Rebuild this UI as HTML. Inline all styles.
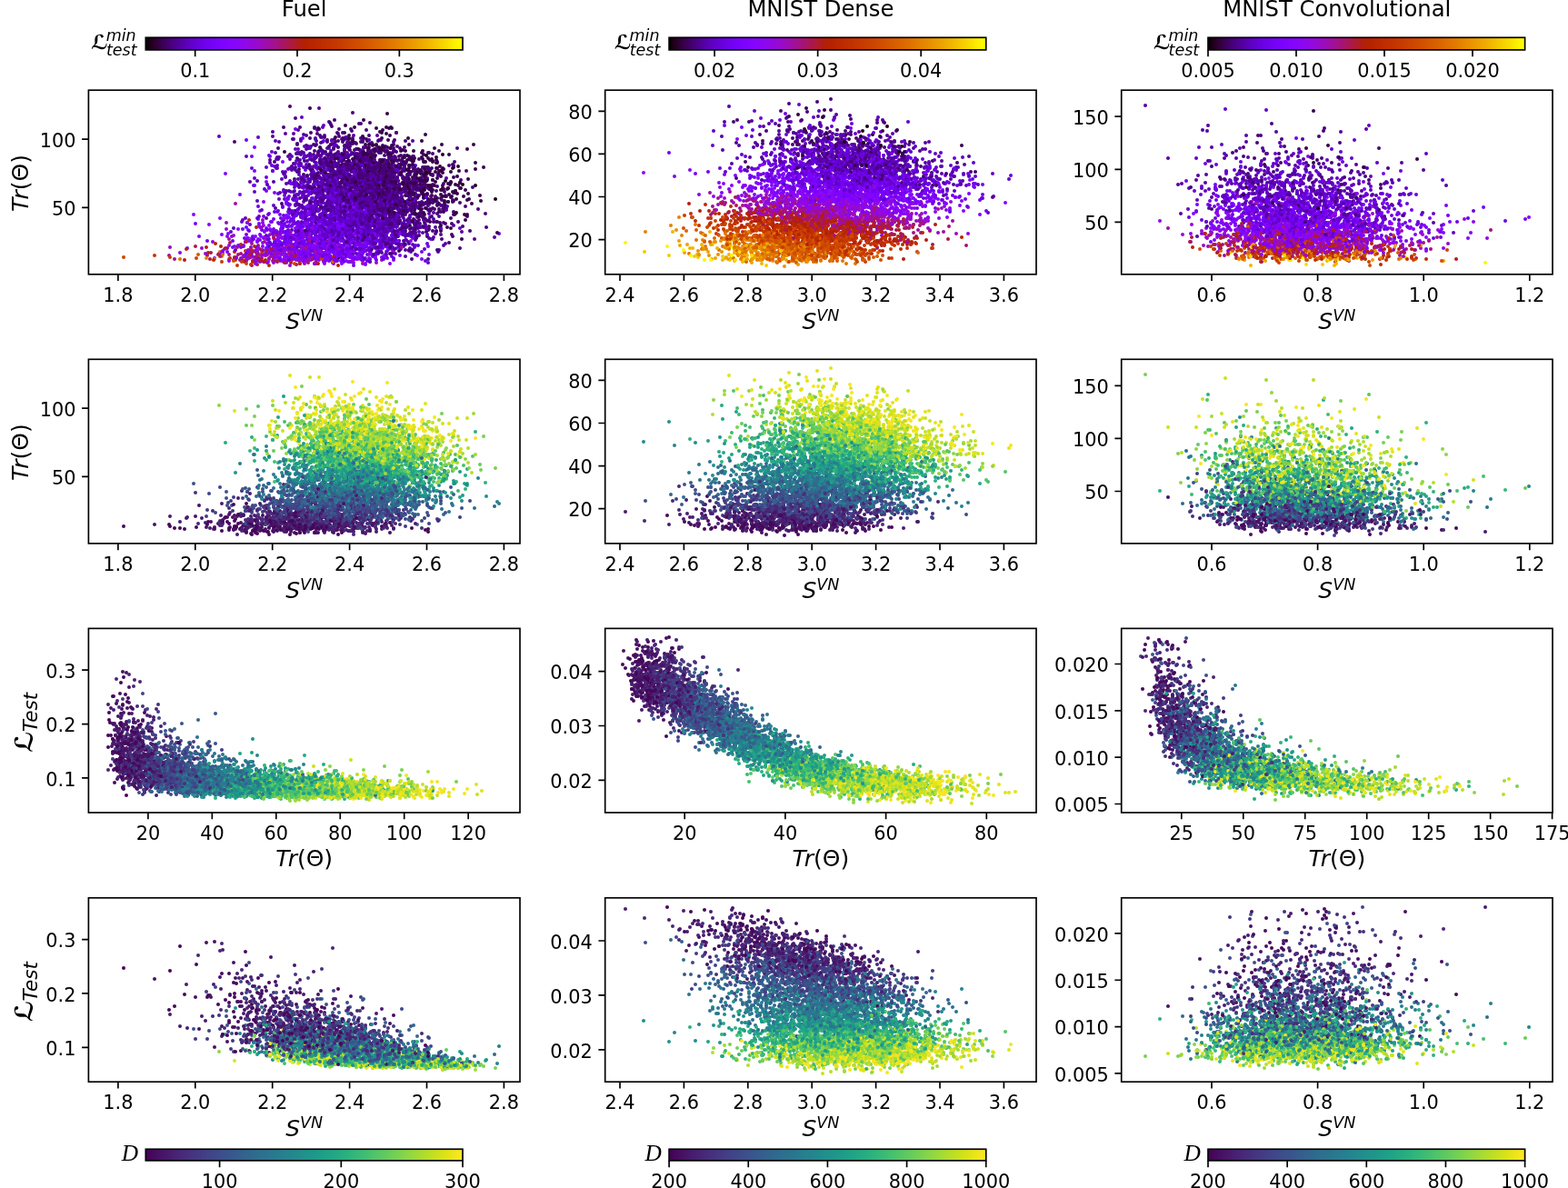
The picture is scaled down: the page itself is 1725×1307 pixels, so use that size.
<!DOCTYPE html><html><head><meta charset="utf-8"><title>Scatter grid</title><style>html,body{margin:0;padding:0;background:#fff;width:1725px;height:1307px;overflow:hidden}svg{display:block}</style></head><body><svg width="1725" height="1307" viewBox="0 0 1725 1307">
<style>text{font-family:"DejaVu Sans","Liberation Sans",sans-serif;fill:#000}path{fill:none;stroke:none}.ax rect{stroke:#000;stroke-width:1.67;fill:none}.cb rect{stroke:#000;stroke-width:1.67}.a0{marker:url(#a0)}.b0{marker:url(#b0)}.a1{marker:url(#a1)}.b1{marker:url(#b1)}.a2{marker:url(#a2)}.b2{marker:url(#b2)}.a3{marker:url(#a3)}.b3{marker:url(#b3)}.a4{marker:url(#a4)}.b4{marker:url(#b4)}.a5{marker:url(#a5)}.b5{marker:url(#b5)}.a6{marker:url(#a6)}.b6{marker:url(#b6)}.a7{marker:url(#a7)}.b7{marker:url(#b7)}.a8{marker:url(#a8)}.b8{marker:url(#b8)}.a9{marker:url(#a9)}.b9{marker:url(#b9)}.a10{marker:url(#a10)}.b10{marker:url(#b10)}.a11{marker:url(#a11)}.b11{marker:url(#b11)}.a12{marker:url(#a12)}.b12{marker:url(#b12)}.a13{marker:url(#a13)}.b13{marker:url(#b13)}.a14{marker:url(#a14)}.b14{marker:url(#b14)}.a15{marker:url(#a15)}.b15{marker:url(#b15)}.a16{marker:url(#a16)}.b16{marker:url(#b16)}.a17{marker:url(#a17)}.b17{marker:url(#b17)}.a18{marker:url(#a18)}.b18{marker:url(#b18)}.a19{marker:url(#a19)}.b19{marker:url(#b19)}.a20{marker:url(#a20)}.b20{marker:url(#b20)}.a21{marker:url(#a21)}.b21{marker:url(#b21)}.a22{marker:url(#a22)}.b22{marker:url(#b22)}.a23{marker:url(#a23)}.b23{marker:url(#b23)}.a24{marker:url(#a24)}.b24{marker:url(#b24)}.a25{marker:url(#a25)}.b25{marker:url(#b25)}.a26{marker:url(#a26)}.b26{marker:url(#b26)}.a27{marker:url(#a27)}.b27{marker:url(#b27)}.a28{marker:url(#a28)}.b28{marker:url(#b28)}.a29{marker:url(#a29)}.b29{marker:url(#b29)}.a30{marker:url(#a30)}.b30{marker:url(#b30)}.a31{marker:url(#a31)}.b31{marker:url(#b31)}</style>
<defs><marker id="a0" markerUnits="userSpaceOnUse" markerWidth="5" markerHeight="5" refX="2.5" refY="2.5" overflow="visible"><circle cx="2.5" cy="2.5" r="2.00" fill="#200019"/></marker><marker id="b0" markerUnits="userSpaceOnUse" markerWidth="5" markerHeight="5" refX="2.5" refY="2.5" overflow="visible"><circle cx="2.5" cy="2.5" r="2.00" fill="#46075a"/></marker><marker id="a1" markerUnits="userSpaceOnUse" markerWidth="5" markerHeight="5" refX="2.5" refY="2.5" overflow="visible"><circle cx="2.5" cy="2.5" r="2.00" fill="#37004a"/></marker><marker id="b1" markerUnits="userSpaceOnUse" markerWidth="5" markerHeight="5" refX="2.5" refY="2.5" overflow="visible"><circle cx="2.5" cy="2.5" r="2.00" fill="#471365"/></marker><marker id="a2" markerUnits="userSpaceOnUse" markerWidth="5" markerHeight="5" refX="2.5" refY="2.5" overflow="visible"><circle cx="2.5" cy="2.5" r="2.00" fill="#470079"/></marker><marker id="b2" markerUnits="userSpaceOnUse" markerWidth="5" markerHeight="5" refX="2.5" refY="2.5" overflow="visible"><circle cx="2.5" cy="2.5" r="2.00" fill="#481d6f"/></marker><marker id="a3" markerUnits="userSpaceOnUse" markerWidth="5" markerHeight="5" refX="2.5" refY="2.5" overflow="visible"><circle cx="2.5" cy="2.5" r="2.00" fill="#5400a2"/></marker><marker id="b3" markerUnits="userSpaceOnUse" markerWidth="5" markerHeight="5" refX="2.5" refY="2.5" overflow="visible"><circle cx="2.5" cy="2.5" r="2.00" fill="#482878"/></marker><marker id="a4" markerUnits="userSpaceOnUse" markerWidth="5" markerHeight="5" refX="2.5" refY="2.5" overflow="visible"><circle cx="2.5" cy="2.5" r="2.00" fill="#6001c6"/></marker><marker id="b4" markerUnits="userSpaceOnUse" markerWidth="5" markerHeight="5" refX="2.5" refY="2.5" overflow="visible"><circle cx="2.5" cy="2.5" r="2.00" fill="#46327e"/></marker><marker id="a5" markerUnits="userSpaceOnUse" markerWidth="5" markerHeight="5" refX="2.5" refY="2.5" overflow="visible"><circle cx="2.5" cy="2.5" r="2.00" fill="#6a01e1"/></marker><marker id="b5" markerUnits="userSpaceOnUse" markerWidth="5" markerHeight="5" refX="2.5" refY="2.5" overflow="visible"><circle cx="2.5" cy="2.5" r="2.00" fill="#443b84"/></marker><marker id="a6" markerUnits="userSpaceOnUse" markerWidth="5" markerHeight="5" refX="2.5" refY="2.5" overflow="visible"><circle cx="2.5" cy="2.5" r="2.00" fill="#7302f4"/></marker><marker id="b6" markerUnits="userSpaceOnUse" markerWidth="5" markerHeight="5" refX="2.5" refY="2.5" overflow="visible"><circle cx="2.5" cy="2.5" r="2.00" fill="#404588"/></marker><marker id="a7" markerUnits="userSpaceOnUse" markerWidth="5" markerHeight="5" refX="2.5" refY="2.5" overflow="visible"><circle cx="2.5" cy="2.5" r="2.00" fill="#7c03fe"/></marker><marker id="b7" markerUnits="userSpaceOnUse" markerWidth="5" markerHeight="5" refX="2.5" refY="2.5" overflow="visible"><circle cx="2.5" cy="2.5" r="2.00" fill="#3d4e8a"/></marker><marker id="a8" markerUnits="userSpaceOnUse" markerWidth="5" markerHeight="5" refX="2.5" refY="2.5" overflow="visible"><circle cx="2.5" cy="2.5" r="2.00" fill="#8405fe"/></marker><marker id="b8" markerUnits="userSpaceOnUse" markerWidth="5" markerHeight="5" refX="2.5" refY="2.5" overflow="visible"><circle cx="2.5" cy="2.5" r="2.00" fill="#39568c"/></marker><marker id="a9" markerUnits="userSpaceOnUse" markerWidth="5" markerHeight="5" refX="2.5" refY="2.5" overflow="visible"><circle cx="2.5" cy="2.5" r="2.00" fill="#8b07f3"/></marker><marker id="b9" markerUnits="userSpaceOnUse" markerWidth="5" markerHeight="5" refX="2.5" refY="2.5" overflow="visible"><circle cx="2.5" cy="2.5" r="2.00" fill="#355f8d"/></marker><marker id="a10" markerUnits="userSpaceOnUse" markerWidth="5" markerHeight="5" refX="2.5" refY="2.5" overflow="visible"><circle cx="2.5" cy="2.5" r="2.00" fill="#9209e0"/></marker><marker id="b10" markerUnits="userSpaceOnUse" markerWidth="5" markerHeight="5" refX="2.5" refY="2.5" overflow="visible"><circle cx="2.5" cy="2.5" r="2.00" fill="#31678e"/></marker><marker id="a11" markerUnits="userSpaceOnUse" markerWidth="5" markerHeight="5" refX="2.5" refY="2.5" overflow="visible"><circle cx="2.5" cy="2.5" r="2.00" fill="#990cc4"/></marker><marker id="b11" markerUnits="userSpaceOnUse" markerWidth="5" markerHeight="5" refX="2.5" refY="2.5" overflow="visible"><circle cx="2.5" cy="2.5" r="2.00" fill="#2e6f8e"/></marker><marker id="a12" markerUnits="userSpaceOnUse" markerWidth="5" markerHeight="5" refX="2.5" refY="2.5" overflow="visible"><circle cx="2.5" cy="2.5" r="2.00" fill="#a00fa0"/></marker><marker id="b12" markerUnits="userSpaceOnUse" markerWidth="5" markerHeight="5" refX="2.5" refY="2.5" overflow="visible"><circle cx="2.5" cy="2.5" r="2.00" fill="#2a768e"/></marker><marker id="a13" markerUnits="userSpaceOnUse" markerWidth="5" markerHeight="5" refX="2.5" refY="2.5" overflow="visible"><circle cx="2.5" cy="2.5" r="2.00" fill="#a61376"/></marker><marker id="b13" markerUnits="userSpaceOnUse" markerWidth="5" markerHeight="5" refX="2.5" refY="2.5" overflow="visible"><circle cx="2.5" cy="2.5" r="2.00" fill="#277e8e"/></marker><marker id="a14" markerUnits="userSpaceOnUse" markerWidth="5" markerHeight="5" refX="2.5" refY="2.5" overflow="visible"><circle cx="2.5" cy="2.5" r="2.00" fill="#ac1847"/></marker><marker id="b14" markerUnits="userSpaceOnUse" markerWidth="5" markerHeight="5" refX="2.5" refY="2.5" overflow="visible"><circle cx="2.5" cy="2.5" r="2.00" fill="#25858e"/></marker><marker id="a15" markerUnits="userSpaceOnUse" markerWidth="5" markerHeight="5" refX="2.5" refY="2.5" overflow="visible"><circle cx="2.5" cy="2.5" r="2.00" fill="#b21d16"/></marker><marker id="b15" markerUnits="userSpaceOnUse" markerWidth="5" markerHeight="5" refX="2.5" refY="2.5" overflow="visible"><circle cx="2.5" cy="2.5" r="2.00" fill="#228d8d"/></marker><marker id="a16" markerUnits="userSpaceOnUse" markerWidth="5" markerHeight="5" refX="2.5" refY="2.5" overflow="visible"><circle cx="2.5" cy="2.5" r="2.00" fill="#b72300"/></marker><marker id="b16" markerUnits="userSpaceOnUse" markerWidth="5" markerHeight="5" refX="2.5" refY="2.5" overflow="visible"><circle cx="2.5" cy="2.5" r="2.00" fill="#1f948c"/></marker><marker id="a17" markerUnits="userSpaceOnUse" markerWidth="5" markerHeight="5" refX="2.5" refY="2.5" overflow="visible"><circle cx="2.5" cy="2.5" r="2.00" fill="#bd2a00"/></marker><marker id="b17" markerUnits="userSpaceOnUse" markerWidth="5" markerHeight="5" refX="2.5" refY="2.5" overflow="visible"><circle cx="2.5" cy="2.5" r="2.00" fill="#1e9c89"/></marker><marker id="a18" markerUnits="userSpaceOnUse" markerWidth="5" markerHeight="5" refX="2.5" refY="2.5" overflow="visible"><circle cx="2.5" cy="2.5" r="2.00" fill="#c23200"/></marker><marker id="b18" markerUnits="userSpaceOnUse" markerWidth="5" markerHeight="5" refX="2.5" refY="2.5" overflow="visible"><circle cx="2.5" cy="2.5" r="2.00" fill="#20a386"/></marker><marker id="a19" markerUnits="userSpaceOnUse" markerWidth="5" markerHeight="5" refX="2.5" refY="2.5" overflow="visible"><circle cx="2.5" cy="2.5" r="2.00" fill="#c73a00"/></marker><marker id="b19" markerUnits="userSpaceOnUse" markerWidth="5" markerHeight="5" refX="2.5" refY="2.5" overflow="visible"><circle cx="2.5" cy="2.5" r="2.00" fill="#25ab82"/></marker><marker id="a20" markerUnits="userSpaceOnUse" markerWidth="5" markerHeight="5" refX="2.5" refY="2.5" overflow="visible"><circle cx="2.5" cy="2.5" r="2.00" fill="#cc4400"/></marker><marker id="b20" markerUnits="userSpaceOnUse" markerWidth="5" markerHeight="5" refX="2.5" refY="2.5" overflow="visible"><circle cx="2.5" cy="2.5" r="2.00" fill="#2db27d"/></marker><marker id="a21" markerUnits="userSpaceOnUse" markerWidth="5" markerHeight="5" refX="2.5" refY="2.5" overflow="visible"><circle cx="2.5" cy="2.5" r="2.00" fill="#d14e00"/></marker><marker id="b21" markerUnits="userSpaceOnUse" markerWidth="5" markerHeight="5" refX="2.5" refY="2.5" overflow="visible"><circle cx="2.5" cy="2.5" r="2.00" fill="#38b977"/></marker><marker id="a22" markerUnits="userSpaceOnUse" markerWidth="5" markerHeight="5" refX="2.5" refY="2.5" overflow="visible"><circle cx="2.5" cy="2.5" r="2.00" fill="#d65a00"/></marker><marker id="b22" markerUnits="userSpaceOnUse" markerWidth="5" markerHeight="5" refX="2.5" refY="2.5" overflow="visible"><circle cx="2.5" cy="2.5" r="2.00" fill="#46c06f"/></marker><marker id="a23" markerUnits="userSpaceOnUse" markerWidth="5" markerHeight="5" refX="2.5" refY="2.5" overflow="visible"><circle cx="2.5" cy="2.5" r="2.00" fill="#db6600"/></marker><marker id="b23" markerUnits="userSpaceOnUse" markerWidth="5" markerHeight="5" refX="2.5" refY="2.5" overflow="visible"><circle cx="2.5" cy="2.5" r="2.00" fill="#56c667"/></marker><marker id="a24" markerUnits="userSpaceOnUse" markerWidth="5" markerHeight="5" refX="2.5" refY="2.5" overflow="visible"><circle cx="2.5" cy="2.5" r="2.00" fill="#e07400"/></marker><marker id="b24" markerUnits="userSpaceOnUse" markerWidth="5" markerHeight="5" refX="2.5" refY="2.5" overflow="visible"><circle cx="2.5" cy="2.5" r="2.00" fill="#67cc5c"/></marker><marker id="a25" markerUnits="userSpaceOnUse" markerWidth="5" markerHeight="5" refX="2.5" refY="2.5" overflow="visible"><circle cx="2.5" cy="2.5" r="2.00" fill="#e48300"/></marker><marker id="b25" markerUnits="userSpaceOnUse" markerWidth="5" markerHeight="5" refX="2.5" refY="2.5" overflow="visible"><circle cx="2.5" cy="2.5" r="2.00" fill="#7ad151"/></marker><marker id="a26" markerUnits="userSpaceOnUse" markerWidth="5" markerHeight="5" refX="2.5" refY="2.5" overflow="visible"><circle cx="2.5" cy="2.5" r="2.00" fill="#e99300"/></marker><marker id="b26" markerUnits="userSpaceOnUse" markerWidth="5" markerHeight="5" refX="2.5" refY="2.5" overflow="visible"><circle cx="2.5" cy="2.5" r="2.00" fill="#8ed645"/></marker><marker id="a27" markerUnits="userSpaceOnUse" markerWidth="5" markerHeight="5" refX="2.5" refY="2.5" overflow="visible"><circle cx="2.5" cy="2.5" r="2.00" fill="#eda400"/></marker><marker id="b27" markerUnits="userSpaceOnUse" markerWidth="5" markerHeight="5" refX="2.5" refY="2.5" overflow="visible"><circle cx="2.5" cy="2.5" r="2.00" fill="#a2da37"/></marker><marker id="a28" markerUnits="userSpaceOnUse" markerWidth="5" markerHeight="5" refX="2.5" refY="2.5" overflow="visible"><circle cx="2.5" cy="2.5" r="2.00" fill="#f1b600"/></marker><marker id="b28" markerUnits="userSpaceOnUse" markerWidth="5" markerHeight="5" refX="2.5" refY="2.5" overflow="visible"><circle cx="2.5" cy="2.5" r="2.00" fill="#b8de29"/></marker><marker id="a29" markerUnits="userSpaceOnUse" markerWidth="5" markerHeight="5" refX="2.5" refY="2.5" overflow="visible"><circle cx="2.5" cy="2.5" r="2.00" fill="#f5ca00"/></marker><marker id="b29" markerUnits="userSpaceOnUse" markerWidth="5" markerHeight="5" refX="2.5" refY="2.5" overflow="visible"><circle cx="2.5" cy="2.5" r="2.00" fill="#cde11d"/></marker><marker id="a30" markerUnits="userSpaceOnUse" markerWidth="5" markerHeight="5" refX="2.5" refY="2.5" overflow="visible"><circle cx="2.5" cy="2.5" r="2.00" fill="#f9df00"/></marker><marker id="b30" markerUnits="userSpaceOnUse" markerWidth="5" markerHeight="5" refX="2.5" refY="2.5" overflow="visible"><circle cx="2.5" cy="2.5" r="2.00" fill="#e2e418"/></marker><marker id="a31" markerUnits="userSpaceOnUse" markerWidth="5" markerHeight="5" refX="2.5" refY="2.5" overflow="visible"><circle cx="2.5" cy="2.5" r="2.00" fill="#fdf600"/></marker><marker id="b31" markerUnits="userSpaceOnUse" markerWidth="5" markerHeight="5" refX="2.5" refY="2.5" overflow="visible"><circle cx="2.5" cy="2.5" r="2.00" fill="#f6e620"/></marker><linearGradient id="gg"><stop offset="0.0000" stop-color="#000000"/><stop offset="0.0156" stop-color="#200019"/><stop offset="0.0312" stop-color="#2d0032"/><stop offset="0.0469" stop-color="#37004a"/><stop offset="0.0625" stop-color="#400062"/><stop offset="0.0781" stop-color="#470079"/><stop offset="0.0938" stop-color="#4e008e"/><stop offset="0.1094" stop-color="#5400a2"/><stop offset="0.1250" stop-color="#5a01b5"/><stop offset="0.1406" stop-color="#6001c6"/><stop offset="0.1562" stop-color="#6501d5"/><stop offset="0.1719" stop-color="#6a01e1"/><stop offset="0.1875" stop-color="#6f02ec"/><stop offset="0.2031" stop-color="#7302f4"/><stop offset="0.2188" stop-color="#7703fa"/><stop offset="0.2344" stop-color="#7c03fe"/><stop offset="0.2500" stop-color="#8004ff"/><stop offset="0.2656" stop-color="#8405fe"/><stop offset="0.2812" stop-color="#8706fa"/><stop offset="0.2969" stop-color="#8b07f3"/><stop offset="0.3125" stop-color="#8f08eb"/><stop offset="0.3281" stop-color="#9209e0"/><stop offset="0.3438" stop-color="#960ad3"/><stop offset="0.3594" stop-color="#990cc4"/><stop offset="0.3750" stop-color="#9c0eb3"/><stop offset="0.3906" stop-color="#a00fa0"/><stop offset="0.4062" stop-color="#a3118c"/><stop offset="0.4219" stop-color="#a61376"/><stop offset="0.4375" stop-color="#a9165f"/><stop offset="0.4531" stop-color="#ac1847"/><stop offset="0.4688" stop-color="#af1b2f"/><stop offset="0.4844" stop-color="#b21d16"/><stop offset="0.5000" stop-color="#b52000"/><stop offset="0.5156" stop-color="#b72300"/><stop offset="0.5312" stop-color="#ba2700"/><stop offset="0.5469" stop-color="#bd2a00"/><stop offset="0.5625" stop-color="#c02e00"/><stop offset="0.5781" stop-color="#c23200"/><stop offset="0.5938" stop-color="#c53600"/><stop offset="0.6094" stop-color="#c73a00"/><stop offset="0.6250" stop-color="#ca3f00"/><stop offset="0.6406" stop-color="#cc4400"/><stop offset="0.6562" stop-color="#cf4900"/><stop offset="0.6719" stop-color="#d14e00"/><stop offset="0.6875" stop-color="#d45400"/><stop offset="0.7031" stop-color="#d65a00"/><stop offset="0.7188" stop-color="#d96000"/><stop offset="0.7344" stop-color="#db6600"/><stop offset="0.7500" stop-color="#dd6d00"/><stop offset="0.7656" stop-color="#e07400"/><stop offset="0.7812" stop-color="#e27b00"/><stop offset="0.7969" stop-color="#e48300"/><stop offset="0.8125" stop-color="#e68a00"/><stop offset="0.8281" stop-color="#e99300"/><stop offset="0.8438" stop-color="#eb9b00"/><stop offset="0.8594" stop-color="#eda400"/><stop offset="0.8750" stop-color="#efad00"/><stop offset="0.8906" stop-color="#f1b600"/><stop offset="0.9062" stop-color="#f3c000"/><stop offset="0.9219" stop-color="#f5ca00"/><stop offset="0.9375" stop-color="#f7d500"/><stop offset="0.9531" stop-color="#f9df00"/><stop offset="0.9688" stop-color="#fbeb00"/><stop offset="0.9844" stop-color="#fdf600"/><stop offset="1.0000" stop-color="#ffff00"/></linearGradient><linearGradient id="gv"><stop offset="0.0000" stop-color="#440154"/><stop offset="0.0156" stop-color="#46075a"/><stop offset="0.0312" stop-color="#470d60"/><stop offset="0.0469" stop-color="#471365"/><stop offset="0.0625" stop-color="#48186a"/><stop offset="0.0781" stop-color="#481d6f"/><stop offset="0.0938" stop-color="#482374"/><stop offset="0.1094" stop-color="#482878"/><stop offset="0.1250" stop-color="#472d7b"/><stop offset="0.1406" stop-color="#46327e"/><stop offset="0.1562" stop-color="#453781"/><stop offset="0.1719" stop-color="#443b84"/><stop offset="0.1875" stop-color="#424086"/><stop offset="0.2031" stop-color="#404588"/><stop offset="0.2188" stop-color="#3e4989"/><stop offset="0.2344" stop-color="#3d4e8a"/><stop offset="0.2500" stop-color="#3b528b"/><stop offset="0.2656" stop-color="#39568c"/><stop offset="0.2812" stop-color="#375b8d"/><stop offset="0.2969" stop-color="#355f8d"/><stop offset="0.3125" stop-color="#33638d"/><stop offset="0.3281" stop-color="#31678e"/><stop offset="0.3438" stop-color="#2f6b8e"/><stop offset="0.3594" stop-color="#2e6f8e"/><stop offset="0.3750" stop-color="#2c728e"/><stop offset="0.3906" stop-color="#2a768e"/><stop offset="0.4062" stop-color="#297a8e"/><stop offset="0.4219" stop-color="#277e8e"/><stop offset="0.4375" stop-color="#26828e"/><stop offset="0.4531" stop-color="#25858e"/><stop offset="0.4688" stop-color="#23898e"/><stop offset="0.4844" stop-color="#228d8d"/><stop offset="0.5000" stop-color="#21918c"/><stop offset="0.5156" stop-color="#1f948c"/><stop offset="0.5312" stop-color="#1f988b"/><stop offset="0.5469" stop-color="#1e9c89"/><stop offset="0.5625" stop-color="#1fa088"/><stop offset="0.5781" stop-color="#20a386"/><stop offset="0.5938" stop-color="#22a785"/><stop offset="0.6094" stop-color="#25ab82"/><stop offset="0.6250" stop-color="#28ae80"/><stop offset="0.6406" stop-color="#2db27d"/><stop offset="0.6562" stop-color="#32b67a"/><stop offset="0.6719" stop-color="#38b977"/><stop offset="0.6875" stop-color="#3fbc73"/><stop offset="0.7031" stop-color="#46c06f"/><stop offset="0.7188" stop-color="#4ec36b"/><stop offset="0.7344" stop-color="#56c667"/><stop offset="0.7500" stop-color="#5ec962"/><stop offset="0.7656" stop-color="#67cc5c"/><stop offset="0.7812" stop-color="#70cf57"/><stop offset="0.7969" stop-color="#7ad151"/><stop offset="0.8125" stop-color="#84d44b"/><stop offset="0.8281" stop-color="#8ed645"/><stop offset="0.8438" stop-color="#98d83e"/><stop offset="0.8594" stop-color="#a2da37"/><stop offset="0.8750" stop-color="#addc30"/><stop offset="0.8906" stop-color="#b8de29"/><stop offset="0.9062" stop-color="#c2df23"/><stop offset="0.9219" stop-color="#cde11d"/><stop offset="0.9375" stop-color="#d8e219"/><stop offset="0.9531" stop-color="#e2e418"/><stop offset="0.9688" stop-color="#ece51b"/><stop offset="0.9844" stop-color="#f6e620"/><stop offset="1.0000" stop-color="#fde725"/></linearGradient><clipPath id="c00"><rect x="97.4" y="99.2" width="474.6" height="202.6"/></clipPath><clipPath id="c10"><rect x="97.4" y="395.3" width="474.6" height="202.6"/></clipPath><clipPath id="c20"><rect x="97.4" y="691.4" width="474.6" height="202.6"/></clipPath><clipPath id="c30"><rect x="97.4" y="987.8" width="474.6" height="202.4"/></clipPath><clipPath id="c01"><rect x="665.7" y="99.2" width="474.3" height="202.6"/></clipPath><clipPath id="c11"><rect x="665.7" y="395.3" width="474.3" height="202.6"/></clipPath><clipPath id="c21"><rect x="665.7" y="691.4" width="474.3" height="202.6"/></clipPath><clipPath id="c31"><rect x="665.7" y="987.8" width="474.3" height="202.4"/></clipPath><clipPath id="c02"><rect x="1233.7" y="99.2" width="474.3" height="202.6"/></clipPath><clipPath id="c12"><rect x="1233.7" y="395.3" width="474.3" height="202.6"/></clipPath><clipPath id="c22"><rect x="1233.7" y="691.4" width="474.3" height="202.6"/></clipPath><clipPath id="c32"><rect x="1233.7" y="987.8" width="474.3" height="202.4"/></clipPath></defs>
<rect width="1725" height="1307" fill="#fff"/>
<g clip-path="url(#c00)"><path class="a0" d="M487 207"/>
<path class="a1" d="M421 143l-7-2-34-3 1 13 18-1 5 5 14-10 9 9 22-2 15 3-14 4-9 7-8 0-7-4-3 4-15-8-16 6-4-6-9 7 0 5 20 9 1-5 8-5 2 1 4 9 18-11 11 6 5-3 24-3 9 10 7 8-15 2-2-1-3-2-1 1-16 3-9-8-11 10-10-2-44-8-2 1-8 6 7 7 8-1 2 7 15-3 22-3 18 8 10-3 5-5 1 2 7-1 23-2 21 7-19 3-12 7 0-6-3 3-4-2-17 7-1-1 21 14 31-7-28 12-1 1-34 7-91 0 66 2 25 5 34-2 19 6-35 6"/>
<path class="a2" d="M407 135l-12 1-30 3 7 8 10 6 54-7-3 13-4 4-5-2-10-2-7-1-4 4-6-6-5 2-10 1 0 0-22-3-23 4-31 3 52 15 23-5 2 0 1-2 13-2 5 7 2-1 19-4 13 5 6 2 5 0 3-3 16-5 34 8-27 8-28-3-20 4-1-2-3 0-8 1-9-4-4 1-1 6 0 2-9-4-2-3 0 1-2-3-8 2-1-1 0 7-5-10-2 2-6 0-5-1-12 1-20 7-4-9-23 8 23 13 1 2 14-9 64 1 2 8 9-11 10 5 4-5 4 2 7 5 1-7 8 4 1-2 8 2 20-4 0 11 14 12-1-4-19 2-1 1-4-2-5-3-2 0-10-2-5 1-10 6-45-8-8 4-14-1-7 1-4 3-30 13 27-6 22-4 57 1 11 2 24 5 60 6-12 6-15 0-10-5-16-1-26-2-5 8-7 1-34 1-63 11 72-1 15-8 11 7 17 4 5-1 7-1 7 0 9-5 16 2 38 4-37 10-22 3-43-2-25-3-18 0 29 6"/>
<path class="a3" d="M346 140l19 14 19 10-5-3-12 3-35 3 9 5 5 1 30 0 69 15-10 2-4 1-3-9-20 8-10 0-19-8-12 8-6-5-11 5-1 1-1-9-6 2-11-4-1 0-16 15 4 6 15-6 11 1 1 7 1-3 15-8 22 1 15 8 2-3 4-5 39 3 15 3 9 2-81 13-6-8-2 7-24-7-13-1-26 5-7 2 15 6 16 8 2-5 13-3 21 1 21 6 18-5 2 3 1 2 31-4 16 5 2-8-12 17-3 2-15 1-4-5-10 6-15-4-28 2-17-6-8 7-18-4-43 6 43 6 33 0 52-5 2-1 11 9 16-9 6 11 7-1 5-3 9-6 22 7-34 8-19 1-1-2-36 5-23 3-45-11 70 19 10-4 25 2 0 6 4-7 33 7-31 2"/>
<path class="a4" d="M303 155l77-4-10 9-3 3-46 9 18-1 8 2 44-4 6 10-25 6-3 4-16-5-10 1 0 1-12-4-12 3-2 1-24-2 26 15 3 3 29-8 5 5 7 0 30-7 15 3-22 12-10 8-59 4 24 5 7-7 11 0 60 4 28 1 1 9-73 4-32 4-8-5-8-2 0-1 21 9 26 5 2-1 10-4 4 0 45 0 0 0 9 18-20 4-66 1 27 8 1 3 9-1 8-5 8 2 7 2 42-2-28 8-6-2-22 4-115-4 182 13"/>
<path class="a5" d="M405 186l-106-4 68 14-21 16-4-5-29 8-2 12 32-1 42 6-17 1-43 1-42 6 26 6 4 0 38-2 11 7 15-11 32 8 65 15-51-7-36-1-17 1-10 4-4 0-3-8-43 2-22-1 5 20 42-8 5 2 44 5 19-1 0 0 12-6 24 7 7-8 22 23-37-5-1-3-14 0-38 8-25-4-15-1"/>
<path class="a6" d="M349 185l-4 5-19 11-11 21 30 5 35 7-22 5-6-2-35-4-12 0-90 13 86-5 6 5 2-6 3 8 6 0 2-6 43 9 49 1-78 2-21 9-46-11-17 21 36-9 26 4 28 1 16 4 15-9 4 1 45 6 18-2 18 2 15 0-51 12-19 1-23 4"/>
<path class="a7" d="M280 162l46 52-8 12 14 0 12 12-16-7-20 5 101 11 33 3-80 2-4 11-28 0-40-1-13 0 12 13 19-7 12-3 9 4 34 2 0-2 40 2 0-1 61 15-62-9-25 9-85-4 110 10"/>
<path class="a8" d="M348 227l-118 20 120-5 35 8-50 4-2 9-15-2-67-4-32 3-13 13 41 1 30-9 17 3 10-3 24 6 14 1 60 3 25-8-1 17-9-8-61 10-10-8-13 5-56-2 13 7"/>
<path class="a9" d="M290 222l28 27 31 6-52 12 31 3 15-5 90 21-31-2-72-8-39 4"/>
<path class="a10" d="M222 273l12-7 55 1 100 11-107 0-24 6 90 5"/>
<path class="a11" d="M289 242l35 3-22 18-34 8 115-1 10 15-45 1-107-7 116 11 29-2"/>
<path class="a12" d="M297 258l41 12 16 14-39-3-9 3-10 0 50 6 37-2"/>
<path class="a13" d="M277 268l82-3-18 15-60-3"/>
<path class="a14" d="M248 273l5-6 33 7 31 0-38 13-21-4-27 2-3-4"/>
<path class="a15" d="M334 285l-46-1-3 0-19 2-8-9-5 7-24-6 54 13"/>
<path class="a16" d="M319 280"/>
<path class="a17" d="M274 242"/>
<path class="a18" d="M263 270l24 15-17-9-3 7-8 3"/>
<path class="a19" d="M261 292"/>
<path class="a22" d="M298 282"/>
<path class="a24" d="M244 282"/>
<path class="a23" d="M270 286l-28-9"/>
<path class="a19" d="M244 288"/>
<path class="a17" d="M296 292"/>
<path class="a16" d="M205 274"/>
<path class="a15" d="M353 280l-33 9"/>
<path class="a14" d="M399 265l-30 22-2-3-28-3-39 6-30-7"/>
<path class="a13" d="M284 270l52 16-25-10-3 3-56 1 63 9"/>
<path class="a12" d="M340 286l-2-7-37 8-18-10-5 10-14-1-78-5 162 9"/>
<path class="a11" d="M322 259l-13-5-8 0 41 10-59 23-9-3 92 4 1 2"/>
<path class="a10" d="M317 239l13 23-16-3 28 27-47-10 6 13 18 3"/>
<path class="a9" d="M289 245l85 6 50 4-87-2-41 10-26 3 38 5 17-3 27 4 12-3 11 13-9 4-58-3-21 2-6 5"/>
<path class="a8" d="M296 207l21 18 93 14-74 0-50-7 27 8 8 19-8 2-19 7 25 7 6-4 27 0 5-1 33 5 18 1-15 9-17 2-2-7-58 7-41-7"/>
<path class="a7" d="M280 188l-32 3 107 20-91 3 102 2 8 20-47 10 46 17-42-10-7 10-19-4-19-1-8 2-5-7 42 16 6 4 5 2 9-4 19-6 5 10 22-8 32 5-33 11-5 0 0-5-8-1-86 10 24 1 102 0"/>
<path class="a6" d="M325 142l9 65-14 4 2 8-24 25 23 5 31-1 49-5 53 19-23-3-53-1-10 5-11-10-41 6-51 13 17 0 20-6 20 5 3 2 16-4 35 1 27-4 14 5 13-1 11-1-71 18-27-11-30 10-8-7 41 11"/>
<path class="a5" d="M297 172l7 3 44 4 3 5-9 1-28 4 54 14-9 7-10-2-65 19 41-9 12 0 40 1 4 7 33 12-10 1-10-2-9-2-3 1-27-6-3 7-6-3-11-6-6 7-17 2-1-9 44 22 18-6 85 15-3-2-86 5-20-1-6 1-2-1-1 1-26-7-40-1 33 18 6-6 19-1 43 9 64-3 3-2-17 14-12-2-18-2-7 5-24-7-27 0-17 0-23 0"/>
<path class="a4" d="M355 140l7 23-34 1-57 8 81 6 6-10 99 14-70 2-31 4-21 11 10 4 39-11 5 8 13-5 1 18-24-1-10 2-2-4-13 4-4-7-26-1 23 14 9-4 20 6 36-1 27 5 19-10 14 9-15 4-15 6-3 0-19 3-13 1-9-5-3 1-26-7-11 7-5 3-17-6-16 2-53 8 57 4 17-4 34 1 0-1 13 7 2-9 2 9 1 2 48 6-3-1-12 0-10 0 0 0-2 2-4-4-59 9-10-8-23 0-4 10 6 3 15 0 17 2 1-1 1-4 7 1 20 7 4-5 16-2 21-2 45 10-87 8"/>
<path class="a3" d="M323 147l94 7-12 13-25-7-12 1-8 2-5 3-2-9-14 6 6 7 9 6 1 3 15-5 3 3 1 0 4-2 7 4 2-11 22 9 14-1 16 14-13-8-4 5-4-7-20 8-5-6-8 5-3-7-8 4-11-1-18 7-20-6-11 10 14 3 14-5 3 5 4 4 11 2 2-4 8 4 4 0 3-11 4 3 3 4 3 1 9-3 9 3 19-8 10 4 31 2-8 15-40-4-6-3-6-2-9 9-3-1-9 1-3-2-4 2-1-3-3 3-6-4-19 2-3-5-19 15 1 4 23 0 6-6 2 8 10-7 11-3 3 8 23 2 5-6 8 5 7-2 1-4 8-3 1-1 52 14-30 6-14 2-15-3-4-7-19 4-3 7-7 0-17-5-2 0-2 3-10-2-31-1 23 17 5-6 16-2 1 2 26-3 23 1 2 2 3-5 5 9 20-6 28 15-14-5-31-1-17 2-18 7-7-9-26 7-2-6-3 5-10 5 16 6 115 1 2-2-19 17-14-5-73-2"/>
<path class="a2" d="M403 143l-17-1-56-2 24 11 34 3 11 1 22 5-11 5-1-8-1 10-10-1-13-9 0 4-3 1 0-5-5-1-8 0-5 3 0 0-37-1-69-2 44 22 4-3 23-7 6 9 12-3 8-6 8 10 1-9 9 6 3 3 14-8 0 4 1-2 8 0 9 3 1-4 9 7 1-10 10 6 2 3 23-5 40 10-12 9-2-6-20 1-23-1-11-2-3 8-13-2 0-6-4 1-1-2-10 8-3-6-13 0-3 3-23 3 12 11 24-3 1-3 2-3 5 9 2-6 1 5 4-8 5 1 1 2 0 8 3-7 2-4 4 9 6 2 0-7 7-4 3 10 7 0 2-6 4-4 8 0 0 4 5 2 2 3 5 2 12 7-13-4-2 7-4-6-3 0-10 8 0 0-2-8-9-3-10 0-1 5-3 6-1-7-1 3-11-4-35 0-31 4-14 7 22-1 55 0 2 4 10 4 2-7 9-1 8 0 3 5 2-2 7-1 8 4 4 2 4 0 32-3 36 13-20 3-31-8-7-1-11 6-4-6 0 6-5-1-1 1 0 0-10-6-12 9-2-2-2 1-16-2-89-3 45 18 38 1 5-9 8 7 7-2 2-7 8 5 3-2 3 5 14 1 3-3 17-2 19-4 1 18-12-6-24 7-5-4-10-1-41 2-13-1 8 19 15-2 38 13"/>
<path class="a1" d="M390 140l-40 1 29 5 5 6 16 0 20 0 0-6 101 13-56 7-51-6-4 0-5 7-77 9 35-7 19 4 13 4 2-6 12 7 9 1 8-2 13-1 9 0 6-1 2-1 67 5-25 6-27-1-3 5-1-5-17 5-4-3-7-5-20 1-18 1-1 4-10 3-29 11 51-4 12 4 1-3 10 4 20-2 1-4 1 5 5 2 5-4 1-3 47 1 0 16-11-9-3 6 0 0-7 4-1-7-18 8-5-1-19-6-10 2-10 3-3 0-13-7-3-2-4 1-15 9-18-2 56 12 11-7 10 3 19-1 22 3 18 14-9-2-19-1-22-4-5 2-8 2"/>
<path class="a0" d="M545 219"/>
<path class="a0" d="M490 199l33 5"/>
<path class="a1" d="M426 125l2 16-28-9 86 27-8 4-35 2-17 1-9 1-52 11 38-1 5 2 36-1 10 0 11-3 1 3 14-2 43 10-36 4-2-2-22 3-2-2-5-5-8 3-5-1-8-3-11-3-2 7-5 2-7-4-3-2-21-3-2 6-45 14 27-7 41 9 14-4 2-6 3 8 7-4 11-1 5 2 17-5 3 7 12-3 2-4 12 11 6 0 27 12-21-8-8 5-12-4-24 1 0-1-7 6-5-9-6 1-9 9-1-1-13 0-1-2-6-8-5 7 40 14 1-5 5-2 6 8 9-6 8-2 2 7 4-7 8 4 3-5 3 4 20 3 10-3-63 13-7 2-29-5-32 2 30 9 56 8-112 34"/>
<path class="a2" d="M364 137l-52 3 30 6 7 1 11 7 12 1 31-2 33 14-2-1-1-10-11 6-31-5-12 3 0 7-7 0-4-7-1-2 0 5-9 4-3-11-2 8-5-5-21 0 0 15 16 2 6-5 1-2 3 2 17-2 4 1 0 1 5 0 3 2 7-4 0 7 5-1 3 0 6-2 9 6 0-3 13 1 9-5 3 5 4-6 4 0 16 4 10-7 5 1-5 17-2-2-27 5-2-5-10 5-4-3-1-6-3 9-10 2-13-9-2 5-2-2-5-4-2 4-1-2 0 6-5-7-2-2-5 6-6 4-3-5-9 4-2-6-15 14 9-4 3 3 4 0 8-4 14 8 7-5 6-2 1 0 0 0 3 7 1-4 6-3 1 6 1-6 0 7 3-7 3 5 6 4 3-5 18-2 6 6 4 0 2-6 2-3 3 6 11 1 3-5 1-2 51 14-53-2-3 9-14-5-11-2-3-1-5 10-6-2-1-1-5-2-4 1-1 4-1-3 0 0-7-7 0 1-2-2-3 5-3 4-3 1-12-1-15-4-22-3 0 16 14 0 18-5 0 4 0 0 36 4 17-5 0 6 2-2 1-6 7 3 10 5 8-8 2 5 7 0 0-6 7 2 6 7 5-6 1 6 25 1-21 3-22-1-16-1-7 5-12-4-1 9-3-4-9 3-15-3-13 1-1-2-18 1-7-2 20 10 15-1 32 2 4-1 22 9 6-1 24-4-4 17-7-6-8-4-15 2-2 0-3-3-9 1-15-1-11 1-26 12 48 2 56 0-62 11"/>
<path class="a3" d="M406 154l48 1-49 10-26-1-37-3-5 3-30 9 12-3 9-1 2 7 7-4 4 3 4 1 3-3 2-3 3 2 2-3 4 9 0-2 2-2 3-3 18-3 11 1 8 2 25 6 2-3-4 15-20-9-2 10-4-10-6 5-10-4-2 6-2-4-3 8 0-7-2 4-7-7-4 1-19 7-3-4 0-4-15 6-4-4 10 17 1 1 19-7 6 2 4-3 3 2 8 8 18-5 0 4 10-10 2 11 36-4 6 1 2-1 3-2 5 3 16-4 21 0-36 8-21 2-18 2-1 0-2 5-2 1-2 1-6-2-13-3-1 3-5-5-7-2-6 8-4-7-2 0-4 7-1-9-5 7-7 1-6-1-4-5-26 2 14 9 4 8 7-6 6 2 0-4 14-2 2 9 6-1 10-6 7 9 0-2 9-9 1 0 1 11 9-9 2 8 2-1 0-2 11-4 13 8 4-4 2-2 3 4 33 10-28-6-11 0-14 0-22 1 0 7-2-4 0-5 0 2-8 2-1 2-26 5-2-1-2-5-11 1-2-3-10 6-21 5 18 8 18-9 2 1 2 1 21 3 4-4 8 1 36 2 2 0 1 1 1-5 4 10 14-3 1-8 1 3 1 8 1-4 6-3 91 17-85-1-3-3-7 2-11 1-1-6-12-2-7 6-76 1-21-6-25 18 35 1 89-7 7-1 2 5 10 1 10-4 3 8 30 3-75 8-7-8"/>
<path class="a4" d="M284 151l47 4 34 0 3 5-43 4 9 10 34-2 6-1 19 5 36-8-84 15-7 1-28 13 19-5 6 6 14 5 4-3 8-3 0 4 6-1 7 1 5-9 2 1 45 5 15 15-25-5-14 3-5-6-7 9-1-10-15 11-11-5-19 0-5 5 0-4-7 1 0-6-15 18 30-1 3-1 3 5 2-7 3 4 2-7 6 0 23 7 0 1 17-3 1 1 0-5 6 5 78 8-40 8-7-4-7 0-1 0-16 0-12-1-18-2-48 1-2-3-9 9-74 12 81-7 0-2 1 4 8 3 15-6 1 5 8-7 10 5 1-3 1-1 2 6 5 0 5 2 12 0 2-4 4 5 6-6 2-3 26 8 3-5 6 1 50 5-54 9-18-5-2 8-10-1-3-3-17-6-8 6-4-2-4-4-1-1-12 5-4 5-6-10-10 11-8-11-11 9-80-6 74 13 8 1 13 5 1-6 18 1 7 4 3 2 18-8 6 2 16-2 17-2 4 0 2 9 10-1 3-4 2 3-21 7-24 1-13 2-26-4-5 0-74 1"/>
<path class="a5" d="M381 191l-24-1-55-7-2 5-23-3 82 7 9 2 50 6-46 11-39 4-5-1-15 5 5-3 15 1 29 1 1 6 0-7 10 7 24 2 61 1-63 5-9 2-4-4-7 1-1-1-1-2-16 6-29-4-6 7-3 7 12 5 6-7 1 1 29 4 7 0 1 3 26-6 0-4 12 11 36-2 100 8-115 3-9-1-5 0-12-2-40 2-5-3-22 3-44 8 2 2 3-2 12-1 29 1 12-1 0 7 1 0 2 0 6-5 3-4 4 3 23-3 6 1 12 5 17 1 5-4 23 3-32 7-21 10-10-3-17-1-9-3-12 1-49-5-71 8"/>
<path class="a6" d="M277 172l182 43-89-7-40-4-4 0-14 7 81 17-2 8-120 14 14-4 44 0 6-1 17-1 17 1 4 6 31-7 27 0 9-2-16 17-4-7-87 8-13 3-4-1-2-1-5-6-1 6-4-7-32 8-16 3 50-1 4 6 51 5 0-1 13 0 4-9 1 5 8 2 19 1 5-9 1 6 60 10-8-3-55 3-10 7-2-10-8 8-27 2-56 0-1-10-22 0 51 11 51 0"/>
<path class="a7" d="M351 195l15 31 34 12-67-3-15 4 81 10-13 14-30-7-11-1-44 1-30 7-16-3-11-2 53 16 17-10 12 2 1 6 4-5 1 3 1-3 6-2 8 7 1 1 1-2 69-2 4 13-9 2-15 2-45-7-17 6-8-8-3 2-2-3-78 2 142 10"/>
<path class="a8" d="M340 233l-25 4 0 12 87-2-47 7-20 3-6-1-48 4-19-8-6 20 49-8 1 4 6 5 24-4 18 3 17-3 12 2 4-4-51 20-1-7-3 6-4-10-34 4 0 9 95 0"/>
<path class="a9" d="M312 240l21 23-3-4-24 3-22 10 16 1 12 0 0 0 74 6-16-3-4 10-7 0-82-8"/>
<path class="a10" d="M323 244l55 13-47-3-23 5-15 4-23 3 27 9 18-4 108 12-65 1-78 3 6 1"/>
<path class="a11" d="M349 261l-48-1 27 5 45 4-26 11-49-1-4 1-18 3-2-2 38 7 23 2"/>
<path class="a12" d="M335 259l-44 7 77 20-76-5-100 4 207 5"/>
<path class="a13" d="M366 287l-28-6-50 0 0-5-48 4 37 12 49-1"/>
<path class="a14" d="M354 261l-53 1 14 11 82 12-48-6-58 9"/>
<path class="a15" d="M326 286l-51-6-72 6"/>
<path class="a16" d="M243 271l61 1"/>
<path class="a18" d="M325 269l-19 18-64-5"/>
<path class="a19" d="M252 285l-65-2"/>
<path class="a25" d="M236 285"/>
<path class="a22" d="M218 280"/>
<path class="a20" d="M216 284"/>
<path class="a17" d="M303 275l24 6-67 2"/>
<path class="a16" d="M285 286l87 6"/>
<path class="a15" d="M227 272l44-6 30 7-29 5 78 12"/>
<path class="a14" d="M352 276l-81 7 115 5"/>
<path class="a13" d="M319 279l-36-2-21 3"/>
<path class="a12" d="M327 263l-75 0 65 8 103 15-37-6-34 5-64 0-8-7-5 5-29-2"/>
<path class="a11" d="M249 245l23 0 68 29 47 13-36-5-5-4-5-1-11 4-3 1-31 3-14 0"/>
<path class="a10" d="M384 263l-53-2-82-9 25 13 132 15-12 4-40-7-82 8-7-1"/>
<path class="a9" d="M293 200l90 39-74 7 61 16-59-6-38 6-23-2 59 7 36 3 19 5 9-2 22 2 3-3-15 10-13 1-1 4-33-5-10 3-5-7-1 3-28-2-40 8"/>
<path class="a8" d="M335 237l-50 11 43 13-31-9-10 8-3 3 29 11 5-9 5 4 18 5 2-1 10 1 45 3-3 3-4 3-7-2-6 3-8-2-6 2-1 2-54-8-12 0-13 3"/>
<path class="a7" d="M365 233l-33 0-16 11 7-4 4 9 10-4 67 0 7 15-16 2-8-9-7 6-13 0-22-3-47-2-7 1 0 6 12 9 5-4 11-2 7 1 12 10 8-3 1-6 3 0 5 0 46 2 21 1 37 12-53 3-7-5-1-1-40 9-11-5-23 0-1-6-2 5-19-5"/>
<path class="a6" d="M271 154l78 32 52 26-16-1-45-2-44-3 71 16 1 1 8 2-3 9-12 5-2-8-21 6-42-2-3 16 39-4 1 3 29-3 2 3 8-5 5-4 0 6 12 2 5-9 1 5 38 12-49 1-11-4-20-1-5 10-22-4-11-2-3-2-4 3-80 7 48 0 27 3 2 2 5-2 7-1 7 6 7-6 9 6 8-7 6-2 15 3 8 5 1-8 15 5 21-3 7 7 11-6-44 16-29 1-9-1-1 1-5-3-6-2-1 4-37-7-1 4-15-1"/>
<path class="a5" d="M364 189l-28-2-43 8 20-3 18 3 4 0 51 7 3-7-6 20-18-4-29 0-56-7 57 12 26 5 29 5 19-6 1 4 7-2-3 17-1-4-27 2-1 1-36-7-5 6-1-5-10-3-25 21 6-1 5-8 11 4 4-4 4 0 22 2 12 5 6 1 3 2 0-1 43 4-24 9-1-7-1-3-7 8-10-5-23 1-3-5 0 10-10-5-2-4-1 0-6 8 0-2-21-6-38 10 43 7 11 0 23-1 11 1 5-6 1 8 11-8 9 2 8 5 23 0 7 3 5-1-12 7-5-4-5 2-26 4 0-6-11 2-14 7-4-4-15 4-19-3"/>
<path class="a4" d="M332 129l24 9-115 12 85 27 58 1 70 6-82 3-7-4-9 1-3 0-12-1-28 7-2-1-6-7-25 14 69-1 12 0 12 0 26 2 21 3 10-3-19 18-26-10-14 0-1 9-6-7 0 4-12 1-9 0-6-2-7 2-2 2-4-4-18 3-23 8 18 5 6-7 18 6 23-4 2-4 15 5 4-6 35 3 0 5 7 2 10-3 8 4 18-2-23 6-9 1-10 3-3 4-4-7-10 1-4 3-2 1 0-6-6 1 0 2-30-2 0-2-9 0-1 1-7 4-41-4-18 9 5 7 36 4 12-8 9 1 9 4 1 3 0-10 1 3 8 7 2-2 6-3 7 1 9-7 3 2 9 2 0-2 0 4 8-3 10 7 12 1 14-1 4-6 0 0 0 5 0-9 7 6 2-1-6 12-44 3-4 2-1-9-12 9-9-9-2-1-1 9-3 1-1-6-11-2-11 4-11 0-15 3-20-2 14 15 3-5 18-1 15-1 20 6 2-2 2 3 26-5 9 2 4-6 3 4 10 0 13 3 15-8-40 13-6 8-23-7-1 7"/>
<path class="a3" d="M351 119l-23 24-28 2 14 2 17 6 3-5 3 1 20 0 51 9-8 4-6 2-55-3-42 15 34-6 7 7 8-3 5-3 1 4 1 1 11 0 19-5 6 6 4-3 7-5 23 7 9 3 19 3-35-2-3 4-5-4 0 5-6 2-1-5-29 5-7 1-6-6-7-2-23 0-6 5-40 14 32 3 17-6 2 2 9-3 3 2 2-1 6 6 0-5 2 5 0-9 7 4 8 4 0-2 2 2 8-4 4 6 0-7 4-1 4 2 6-5 1 11 8-4 6 3 7 1 2-1 41 6-9 4-2-3-6 2-8-5-12 0-8 2-2-3 0 2-3 7-2-8 0 4 0-3-3 6-3-5-7 5-8-6-9 7-1-10 0 6-7 0-9 4-5 1-5-9-9 4-4 3-3-9-15 11-1-4 4 13 5 2 32-4 7-4 2 4 7 1 9 1 11-3 3 3 1-8 9 1 8 0 0 0 0-1 1 4 3 1 2-5 12 2 10 5 10 4 9-10 13 5-30 7-6 2-29 5-7-3-2 2-8-6-1 10-9-8-4-1-1 8-25-9-9 3-2-3-27 5 15 8 0-2 16 9 5-8 26 6 0 2 14-9 1 4 4 0 7 1 9 4 10-9 2 3 6 1 19 7 24-1 43 13-42-8-23-2-13 1-20 1-2 4-2-3-5-2-9 2-1 7-11-5-9-4-16-1-11-1-1 10-4-7-6 3-7-5 0 6-1-5 51 17 3-6 20 8 3 0 20-5 8 3 13-7-89 18"/>
<path class="a2" d="M397 136l-35-2-16 7-5 11 27 1 51 1 15 0 69 9-63 0-16 4-19-1-20-1-38-5-21 9 38 5 2-3 1 0 6 4 5-1 3 4 3-1 5-1 7-7 2 3 0 2 5-5 2-1 7 5 15 4 0-7 8 3 7 3 13-4 9 17-6-2-1 3-2-2-5 3-5-9-1 4-4-5-1 5-6 4-2-9-2 5-6-4-5 0-5 0-4 5 0 0-1-1-1-4-1-1-2 6 0 2-2-3-6-5-1 9-3-2-2-7-3-1-1 8 0-2-22-2-10-4-3 5-2 6-5-4-5-5-10 4-5 11 10-5 24 6 3-4 2 3 5 5 1-3 2-6 1 3 5 0 19 6 4-9 1 8 5-8 3 10 2-4 0-5 2-2 2 7 1-7 0 5 1-1 9 2 2 4 2-4 3 5 0-9 10 7 2-4 37-4 25 5-36 9-8-1-2 9-14-10-1-1-1 7-6-1-2 5-1-10 0 9-7-1-15-2 0-3-1-1-4 5-2-4-3-4 0 1-5-1 0 4-6-4-7 11-1-10-4 9-5 0-1-9-3 1-4 0-5 0-3 1-4-2-4 1-1 3-41 15 31-1 16-6 3 9 13-2 9-3 0-5 8 0 4 1 3 10 0-8 6 2 0 6 3-5 4-3 5 0 7 8 2-5 0 3 1-9 4 1 4 2 1 3 7 4 1-4 1 4 2 1 6-10 3 6 1-1 1 5 3-10 31 9 1-10-6 17-14-2-8 1-1 5-8-2-15-5 0 4-2-5-3 0-1 5-2-3-3 3-3 0-6 2-3 0-6-4-3-4-1 3-2 0-11 4-8-7-13 11-12 0-4-6-5-2-2 1 30 17 7-1 2-1 6 1 3-1 9-1 23-6 1 6 17 4 3-9 3 2 6 1 3 2 5-1 5-3 8 2 4 1 4 0 21 4 8 5-86 0-11-1-6 4-26-3-29 0 39 10 35 0"/>
<path class="a1" d="M341 119l28 32 114 15-53-3-8-1-2 3-18-6-2 8-87 0 65 9 10-1 4-2 3-1 7-3 19 9 12-2 11-3 1 0 5-1 5 5 21 0 56 7-27 4-1-5-6-2-12 6-1 1-2 0-29-7-8-1-6 4-7 5-8 0-6-5-1 3-29-6-7 1-6 17 23-4 1 7 21 1 3-9 1 1 2 2 0-4 1 1 16 9 0-1 0-1 5 1 1-5 15 2 5-1 6 0 3 2 24-6-17 15-11 0-4-5-5 10 0-8-15 6-3 2-15-7-7-1 0 0-1 1-27-1 18 11 50 0 5 6 2 0 4-3 4-2 8 3 1-5 7 0 13 0 4 4 2-1-16 17-10-8-23 8-3-6-30 4-16-2 33 16 34 6-60 15"/>
<path class="a0" d="M469 171l18-1 22 33"/>
<path class="a0" d="M499 184l-41 20"/>
<path class="a1" d="M431 141l-1-1-53 12 52-3 85 15-83-4-10 2-3 1-1 1-5 3-6-8-10 6-28 10 36-4 5 3 4-3 18 2 2 5 13 1 6-5 12-1 0-5 3 10 8-3 5-2 14-3 2 19-9-4-3-2-3 2-2 4-7 1-22-5-9 5-2-9-9 7-27-2-15 0-42 8 28-2 18 7 2-4 12 4 2 2 24 2 7 0 16-7 2-2 1 7 8-9 3 7 5-7 2 6 17 4 3-2 10 7-3 6-2-1-3-1-20-7-2 5-3-5-8 4-2 2-8-2-9 7-29-11-39 13 10 10 13 0 12-5 47-6 6 0 10 7 7 1 5 9-20-4-40 4-2-1-38-3 56 18 68-5 35 14-77 4-1-5-30 21"/>
<path class="a2" d="M325 130l63-6-66 29 51-3 3 3 1-7 2 7 8-9 1 8 9 0 19 3 20-9 10 9-1 7-29 1-3 1-7 1-7-9-13 2-3-1-21 4-10 16 6-3 4-4 3 9 3-9 2 2 4 5 0-1 7-4 13-1 6 6 27-7 1 3 11-1 8 6 66 10-14-6-34 2-5 5-15-7-2-2-7 9-5 0-3 0-6 0 0-4-1-3-5 3-1-1 0-4-1 8-1 3-1-2-5-9-3 9-3-8-4 9-1-6-1-2 0 4-12 0 0-3-12 7-1-7-2 8-7-9-8-2-11 7-2-5-11 0-1 21 10-10 8 0 13 2 1 1 5 2 0-2 2-3 7-1 2 4 2-3 7 10 4 0 2-4 1-6 5-1 0 4 1-1 5 3 3 2 2 0 1 1 1 2 2-11 4 5 5-1 0 6 8-1 4 2 4-7 7 1 2 1 3-6 2 8 11 0 14-7 5 12-16-1 0 5-6-5-1 2-1 7-2-7-4-2-1 3 0 1-1-1-4-1-9 2-1 1-2 2-6 0-8 3-3-1-6-4 0 6-1-8-7 3-2 0-5-3-4 0 0 2-2-5-8 4-9-1-24 15 15 3 12 2 0-10 23-1 6 10 1-6 4-4 3 0 3 11 3-11 2 0 5 1 3 8 6-4 0 5 2-9 1 7 0-4 6 1 8-4 6 7 7-2 2 2 2 0 1-8 8 6 8 4 14 7-11-4-10 1-13 8-6 1-6-6-10 1-6-6-8 9-3-8-1 3-3 1-1-2 0 0-2 1-9-3-11-1-18 4-5 1-3-4-2 7-14 1-34-1 79 4 6 2 3 6 5 0 15 3 3-3 6-5 5 7 16-8 7 8 36-6-24 10-4 0-4-2-14 10-2-10-4 4-9 2-10-2-28 2-4-4-45 8 53 12 15-8 30 9 27 0 25-2"/>
<path class="a3" d="M349 143l-49 7 47 3 6-2 43 14-4-1-10-7-41 6-34-7-4 12 2 5 12-1 10-4 15 3 23 3 3 4 6-1 3-4 4 5 0-6 3 6 2-8 12 7 4-4 4 5 26-4 4 13-2-5-22-1-15-1-6 11-10-6-11-5-2 3-11 2-1-4-2 9-17-6-32 1-30 15 26 0 40-2 0 2 8-1 4-3 8-4 8 10 13 1 3-4 0-3 3-2 8 7 10-5 2-2 0 7 3-7 2 2 1 1 6-5 2 0 10 7 2-6 8 0 12 15-6 5-9-9 0 4 0 4-4 0-5-4-12 1-9 1-2-1-4-3-2-1 0 0-4 3-2 0-1 0 0-1-2 2-16 2-1-2-18-4-1 10-14-9-6-1-2 6-16-1 35 17 4-10 4 3 5 1 3-4 12 2 3 7 2 1 3-4 1-2 3 2 2-4 0 3 2 3 0-7 1 8 2-1 5-5 2-3 10 8 1-6 3 7 2-8 3 0 2 0 7 3 7-5 1 5 9-3 4 1 1 2 35 6-9 11-6-4-4 5-13-1-10-7-7 7 0-8-1 4-7-6-10 3-1 2-1 3-6 1-9-9-1 2-3 0-23 8-7-8-2 1 0-2-1 0-3 7 0-7-2-1-1 1-1 0-9 0-15 0-7 0 22 19 0-5 9 2 2-5 14 5 2 5 8-4 6-6 3 6 1 4 1 0 2-5 1 3 2 0 0-4 4-1 1-1 4 8 0-9 1 5 2 0 8-2 3-2 3 7 12-1 22-6 1-2 2 10 8 11-28-3-3 2-4-5-4-1-1 6-14 2-3-8-8 1-2 4-8-5-7-2-7 8-7-3-4-5-1 8-13-5-10 7-3-8-3 0-9 9-18-1 32 6 36 4 17 3 39-10-24 13-32 2-27-1"/>
<path class="a4" d="M335 171l7 2 18 5 15-3 22 4 14-1 26 9-28-6-9 6-11 1-2-8-5 9-4-2-16 0-5 4-10-7-2 5-8-8-33 4 20 14 15 2 25 2 11-9 19 3 0 3 5 2 6-2 7 1 2-1 21 0-7 4-38 0-10 6-8-1-1 2-11-4-8-2-8 5-6-6-47 4-11 3 43 9 11 2 13 0 19-2 6-1 22 5 1-7 13 7 0-2 14 5 47-10-31 20-11-7-3 7-7 0-5-6-10-2-2 5-6-5-3 2 0-3-2 10-3-8 0 6-2 1-11-8-3 4-5 2-1 3-3-1-9-1-5 3-5-11-6 8-10 1-5-5 6 13 20-3 1 4 5-6 5 0 5 1 0 0 2 2 7-2 0-1 1 1 5 2 1-2 1 2 6 3 2-4 4 0 4 5 2-6 3 5 1-1 9 2 2 1 1 1 2-5 2 4 5 1 0-3 3 2 6-6 3 6 1 2 13-6 21 14-1-6-25 5-12 0-4-3-2-2-1 8-8-6-2 6-5-6-2-1-1 1-2 1 0-2-2 1-1 6-1 3-6-7-7 2-3 3-1 2-8-9-2 8-12 0-2-2-3-2-5 0 0 4-5 1-4-6-2-3-1 2-8 1-7 1-66 17 60-11 36 0 6 8 5-7 13 3 4-3 5 0 4 0 27 7 7-5 3-2 2 3 8-3-41 18-18-3 27 8"/>
<path class="a5" d="M333 152l23 3 24 35-1-1-53 14 43-7 37 15-54-4-5 2-6 3-16 8 14 7 5-9 16-2 6 3 2 0 2 8 50-4 6-1 5 0-36 9-6 3-24-1-9-1-3 6-3-7-27 2-28 3 33 8 5-4 18 9 5-7 9 6 11 2 2-7 0 6 4 0 1-4 12 3 15-5 14 1 31 17-36 0 0-6-5 3-16-3-1 8-15-3-4-6-2 3-3-3-3 7-8-7 0-1-3 2-7-2-1 6-9-6-5 4-23 6-14-6-6-4-23 5 31 10 29-1 22 6 10-6 17 0 16 7 2-5 6-5 66 4-37 16-23-2-8-6-39 5-12-2-29-3-39 7"/>
<path class="a6" d="M320 202l67-8-23 20-1-10 19 22 21 9-24-7-1 1-8 9-8-1-21-1-15 0-8-1-28 3 32 4 0 5 6 0 6 2 2-5 1 3 7-4 27 4 10 4 33-2-8 13-10-9-4 1-16 1-2 6-14-9-18 9-4 1-3-4-4 3-13-3-2-4-10 2-5-4-6 8-28 11 27 1 17 3 7-9 16 0 4 2 2-3 1 5 5 4 10-8 13 1 7-2 9 2 7 7 23-10-18 17-7 4-5-2-24-1-4-4-25 2-8-2-53 1 95 10"/>
<path class="a7" d="M333 200l36 12-67 0-9-2 17 38 63 1 4 0 28 2 5 12-16-1-4-4-8 3-35-6-2 7-15-9-2-1-9 5-9 5-1-10-41 18 8 2 37 2 5-7 1 0 1 3 1 0 21-1 4 5 13-2 12-5 2 7 22-4 16-1 29 12-25-5-18 9-1-1-44-6-3-2-13 0-4 8-3 0-8-4-71-3"/>
<path class="a8" d="M357 206l-4 18 24 2 12 2-50 7-126 1 29 4 102 2 52 18-1-2-13 5-42-2-14-4-3 3-65 11 43-1 25-1 5 2 34-2 5 2 11 4 4-9 5 0 2 3 45-4 13 11-27 5-37-4-5 10-3-5-17-4-2 5-3-4-5 7-20-8-5 5-6-4-5 1-2-1-7 4-4-3-34 1 134 9"/>
<path class="a9" d="M340 248l4 3 0-3 111-5-106 20-13-9-11 8-50 3 18 9 40-1 1 2 28-2-29 5-4 9-11-4-6 2-6-6-9-2-53 1-46 0 97 10 81 2"/>
<path class="a10" d="M272 245l18 3 53 2 70 11-46 1-4 1-43-1-15-7-22 10 26 8 10 0 13-2 16-5 4 3 7 4 4-7-4 12-10 3-11 6-12-4-22-1-25 1"/>
<path class="a11" d="M337 246l-1 8-16 5-12 1 58 8 67 8-95 1-7 9-8-6-1-3 0 7-4-6-10 1 0 0-1-1-6 5 113 6"/>
<path class="a12" d="M288 250l52 10 32 15-33 10-21-8-7 0-13 5-29 5-3 0"/>
<path class="a13" d="M261 272l14 3 66-10 4 11-32 2-33-2-15 3 74 10"/>
<path class="a14" d="M298 274l46 11-43 0-69-7 37 10"/>
<path class="a15" d="M304 258l63 24-37 8"/>
<path class="a16" d="M237 268l-2 18 43 2"/>
<path class="a17" d="M265 269l12 6-20 11"/>
<path class="a18" d="M288 279"/>
<path class="a19" d="M266 288"/>
<path class="a21" d="M257 287"/>
<path class="a23" d="M366 288"/>
<path class="a25" d="M227 284"/>
<path class="a24" d="M198 285"/>
<path class="a23" d="M245 280"/>
<path class="a20" d="M354 285l-218-2 135 7 53 0"/>
<path class="a18" d="M284 281l-114 0 106 10"/>
<path class="a17" d="M330 290"/>
<path class="a16" d="M282 250l-2 21 50 5-38 10"/>
<path class="a15" d="M324 282l-3 4-28-10-5 11"/>
<path class="a14" d="M215 271l89 16-17-2-10-8 36 12"/>
<path class="a13" d="M318 271l3 0 16 2 7 10-42-4-21 4-10 4"/>
<path class="a12" d="M259 224l46 49 30 0 50 1 57-2-159 7 0-3-1 6-8-5 73 12"/>
<path class="a11" d="M257 259l-70 13 86 3 45-5 35 6-6 1-6 6-9-6-18 7-1-2-4 5-6-4"/>
<path class="a10" d="M352 256l-32-1-29 6-39 9 50 4 69-5 19 8-30 0-3 10-5-10-5 7-21 1-9-2-1 3-12-8-16 3-62-2"/>
<path class="a9" d="M362 225l18 5-94 20 10-2 29 3 65 6-38 4-11-4-30 4-20-7-29 16 20 5 33 0 32-5 13-2 92-3-39 17-5-3-14 3-33 3-11-3-10-1-27-3-1 8 117 4"/>
<path class="a8" d="M311 178l27 68 74 11-79 1-8 15 15-3 18-1 2-2 8 5 22-4 11-1-13 15-8-5-10 4-2-2-3-2-8 1-27-1-7 8-8-3-5-2-8 3-29-7-4 6 87 6 29 0"/>
<path class="a7" d="M315 224l12-5 11 8 1 0 48-3-22 13-49 3 42 2 12 7 8-2 45 1 17 9-48-3-10 2-7 2-20 4-23-4-63 4 14 4 6 5 16 3 9-5 3-3 9 0 29 2 7 7 7-1 1-1 14 2 4-9 13 9 1-5 4-2 22 6-43 7 0 1-3-5 0 1-7 9-2-6-1-4-4 2 0 7-5-4-17 2-8-6-5-1 0-1-4 3-10 5-59 0-15-8"/>
<path class="a6" d="M384 214l-15-5-90-5 37 14 3 7 12 1 41-3 46 12-7 0-9-3-23-3-11 9-44 0-6-5 0-2-19 13 7 1 40 4 2 2 1-4 5-7 0 4 3 4 5-1 6-3 1-3 12-1 9 0 10 10-8 7-13 1-7-6-9 7-11 2-6 2-16-3-1 2-13-2-12-4-2 14 4 0 51 3 8-6 26 4 5-2 2 2 2 0 26 1-12 14-17-2-25-5-1 8-5-11-9 4-23-2-26 7 81 7"/>
<path class="a5" d="M299 167l-3 4 33 11 10 15 24 1 13 3 11 1 3-10-1 19-22-5-16 9-18 1 2 4 18 1 9-2 11 0 6 3 5-4 10 5 19-6 42 3-53 15-3-1-6-3-2 8-9-7-10-3 0 6-22-5-19 7 0 0-25-5-4 1-36 11 18-3 54 10 3-3 1-1 1-1 1-6 7 1 4 5 7 0 5 2 1 3 1-9 22 1 2-2 13 2 2 3 10-3 17 20-4-4-22-3-7 7-9-1-5-10-2 3-6-3-1 1-3 6-3 3-4 0-3-6-10 3-9 0-24 4-28 1 14 11 9-2 9-1 32-4 3 6 3-10 0 8 2 1 15 1 12-7 11 8 2-8 0 5 4-6 7-2 7 1-3 20-7-6-38 0-2-2-20 5-12-6-1 4-6 2-18 4"/>
<path class="a4" d="M413 164l-62 2-11-4-5-1 0 12 24-3 2 0 1 7 9-5 32 7-2 3-2 0-2-1-37 6-26-3-3-3-6-1 25 21 3 1 6-7 7 8 5-3 0-7 2 9 6-3 7 0 6-6 67 4-58 17-9-2-5-2-2-5-23 3-5 1-4 0-2 0-17-5 0 10-4-3 17 14 7-6 1 4 0-1 16-2 4-4 11 2 0 3 1-4 1 2 1 1 4 3 2 1 3-2 2-4 8 5 13-2 6 5-2 10-17-6-14 5-15-7-7 7 0-1-3-2-5 5-2-9-8 7-11-6-11 5-3-5-44 9 25 6 46-2 2 2 0 1 2 3 3-2 1-3 4 6 13-5 3-1 8 2 1 6 8-11 5 4 8 1 3-4 43 7 25 3-24 4-26 8-3-11-1 1-3 9-11-6-1 0-3 6-4 1-5-11-2 6-3 3-1-3-5-5-8 5-1 5-2-9-2 2-12-1-8 0-5 3-6-3-23 0-1-1-5 7 24 5 8 2 19-2 12 1 3 6 3-5 8 6 11-8 2 1 22-2-7 15-33-1"/>
<path class="a3" d="M323 153l24-1 1 3 41-6 26 0 18 17-69 0-11 0-56 13 22-4 15-7 7 1 5 9 9-2 10-5 3 8 4-10 4 0 20 2 8 6 2-1 38 9-6-3-5 4-6-1-31 3-14-4 0 3-2 4-2-3-8 2-2-9-5 5-8 2-26 1-8-2-9 4-18 12 41-3 6-2 2-5 9 3 8 4 7-2 14 3 3-9 0 1 3 4 2-2 4 6 9-2 8-6 0 9 8-10 1 3 7 4 7 1 2-3 17 6 4 11-14-2-10-6-2 6 0-5 0 4-1-7 0 11-6-10-2 0-9 1-6 0-1 5-4-5-3 6-1-3-3-2 0-2-3-1 0 3 0 7-3-3-3-3-1-3-1 5-3-3 0-2-2 2-7 8-1-6-4 4-1-8-3 4-11 2-2 2-11-9-9 2-15 6 15 13 3 2 4-10 12 0 5 5 7 2 2 0 0-3 2 5 6-3 1 2 14-1 2-6 0-2 3 4 7 4 2 1 2-5 1 3 3-2 1-1 3 3 0 3 7-1 3-3 1 3 8-2 5 4 2-2 4-4 4 4 8-1 10 14-8-8-11 1-3-1-1 1-8-2-6 5-8-5-3 1 0 2-1 3 0-1 0-6-5 3-3 6-2 2-3-3-4-7-3 9-2-2-10-8-1 8-3-4-1 6 0-10-11 4-4 0-2-2-2-2-4 11-8-3-26-6-15-1 44 16 21-5 0 2 11-2 4 8 6-3 1-1 1 3 5-5 4 4 2-6 1 9 2 2 1-11 4 0 11 11 0-4 1 1 1-7 1 5 2-5 0 2 1 5 3 0 2-2 2-5 14 1 14 8 46 5-36 7-19-4-2-2-15 4-5 3-8-11-3 7-3-7-3 2-3 8-1-3-9 2-1-3-6-2 0 6-6-10-7 8-4-8-4 4-1 3-6-1-1-4-37 0 37 17 2-7 25 10 19-6 2 0 17 2 4 4 12 8-29-5-1 1-5 2"/>
<path class="a2" d="M319 117l54 25-5-10-5 3-11 14 5 2 14-5 7 8 28-5 31 12-3 5-1-3-10 1-9 2-8-4-1 5-5-4-10 2-1-8-17 5-22 5-4-1-1-7 12 15 2 4 2-7 23 6 6 1 3-4 5 4 0 0 8-1 4 2 7-11 1 8 1 0 62 3-6 6-20 1-23 0-1-2-3 3-3-5-3 9 0-9-1 1-2 7-2-9-1 0-4 3-1 3-4 1-4-2-7 1-3-7-6 5-4-3-1 4-8 3 0-6-9 0-1 5-3-8-29 17 15-1 3-3 9 10 11-11 4 10 2-1 2-4 1 6 1-8 5-2 2 8 0-3 3-1 1 5 1-2 2-7 1 3 1 5 0-6 3 1 5 1 1 2 8 2 1 2 2-5 0-4 5 4 1 2 5-3 1 0 0 1 0-5 1 1 0 1 2 7 2-7 0 5 11-4 12 0 0 0 8-1 2 8 22-1-33 4-1 8-1-3-1 4 0-1-6-4-1-2-2 0-4-3-1 1 0 5-10-1 0-2-2 4-2-1 0-6-5 5-2-3-1 6-9 0-1-7-3 2-4 2-2 2-1-2-4-6-6 3-1 2-10 5-14-2-6-3-4-4-8 2-1 0-2-1-5 14 19 0 25 0 0 7 4-7 0 2 7-2 2 0 3-4 1 8 1-1 2-1 1 0 1-6 11 1 3 9 5-9 4 3 5 1 8 5 3-4 2 5 4-2 8-6 0 6 10-2 6-1 4-2 0-4 5 0 19 4 8 3-25 12-6 3-10 1-2-5-8-6-3 3-5 0-1 5-3 0-2-4-8-3-4-1 0 9-6-8-2 3-1-3 0 3-2-1-1 6-1-7-5 2-2 5-2 2-22-11-6 4-18-1-8-3 45 18 8-3 6 1 0 5 17-2 2-1 12 4 12-9 1 6 1 0 11-6 2 2-12 17-23-2-1-4-33 7-65-7 45 12 18-2 26 4 1 0 3 4 16-4 5 7-21 4"/>
<path class="a1" d="M425 140l-74 2 33 11 0-4 4 6 37-8 43 1-13 18-9 0-29-4-5 2-2-5-5 4-11 1-42-2 12 16 7-4 6-4 6 7 13 0 4-7 5 0 2 3 4 6 9-1 1-2 6-7 1 0 2 1 1 7 21-1 16 2 3-4 2 2 3 2 4 1-17 8-4 3-7-1-2-7 0 0-1 5-13-4-8-3 0 4-23 5-3-7-44 8-5-3 29 11 9 2 32 0 8 0 4 0 6-8 11 9 3 1 3-10 1 4 3 2 5-4 29 7 3-6 7 6 6 8-19-2-1 1-4 0-3 6 0-5-11-3 0 3-7 0-1-1-2 3-9 2-5-5 0 4-2-7-8 3-7 0-11-4-5 9-14 1-40-10 28 14 32 3 12 4 10-3 34-1 8-5 2 7 24 14-12-2-40 3-4-3-13-3-17-1-6 9 33 4 31 4 11 3 12 12"/>
<path class="a0" d="M469 190"/></g>
<g clip-path="url(#c10)"><path class="b0" d="M276 561l112 7-16 6-72-5-17 4-24-2-72 8 11 2 42-5 29 8 10-5 2 7 3-9 48 3 4 3 10-3 2 6 21-3 1 0 0-6 25-1 73 7 3-1-152 6"/>
<path class="b1" d="M219 556l78 7 155 10-111 0-35 2-18-3-6 2 0-6-17 7-20-1-13 0 4 8 49-1 3-4 0 3 12 4 4-6 9 0 7 7 4 1 2-4 20 4 48-5"/>
<path class="b2" d="M388 550l-116-9-10 7 44 4 70 4 62 8-6 10-40 1-50-10-34-1-4 4-11 1-13-2-27-3 21 13 27 4 22 0 27-3 13 4 51 0 17-4"/>
<path class="b3" d="M389 549l-85 2-2 11 69 1 19-5 54 3-5 7-26 1-6 4-30-5-23 5-1-3-7 4-13-8-6 2-4-3-37 5 99 14 6-5 2 2 14 1 6-2 22-4-46 12"/>
<path class="b4" d="M256 562l70 0 25-7 30 1 17 4 41 7-39-2-1 10-15-4-59-6-5-1-46 16 32 3 32 0 6-2 6-5"/>
<path class="b5" d="M283 536l52 5-46 22 16-3 4 3 8 0 48-6 15-2 54 8 33 7-16-1-110 3-8-2-7-5-20-1-6 6-73-2 57 9 113 0 12 0"/>
<path class="b6" d="M360 544l-82 12 19-2 14 3 29 1 7-3 62 1 5 6 4 1 12 12-81-5-16 2"/>
<path class="b7" d="M346 489l-7 33 127 24-117 5-2-1-54-3 12 8 10-2 56 7 44-4 34 7 3-7-37 16-17-7-17 4-20-1 45 8 10 0"/>
<path class="b8" d="M358 538l42-8 44 20-34 0-32-8-14 4-13-6-12 2-1 3-4 0-62-4-23 0 105 20 6-5 10 2 76-1 6 4-93 13-3-9"/>
<path class="b9" d="M317 520l-33 3 43 5 2 3 7 5 3-5 26 8-1 2-32 2-5 3-18 3 1 9 53-2 4 0 16 7 48-8 0 0 12-1 6 0 23 4 4 1 9-5-112 11-28 1"/>
<path class="b10" d="M372 535l17 11-31 2-34-6-33 8-9-4 99 17 32-5 22 1 19 6"/>
<path class="b11" d="M339 523l-21 3-17 11 15-1 20 2 26 1-37 8-16-5 123 11 3 6 87 0-84 6-12 0"/>
<path class="b12" d="M336 527l-28 5 15 7 39 0 52-5 11-2 51 18-46-5-2 6-102 5 66-3"/>
<path class="b13" d="M264 510l85-6 112 21-9-9-28 8-98-7 24 11 11 8 37-8 3 6 1-3 35 0 6 3 17 10-53 2-29-1 42 16 78-5"/>
<path class="b14" d="M345 499l-6-6-32 22 47-5 103 8-109-1-18 6-3 4-16-3 20 9 23 1 4 2 71-2 4 0 28-3-19 20-5-1-6-10-55 4"/>
<path class="b15" d="M360 496l-22 7-8 5 7 6 37-8 40 5 19 14-68-5-30 4-6 1-7 8 1 3 1-8 55 4 19-3 74 2 24 17-52-7-6 15"/>
<path class="b16" d="M384 495l103 27-132-5-14 0 14 21 30-9 98 5-11 11"/>
<path class="b17" d="M395 486l-60 9 11 13 33 0 114 11-56-3-76 0-36 5 160 9-26 10-5 1"/>
<path class="b18" d="M305 479l116 2-59 34 80-1 12 1-57 11-68 5"/>
<path class="b19" d="M350 489l50-6 65 12-159 14 68 3 36 1 32-1 38-6 34 10-77 9-33 1-56-1-17-3 1 7 70-1 37 2 33 8 29-7"/>
<path class="b20" d="M384 460l139 15-172 5 54 2 63 9-140 8-48 8 136 2 82 9-70 2-115-4 162 18"/>
<path class="b21" d="M396 461l-28 10-75 9 45 0 93 7 17 16-27-4-63-5-30-1-5 4 28 8 25 2 92 6 15 13-97-9-3 1-12 4 62 8"/>
<path class="b22" d="M368 457l19 19-41 14 8-6 14 7 9-5 13 2 23-6 23 1 15 13-28 5-61-6-27 1 24 10 105 3-2 13-12-1-46 6 73 3"/>
<path class="b23" d="M353 462l9-3 61 3-47 8-65 16 138 5 20-4 14 1-25 12-65-7-17 2-39 11 20-1 44 0 42-1 14 5-84 11"/>
<path class="b24" d="M403 439l-27 10 56 15 7 13-78-1 38 9 17-4 41 9-116 6 35 10 1 3 28-2 69-2 17 7 0 15-62-10"/>
<path class="b25" d="M332 425l7 32 43 1 10 3-8 12-26 1-27 2 33 15 0-7 13 7 13 0 31 8-17-6-22 1-40 10 38 15 82 14"/>
<path class="b26" d="M346 436l11 11 22 14 37-2 32 13-17 1-3 3-111 6 17-1 17 0 2 5 97-5 18 18 0 3-3-8-81 4 128 7"/>
<path class="b27" d="M521 455l-218 9 60 1 29-5 4 1 18 14-24 2-37-5-1-1-10 12 50 6 3-8 49 10 10 0 12-3 21-2 22 13-144-7 71 12 5 5-10 13"/>
<path class="b28" d="M314 443l14-4 97 4 25 12-67-1-25 10 21 3 48-1 44 4-21 8-3-3-2-6 0 9-27-4-6-5-8 2-11 5-11-7-1 5-33 4-23-2 90 4 9 1 52 14-76-1 0 2-54 0-1 3 154 9"/>
<path class="b29" d="M303 451l48 16 43 0 12-6 81 5-56 7-27 0-15 0-27 5-39 3 14-1 38 7 46 4 1-10 51 3-15 11-8 0"/>
<path class="b30" d="M368 428l-18 9 83 18-25-1-38 2 4 11 23-2 25-5 45 14-28 3-6-3-32 5-23-7-22 3-9-5-1 4-9-6-16 0-22 10 96 8 38-4 8 4 20-1"/>
<path class="b31" d="M362 430l-13 9 15-6 46 22-28-2 5 11 18-3 25-2 20 12-23 2 0 3-2-3-25 0-19-5-46 5-7-1 1 16 82 2 31-1 18-7 63 0-78 20-85-2"/>
<path class="b31" d="M363 431l19 24-35-7-24 1-16 3 171 7 2 11-19 2-7-3-10 0-47 2-22 0-69 0 125 10 17 9 12-5"/>
<path class="b30" d="M415 446l-9 4-18 1-66-2 17 10 11 4 3-3 5 3 21-7 3 0 14 9 9-2 4 4 85-1-88 6-11-4-4 0-5 11-43-7-17 1 28 13 15 0 23 3 34-7 16 3 46-3-12 12-14 5-7-5 6 17 27-7"/>
<path class="b29" d="M341 415l-41 26 80-7 39 17-12 3-78 10 13-7 3 9 21 1 1-8 23 7 27-6 20-3 39 16-3-1-31 2-10-2-11 6-32-6-28-1-30 7-29-3 106 7 13 3 55 3 31 6-40 3-39-2-11 2"/>
<path class="b28" d="M408 454l-2 1-9-3-35 14 69-10 10 11 31-3-30 8-14-3-2 4-11 3-30-1-11-2-53 10 81 6 26-6 1 7 50-5 7-2-25 20-28 7 10-6 15 1 29-1"/>
<path class="b27" d="M372 451l-3 1-41 8 23 3 17 3 0-10 11 7 18 4 13-6 8 15-46 0-6-7-9 12 3 2 69-1 38 8 14 2-19 0-23 9-31-3-67-3 58 9 54 1"/>
<path class="b26" d="M365 451l-34 15 3-2 7-5 104 19-24-4-8 4-84 0-32-3-20-7 68 18 36 3 21 2 39-2 42-5-28 18-6 1-12-11-122 7 40 8 11 2 60-4 45 10 18-8-121 9 64 13"/>
<path class="b25" d="M486 455l-133-8 64 17 52 3-104 7-24-6 117 20 74-8-63 15-65 1-64 9 108 4 97 6-152 4"/>
<path class="b24" d="M353 453l-21 10 14-1 72 13-41 2-47-5 126 20-4 6-109 5 110 5 33 8-15 11-16-11-13 2-3-1-24-1-1 0"/>
<path class="b23" d="M347 449l-10-4 120 33-14-8-34 7-11-4-15 6-13-1-13 0-4 2 51 6 40-5 7 4 69 17-82-6-40 6-17-8-25 1-11 7-11-2-20 8 156 2"/>
<path class="b22" d="M406 473l-42-1-41 4-6-8-12 1 35 12 3 10 38 0 13 7-9-6 0 7-22 4-6 0-8-6 11 14 32-3 1 0 24 1 19 2 49-6 5 17"/>
<path class="b21" d="M429 464l4 9-65 1-13 1-3-1 48 9 23 6 9-1 20 11-13 3-58-5-2-2-11 20 65-8 27 5 0-7 19 9 22-8-10 20-13 0-22-3-35-6-84 9"/>
<path class="b20" d="M376 474l-2-1-10-3 38 21 47-8-68 17-42 11 5-5 48 3 43 6 3-2 28 1 21 13-44-11-88 3-20-3 70 12 11 7 32-6 54 1 10 8-15 4"/>
<path class="b19" d="M347 480l10 6 51 15-47-4 27 10 16-3 32 6 16 1 60 12-46-3-48 2-7-6-9 9-27 0-28-5 9 9 117 6 41-3"/>
<path class="b18" d="M399 475l-24 3 22 19-3 0-27-3-17 3 2 16 17-5 9 5 61-5 13 6 22-2-61 6-21-2-11 6-5-4-24-2-13 7 100 8 12 4 37-6-4 17"/>
<path class="b17" d="M364 485l38-3-73 20-5-3 9 13 26 1 1-1 22 0 81-8 43 15-21 3-56 1-34 1-6-4-19 3-10-4 0 16 37-2 38 3 20-5 30 13"/>
<path class="b16" d="M300 484l-9 20 71 2 4 7 9-3 28 0 87 2 2 11-155-6-3 1 201 28-70-1"/>
<path class="b15" d="M418 497l-40-5-65 19 2-5 48 5 4-5 33 0 69 7-10 10-39-5-49 7-21-3 36 7 28 8 1 0 39-6 4 15-2-3-64 7-4-2-12-8 104 12"/>
<path class="b14" d="M333 496l-3 13 97 14-45-2-50 1-7-6 82 15 9 6 5-1 4-6 4 3 30 0-9 8-51 7-5-8-29 4-25 0"/>
<path class="b13" d="M390 486l-41 13-13 2-40 1 143 24-7-7-67-1-60 11 72 7 20 0 69 2 5 11-47-9 8 23 25-11"/>
<path class="b12" d="M360 501l-26 2 116 5-8 19-28-4-19 2-22-1-18 2-8-5-12 4-47 2-3 7 11-2 47 3 4 3 4-10 35 2 1-2 31 3 3 7 42-10-20 15-54 2-13 4-33-9-20 0 33 12 15 10"/>
<path class="b11" d="M360 513l49 11-12-1-43-7-22 7 4 14 21 1 41-1 55 4-65 7-11-5-107 19 63-8 55 0 21 5"/>
<path class="b10" d="M343 514l-7 21 27 2 4-8 2 9 5-4 20-1 31 3 44 10-13 5-29-9-49 1-23 8-28-10-16 7-2 3 47 5 45 7 33-7 110 1-113 8-25-1-27 2"/>
<path class="b9" d="M458 523l-91-5-31 14 119 15-103-6-6 8-14-8 13 12 22-1 48 8 4-3 1-5 37 14-7-2-47 2"/>
<path class="b8" d="M489 518l-83 8-13-7 15 30-27-6-13-2-47 9-5 1-30-5 27 11 9-2 86 7 3-5 38-2"/>
<path class="b7" d="M270 537l226-1-164 7-8-2-7 8 31 13 60-8 10 0 9 6 19 6-140 0"/>
<path class="b6" d="M352 535l133 16-34-6-83 2-29 1-1-1-32-6-21 3 23 11 18 0 4 4 42-4 18-2 16 8 19-5 1-4 48 7-3 8-40 3-16-2-10 3-15 2-1 1-61-8-63-1 57 12 45 1 105-2"/>
<path class="b5" d="M228 561l86-1 52-6 24-1 30 2 16 10-7 0-22 3-4-1 0 0-34 5-23-3-4-1-32-3-6 4-36-3 106 10 72 3"/>
<path class="b4" d="M344 547l-46 3 10 6 20 6 23-3 28-5 32 5 19 7-14 3-26 2-8-2 0 1-3-6-4 5-19 0-6-5-45 5-22 6 39 6 13-4 14 0 21 2 18 1 52-3"/>
<path class="b3" d="M266 540l34 13 2 10 40-8 11 2 44 16-56-7-36 18 48-5 9 4 42-7 3 8 19-3"/>
<path class="b2" d="M357 554l57 20-6 1-36 0-25-2-9 0-6-7-27 9-16-4-6 2-10 2-75-1 70 3 1 7 0-6 17 6 5 0 56 1"/>
<path class="b1" d="M316 558l54 14-15-3-25 3-1 3-27-3-5 2-4-4-19 4-16-7-6-1 26 18 14-7 16 4 18 0 7-2 14 1 11 3 30-7"/>
<path class="b0" d="M331 563l9 0 93 9-48-8-47 0-4 7-30 3-4-2-29 3-21-1-5-2-53 9 11 1 54 0 14-3 12 8 3-5 1-1 1 2 6 2 14-6 4 5 3-7 1 6 0-1 16 0 19 0 15 3 0-1 9-1 2-2 1 3 33-8 42 5"/>
<path class="b0" d="M318 563l29-4 64 9-25 7-84-5-25 4-19-1-29 1 23 9 6-3 12 2 5-6 5 7 21-4 3 4 17-7 0 6 5 5 3-4 7-5 30 4 6-2 4 6 12-8 22 0 61 7"/>
<path class="b1" d="M419 572l-14-1-3 1-41 3-2-4-1-2-8 6-19-7 0-1-19 2-4 6-6 0-8-7-44 1-23 11 26 0 14-1 21-2 8 3 0 1 18-1 1 5 0-7 10 1 18-1 12 0 23 2 7 4 1 0 43 2"/>
<path class="b2" d="M362 547l-32-1-22 16 10-4 8 3 99 12-25-3-5-1-20 1-7 5-12-6-22 6-6-8-9-2-7 4-4-2-28 5-6 1-6-6-37 14 4 1 41-3 9 2 36-4 6 0 3 9 4-5 15-3 12 3 7 1 13 1 2 1 31 1 6-3-159 6"/>
<path class="b3" d="M312 533l-15 15-6 3-39 8 31 3 49-1 11-8 76 8 0 4-21 2-41 2-11 1-58 5-4 0 0-7-7 3 26 5 63 6 2-6 45 2 12-2"/>
<path class="b4" d="M293 556l21 2 14-1 6 0 16 5 8-3 45 0 53 9-17 4-22 0-43-1-29 1-12 1-22-1-70 3 98 6 1 1 8 3 22-7 8 5"/>
<path class="b5" d="M364 536l79 8-87 3-23-1-5 2-27 10 10-6 18 6 2 0 32-6 10 7 8 3 26 1-5 8-2-4-4-2-24 6-17-7-13 8-1-7-8-1-1 12 81 1"/>
<path class="b6" d="M342 547l-8 3-3-3-64 1-37-5 57 13 14-4 1 7 54-4 13 8 13-4 29 3 53 11-47-1 0-5-57-3-5 0-34 4-15-2-12-2-17 0"/>
<path class="b7" d="M374 526l-85 12 77-1 71 8-5 4-9-8-45 9-34-4-39 5-50 5 29 4 51-4 6-4 7 10 3-6 9-3 13 5 2 3 2-3 3 5 4-3 2-1 60 1-20 8-6 0-38 4-23-8-31 0"/>
<path class="b8" d="M346 519l-28 8 38 1 17 8 45 3-54 5-9 6-35 1-4-11 11 20 16 1 14-7 13 3 12-1 3 7 8-1 20-5 5 3 6 2 11-8 3-1-45 12-41-1"/>
<path class="b9" d="M376 497l-23 23-7 6-53 10 25-1 13 0 16 0 25 1 87-1 40 9-57 2-23 5-16-2-28-1-4-5-28 3-7-6-14 3-4 8 34 4 2 7 62-9 12 17-76-6"/>
<path class="b10" d="M312 507l127 15-128 1 1 13 5-7 27 9 17-10 16 9 35-6 13-2 7 7-20 10-6 2-36 1-24-4-33-3 24 11 45 2 51 3 37-4-40 12-9-2"/>
<path class="b11" d="M378 503l8 7-60 22 16 5 10 2 1-5 4-3 12-3 6 11 7-7 60 0 14 10-18 8-37-4-14 5-27-3-15 1-17-9-40 7 38 7 62 7 41 0 29-3 36 5"/>
<path class="b12" d="M378 496l-16 18 102 4-14 9-19-7-42 7-4-7-13 5-7-1-10 1-8-7-15 4-13 6 45 6 16-4 2 3 83 3 6 13-35-3-9 2-18-4-7 6-12-6-11 0-6 6 0-3-7-4-9 1-9 3-20 3"/>
<path class="b13" d="M452 527l-14 0-27-3-18-3-52 11 34-1 14 7 10-8 11 5 20-5 50 20-40-2-26-3-22 6-38-11 98 13"/>
<path class="b14" d="M293 491l49 11 88 5 0 14-3 1-5 1-20 2-40 2-22-1-13-5-17-1 8 11 3-1 37 1 6 8 30-3 22-4 49 2-49 6-31 7-5-2-32-3-1-1-29 13 127-2 32 5"/>
<path class="b15" d="M411 502l-77 8 76-1 62 12-44 1-62 0-15 5-26 3 31 8 63-10 2 9 11 0 14-5-2 12-2 5-13-1-119-2 123 6"/>
<path class="b16" d="M399 491l22 7-56-1 6 18 26-1 58-10-8 20-2 3-16-10-23 10-4-2-12-8-1 4-33 5-28 0 32 2 16 2 26-1 33 2 42 6-17 10-3-2-23 1-41-5"/>
<path class="b17" d="M423 472l-92 19 22 7-1 3-1 10 18 2 8 2 9-11 17 5 42 16-12-5-13 5-41 3 31 8 1 2 15-1 83 8-28-5"/>
<path class="b18" d="M306 459l-26 41 62 9 6 4 13-5 78 6 4 12 0-9-9 8-23-9-14 0-76 12 58 5 81 1-56 8"/>
<path class="b19" d="M358 486l18-3 34 20-14-4-27-4-37 2 17 13 52-3 12 2 0-1 3 6 18 0 23-5 2 5 5 12-89-3-3 4 78 10 11 1 38-6-75 10"/>
<path class="b20" d="M400 466l42 11-68 2-74 5 163 18-51 1 0-1-93-7 17 12 20 8 56-10 4 8 15 2 20-6 8 2-1 8-7 1-27 7-2-1-1-4-8-3-1 5-46-7-13 17 29-1 43 4 109-6"/>
<path class="b21" d="M349 482l38 8 3-6 23 4 21-4 14 4 18 11-61-2-24-4-40 1 49 16 2 5 12-3 2-8 45 0 5 6 32 15-33-9-20 8-87-6 47 13"/>
<path class="b22" d="M374 473l0 18 15 0 11-2 69-1 32 12-138 0-32-4-29 12 53 0 41 5 18-2 63 5-26 6-149 8"/>
<path class="b23" d="M355 465l40 9 42 9 19-3-10 23-29-3-32 0-21 0 12 10 8-6 64 8 11 1 16-2 15 13-14 1-42 0-3-9-58 4"/>
<path class="b24" d="M400 448l8 17-6 13-21-9-43 10-11 6 22 4 15-1 8-5 16-2 1 10 89 9-7 3-4-1-19-1-24-4-44 4-23 0-4-5-8-3-6 3-7 6-10-4 59 12 69 5 4-11 1 4 1 2 29 5-138 1"/>
<path class="b25" d="M430 436l-31 16 21 22-62-4-16-1-1 10 1 1 70 7 13 5-2 1-47-1-37 15 85 0 4-1 5-2 9 11 46 8-60-2"/>
<path class="b26" d="M417 450l-35 3-141-7 164 16 33 16-17 1-21 0-11-7-19-1 0-3-2 0-23 4-31 13 70-3 29 5 26-5 51 13-3 8-23-2-8-9-2 4-10 3-20 2-22-2-51 7 51 1 90-3 2 6-1 8"/>
<path class="b27" d="M360 450l-10 15 94 9-18-1-35-4-12 9-22-7-8 9 55 9 3-5 11-3 7 5 34 0 4-3 1 2 4-4-24 11-30 1-1-1-24 8-37-8 131 37"/>
<path class="b28" d="M391 453l-6 0-5-6-41 20 78-4 9-1 55 13-27-4-36 1-17 6-11-1-8-1-4-6-40 3-34-2 10 19 24 0 44-7 6-1 0 8 10-5 3-2 7-2 6 3 5 7 53-5-2 6-7 5-4-3-9 9-31-8-2 6-78 0-5-7 103 17"/>
<path class="b29" d="M371 442l32 7-72 0-4 5 10 6 16 7 19-4 2 4 26-9 2 7 19-9 19 3-4 20-5-10-12 3-3 4-12 2-8-5-53 8 66 2 15 5 42 0 15-7-20 13-43-1-31 5 85 6"/>
<path class="b30" d="M351 415l56 16-65 11 126 2-80 10-24 1-33-4-32 12 81-7 25 7 5-7 0 10 8-6 16 2 42 12-12-5-9-1-1 9-29-1-26-8-11 3-5 7-20-9-11 4-23 4 43 6 8 7 2-3 2 1 61-8 12 6 11-1-77 22"/>
<path class="b31" d="M390 436l39 9-13 6-7 2-30-4-14 1-10 2-7 3 19 4 3 6 7 1 13-5 13 4 10-5 71 19-38-3-127-5 25 19 18-7 8 6 3 2 7-1 9 1 23-6 16 0 16-3 1 3 19 6 32-6-80 10"/>
<path class="b31" d="M349 443l71 5-6 7-37-3-13 3-31-7 14 8 20 11 18-6 21-3 8-2 16 10 11-4 58 16-19-3-14-1-1-3-31-3-11 4-19 1-2-1-4-2-14 3-6 6-10-3-20-7 101 19 57 9-10 0-31 5"/>
<path class="b30" d="M330 437l106 5-37 9 0-5-11 4-4-5-2 4-4 1-24-3-2-2 41 20 11 2 9 0 32-9 20 4-94 8-2 6-8 2 3 7 18 0 30 0 25-4 21 2 5 4-20 10-29 1"/>
<path class="b29" d="M323 443l105-6-26 18-45-10 26 22 11-7 26 1 83-1-9 18-40-4-3 4-16-9-14 3-18-3-42-1-2 9-4 2-44-5 64 6 17 0 5 9 90-8 26 3-86 14-6-4-7 7-22-6-41-3-3 17 127 6"/>
<path class="b28" d="M446 451l-62-2-42 18 58-2 17-7 12 1-39 15-3 2-10-7-17 2-30 5 61 13 5-5 14 1 1-2 17 2 5 0 66-5-34 15-3-1-16 7-10 1-2-10-22 10 26 5 48-2 12 3 3 0 18 12"/>
<path class="b27" d="M325 438l67 16-23-7 3 12 52 4 21 4-30 12-48-3-62 5 51 8 15-3 9 5 2-11 7 5 19 1 3 4 2-2 10-1 16 2 28-6 56 17-30 3-44-7-16-4-34 0-5 0-100 7 151 5 31 1 27 4"/>
<path class="b26" d="M381 447l47 31-63-3-18-6-13 1 46 21 37-6 11 4 6 1 22-2-6 13-6-5-48 4 0-6-1 2-6-2-32-2 91 18 18 0 21 2-81 4 75 15"/>
<path class="b25" d="M436 442l-136 4 137 27-14 5-8-1-11-1-36 3-61-10 42 18 2 3 51-7 3 2 1-5 4 9 10-1 47-8 0 15-32 2-5-2-20 4-6 0-34-5-13 9-4-11 66 15 9 4 36-4 65 10"/>
<path class="b24" d="M397 448l-8-3 30 33-60 13 8-7 11-4 14 1 39 1 48 14-14 5-10-9-16 8-33 1-13-4-12-3-1 8-15-1-64-5 50 11 4-2 14 5 12-6 47 5 28 0 42 7-17 6-47-5-10 2-12-2-49 3"/>
<path class="b23" d="M367 454l49 23-4 0-39-6 27 18 22-6 73 17-24 0-5 0-19-3-14 3-2-4-45 2-21-4-13-2-10 11 1 5 19-4 11 5 46-3 60 11-38 5"/>
<path class="b22" d="M313 464l120-5-26 18-11-9-30 9-2 1 56 10 4-3 47-2-38 11-39-1-14 1-5 7-52 6 48 8 13-5 6-4 5 4 61 5 19-10 35 7-29 9-12-1-22 1-12 0"/>
<path class="b21" d="M361 466l47 5-75 20 47-5 7-1 9-2 43 3 12 2 25 11-40 2-85 1-5 0 17 11 8-2 9-4 4 3 27-3 55 5-18 5-2 4-12-3-31-1 0 6-20-7 83 14"/>
<path class="b20" d="M326 465l35 24 31 0 54-7 2 1-16 19-66-3-17-4-21 15 8 3 48 1 12-8 2 6 14 0 2-3 22 4 20 1 17 12-91-9-39 8"/>
<path class="b19" d="M365 479l-4 9 43 12-8 1-15-3-12-6-5 11-1-10-4 6-66 7 37 8 16-8 26 1 13 0 15 7 70-5 9 3-11 13-23-2-8-3-16-1-63 4 18 5 25 2 30 2 9 7"/>
<path class="b18" d="M342 488l90 11-45-3-9-3-15 1 2 13 5 6 11-9 46 3 11 1 23 11-35-1-21-1-41 1-2-1 2 16 48-5 5 5 11-2 3 7 42-10 33 19-39-6-16 7-10 5"/>
<path class="b17" d="M312 436l92 47 34 12-36 6-78 5 70-2 3 3 31 7 2 11-1-4-13 4-12-2-37-4-5 5-12 3-20-5-24 6 75 8 40-3 36-1-85 10 82 16"/>
<path class="b16" d="M395 503l-24-1-4-5 16 12 3 3 12-3 76 18-18 0-23-8-32 4-19-2-20-4-19 1-7 12 18 1 4 4 15 2 13-5 25-1 10 0 22 3 10 5-68 9 59 5"/>
<path class="b15" d="M402 486l-8 7-27 9-21-9-8 7-12 0-30 3 105 5 53 11-15 7-12-7-8 7-13-5 0 3-1-2-17 2-6-1-11-4-31 6 10 13 11-5 5 3 41-1 8-7 5 0 7 11 18 7-19-6-7 1"/>
<path class="b14" d="M399 493l-43 5-32 4-12 3 21 7 43-1 49 1 8 13-2 2-52-10-8 8-6-8-37 10-5-11-6 5 14 12 15-3 22 7 14-9 4 8 15 1 18-5 11 7 6-5 20-4 52 21-51-8-22-3-25 4-27 2-38 3-35-9 118 18"/>
<path class="b13" d="M359 488l18 14-60 13 6-1 2 0 79 8-5-1-4-3-4 6-11 0-2-7-24 7-53-2 103 13 13-5 0 3 51 4-39 7-34-2-9 9-7-6-17 6-15-6-11 5 16 4"/>
<path class="b12" d="M361 497l38 25-51 2-12 2-9-6-9 9 6 5 57-5 8 1 1 2 40 10-10 3-28 5-4-5-6 1-41-2 5 8 94 2"/>
<path class="b11" d="M279 500l7 28 40 5 26 0 26 6 18 0 61 0 10-3 10 4-45 2-6 2-3 1-8-1 0 3-2 0-3 3-4-7-43 2-32-3 102 12 4 2-16 13-38-3 76 11"/>
<path class="b10" d="M410 491l-47 2 36 32-79 4 18 4 14 3 1-1 4 2 27-3 1 2 5 1 5-8 15-1 29 7 2-7 44 20-25-5-14 7-15-6-8 6-2-8-7-1-6-1-21 7-18 3-10 0-10-6-3 6-45 0 18 4 21 3 38 4 0-1 16-8 0 3 20-1 37-2 9 14-70 1-6 1"/>
<path class="b9" d="M382 526l-87 6 62 1 41-3 8 6 18 15-9-5-9-2-11 5-24-3-2 4 0-9-17 3-15 5-2 1-14-5-22-5 29 14 5 5 29-1 30 3 0 1 65-2 26 12-80-8-2 4-6-2"/>
<path class="b8" d="M465 509l-93 23 6 6 9-4 43 8-10 9-5-1-20-4-7 2-1-2-13-3-1 4-6-4-12-3-23 1-59 8-2-3 37 11 44 0 15-1 9-4 16 0 4 4 1 3 5-3 18 0 45-4 5 12-52 4-24-4-9 6-36 2"/>
<path class="b7" d="M362 534l84 13-23 1-17-8-4 11-10-5-12-5-51 2-11 1-9-2-11-2-17 16 32 6 3-7 2 2 15 2 9 1 21 0 12-5 13 8 2-9 26-2 92 7-95 5-26 4"/>
<path class="b6" d="M416 526l-83-1 0 6 129 15-49-4-70 6-25-3-39 14 35-2 11-3 4-2 1 4 16 3 18-1 37-1 3-2 7 5 1-6 10 6 2-2 12 3 11-1-29 5-6 1-18-2-2 1-8 9-11-4-11-2-10 4-12-2-6 4-23-1 50 5 62-1"/>
<path class="b5" d="M322 538l100 6-22 5-123 13 83-8 7 4 18 4 41 10-2-5-32 3-6 3-15-8-3 10-3-2-4 1-4-8-5 0-17 2-6-3-16 5 64 6"/>
<path class="b4" d="M405 551l-24-11-33 2-23 8-16 0-18 12 27-1 12-6 11-2 2 10 29-8 60 13-3-1-13 7-7-4-7-5-1 6-15-2-26 4-13-7-1 8-20-2-1 3-7-2-3-6 0 2-21-5-24 8 11 7 21-3 76 2 17-2 27 5"/>
<path class="b3" d="M400 542l-166 20 133 1 19-4 55 11-44 0-6-3-32 1-14 2-5-2-12 5-3-4-1 0-2-1-4-1-71 3-29 6 26 2 28 1 38-3 9 3 27-1 37-2 2 1 4 8 4-4 11 3"/>
<path class="b2" d="M469 525l-79 2-40 20-106 7 28 4 23 2 2 3 9-5 8 2 10-1 48 2 65 0 2 5-19 8-35-7-4 7-5-8-35 0-8 7-50-1-6 2-1-6-3 5-30-6-56 1 58 8 26 8 12-1 11-7 4 2 5 1 16 1 13-4 6 1 45 1 42 1"/>
<path class="b1" d="M343 563l45 9-11 2-24-2-12-2-3 1-21-4-12-1-23 6-46 8 21 3 2-1 47-2 6 1 4-1 37-3 3 0 20 6 12-5 10 1 0-1 13-2"/>
<path class="b0" d="M271 554l158 21-93-9-15 9-14-3-7-2-19 3-29 8 6-2 19-2 5 1 1 1 7 5 5 1 6 0 12-3 22 4 1-4 0-2 1-1 5 3 2-5 0 4 46 0-94 7"/>
<path class="b0" d="M257 555l60 7 32-5 43 13-17 3-23-5-44 2-5 1-38-4-129 12 108 5 8-8 8 4 0-1 2-3 2 6 7 4 31-7 28 7 8-9 3 2 5 7 1-10 9 6 17-5 7 2 5 0 35 0"/>
<path class="b1" d="M293 559l54-5 48 17-15 2-5 1-2-5-20-4 0 10-22-1-7 0-2-8-10 3-9 6-10-3-26-5-11 2-41-1-45 9 72 1 23 3 7 0 7 2 19-5 1-2 16 0 3 3 13 3 17 0 2 4 0-6 13-3 8 6 4-4 24 5 0 2"/>
<path class="b2" d="M369 546l-94-3-4 16 2-1 13-4 28 7 35-2 36 4 5-1 35 3-16 0-11 9-20 0-25-5-2 6-2-1-34-3-1-6-2 10-3-4-1 4-5-11-5 7-1 2-1-6-1 5-2 3-20-4-8-3-43 2-16-1-1 1 67 11 22-5 18 6 1 3 4-6 24-3 4 1 4 3 10 2 5-2 4-3 1 6 8-2 3-5 7 8 14-4 0 1 5-1"/>
<path class="b3" d="M294 549l-11 12 7-3 44 4 10 1 9-4 40-2 42 3 4 1-24 12-37-2-12 1-3-7-9 10-12-2-5 0-4-5-20 2-5 5-3-5-13 5-49 2 23 7 56-4 26-1 18 6 21-2 10-3 26-1 41 2"/>
<path class="b4" d="M270 562l43-5 1 5 57 1 1-6 2 0 32 1 2-5 14 5 32 13-2-1-2 1-5-6-4 0-39 1-6 4-26-1-3-2-9-2-1 9-3-6-25 6-22 0-6-4 12 6 14 3 34 2"/>
<path class="b5" d="M317 535l28-5 40 9-32 12-7 0-45-3-50 5 44 3 60 7 0-5 14 0 17 5 4-2 0-7 12 5 9-6 4 8 9-1 82 9-25 2-73 1-5-6-26 8-7-7-1 3-4 2-3-2-19-1-2-3-4 8-2-10-5 9-21-4-5 2-20-5 102 12 8 3"/>
<path class="b6" d="M395 527l11 4 1 0 20 13-64-2-5 1-31-1-19 12 12 3 3 2 0-3 4 3 34 3 8-4 4-5 10 1 18 8 4-10 20 12-23 8-32-5-4-2-56 1-36 6 18 5 47 8 57-5 1 1"/>
<path class="b7" d="M377 539l5-4 2 4 8-1 125 13-100-4-60 2-4-1-9 1-3 1-52-9-20 17 8 0 14-1 10-1 3 6 10-7 6 6 9-2 11-7 7 10 2-5 17 4 17-3 0 4 3-9 7 5 17 5 25-2 24-5 2-4-29 22-20-10-48 7-6-6-9 3-28 2-51 6 89 1"/>
<path class="b8" d="M283 517l-9 21 64 0 11-10 27 2 16-2 3 9 90 10-56 1-16-7 0 10-6 0-5-1-3-6-7 2-4 3 0-7-5-1-1 9-20 0-12 0-19 1-1-2-18-5-8 10 34 5 72 2 13-9 2 3 31 12-20 3-17-2-6 1-15 3-30-7"/>
<path class="b9" d="M413 525l-45 0-101 13 75-9 92 10 54 2-70 5 0 2-4 2-44-5-4 3-6-5-8 2-11 6-4-10-5 0-18 10-18 8 8-7 48 6 0-6 42 8 3-8 1 3 33 4 24-2-5 15-6-5-38 2"/>
<path class="b10" d="M464 522l-60 1-7-1-41 2-36 6 1 7 12-4 23-4 12 9 4 0 0-8 25 7 58 2 37 7-65-3-1 7-2-7-18 5-13 1-3-7-1-1-14 5-6-4-53 3-20 0 35 12 12 1 20 1 5-1 29 0 4-6 22 6 33-5-91 15"/>
<path class="b11" d="M334 507l92 18-29 0-8-5-11 5-63 8 18-3 7 7 17-9 34 6 34 5 29 0-19 6-4 5-6-2-9-3-5-1-4 3-3-1-5-1-13-5-3 3-16 6-8 2-21-9 17 17 29 0 3 4 14-8 0 2 85 3 11-6"/>
<path class="b12" d="M435 518l-27 2-4 0-14-3-26 5-1 0-5-2-3-2-26 3 11 8 12 8 13-8 13 1 0 9 2 0 37-6 62 13-61 0-20 3-10-4-36 4"/>
<path class="b13" d="M451 513l2 11-31-1-26-2-12 1-19 4-15 0-35-5 26 17 27-4 3 3 4-1 8 0 34 1 15 1 3-2 19 15-57-7-26-2-12 0-31 1-9-3 19 15 141-2"/>
<path class="b14" d="M355 484l-35 15-12 9 56 2 17-4 10 0 135 20-87-5-13 5-18 0-10-8-26 7-82-7 33 12 9 0 14 3 10 5 27 0 10-7 7 3 2 2 10 2 22-8 27 5 2 11-100 2-53-3 82 8 155-1"/>
<path class="b15" d="M344 490l28 12-54 10 39 1 52 0 42 0 26 6-37 0-47 8-4-3-12-2-6 4-1-7-7-1-21 6 3 4 17 6 3-4 5 4 1-2 8 4 9 2 2-2 2-1 10 3 22-5 30-2-1 17-35-4-35 7-40-9"/>
<path class="b16" d="M369 486l47 5-100 23 25-6 7 5 48-4 21 6 54 1-3 3-41 8-8-8-6 8-4-5-14 3-3-3-42-4-91 2 101 15 16-7 16 3 5 5 6-4 26 1 9 5 19-7 6-1 5 16"/>
<path class="b17" d="M334 488l97 15-4 0-73-1-28 12 28 0 60-6 33-1 42 20-47-4-7-2-5 6-5-6-18 5-7-5-11-5-18 0-4 11-7-7-18 6 28 4 37 7 18 1 1-10 14 10 0 1 6-10 21 3 32-3-37 13-100 1 54 9"/>
<path class="b18" d="M335 467l64 24 26 0-20 9-64 1-7-7 35 13 22-1 7-2 31 5 5-2 34 14-37 5-14-5-2 1-21-2-34 2-2 5-39-6 90 12 14 4 21-9-48 14"/>
<path class="b19" d="M450 479l-34 14-7 6-1-7-19 5-33 4-63-5 49 12 23 0 5-4 2 11 3-2 56-1-22 5-7 2-23 4-26 0 21 7 137 2 3 2"/>
<path class="b20" d="M407 478l-27 1-51 3 75 7 46-4 5 17-33-6-36 7-4-4-22 4 0 0-28-11-2 8-3 15 17-1 3-9 3 8 13-7 2 4 3-5 3 5 4 5 15 0 4-2 4-4 2 4 6-6 9 0 27 1 4-4 17 1-77 11-27 11-16-5 61 8 20 0 41 1"/>
<path class="b21" d="M403 458l-20 15-29-1-17 5 13 9 3-6 3 4 5 4 9-2 15 15-7-6-103 1 73 11 12 5 5-4 6-3 1 2 0-2 31-1 4 4 2 0 2 3 7-6 3 8 0 1 13-1 51-3-2 10-22 5-28-5-16 1-51-5 138 24"/>
<path class="b22" d="M386 454l-45 11-28 23 30 1 89-4 56 13-32-6-26 1-13-1-18 2-52-2 41 20 22-5 12 6 2-2 6-3 46 12-2-4-19 8-2 2-2-1-9-8-4 4"/>
<path class="b23" d="M327 464l1 1 13 2 38-10 21 9 10 9-13-1-15-5-29 7 43 12 10 1 16-3 52 16-1-2-24-7-5 0-38 2-1 2-11-5-5 0-21 7-13 4 24 10 5 0 11 2 8-1 36-10 15 6 16 8"/>
<path class="b24" d="M362 457l17 3 26 7 30 12-28-10-8 9-17 0-12 1-24-10-75-1 101 21 3-7 18 6 40 3 2-5 23 17-23-5-1-2-33 6-7-1-2-1-17 3-4-8-31 7-14-5 82 13 25 10-79-2 61 13"/>
<path class="b25" d="M356 451l52 12 11 1 4-4 43 6-20 9-12 3-54-2-53-6-6 9 53 6 21-3 2 6 30 0 13-8 27 20-5-4-8-2-9 9-16-3-7-1-6 3-7-7-10 3-27-6-33 5-21 9 38 6 8-1 102 2-19 5-80 8"/>
<path class="b26" d="M365 467l62-1-20 13-17-9-88 9-22 5 95 6 10-1 7-5 18-3 12 2 63 1 13-3-7 12-69 8-19-6-2 6-1-2-20 2-4-3 17 17 21-8 27-1 24-2 4 8-3 8-11-2-4 16"/>
<path class="b27" d="M352 458l24 7 52 1 53 8-52-4-2 9-35-10-11 5-41 3 15 8 6-4 2 1 55 6 9-7 4 2 0-3 68 11-30 4-10-3-2 5-15 1-21-6-32 7-18-5-3 8 39 2 10 1 34 3 30 10-57 3"/>
<path class="b28" d="M359 466l8-6 5 5 52-8 47 7 4 8-36 0-93-2-3 12 24 7 12-5 8-2 22 1 3-2 13 2 21 0 8-3 26 1 24-1-49 18-9 2-7-1-40 1-5 1-3-5-14-4-42 2 79 10"/>
<path class="b29" d="M368 456l23 10 9-6 5 3 17-5 1 9 13-4 40 2 24 9-20-2-25 1-23 2-32-5-4 7-2-6-1 1-19 0-78-4 8 13 9 5 61 2 5-8 19 6 6-1 7-3 8-2 33 5 3-4 14-1 36 4-18 16-44-8-24 1-28 10-6-8 65 9 8 8"/>
<path class="b30" d="M319 413l81 15-21 14 70 6-15 2-1 2-49-3-126 3 82 6 9 9 15-2 0-3 88 10-2-4-2 0-16 2-6 8-8 1-35-10-9 3-49 8 60 3 7 6 34 1 2 0 43-10 33 21-34-7-19 7-15-7-23 3-12 0-7-5-10 9-14-8 63 22 34-10"/>
<path class="b31" d="M388 420l-42 17 9-1 10 0 8 2 4 4 20-10 21 9 2 1 1-3-33 9-20 1-8 4-35 7 12-4 18 6 29 5 21-8 0 5 38-3 21 3 4 10-16-4-49 3-2 4-14 2-24-5-10-5-56 3 0-4 94 20 6-5 2 7 56-6 20-2-60 18 6 7"/>
<path class="b31" d="M426 421l-101 5 31 8 31 6 8-7 59 18-127 4 28 10 45-2 12 0 1-3 42 2-15 15-37-9-22 0-50 10-6 6 20-4 0 6 37-2 14-4 11 10 12-4 14 1-6 6-54 4-19-4"/>
<path class="b30" d="M386 438l28-1 11-1 39 15-60 0-27-3-29 3-3 4-11-11 30 23 48-7 15 5 71 12-42-7-47 0-1 7-42-9-13 16 11-4 6 8 16-4 44 1 6 0 1 6 28-10 9 7 11-4 22 19-14-4-65-6-14 3-29-4-14 4 27 9"/>
<path class="b29" d="M372 443l59-6-4 13-77 16 10-7 14 7 40-4 100-2-102 12-9 3-5-2 0 1-12 3-8-6-10 7-5-10-23 10-4 5 35 6 7-5 13 1 33 5 49-8 9 6 24 9-10-1-38 1-11-5-14 5-25 0-12 0"/>
<path class="b28" d="M351 438l22 8 9 18 4 2 40-8 20 4 1 12-22 4-30 0-2-8-9 4-25 4 59 5 2 5 7-7 16 1 12 0 2 7 28 1 30 3-40 8-7-9-24 6-14 5-3-9-2 9-13-10-11 8-69-8 67 16 23-4 2 3 11-3 5-1 75 5"/>
<path class="b27" d="M401 467l82-5-58 13-13 0-2 4-4-5-9 3-27-1-10-2-1 0-11 1-1 3-9 11 23 1 17-7 0-3 2 7 12 1 9-1 6 2 4 0 19-4 6 0 45 16-30-1-3 0-22 2-5-1-2-4-13-5-9 0-3 1-4 0-3 1-1 2-8 1-30-5 30 17 32 2 6-7 3 6 3 0 51 9"/>
<path class="b26" d="M341 448l42 10 2-1 36 2-13 16-6-6-61 2-29 16 30-6 2 2 28-2 5 7 7 0 44-8 12 0 36 9 17 14-34-3-9-2-4-3-16 2-5-3-1 4-55-1-45-3 67 19 2-3 53-4 51 6 19 3-17 2-50 2"/>
<path class="b25" d="M271 450l9 8 39 8 60 1 54-5-9 14-6 3-45-8 0 2-9-4-9 3-36 9 30 6 18-1 64 5 5-5-20 15-3-5-3-4-7 2-11 9-32-10-4-1-46 1 77 13 15 3 0 0 48-4 13 1 27 5"/>
<path class="b24" d="M443 476l-7-3-14 5-26-10-25 0-6 2-6 2-23-3-7 9 59 2 9 6 6-4 8 1 4 5 37 11-8-7-9 10-7-9-17 3-20 4-56-8-11 3 45 17 15 2 30-7 13 1 3-3 98 6-75 15-43-10 26 15"/>
<path class="b23" d="M406 445l-122 2 105 18 9-3 33 15-40 0-37-1 12 5 13 6 19 4 4-9 1 0 1 2 99 6-49 6-28 0 0 6-38 0-34-4 2 13 14-3 3 7 9-4 66 0 54 4-40 6-17-3-34 4-7-3 9 12"/>
<path class="b22" d="M409 473l-16 5-28 1-6-4-7 1-9 9 2 0 4-4 73 6 60 2 24 14-51-3-9 3-40-1-3-1-1-6-16-3-12 6-13-5-29 15 22 7 5-9 8 9 8-10 10-1 22 10 2-8 10-2 4 10 2-4 10-2 46 6-10 8-14 3-16-7-18-1-37 6 67 6"/>
<path class="b21" d="M428 470l-2 9-97 6 28 0 22 0 2-4 69 12-11 9-4-6-8 4-55-1-3 0-6 1-7 0-76-7 101 22 9-2 1-7 10 5 6-2 10 5 48-5 4 1 6-3-18 13-21 0-19 1-11-2-20 5-11 3"/>
<path class="b20" d="M394 460l-6 21 24 19-45-7-53-1 10 19 28-3 14-3 14 1 4 7 23 0 9-4 7 5 8-5 15 2-3 10-9-2-7 7-7-4-1-6-7 8-24 5 67 2-21 13"/>
<path class="b19" d="M248 487l29-6 79-1 28 10 10-1 55 4-12 7-25-2-21 0-47-6-24 15 24-1 9-1 4 7 6-4 22 6 1 1 32 0 17-11 61 9-7 6-23 2-11 3-22-1-17-4-17-2-10 3-10 4-38-4 58 12 44 0-105 8-1 3"/>
<path class="b18" d="M335 457l96 30-10 7-36 7-22-6-6 4-29 11 16-3 36 7 7-1 2-6 13 8 24 0 42-2 33-7-46 12-1 3-3-5-15 1-44 10-12-1-2-8-5 0-14 7-14-2-4-4 43 14 24-5 12 6 1 7-4 1"/>
<path class="b17" d="M388 476l-25 3-13 24-10-10-57 2 50 18 51-2 11-7 18 9 0 0 39-3-8 16 0 0-33 0-3 0-20-8-3 8-5-7-4 2-22-4-11 11 32 6 12 4 1-5 54-3 48 12-10-2-12 3-56-1-11-2"/>
<path class="b16" d="M409 503l-83 7 40 2 17-6 27 5 54 8-27 5-25-4-1-3-6-1 0 7-7-1-5 5 0-4-8 0-16 1-1-5 0 13 16 0 38-3 16 4 5-3 26 21-52-8-10-3-1 0-3 10-18-6-43 14"/>
<path class="b15" d="M439 468l-28 26-85 5-8-2 37 12 49 4 6-1 8 0 27-5-24 20-2-10-3 4-9-2-4 1-30 6-10-5-17 7 18 0 9 2 26 5 56 2 45-5-43 17-14-5-9 6-73-9"/>
<path class="b14" d="M322 515l72-1 5-7 40-1 9 21-5 0-17-2-1-8-10 5-30-1-32-3-50 7 42 7 13 2 20-4 8 0 5 2 11 3 2 3 5-7 9-3 10 8 1 0 15 0 69-3-64 7-10 3-35 1-10 4-51-3"/>
<path class="b13" d="M379 499l-6-1 16 12 3-5 11 4-3 8-12 8-1-5-49 3-25 13 23-7 8 3 4 3 17-4 2 8 3-5 24 2 2 0 30-8 2 10 0-8 16 1 0 1 1 7 28 2-37 2-2 8-18-8-25 0-18-3-16 8-21-6-46 2-2 5 57 9 204-4"/>
<path class="b12" d="M337 512l107 13-44-6-10-3-24 1-13 7-28-2-16 14 54 3 12 0 29-6 4 5 2 1 38-1 13-4 8 15-13-2-14-5-12 6-13 0-1 3-9-1-13-6-10-3-10 3-19 1-6 6-64-9 85 10 6 3 5-2 2 4 22-3 39 1 11-2"/>
<path class="b11" d="M433 463l-24 57-5 3-86-1-34 15 39-5 29 1 17 4 5-5 21-4 6 8 33 1 16-1-37 5-1-1-7 6-2-1-1-2-4 0-3-2-9 8-3-4 0-4-14 8-1 0-1 0-7 2-16-7-2-1 40 13"/>
<path class="b10" d="M374 511l15-2 75-5-129 12-45 18 30 4 28-2 3 3 1-6 11 6 2-6 64 5 18 5-10-2-28 2-5-3-4 11-15-10-27 0-18 9-24 0 19 3 5 8 0-5 8 3 54-5 7-2 1 7 7-7 2 3 17 1 17-1 5 0 30 11-124-2"/>
<path class="b9" d="M365 526l-12-3-38-4 29 16 50-4 29 5 1-8 46 11 14 2-12 7-16 0-7-3-18 1-20-4-29 5-1 1-1 2-2 1-11-7-5 6-4-7 0-2-3 1-10 9-33 0-5-9-1 18 26-6 36 2 10-3 11 10 5-4 4-7 24 3 24-2 15 2-44 18-34-6"/>
<path class="b8" d="M322 539l15-1 7-2 2 3 8-3 93 10-25-2-10 4-11 2-5-1-1-1-15 0-15 2-25-1-14 2 27 3 3 8 3-1 1-7 5-1 3 2 6 3 8-3 6 1 9-2 2 8 1-5 90 7-48 1-53-1-3 7-25-1-21-4-30-2"/>
<path class="b7" d="M394 525l-181 7 99 7 52-8 69 3 23 17-20-11-4 4 0-1-14-1-20-2-12 4-55 5-82-1 1 8 69 7 2-8 37 4 36 1 7-1 4-1 5-3 28-3 1 9-17 4-37 2-6 5-14-5-30 3-20-4"/>
<path class="b6" d="M421 526l-179 10 91 0 57 0 45 0-35 10-18-1-5 3-36-4-26 1-5 5-36 0-3 12 42-3 8 0 4 0 13-2 18 1 4-1 3 5 5-2 27-2 4 2 33 1 38-5-24 15-4-3-8 2-22-4-9 1-7-3-39 2-25 1-95-3 161 18"/>
<path class="b5" d="M409 550l-21-1-23 1-2 0-106-3-3 4 32 9 40 2 12-4 9-5 10 5 19 3 27 1-22 9-8-6-17 3-4 5-4-4-8 1-2 5-16-2-10-9-10 2-1 0 32 10 62 4 1-1 37 3"/>
<path class="b4" d="M393 550l-3-9-32 0-19 10-124-9 76 15 44 4 4 0 47-5 39 5 2 2-54 5-1 5-10-1-15-4-24 4-16-4-18 4-2 9 53-3 2-2 12 5 9-2 31-1 8 8"/>
<path class="b3" d="M420 548l-65 12 41 3 86 10-52-6-28 0-2 6-3-3-4-5-26 5-18-4-11 0-2 5-6 1-10-8-1 11-20-10-1 5-1 0-20 3-14-7-21 7 116 6 2-1 7 2 1-2 18 6 16-4"/>
<path class="b2" d="M392 545l-118 17 1-1 99-4 26-1 15 19-48-1-29 0-6-1-4-9-1 4-9 2-35 4-8-2-49 3 40 7 10 5 9-5 4-6 30 0 7 3 30-2 1 9 1-6 3 1 18-3 23 9 55-11"/>
<path class="b1" d="M350 538l5 24 23-8-41 15-9 3-10 2 0-8-5 8-4 0-7-10-41 4-17 6 43 7 5 1 9 1 5-4 20 0 0 2 31 3 2-5 8 7 22-4 18 2 17-8 9 5"/>
<path class="b0" d="M364 573l-39-5 0-4-3 9-2 0-7 2-15 0-1-2-8-6-27-1-14 3-62 8 30 3 12-3 50 7 3-1 1-2 27 2 9-1 6-4 5 2 1-3 4 7 11-6 4 3 5-1 2 4 3-4 13 8-95 0"/></g>
<g clip-path="url(#c20)"><path class="b0" d="M136 745l2 19 7 15-12 6-13-1 1 11 3 1 7 6 24-5 0 9-3 7-17-3-16 12 6-4 14 5 7-2 31 10-46 8-5 22 25 7"/>
<path class="b1" d="M139 740l7 40 37 30-16-5-16-1 0 2-21 7 7 11 22 1 11 9-33 17 2-3 32 5-28 5"/>
<path class="b2" d="M148 748l-6 25 3 12-17 17 8 0 13-7 9 10-29 7 22 6 3-1 27 8 6 14-33-9-15 8-17 4 7 1 7 14 82 15"/>
<path class="b3" d="M147 755l10 37-14 17-2 4-1 13 1-1-8 6-2 13 24 4 7 13-27 6 49 1"/>
<path class="b4" d="M158 810l-24 1 10 13 11 2 29 7-48-4-12 6 41 26-6 11 3-5"/>
<path class="b5" d="M142 793l19 18-10 0-11 13 32 0 72 1-76 4-31 22"/>
<path class="b6" d="M175 790l-38 11 20 2 24-7-4 9-26 20 21-6 49 15-34 4-12-10-14 30-25 7 49 3"/>
<path class="b7" d="M163 812l18 12 6 2 7-9-36 39 21 8 6 4 32 2"/>
<path class="b8" d="M200 796l-39 16 37 7 32-3-38 13-9 4-27-1 55 10-29 20-17-1"/>
<path class="b9" d="M165 827l10-10 28 8 17 14-14-11-20 20 58-6 28 14-85 12 9 3"/>
<path class="b10" d="M193 822l41 10-26 2-8 6 0 4 57 2-88 17"/>
<path class="b11" d="M242 844l85 6-102 6"/>
<path class="b12" d="M258 836l-58 3 55 8 10 1 20 7-27 0-34 22"/>
<path class="b13" d="M211 841l13 4 10-2 24 7 35 1-62 22"/>
<path class="b14" d="M184 831l89 18 2-2-8 8-63 19"/>
<path class="b15" d="M259 848l10 3 6-8 25 5 28 6-48-2-25 2-4 22-37 0"/>
<path class="b16" d="M278 813l-31 21 24 12 27-3 4-1 5 11-12 6-21-3-15-2-43 14"/>
<path class="b17" d="M277 828l37 17 16 11-28 0"/>
<path class="b18" d="M261 846l166 13-110-5-23 3-10-3-10 1-7 3-15-6-23 18"/>
<path class="b20" d="M326 849l-24 4-32 19 109 7-110-2"/>
<path class="b21" d="M298 847l65 17"/>
<path class="b22" d="M370 848l17 13-113 13 1 1"/>
<path class="b23" d="M411 863l-46-5-38-2-38-3 165 11 1 4-41 9"/>
<path class="b24" d="M322 856l63 22"/>
<path class="b25" d="M502 860l-219-4 45 21"/>
<path class="b26" d="M358 847l5-4 77 17-19 3-51-9-3 5-5-7-11 5-38 1 114 13 23 5-119 1-45-1"/>
<path class="b27" d="M420 859l-58 0-39-7 100 18-39 7-71-1"/>
<path class="b28" d="M339 851l81 11-9 1-53 11 68-4 8 2 24 2"/>
<path class="b29" d="M402 854l-73-2 92 15-30 11"/>
<path class="b30" d="M382 857l-59 18 90-11 30 1 5 9 10-8 4 9 26-4-13 7-19 0-23-2-47 2-7-2"/>
<path class="b31" d="M378 857l64 10 18 3 29-2-73 8-6 0-78 1"/>
<path class="b31" d="M481 860l-53 8 0 6 11-10 23 10 4-4 9 4 2-6 22 0-110 11-20-2"/>
<path class="b30" d="M429 859l-16-4-63 2 70 14 8-5 5 8 10-5 10-3 2 5 7 2 12 0 56-3-36 6-39 0-15 2"/>
<path class="b29" d="M345 843l60 19-61-4 36 17 37-4 42-5-108 10-16 2"/>
<path class="b28" d="M382 860l-14-4 60 19 4-1-60 5-65-1"/>
<path class="b27" d="M471 849l-43 19 21 6-90 3-38 0"/>
<path class="b26" d="M376 855l-20 7-3-4-6-6-36 23 10 2"/>
<path class="b25" d="M282 849l141-6 38 27-83 6"/>
<path class="b24" d="M400 857l-46-1-9-3-23 3-8-4 112 17 20 1 23 0-134 8-6-2"/>
<path class="b23" d="M398 860l-21 0-32-2-14-3 19 20 47-11 17 6-57 9-21-3-10 3"/>
<path class="b22" d="M308 840l46 15-6 0-81 3 9 17 146-3"/>
<path class="b21" d="M325 846l-11 13"/>
<path class="b20" d="M263 848l65 11-9-2-24-1-4 1 75 21-108-2"/>
<path class="b19" d="M269 849l40 0 8-3 57 14-29-6-26 4-28-4-3 0-18 4 10 20"/>
<path class="b18" d="M273 839l2 8 101 10-25 1-11-4-50 0-6-1-67 21 138 2-8 1"/>
<path class="b17" d="M273 843l4 5 30 3 75 10-21-9-55 3-12-1 4 14-36 8-40 1"/>
<path class="b16" d="M252 849l34 1 6-5-74 24"/>
<path class="b15" d="M240 844l81 11-63-3"/>
<path class="b14" d="M254 846l39 12-14 9 14 9"/>
<path class="b13" d="M244 837l85 20-55 2-92 6 45 7 10 3 121 1"/>
<path class="b12" d="M245 830l-42 10 56 7 33 4-91 2 13 19 63-5"/>
<path class="b11" d="M171 819l78 16 65 13-45 5-15 2-8 0-75 2"/>
<path class="b10" d="M244 835l-8 2-27-9-7 6 23 7 9 3 15 5-13 3-64 8"/>
<path class="b9" d="M174 818l54 0 50 20-69-6 8 11 2 3 48 6-8 4-6 1-28-4-67 10 26 1 30 8"/>
<path class="b8" d="M182 804l9 31-8-5-10-2 38 12 5 3 21 12"/>
<path class="b7" d="M147 801l11 6-10 16 43 0 1-4 14 6 46 10-23-7-26 3-11 2 16 9-29 18"/>
<path class="b6" d="M142 794l12 18-27-3 53 15 44 14-46-3-39 6 57 8 2-2 5-6 39 12-45-1-3 19"/>
<path class="b5" d="M201 829l-21 5-9-5 14 12 56 15-68 3 4 5 4 4"/>
<path class="b4" d="M147 795l33 20-25 0-6-3-14-8 68 23-6 4-44-3-13 2 5 12 12 32"/>
<path class="b3" d="M142 742l18 39-22 21 33 10-26 2-1 8 22 3 18 0 4 7-24 5-15 1-7-8-23 17 60 13-30 1-2-1-5 2"/>
<path class="b2" d="M147 791l-22-10 1 22 11-6 2 12-9 2-6 7 3 1 2 5 5 3 1-5 15 5 0-6-3 9 0 5-1 4-13 2 41 18-14-6-7 13 115 7"/>
<path class="b1" d="M140 779l4-1-10 2 0 16 23-3-26 17-4-1 7 9 0 3 9-1 3 5 6-3 1 2 18-4-35 11 3 16 6 5 0 11-6-7-4-2 15 13 4-3 6 1"/>
<path class="b0" d="M146 800l-8 11-14 16 2 0 7-2 1-3 9 17-3-6-4 0-4-5-3 8-1 0 0-8-3 0 9 20 2-1 0 3 3-3 2-2 41 2"/>
<path class="b0" d="M140 772l2 13 4 29-12-8-4 9-5 0 12 3 17 6 6 6-13 7-13-2 0 3-2-4-1 12 6-4 3 7 3-6 11 6 2-4 8 14-9-4-1-3 0 0-22 2"/>
<path class="b1" d="M125 766l11 18 3 13 28 4-29 10-2 3 0 11 1 1 2-1 4-2 11-2 34 3-28 8-19 2-4 3-2-7-5 15 17 3 1-3 23-1"/>
<path class="b2" d="M169 789l-35 8 43 2-20 7-22 18 7-8 3 2 22 1 1 0-15 18-8-6-7 16 0-5 5 4 11 2 21-4-4 18-20-4-3 0 0 4-6-9 19 15 11 7 5-6"/>
<path class="b3" d="M154 800l7 1-32 17 7-2 52 23-18-1-11-4-3 2-5-8-14 9 0 1-9 2 13 4 29-1 11 6 33-2-40 12-5-3-1 2"/>
<path class="b4" d="M131 778l43-3-34 32-4 4-9 13 26-6 0-1 16 9 13-6 7-4 26 11-44 2-7 0-15-1-13 23 32-10 2 1 29 3 27 2-52 12-16-3 1 15 5-7 11 7"/>
<path class="b5" d="M172 826l1-4 4 0 12 3 15 4-7 5-25 3-16 0-2-3-20-2 13 11 5 7 36-8 25 1 3 17-33 2-17-8-3 5-21 5 41 3"/>
<path class="b6" d="M174 783l-11 19 36 13-11-3-25 14 6-4 72 14-69-3-14 12 18 3 51-5-32 17-25-5-9-2-9 9-2-7"/>
<path class="b7" d="M227 830l-21 2-12 0-20 1-25 18 32-7 1 6 30-5-35 16-11 0 40 11"/>
<path class="b8" d="M237 785l-46 38 1 2 15-3 11 13-18 3-22 8 1 1 15 3 18-1 20-5 5-1 5 1-41 29 1-8 2 1"/>
<path class="b9" d="M208 817l-36 25 24 3 7-1 6 3 3-3 8 6 6-1 56-3-51 11-60-2-3 9 8 3 28-3 0 2"/>
<path class="b10" d="M192 802l-5 19 22-4 48 18-68-4-6 15 24-3 39 1 10 13-18-2-11 0 16 20 16-8"/>
<path class="b11" d="M260 838l-35-3-10-6-70 14 122-1-29 14-25-4-11 1-2-1-17 8-5 11 8-2 29-1"/>
<path class="b12" d="M195 846l57 1 68 0-23 8-95-1-6 15 6-5"/>
<path class="b13" d="M248 833l-43 14 17-3 25 3 73 15-51-9-17 0-59 19"/>
<path class="b14" d="M196 817l80 21-30 13 4-4 12-3 29 4 43-7-78 12-17-1-31 21 10-9 31 13"/>
<path class="b15" d="M275 838l-20 12 30 1 12 4-27 4-58 15 7-4"/>
<path class="b16" d="M223 846l21 3 39 8-23 0-2 0-11 16 41 5"/>
<path class="b17" d="M337 856l-19 4-46 0-13 14 57 4"/>
<path class="b18" d="M287 847l22 6-26 4"/>
<path class="b19" d="M224 845l34-4 2 4 14 5 38-9 59 13-26 2-53 3"/>
<path class="b20" d="M291 842l10 7 66 2-87 7 7 14 11-3-42 7"/>
<path class="b21" d="M406 860l-87-7-32 17 9-3 8 5 2 0 40-6 38-2 6 13-108 0"/>
<path class="b22" d="M399 862l-23 0-29-7-16 6 14 5 1-1 39 0 42 1 5 7-67 6-56 0-11-2"/>
<path class="b23" d="M308 851l20 0 121 6-28 3-33 2-108-7 100 20 34-9-19 12-63-1"/>
<path class="b24" d="M288 871l124-7 41 1"/>
<path class="b25" d="M315 848l82 13-16 1-7-5-4 0-18 6-35-10-8 2-27 2-3 8 96-1 51 0-110 14"/>
<path class="b26" d="M310 842l-14 25 128 8 23-7-120 10-25-2-11 1"/>
<path class="b27" d="M379 859l-48 5 15 10 3 1 23-11 12 7 48 5-114 1"/>
<path class="b28" d="M383 861l-19 1 51 13 55 0-109 2-9-1-7 0-37 1"/>
<path class="b29" d="M441 859l-12 0-5 3-59-10 61 20 17 3 82-1-95 3-83 1"/>
<path class="b30" d="M400 862l-12-4-27 0-2-2-25 0 1 19 58 0 6-4 1-1 20 4 4-1 7-4 11 0 7 0 45 3-98 4-40 2-32 1-9-2"/>
<path class="b31" d="M420 860l-54 0-8 2-5-1 47 3 11 11 9-5 8 2 8-1 33 4 0-9 2 5 13-3 2 4-22 5-59 0-71 0"/>
<path class="b31" d="M447 853l0 9-28-1-19-9-49 11 13 1 19 1 11 9 2-4 20 0 1 5 7-2 8-3 13-4 0 2-48 10"/>
<path class="b30" d="M381 863l-21 11 19 1 3-3 17-4 3 7 5-9 8 0 6 0 20 1 32 11-65-2"/>
<path class="b29" d="M455 863l-49-2-48-4-69 16 114-5 1-4 16 11 41-4 20 4"/>
<path class="b28" d="M409 863l-19-3-9 3-5 0-36-5-11 4-6 13 39-8 2-2 21 5 24 4 3 1 3-2 38-4 6-5-13 13-54 0-61 0-12-1"/>
<path class="b27" d="M366 860l-40 0 19 8 2 5 3-9 45 5 1-1 6-2 36 7 3-4-71 8-11 0-15 1-15 2-48-4"/>
<path class="b26" d="M453 860l-58 3-9-5-39-1-16 4-7-2-45 14 67-4 24 6 26-3 22 2 18-1-13 3-40 1-64 4-1-2-17-3"/>
<path class="b25" d="M442 847l8 15-100-4-18-2-23 1 75 17 2-6 12-2 6 8 2-7 4 5 9-3 57 9-58 0-80-1-4 0"/>
<path class="b24" d="M401 859l-35 2-36 0-42-1-34-8 35 21 148-8"/>
<path class="b23" d="M426 863l-70-5 0 0 0 1-19 15 18 0 47-10 6 0 0 0-54 13-33-1"/>
<path class="b22" d="M311 851l68 12-18 0-7-8-12 4-14 4-59 9 5 1 27-6 42 5 6 2 9-7"/>
<path class="b21" d="M411 858l-48-2-44 7-20-5-5-6 18 22 46-10 5 3 33-3 20 1-107 11"/>
<path class="b20" d="M314 854l-2 2-30 6-25-1-1 5 57-2 25 2 8-2 40 7 32-7 1 1-36 11-146 2"/>
<path class="b19" d="M238 846l121 7-5 7-6-1-16 3-72-4-49 13 67 1 28-1 48-6 12 3-78 9-23-1"/>
<path class="b18" d="M271 849l85 6-27 3-103 13 59-3 27 5 22-8-51 12"/>
<path class="b17" d="M318 859l-20-5-47 20 27-5 3-2 84 2"/>
<path class="b16" d="M191 842l78 4 48 15-30 0-20-1-13-4-36 12 93-4 4 11 33-2"/>
<path class="b15" d="M319 837l-83 1 21 3 12 8 37 0 19-3-15 11-25 2-38-5-3 0-35 16 44-4 6-2 24 4 24 1-36 7"/>
<path class="b14" d="M283 831l-80 14 8 5 10-9 51 8 2-6 72 17-19-2-32-1-7-4-26 10-14-11-25 3-7 7 10 12 6-3 5 0 11-1 7 5 1-9 12 5 42 2-50 4"/>
<path class="b13" d="M240 836l-21 12 102-1-5 5-12 5-21 6-13-7-28-4-23 9-7-6 60 18 11-4-80 7"/>
<path class="b12" d="M270 837l-77 3 26 1 10 6 17 6-19 4-6 0-14-2-4 1 15 11 12 6 29-3 2 1 13 2"/>
<path class="b11" d="M217 811l9 19-6 14 10 4 42 12-1-6-12 5-7-1-13-1-25 2-12-2-2-1 35 12 16-1"/>
<path class="b10" d="M195 812l-30 11 79 13-23-5-14 8-30-3-11 15 32-11 33 8 6 0 11-6 61 8-21 6-13 3-35-5-20 1-1 5-29 0-19 7 20 1 10 2 35-4 9 6"/>
<path class="b9" d="M187 803l24 26-33 14 40 4 8-2 0-5 2 10 43 1 13-3 49 4-55 6-5-4-8 1-14-2-7 3-14-2-10-2-9 1-2 0-12 14 38 6 14-4"/>
<path class="b8" d="M205 823l4 14-9 0-10-8 24 22 4-3 11-5 2 4 4 0 6 3 15 8-45 0-4 5-16-2-3 2-21-5 41 9 77 6"/>
<path class="b7" d="M197 823l40-5-41 19-1-2-23 4-5-10 0 21 0-1 27-9 3 9 14-9 33 11 21 1-37 4-23 1-1-1-7 7-25 0-26-9 66 17 4-5"/>
<path class="b6" d="M165 813l23 5 35 15-3-3-3 4-13 0-15-2-13 3-30-2 14 18 6-2 2-4 4-1 32 0 49-2 9 9-47 7-54 6 12 3 21 7 13 1"/>
<path class="b5" d="M189 804l-18 5-16 17 58-10-32 17-2-1-19 5-6-4-1 0-6 0-3-2 1 19 17-9 1 5 9 1 4 2 4-6 26 7 9-3 8 12-16-1-18 5-20-9-20-1 16 17 42 4 16-10"/>
<path class="b4" d="M135 769l0 7 22 1-8 26 14-7 2 4-9 6-16 18 41 0 28-5-1 20-15-2-1-2-16 2-3 1-17-1-19 2 5 2 19 4 11 0 17 4 4-1 15 9-16 0-26-2 31 9"/>
<path class="b3" d="M151 777l17 37 0-6-16 2-1-5-20 22 1-7 81 15-40 2-25-4-7 3-15 2 2 8 20 3 10 1 91 6-38 2-19 3-25-5-4 0-2 2-6 8 33 0"/>
<path class="b2" d="M119 775l46 13-8 27-27-9 30 16 3 0 3-4 65 3-49 9-13 0 0 6-6-7-9 10-6-10-10 15 3 5 12-2 2-5 15 5 5-2 20-2 4 0 21 14-50 5-35-4 24 11 16-3"/>
<path class="b1" d="M133 790l-8 7 10 3 0 18 3 7 14-4 16 12-4 5-6-9-2 4-7-1-6 0-1 0-4 6-6-1-4 1 3 11 1 0 32 1 26-3-26 7-16 7-7 0-12-4"/>
<path class="b0" d="M120 792l12 4 1-1 20 3-6 10-14 3-1-3-2 4-11-3 10 12 3-3 0 7 15-6 6 7 8-1 7 12-18-6-5 4 0 3-12-5 0 0-6 4-1 9 6-6 5 0 7 10 2-6 14 4 1-8 32 13-6 8-34-1-5 5"/>
<path class="b0" d="M124 766l11 9 6-7 18 16-18 16 23 4-17 2-3 8-22-5 15 8 4 2 3 2-4 17-10-10-2 17 1 3 6 2 15-2 12 0 16-7 2 2-11 17-13-5-14-1"/>
<path class="b1" d="M135 739l7 17-10 7-2 25-4 8 4 6 1 0 8-8 12 7 6 5-6 1 0-1-1 0-11 9-16 6 16-4 2 10 30 0-19 7-1-5-3 4-7 5-9 4 49-2-7 20-22-3-10 2 0-6 58 13 36-1"/>
<path class="b2" d="M133 789l2 9 0 0 19 12-25-6 2 15 8 6 4 2 4-7 9 5 1-2 57 12-25-6-6 9-6-7-17 2-9-2-18-1-2 7 21 4 15 0 11 6 6 7-4-2-11 9-6-8-7 3-3 4-1-7-3 4 4 7"/>
<path class="b3" d="M128 747l1 24 43 9-10 19 25 11-22 16 15-4-14 13-3-1-2-1-15 4-7-5-1 14 24-2 3-1 2-3 11 11 13-1 16-6-45 14-2 3-5 0-7-2 0-7-18 3 68 10"/>
<path class="b4" d="M164 811l31 6-37 20-4-5-7 6-3-3 9 14 2-6 2 2 3-3 2 9 19-8 2 0 12-3 3 1 3 10 5 9-14 0-25-2-2 3 20 11"/>
<path class="b5" d="M159 811l5 15 37 12-16-2-18-1-7-1-16 3 0 11 20-7 4 6 6-2 8 1 1 5 6-11 1 6 5-2 3-1 43 9-29 0-4 5-15 3-8 3-16-10-6 4-1 6-19-8 15 14"/>
<path class="b6" d="M157 763l5 17 6 27 29 19-24 9-6-5-22 4-11 8 11 5 6-2 3 4 17-9 9 8 7 2 0-7 14 2 6 2-4 11-5 5 0-10-8 6-1-7-1 0-8 4-5-4-16 10 8 9 16-5 17-2 4 7 17 3 0-3"/>
<path class="b7" d="M185 821l27 1-22 16-4-2-7 3-28 0 6 1 11 3 21-1 9 9 24-3 4 2-2 7-19 4-11-1-4-8-6 5 0 2-5 0-26 13 46-2 12-2"/>
<path class="b8" d="M189 822l40 4-12 3-22 9-45-3 20 13 4 2 2-1 19-5 15 6 4-3 3 1 9 12-1-7-1 4 0 5-6-6-8 3-2 0-14 3-21-7-9 9 12 0 21 2 1 6 35-5 26 6 23-5"/>
<path class="b9" d="M201 827l53 10-45-1-37-8-7 21 19-5 1 6 13 1 5-3 4-6 5 1 6 0 7 5 4-6 26 18-39-2-13-1-4-1-10 3-7-3-4 1-24 5 23 5 18 0 4 1 10-2 15 4"/>
<path class="b10" d="M218 792l-42 49 9 5 2 1 22 4 46 6-3 3-34-7 0 0-9 3-1-4-3 1-1 8-7-4 0 2-3-6-4 0-1 1-12 12 14 0 15 3 5-5 49 8"/>
<path class="b11" d="M236 829l-10 8-62 12 52 1 8-2 6 3 12-1 31-10-25 14-15 0-18 5-10-7-2 9-3-4-13 3-13 10 14-5 4-1 20 3 5-3 18 6 178 5"/>
<path class="b12" d="M216 849l5-2 1 0 23-3 5-2 14 9 38-1-19 12-1-9-29 1-8 7-36-1-1 3-5-11-3 17 14 0 47-1 47 6"/>
<path class="b13" d="M177 849l65-1 17 2 18-7 2-1 22-1-25 13-49 5-1 0-6-3-14-4-10 2 7 14 20 5 1-7 0 3 2 4 35-9 1 8"/>
<path class="b14" d="M222 832l-3 19 23-6 61 1 39 8-101 6-2-2-1 3-6-4-13 9 18-2 12 10 13-8 14-1 3 5 84-3"/>
<path class="b15" d="M247 849l103 10-9-2-40-1-19-4-5 5-10 2-5-5-14 3-25 3-16 2 7 7 36-5 10 8 1-6 5 3 16-1 14 6 5-7 10-2"/>
<path class="b16" d="M322 857l-20 1-23 4-3-1-19 2-21-8-17 11 13 2 24-3 5 1 16 1 58-1"/>
<path class="b17" d="M225 845l3-1 2-4 6 9 110 2-38 8-9-3-2 0-1 2-5-6-14 5-2 6-12-11-44 20 6-8 6 10 30-9 1 8 1-4 0-1 2 3 12-5 4-1 31 6 164-1"/>
<path class="b18" d="M403 859l-65-2-15 5-21-1-3-6-4 3-12-5-23 6-6 3-24 1-17 5 26-2 10 1 10 6 9-5 24-2 38 0 54 8 31-2 7-3-163 9"/>
<path class="b19" d="M356 841l-44 17-16 2-18-1-31-1-14 5 4 5 2 1 7-1 10 3 9-6 7 8 9-7 1 0 30 5 5 4 3-1 14-10 42 12"/>
<path class="b20" d="M343 855l-22 8-7-1-3-5-1-3-4 7-7 0-10-8-2 8-13-8-9 7-13 11 15 0 10-5 3-1 11 6 3-1 4-5 6 9 14-1 4 0 38 1-60 2-19 1"/>
<path class="b21" d="M291 850l77-2 19 8-9 4-44-2-7 5-16-4-2 3-8-3-16 1-2-7-50 17 23 3 10-6 8-2 2 3 7 3 9 4 5-1 5-3 19 2 24-8 14-1 11 2"/>
<path class="b22" d="M296 848l106 15-63-2-4 2-2-1-16 0-1 1-7 0-19-5-33-6 8 13 15 8 7 2 3-11 0 3 9 2 2 4 1-3 3-2 48-2 22 2 26-4-80 13-7 0"/>
<path class="b23" d="M338 861l-26 0-59 8 23 4 11-4 4 5 15-10 15 9 6-9 5 0 6 3 42 1 53 2 11-5-106 11-17 1-52-1"/>
<path class="b24" d="M351 861l-53-4-11 10 2 3 31 2 6-7 19 10 26-11 9 11 10-10 30 2 28 7-73 2-50 1"/>
<path class="b25" d="M452 862l-12-9-52 9-58-5-18 2-47 3 34 9 2-7 10 6 2-2 6 4 21-1 36-6 3 7 3 1 13-8 20 1 10 5-135 8"/>
<path class="b26" d="M397 858l-21-4-26 7-62 1-41 1 37 12 5-9 24 9 4-1 0 1 7 0 10-1 0-3 2 2 1 0 15 2 11 0 10-2 5 0 6 1 8-1 7-6 4-3 73 2-118 11-13-1-7 4-47-4"/>
<path class="b27" d="M413 860l-10 2-16 1-2-2 0-7-2 8-58-2-8 2-13 0-3 5 16 2 11 1 28-1 3-3 14 1 1 5 1-1 5-4 7-1 10 0 7 4 8 1-4 6-2 0-53-1-28 5"/>
<path class="b28" d="M450 860l-110 2-38 8 3-3 19-1 1 3 16 0 3-1 6-1 13 5 3 3 11-2 0-3 2 1 8-1 8-4 4 9 10-5 15 5 9-8 2 1-68 9"/>
<path class="b29" d="M465 863l-44-3-44 2-8-4-7 4-4-8-20 8-41-2 35 4 1 5 0 4 20-6 20 0 4 4 7-4 6 3 8 2 4-3 1 2 10 1 9 1 5-8 15 7 31 3-53 4-56-1-1-1"/>
<path class="b30" d="M377 851l147 12-83-4-16 3-23-4-78 5 6 3 2 2 7 0 17 4 6-5 5 8 8-1 1-2 2-6 3-1 9 3 5-2 1 9 6-1 3 0 7-6 3 3 5 4 10-4 1-3 9 2 0 5 4-4 2 3 6 0 9-2-57 6-13-1-27 1-6-2-18 1"/>
<path class="b31" d="M475 860l-105 0 6 8 0-4 13 8 3 2 18-7 4-1 8 8 1-3 7 0 2-4 3 0 2 2 4 4 73-5-93 8-35 1"/>
<path class="b31" d="M393 860l-19 1-12 2-13 0 0 3 33 9 11-4 0-1 7 0 17-3 21-1 24 3 11 1 9 2 4-2 25 3-56 4-34 0-61-1"/>
<path class="b30" d="M368 862l-26-10-6 17 18 0 0 5 23-4 5 0 10-1 8 6 1-5 8-2 19 4 1 3 1-4 8-3 5 4 28-1 3-3-34 10"/>
<path class="b29" d="M386 836l59 26-53-1-61 9 3 4 20-3 15 1 1 1 3-1 2 3 1-4 1-4 13 4 1 4 0-1 0-1 10-1 6 1 2 0 10-7 2 4 3 2 12 0 22-2 15 5-67 5-17-3"/>
<path class="b28" d="M410 859l-5 2-12-9-6 10-3-3-38 3-18 3 4 9 7 1 12-6 5-1 12-4 21 2 16-1 33 5 3-2 28-2-95 12-14-2-18 0-36 1"/>
<path class="b27" d="M391 863l-20-1-1 1-34-2-9 6 17 4 0-2 1 5 6-8 2 9 2-9 6 1 2 5 5-6 4 3 15 5 0-6 19 0 2-4 3 2 5 6 8 2"/>
<path class="b26" d="M400 847l-4 14-25 0-1-3-30 5-30-3-56 9 34-3 9 8 6 1 5-5 13-1 9 4 1-6 4 4 2-1 6-4 12-1 4 3 1 6 8-6 3 7 22-11 8 6 41-5 8 6-110 7"/>
<path class="b25" d="M328 857l-52 11 15 1 0-1 14-3 0 1 4 0 1 2 0 4 1-2 0-4 4 5 1-4 9 4 2 4 13-8 3 2 1 3 3 1 7-2 2 2 7-4 2-5 2 6 4 5 15-4 8 0 1 0 11 0 4-1 20 4-27 5-17-3-14 0-64 0"/>
<path class="b24" d="M332 849l23 14-1-2-15 2-2-4-1 4-23-1-21-2-3-5-4 6-6-5-24 12 45 7 16-9 3-1 2-1 1 7 1-7 1 5 5 1 3 3 3 0 1-3 8 3 3 0 5-4 13 3 4-4 1 3 6 2 1-4 0 5 5-5 22 5 4 0 6-2 33 0-118 4-15 1-11-1-26 0"/>
<path class="b23" d="M360 860l-26-1-17-2-4 3-15 2-23 7 9 2 11-6 1-1 3 0 2 0 2 4 15 1 1-5 3 11 14-3 3-3 6-5 2 7 18 3 14-8 4 2 5 6 6-5 12 0-80 8-27-1"/>
<path class="b22" d="M320 837l43 20-21 3-9 0-15 3-8-4-3-1-1 4-7-7-22 4-8-4-4 3-27 12 22-5 14 8 19 1 0-7 7 7 3-4 11 2 2-5 4 5 1-1 1-5 2 5 11-3 4 5 2 1 0-9 0 8 5-3 3 0 3 2 6-3 2-5 8 9 14-8 0 6 10-5-77 10"/>
<path class="b21" d="M302 849l48 0 22 9-7 1-5-4-17 6-15 1-18-8-5 9-14-2-3 2-2-6-24 0-1 2 6 16 4-4 2 1 7 0 5-7 9 0 3 10 10-7 2 5 5-6 1-1 1 5 8-3 4 3 0 1 1-5 4 2 7 3 3-3 3 1 15 3 4-8 1 6-88 5"/>
<path class="b20" d="M372 852l-8 1-17 8-10 1-26-3-18 3-10-3-9 3-16 0-7 9 2 0 26-6 17 1 0 2 5-1 4 7 9-6 11 6 23-3 4-4 24 2-81 7"/>
<path class="b19" d="M335 831l-27 17 1-2 22 11-7 6-14-3-2 3-18-7-29 4-29-2 19 10 1 7 4-10 16 4 0-4 4 7 18 0 3-2 2-1 4-4 17 2 23-3 18 6-65 7-43 0"/>
<path class="b18" d="M264 829l12 20 31-6 19 7-21 10-12 3-47 2 15-1 8 6 11 1 6-7 1 5 3 2 6-1 11-3 16 1 17 5 10 0 27 1"/>
<path class="b17" d="M297 861l-1-8-20 9-7 0-8-9-20 10-14 10 5-4 19-3 3 6 2 0 1-3 5-1 7 1 13 5 7-6 11 1 22-2 12 6 24-1"/>
<path class="b16" d="M238 851l16-7 28 3 18 7-7 8-6-5-4 2 0 3-4-9-8 8-5 1-12-4-2 3-8 1-9-5-14 12 10 1 11-1 13 1 3-2 1 5 4 2 7-7 0 0 0-1 1-1 2 7 4-5 3 5 2-6 5 0 27-1 33 3-63 8-78-1"/>
<path class="b15" d="M228 851l18-3 14 3 74 4-8 3-18 0-12 3-15-1-33 1-12-1-18 7 15-3 5 4 2 6 5-10 34 1 3 4 13-1"/>
<path class="b14" d="M222 825l-3 26 26-11 6 4 31 3 17 4 30-6 18 9-4 7-22-2-19-2-26 5-14-2-6-2-2-3-5 1-6 6-2-5-7 6-1-2-3-3-9 5-16 4 27 0 8 5 4-5 1 3 1 3 2 0 17 0 2 0 8-1 20-3 2 4 11-4 4-4 18 2"/>
<path class="b13" d="M222 825l9 26 42-7 80 12-62 3-5 4-2-2-13 1-2-4-3 5-11-10-2 5-2 4-6 1-1-11-6 6-1 1 0 4-38-4 3 11 4-4 1 2 2 4 16-3 3-1 5-3 5 6 4 0 2 3 11-4 19-3 3 3"/>
<path class="b12" d="M231 825l40 13-98 6 28 5 6-8 9 3 51 7 66 8-50 2-2-1-1-7-5 6-1 3-5 0-6-1 0 1-1-5-15 5-12-2 0 1-12-6-1 5-3-1-15 1 4 5 9 0 32 0 18 0 2 0 8 7 7-7 5 9"/>
<path class="b11" d="M223 828l-23 6-19-3-3 3 62 14 11-4 16 4-3 15-4-11-28 0-5 2-2 9-2-2-3-3-8-2-23 13 42 3 3-7 6 1 2-1 9 6 68-4"/>
<path class="b10" d="M241 832l-26-3-6 20 15-8 15 4 33 10-1 7-27-4-2 2-3-1-4-7-1 4-4 5-27 1-2 1-1-3-2-6-12 1-11 3-8-2-1 15 27-2 14-5 4 1 1-1 1 6 9-4 4 4 1-5 3 0 0 3 10-4 14 1-37 11"/>
<path class="b9" d="M218 822l-30 8-1 1-17 3-9 10 33 2 9 4 6 0 10-9 4 8 2-2 8-1 1 3 30 0 0 9-5 3-9-2-21 2-12-3-7 1 0 2-12 2-3-7-3 0-17 0-3 8 44 0 1 1 9 3 4 0 13 0"/>
<path class="b8" d="M182 808l-4 37 27 4 1-8 1 4 9 4 45-1-10 15-14-6-5-3-4 8-1 0-12-7-6 4-10 0-1 4 0-8-1 0-4 0-1 0-16 5-2-2-11-5-3 7 20 8 13 1 0-4 16 6 5-7 4 8 8-6"/>
<path class="b7" d="M196 812l33 8-17 13-19 2-5 2-6 1-4 0-15 1 10 12 10-11 2 10 1-1 2-6 51 20-13-10-2 5-5-2-7 5-2-8-20 1-1 3-3 0 0 2-6-6-4 9-3-5-10 1 24 7 1 9 6-10 13 7 5-5 30 7 5-4"/>
<path class="b6" d="M162 821l31 8-20 9-27 9 10-4 5-3 25 11 6-6 8 2 15 3 52 8-44-6-9 10-15-4-1 4-8-3-4-5-1 6 0 0-2-1 11 8"/>
<path class="b5" d="M167 795l-13 24 5 4 15 16-9-9-1 3 4 10 4 0 3-3 16 5 8-5 3 8 10-1 1 0-5 5-17 5-4 3-5-7-3 2-4 3-1 5-16-4 57 7"/>
<path class="b4" d="M131 824l18-4 3 0 40 19-25-1 0-5-15-5-2 11-6-7-1-4-11 22 6 1 4 0 5-6 0 6 10-9 2-1 2 10 3-8 6 8 4-3 14-1 0-3 15 18-8-5-7-1-7-1-5 5-3-4-4-1 24 9 38 3"/>
<path class="b3" d="M154 750l-6 65-7-1 14 12 16-3-9 13-23 3-11 1 8 1 2-1 2 11 1-11 14 3 1 8 0-11 4 6 5 1 1 0 4 4 1-11 1 1 4 8 16-6-35 9-2 8-1 3-12-6"/>
<path class="b2" d="M122 779l40 8-28 0-3 16 21-10 17-1-16 17-4-1-4 0-3 5-8 1-8 1 18 7 14-3 31 13-9 7-30-8 0 4-16 14 4-7 0 4 3 5 8-10 7 10 15-2 3-6 46 17-4-6-34 5-8-6-9 3-21 0 45 10"/>
<path class="b1" d="M128 799l19-5 17 10-19 1 0 6-21 2 14 12 9-7 10-1 37 18-30-4-1 1-1 0-3 7-1-7-2 0-1 6-2-6-1 1 0 4-4-6-24-2 1 18 10-2 8 1 4 5 3-9 3 4 15 3 31 0-22 5-16 5-3-5-1-1-4 7-6 3-4-8 24 9"/>
<path class="b0" d="M133 751l-5 23 5 24 7 5 14 11-2-2-4-6-3-2-1 10-20-1 5 8 9-3 3 0 8 0 1-2 7 5 40-4-30 12-16 7-9 0 0 1-10-1-1-7 7 15 7 4 2-8 6 3 12 3 12 8-28 1-8-2-7 3 1 10 1 2 3 7 27-9"/></g>
<g clip-path="url(#c30)"><path class="b0" d="M187 1068l94 35-33-3 9 13 20-4 38 1 11-5 20 4 1 6 7-7 12 18-37-1 4 11-33 6 0 4"/>
<path class="b1" d="M298 1053l-56 22 78 17-20 6-21 1-14 3-33-5 74 10 42 7 51-5-68 8-13-1-5 0-16 6-4-2-5 1-6-2-37 19 48-9 4 4 16 1 2-2 13-2 48 4 4 1-78 16-3-10-32 5 7 10"/>
<path class="b2" d="M245 1045l16 26-26 12 8 5 29 1 8-4 89 14-101 16 6-1 64-10 70 23-100-1-86-8-24 11 147-1-26 21-16-8-28 16"/>
<path class="b3" d="M242 1046l77 56-2 8 4-4 102 15-69 1-33-3-29 5-9-3 7 14 20-6 110 14-66 0-63-3-7 5 15 7"/>
<path class="b4" d="M308 1114l10-3 76 13-32 10 33-1 4 3 18 2 13 3-1 7-7 0-50-8-157 3"/>
<path class="b5" d="M301 1100l37 7 33 12-19 3-41 3 2 13 24-9 49 5 47 10-132-1 9 13"/>
<path class="b6" d="M274 1059l65 17-74 4 32 31 42-6 24 16-27 1-94 10 59 5 27-8 42 5 104 17-3-10-7 4-190 2"/>
<path class="b7" d="M406 1120l-129 19 56-6 82 4 5 7"/>
<path class="b8" d="M274 1082l78 44-9 1-13-8 65 16 10 4 51 7-31 5-2-2"/>
<path class="b9" d="M296 1127l132 13-34 0 78 22"/>
<path class="b10" d="M368 1127l-9-8-68 6 143 26-118-5-7-2 2 12 143 1 2 1 8 4"/>
<path class="b11" d="M383 1115l25 33-13-4-94 0 17 15 5 8"/>
<path class="b12" d="M285 1158l47 6-7 1"/>
<path class="b13" d="M264 1137l123 0 24 2-61 8-54-4"/>
<path class="b14" d="M409 1127l-17 14-84 20 148-2"/>
<path class="b15" d="M427 1149l-117 2 162 9"/>
<path class="b16" d="M391 1131l53 23 33 8-177 4"/>
<path class="b17" d="M440 1146l-134 3 19 4 184 16-10-4-19 0-146 0-22 1"/>
<path class="b18" d="M460 1162"/>
<path class="b19" d="M248 1138l231 29-149 0"/>
<path class="b20" d="M314 1160l152-2 68 9"/>
<path class="b21" d="M452 1159"/>
<path class="b22" d="M510 1174l-100 1-47-2-40-5"/>
<path class="b23" d="M520 1169"/>
<path class="b24" d="M271 1155l257 17-167-1"/>
<path class="b25" d="M271 1143l219 24-60 7"/>
<path class="b26" d="M493 1175l-49-1"/>
<path class="b27" d="M303 1162l218 10-28 2-34 0-31-1-76-3"/>
<path class="b28" d="M314 1163l140-7 5 1-75 16-52-9"/>
<path class="b29" d="M296 1151l4 9 158 1 48 11-10 3-100-2-4 1-6-4-45 1-14-6-25-1"/>
<path class="b30" d="M504 1175l-41 0"/>
<path class="b31" d="M506 1173"/>
<path class="b31" d="M454 1160l69 13-93 1-27 1-78-10"/>
<path class="b30" d="M476 1174l-24-1-68-1-42-4-20 1"/>
<path class="b29" d="M505 1174l-5-5-6-2-139 1"/>
<path class="b27" d="M294 1162l182 10-113 2"/>
<path class="b26" d="M280 1140l-39 17 275 17-22-2-5-5-8-2-95 5 101 7"/>
<path class="b25" d="M545 1175l-57-11-169 0"/>
<path class="b24" d="M455 1151"/>
<path class="b23" d="M483 1173l-86 1"/>
<path class="b22" d="M305 1158l172 4 29 12-25-3-4 0-6 4"/>
<path class="b21" d="M275 1158l5-1 208 11-28-4-20 10"/>
<path class="b20" d="M453 1160l59 14-41 0"/>
<path class="b19" d="M402 1141l-125 10 184 13"/>
<path class="b18" d="M412 1142l-52 1-55 11 126 18"/>
<path class="b17" d="M454 1146l-57 27"/>
<path class="b16" d="M483 1158l-12 16"/>
<path class="b15" d="M296 1133l22 27"/>
<path class="b14" d="M320 1114l-3 20-14 24 20-4 134 8 90 8-86 0"/>
<path class="b13" d="M424 1150l-107 5 163 14-90 3"/>
<path class="b12" d="M392 1137l-35 5-72 1 162 12 32 7"/>
<path class="b11" d="M315 1132l11 0 109 15-14-2"/>
<path class="b10" d="M401 1133l5 4-9 9-77 8 144 9 5-2"/>
<path class="b9" d="M343 1118l-34 21 44-5 42 4 47 1-110 6-18 5-7-8-8 0 29 10 155 7 1 5"/>
<path class="b8" d="M249 1112l37 14 99 5 13-2 6 10-5 2-45 2-32 0-51 1 194 19"/>
<path class="b7" d="M335 1108l29 18-15-10-40 11-4-6-16 4-39 3 19 10 12-6 97-3 4 7 20-5-54 16-42-6"/>
<path class="b6" d="M321 1104l121 6-52 9-50-2-22 10-40 8 118 10-14-4-103 6 183 11"/>
<path class="b5" d="M324 1089l-24 18 96 5-6 14-81-3-5 3-53 9 95 1 22-5 0 5 1 0 11 3 22-8 7 17-57-7-95 16"/>
<path class="b4" d="M349 1099l-58 12 40 2 14-7 4 14-9 5-70-4-29-4 50 18 27-5 60 2 6 6 57 7"/>
<path class="b3" d="M366 1043l-36 45 37 11-69-4-12 3 100 17-29 8-34 10 26-4 53-1 11 8 13-1-28 6-13 1"/>
<path class="b2" d="M205 1083l107 8-11 8-32-1 14 7 137 5-70 17-42-10-2 9-9 1-23-5 20 10 21-3 53 2 13 2 1 2 24 6-111 10-2 3 35-1"/>
<path class="b1" d="M236 1036l23 40-89 1 122 9 94 10-36-2-48 7-10 6 4 5 17-8 47 17-35 0-34 6-9-2-30-2 6 7 48-2 11 2 61 5 17-7 2 18-51-3"/>
<path class="b0" d="M270 1047l-18 24-8 0 60 27-16-5-17 6-13-2-6 6-66 8 78-4 14 2 31 5 124 3-47 10-52 0-12-6-1 3-35 10 14-6 8 1 17-1 20 5 43 0 9 11-84 0-6 4-36-4-6 12"/>
<path class="b0" d="M271 1062l-14 19 79 21-15-10-59 10 7 9 13 2 26-4 58-5 0 13 0 9-15-9-50-1-22 6-21-3 19 15 4 3 8 1 121 12-64-9-49 10"/>
<path class="b1" d="M303 1103l-15-1 27 4 8 8 106 12-56-2-6-6-17 7-49 5 17-1 67 6-42 7-49 0"/>
<path class="b2" d="M330 1078l-50 24-9 1-18-8-22 0 43 12 58 6 15-1 36 12-22-3 0 4-2-1-62 2-8 1-16-6-86-5 82 16 17 7 28 0 53-2 31-4 24 3 15-2-119 13-9 2-16 0-49-9 52 18 18-3"/>
<path class="b3" d="M243 1111l76 0 19-3 8-3 16 18-13-3-102 11 50 0 23 8 5-6 7 3 10 0 29-3 3 2 8 4 7-5 18 2 6 3 26 11-117-8"/>
<path class="b4" d="M287 1073l-12 18 40 5-4 6-10-10-27 22 72 0 31 10-48 0-14-2-17 13 35-6 3 6 7 0 27-1 1 7-28 0-50 11 163 2"/>
<path class="b5" d="M227 1091l90 30-40 8 22 7 10-8 34 2 30 9 8-6 22 6 30-10-47 22-39-2-6-7-39 1-7-2"/>
<path class="b6" d="M317 1098l-6 10 16 0 5 10-21 8-26 3 2 2 36 0 2-3 5 11 68-1 74 4-73 1-38 0-19 4-32 1"/>
<path class="b7" d="M284 1132l31 4 16 0 18-8 15 1 24 7 38 10-97 0-13-1 180 24"/>
<path class="b8" d="M304 1092l109 29-21 4-72-6-48 3 77 16 7-7 40 3 0 12-35-4-49 3 14 9 61-1"/>
<path class="b9" d="M335 1132l45 8-3 0-25 3-30 3-12-6-15 9-28 5"/>
<path class="b10" d="M282 1088l38 43 20-1 13 2 20 7 5-2 24-1 56 15-32-1-88-5-17 6-2-10 225 19"/>
<path class="b11" d="M288 1108l43 19-61 1 63 2 9 18-16 9 103-5 2 4 1-3"/>
<path class="b12" d="M411 1141l-84 17 115-1"/>
<path class="b13" d="M290 1121l142 24-9-4-9 3-126 7 38 9"/>
<path class="b14" d="M382 1144l-18-2-19-1 118 19"/>
<path class="b15" d="M469 1158l3-4"/>
<path class="b16" d="M328 1151"/>
<path class="b17" d="M283 1160l185 0 17 7-143 1-18-3"/>
<path class="b18" d="M398 1151l108 6-131 14-31-4-3 0"/>
<path class="b19" d="M320 1143l88 9 13 5-60 14"/>
<path class="b20" d="M344 1149l98 9 81 14-25-4-1-4-48 10"/>
<path class="b21" d="M293 1157l40 6-10 2"/>
<path class="b22" d="M317 1160l18-1 147 9-136 2"/>
<path class="b23" d="M311 1156l137 13-50 4-56-8"/>
<path class="b24" d="M301 1159l190-4-10 13-74 4-78-3"/>
<path class="b25" d="M340 1144l-40 14 140 14-5 1-43 1-27-1-38-8 142 11"/>
<path class="b26" d="M314 1148l-2 10 5-3 105 3 29 1 32 13-65 2-25-4"/>
<path class="b27" d="M503 1170l-70 4-7 0 97 3"/>
<path class="b28" d="M515 1172l-40 1-25-5-44 3"/>
<path class="b29" d="M513 1168l-73 1-19 6-4-1-15-1 85 3"/>
<path class="b30" d="M299 1148l26 12 142 15-3-4-37 2-14 1-25-3-2-2-2 2-31 1"/>
<path class="b31" d="M450 1168l-10-1-11 6-92-5"/>
<path class="b31" d="M319 1162l6 1 171 11-122-4-46 0"/>
<path class="b30" d="M299 1151l27 3 3 7 10 1 86 13-21-1-4-2-12 0-58-8-11 3"/>
<path class="b29" d="M311 1133l-8 22 155 1 9 5 36 8-109 3-3-3"/>
<path class="b28" d="M304 1148l10 12 24 0 181 10-18 4-22-1-89-5-8 4-31-1-12-7"/>
<path class="b27" d="M487 1173l-149-7"/>
<path class="b26" d="M342 1150l-40 1-25-8 57 14 157 5-20 11-20 1-67-3-1 1-39-6"/>
<path class="b25" d="M280 1139l38 23 14-5 90-3 107 17-60 3-49-1-15-2"/>
<path class="b23" d="M284 1153l219 18-8-1-5 2-11-2-10 5-7-6-48 2-19-1"/>
<path class="b22" d="M359 1148l-36 11 162 14-19 0-34-1-40-4-18 2-10 1"/>
<path class="b21" d="M375 1152l60 5 48 16-32-5-83 3"/>
<path class="b20" d="M459 1146l-54 1-58 3-17-5-50 12 136-5 8 5 63 5-45 13-44-4-63-3-6-1"/>
<path class="b19" d="M293 1137l92 8 58 9 68 18-12-3-10 5"/>
<path class="b18" d="M426 1150l-97-2-10-2 9 11 111-1 45 15-30-4-79 3"/>
<path class="b17" d="M326 1163l49-5 118 12-4-1"/>
<path class="b16" d="M342 1139l24 0 45 2-75 20 102-4 49 12-27-5"/>
<path class="b15" d="M365 1138l36 8-64 6 1 2 36 7 58-4 45 8-63 5"/>
<path class="b14" d="M376 1121l-36 7 74 16-20-3-3 6-59-7-25 17 24-5 42 7 48 3 7-5 5 2 3 1 12-4 78 13-216-2"/>
<path class="b13" d="M345 1138l65-4 1 5-70 5-13-2-3 5-2 15 13-6 13-3 83 5 39 4-19 3-104 5"/>
<path class="b12" d="M383 1127l-60-6-15 17 40-3 70 10-23 5-5-4-1 4-4 0-51-6-38-1 50 9 123 3"/>
<path class="b11" d="M357 1125l-13-1 43 7 26 16-27-3-13 4 43 5 40 3 41 10"/>
<path class="b10" d="M354 1099l-23 20-19 9 23 2 5 3 69 4-5 8-7 4-13-1 86 9 22 16"/>
<path class="b9" d="M400 1099l-30 36 79 13-18-3-25 0-17 6-27-11-10 2-7-2-13 14 71-1 96 11"/>
<path class="b8" d="M331 1119l-11-1-7 13 42 2 57 1 30 13-6 2-53-1-10-8-9 4-4 6-14-3-38-4 68 11 20 0 1-2 73 0 20 9-47 7"/>
<path class="b7" d="M382 1103l-112-5 19 16 2 6-78 12 174 13-30-3-39 3 10 13 74-6 33 1 11-1 6 4 7 4"/>
<path class="b6" d="M237 1086l130 4 30 7-120 4 25 14-10 24 2-8 35-1 51 1 2 3 42 11-6-5-4 5-101-2-3 3-2 0 138 12 1-1"/>
<path class="b5" d="M284 1105l97 7 14 8-28 2-17-1-30 6-13-2-6 6 13 6 12-5 7 7 8-1 1-6 19-2 13 0 35 12-2 8-10-6-1-3-67 1-46 6-29 6 170 2 27-3 55 14-25-2"/>
<path class="b4" d="M306 1074l-23 34 26 7 52 10-1-3-32-6-1 5 24 10 89 8-15 10-100 0-18 2 27 2 14 0 3 1"/>
<path class="b3" d="M288 1073l-11 23 106 15 4 5-54 6-99-4 49 17 14 2 8-1 41-5 6 2 1-4 6 9 3-1 24-1 5-1 73 2-60 14-19-11-28 5-11-4-13 7-31-1 94 10"/>
<path class="b2" d="M285 1086l19-2 15 3 8-6-14 18-28-6-19 14 7 8 3-2 65-8 3 1 70 9-46 3-27 8-29 1-14-8-3 0-1-3-22 1-46 6-20 8 70 6 13 0 34-2 5-2 19 6 17-5 9-4 9 8 18 1-15 4-9 2-60 1-33-2-11 0-1-4-6 4 104 24"/>
<path class="b1" d="M227 1037l81 66-20-1-3 9 16-4 52 6 4-4 3 12-19-3-15 8-61-6 41 11 6 4 11 1 30 1 6-2 16-6 14 12-73 13"/>
<path class="b0" d="M198 1041l-62 24 80-4 68 15 19 4-20 12-55 5-25-3-11 13 48-2 37 0 58 10 14-4 27 13-7 0-39-7-14 1-54 6-10 1 35 4 38 4 4 2 3-5 15 6 30 0 91 14-83-4-41 1"/>
<path class="b0" d="M296 1081l43 19-81-7-29 2 53 16 16 1 15 2 28 0 7-3 4 14-40-8-11 6-6 2-14-1-1-2-35 16 30-4 15-1 27 6 19-10 15 1 5 1 14 3 27 4-31 4-22 3-27-3-58 15"/>
<path class="b1" d="M272 1080l21 10 60 0-16 11-76 1 80 4 53 16-68 1-22-3-85 12 25-3 58 10 7-9 3-2 3 1 14 9 2-8 2 4 37-6 3 0 2 11 58 8-9 0-72-7-2 4-28 5-16-4-9 6-61 1 71 4 24 4"/>
<path class="b2" d="M345 1069l-69 6-10 18 61 20 30 1-19 3-21 6-31-3-9 7-5-9 36 19 18-3 12 3 64 2 23 9-38-8-38 2 0 0-35 5"/>
<path class="b3" d="M218 1051l48 16 11 11-14-2 9 33 121 3 20 14-47 1-93 5 46-2 22 7 22 1 48-4-14 10 0-1-8 0-23 3-63-1 17 11 58 1 57 3 47 2"/>
<path class="b4" d="M354 1066l-29 6-11 40 8 1 48 14-23-2-6-1-3-4-5 4-26-8-5 18 48 5 0-5 4 0 14-5 2 7 30 0 1 1 1-6 0 7 4 8-3-5-47 0-100 4 58 7 61 5 75 10"/>
<path class="b5" d="M368 1110l4-3-68 12-15 0 16 14 30 6 7-6 23-4 20 1 5 6 18-1 16 15-9-1-12-1-27-2-13 2-15-8-2 6-20-6-40 6 181 9-61 16"/>
<path class="b6" d="M271 1092l118 30-29 2-3-8-127 18 85-4 18 8 24 1 5-10 3 5 1-2 7 5 11-6 11 7 22-4 6-5-20 11-42 1-27 2-20-1-2 0 8 11 5 1 18 5 63-7"/>
<path class="b7" d="M324 1116l-69 21 50 2 13-10 42 5 23 0 33 13-18 1-58-2-25-4-17 3 42 8 18 0 38 0 42 0 23 4 47 13-162-4"/>
<path class="b8" d="M322 1115l37-10 26 3-15 17 43 13 5 12-37-5-2-4-3 1-9 5-9-7-4 3-1 3-8 0-11-1-16-1-2-4-33 14 55 5 12-3 10-3 3 6 10 0 29-6 9-1 35 9"/>
<path class="b9" d="M336 1113l1 1 36 0 51 11-46-2-33 1-8 1-1 3 22 8 25-5 67 2 8 17-43-4-18 0-26-4-59 1-6 1-13 17 39-5 15-4 48 4 36 3 24 1 30 3 3 1"/>
<path class="b10" d="M301 1113l62 5-16 20 28-1 48 10-13-7-4 11-2 0-42-1-16-5-6-4-20 3-30-3 34 13 111-2"/>
<path class="b11" d="M286 1134l115 13-13 2-5-2-5-3-1 1-18 4-23-6-20-2-7 10 23 11 13-4 6-3 35-2 9 2 1 3 34 0 37 3 55 1"/>
<path class="b12" d="M388 1138l67 11-71 1-48-6-12 1-36 12 40 1 13-6 25 2 8-2 68 10 6-1 2 1 14 2-1 0-20 5-92-1-32-4"/>
<path class="b13" d="M549 1151l-150-1-34-1-64 6 61 6 15-2 58-6 63 16-25 1-137-6"/>
<path class="b14" d="M290 1127l141 18-51 3-52-7-10 2-25 7 17 3 2 7 12-5 6 1 71-3 4 2 44 3 28 4 31-3"/>
<path class="b15" d="M350 1135l27 0 15 11-29-1-1 0-17 3-10 0-10 2-2-10-5 11 24 5 4-3 78 4 30 10-15 2-82-5"/>
<path class="b16" d="M259 1109l153 40-9-3-27 16 6-3 13-1 21-4-13 18"/>
<path class="b17" d="M362 1124l51 26-36-1-27-1-16 11 33 2 24-6 19 4 71 6-18 10"/>
<path class="b18" d="M395 1149l-12 2-18-2-1 2-84-4 41 9 29 1 13-4 21 0 24 2 12 2 11-4 8 10 12-5 22 16-22-10-52 7-21-2-72-4"/>
<path class="b19" d="M293 1128l38 18-25 9 70-1 36 0 8 1 10 5 84 5-2 4-39-5-21 5-94 4"/>
<path class="b20" d="M300 1149l32 11 4 2 13-3 2 4 9 0 1 0 87 11-28-8-4 6-88-8"/>
<path class="b21" d="M352 1150l-15 7 13 6 2-10 9 3 0 4 6 0 84-1 53 7-3 4-10-1-13-2-2 1-7-3-9 7-12-6-2 2-63 2"/>
<path class="b22" d="M302 1136l120 9-82 15 3 0 51-4 41-1 55 10-95 5-82 0"/>
<path class="b23" d="M362 1153l95 8 45 10-27 1-17 3-35-2-27-3"/>
<path class="b24" d="M430 1148l-108 10 2-2 69-3 43 2 17 7 2 2-6 9-31 1-15-3-57-3-3-4"/>
<path class="b25" d="M380 1146l-38 3-35 14 12-9 78-2 58 9 77 12-70-4-29 5-13-3-32-6"/>
<path class="b26" d="M297 1162l49 0 5-7 23 7 64-3 6 2 21-1 34 13-14-2-44 1-13 1-3 1-20-5-52-4-8-1-21 0 166 12"/>
<path class="b27" d="M305 1158l35 5 101-5 21 16-70-6-7 1-13-3-3 5-1-4-16-3 157 12"/>
<path class="b28" d="M330 1159l9-2 6 4 13-6 11 7 146 9-11 4-5 0-19-8-4 4-19 1-2 2-9-6-5-2-4 3-6 2-10 0-20 0-63-3"/>
<path class="b29" d="M331 1158l47 2 0-1 136 16-7-9-20 4-7 4-4-3 0-4-49 4-47 0-24-7-27 5"/>
<path class="b30" d="M331 1156l3 7 30-1 50-9 84 18-27 1-1-2-8 3-4-5-44 6-1-4-3 5-1-2-1-1-9-4-4 4-1 0-15-4-21-2-4-1-1 3-3 2-3-3-89 0"/>
<path class="b31" d="M380 1159l62 1 57 9-3 4-16 0-5-6-14 0-40 4-1 0-2 2-12-5-2 0-4 3-3-4 0 2-20 2-10-4-5-3-2 1-25 0"/>
<path class="b31" d="M297 1148l0 12 10 2 38-4 4 4 32-1 30-4 2-1 67 18-12-1-8-4-6-4-8 7-5-1-11 0-8-1-8 0-3-1-8-1-16-1-39 2-42-2"/>
<path class="b30" d="M321 1158l19 0 8 5 84-1 75 10-19-2-3 4-20-5-1 6-7-7-14 0-18 1-16 2-2-3-21-1-9 3-11-6-3 1-7 3-6-3"/>
<path class="b29" d="M336 1149l-23 5 10 9 28-3 32 0 15 2 45 0 39 3-9 2 0 6-15-3-4 2-2 0-2 0-11-2-3 2-14-6-5-1-15 5-2 1-1-2-1 0-4-5-1 0-18 0"/>
<path class="b28" d="M321 1160l27-2 22 5 28-5 0 5 1 0 100 12-14-4-4-3-9 2-7-1-2-5-2 5-15 5 0-9-7 6-6 2-21-8-15 2-6-1-3 4-28-3"/>
<path class="b27" d="M325 1145l23 15 12-3 17 6 36-4 54 11-3-4-25 0-8 0-1 5-38-6-27 1-5 1-3-1-15-2"/>
<path class="b26" d="M355 1139l-40 24 32-9 37 0 30-2 98 19-15-1-4 2-1 0-24 1-20-3-2-3-18 4-6 0-5 0-21-5-6 2-5-1-4 5-40-8"/>
<path class="b25" d="M310 1153l21 6 22-1 46-4 25 4 10 3 16 8-19-1-2-2-1 1-3 5-7-5-12 0-4 1-9-1-1 1-10 4-6-6-3 1-1 1-4-4"/>
<path class="b24" d="M326 1145l27 10 17 5 19 2 102 3-6 6-6 3-5-1-3-5-15-3 0 4-13-3-4 4-4 3-1-4-1-2-9 0-2 0-3 3-31-6-29 6-20 0-1-2"/>
<path class="b23" d="M373 1151l-3-3-43 12 18 1 11-4 15 3 22 1 1-6 7 7 31 1 7 0 5 0 22 9-20-3-3 5-18-7-21 0-13 5-4-7-4 1-1 4-6-6 0 8"/>
<path class="b22" d="M357 1134l63 15-6 2-65-7-47 5 82 14 8-5 10 4 7-6 2 1 0-3 19 7 27-7 44 18-32 1-5-8-41 7-6-3-13-5-4 5-9-3-5 3-11-2"/>
<path class="b21" d="M341 1162l7-3 33 0 2 1 7-5 6 6 30-5 2 5 1-7 2 4 17 3 35 7-17 2-11-4-5 1-14-1-3 0-2-2-17 5-8-3-7-1-2 0-9 4-2-4-3 3-3 4-22-4-1 2-9-4-2 2"/>
<path class="b20" d="M313 1149l31 6 10 4 9-6 6 6 11-6 12 8 13-5 3 2 4 3 0 1 10-1 5-4 75 15-44-7-2 7-6-2-4 1-2 0-13 0-19 2-18-7-9 3-3-4"/>
<path class="b19" d="M370 1143l-1 0-6 1-6 6-20-8-5 18 12 0 2-2 1-1 10 5 0-1 15-5 9 5 18-2 3-2 2 4 4 0 1 0 21 2 84 4-18 6-24-6-8 5-14-7-7 3-4-1-6 4-2-7-2 0-21 1 0 5-12-1-21-1 0-4-6 1"/>
<path class="b18" d="M380 1126l1 25-2-1-10-10-7 3-14 14 10-2 1 6 17-7 3 3 0 1 15-4 11 9 16-4 0 4 7-5 8 2 3 0 12-7 17 10 0 4-13 2-17-2-6 3-3-4-3-2-3 2-51-2-6 6"/>
<path class="b17" d="M337 1136l33 14-8-9-16 6-13 4-2-4 12 15 11-2 0 3 8-9 8-2 33 11 10-2 12 2 19-8 62 10-21 3-33 1-26 1-5-3-19 1-20 0"/>
<path class="b16" d="M366 1142l-8 3-17 4-50 9 64-5 11 3 1-4 2 4 12 6 4-2 1 3 1-9 6 3 9 2 17 4 73 0 43 3-45 4-16 1-6-7-40 6-7 1-19-7-33 3"/>
<path class="b15" d="M393 1144l0 4-37-1-30-4-4 7-9 1 16 4 1-1 10 7 25 1 6-9 24 9 4-8 7 6 0 3 1-10 4 10 7-11 1 3 25 3 13 3 43 11-42-8-13 4-2 1-1-4-21 4-11 1-1-4-9-1-12 7-1-7-16 3"/>
<path class="b14" d="M310 1138l90-2-67 11-2 3-1-5-9 14 6 4 20-2 11-1 25-4 4-3 7 2 13 8 1-6 8 2 9 0 2-1 3 1 13 4 7-9 63 19-48-7-26 5-5 0-16 2-3-5-3-1-4 2"/>
<path class="b13" d="M426 1147l-25-4-9 0-15 5-9-4-30 7 0-11-23 0-10 6 31 17 0-1 5-7 11 1 13 3 10-2 4-2 4 6 12-2 25-2 15-3 8 9 11 1-2 8-5-8-18 5-1 2 0-6-5 0-2 3-20-1-8-1-2 0-12 2-27 0"/>
<path class="b12" d="M340 1133l49 1 51 1 4 14-39-5-16 0-2 2-64 10 13-3 11 1 0 4 8 3 8-4 12-1 7 0 11 5 4-2 3 4 14-3 11-6 1 6 1-7 8 9 9-4 17 1-11 12-6 3-14-6-49-2-18 4"/>
<path class="b11" d="M325 1126l77 6 24 7 33 1-21 3-33 7-17-2 0 0-6 2-8-10-1 5-4 0-16 6-14-1-11-2-44 3-5-5 56 6 7 1 15 3 3 1 0 0 28-1 3 1 12 2 12 2 1-8 10 2 6 0 6 8 15-2 41 6-8-1-53 5-23-3-13-3"/>
<path class="b10" d="M340 1108l34 18-78 1 69 12 90-11-41 23-13-2-7 0-15-7-2-1-21 9-4-1-40-3-1 6 46 9 0 0 8-9 4 1 5 1 16 5 0 3 1-10 17 11 5-7 10 5 16-6 8 7 13-8 0 10-35 0 0 2-11 0-47-1-4 2-2 2"/>
<path class="b9" d="M366 1114l7 10-21-3-25 16 12-3 80 14-6 1-13-5-6 4-2 1-18-7-1 1-6 6 0-5-1-2-2 3-12 1-48-2-20 4 52 15 5-8 17 1 2-3 8 6 4-2 3-3 3-2 4 3 1-2 9-1 0 1 11 4 2 3 1 1 0 1 12-4 0 4 5 1 27 0 5-11 21 13-4 0-55 0-30-1-8 1-12 1"/>
<path class="b8" d="M399 1100l-126 38 67-4 112-5-40 14-21 2-3 2-1 0-13 2-58-3-6 0 11 12 20 1 11-3 30-4 6 8 0-1 12-4 5 2 3-4 12-1 9 8 56-3 4 13-74-6-9 3-41 2"/>
<path class="b7" d="M301 1114l34-5 49 13-12 3-30-8-28 3-65-2 55 16 15 1 1 1 1-3 69-1 32 6-22 6-18 3-11-2-11 2-12-6-10 6-21 4-4-2-20-5-23 12 42 5 32-9 36 11 4-8 8-3 9 3 14 2 1-4 2 7 5 1 94 7-51-1-33-2-21 1-4 1"/>
<path class="b6" d="M352 1099l46 28-90-5 13 17 15 0 56-9 4 8 35 12-1 1-13-6-5-1-1 2-16 1-13 3-13-5-4 6-19-5-5 2-10-6-25 4-39-1 66 17 29-9 23 4 19 2 23 1 5-4 2 4 2 3-20 2-17 0"/>
<path class="b5" d="M352 1122l-30-6-16 17 16 3 7-1 3 2 23-1 1 2 78 13-31 0 0-9-32 2-10 0-1 3-5 1-87-8-40 3 107 12 18 1 12-1 29 4 5-3 18-1 3-3 9 7"/>
<path class="b4" d="M270 1074l74 26-31 3-32 0 24 4 35 0 8 13-4 4-14 3-36 6 29 3 2 1 1 2 2-5 35 3 35 1 29-7-19 17-30-1-4-6-18 4-10 0-8-4-49 12 24 1 23-2 19 2 17 7 7-5 11 7 12-8 14 6 6-8 17-1 15 17"/>
<path class="b3" d="M244 1038l8 69 66-2 1 17-35 6 29 4 23-4 22 4 9-2 26 3 5-2-7 11-21 3-2 3-7-6-23 9-14-8-22 2-2 6-6-3-28-1 46 5 28 1 5 0 12 5 32-4 15 2 35-2 2 0"/>
<path class="b2" d="M334 1094l-43 6-16 2 8 13 15-6 5 4 0 0 6 2 25-1 49-5-25 12-11-3-35 8-37 1-13 4 6-2 5-1 0 10 69 1 21-6 5 5 22-3 25 13-14-5-20 0-6 7-3-8-40-1-27 1 13 13 2 7 89-6 23 0 7 2 18 1-32 12"/>
<path class="b1" d="M257 1059l67 3-57 14 11 9 10 5 38 2-39 4-34-2-38 3 81 18 81 6-30 0-29-4-62 13 65-1 10 4 24 4 0 13-39-7-11-2-23 3-32 2"/>
<path class="b0" d="M260 1082l112 6-42 4-14 22 26 8-23-3-15 3-2 0-52 17 10-2 34-4 14 3 10 1 3 0 15-4 2-2 37 5 45 9-45 3-2-8-24 10-9 1-4-4-2-6-14 7-9-3-6 1-22 4-7-6-5 3 92 8 108 7 0-4-99 13"/></g>
<g clip-path="url(#c01)"><path class="a0" d="M976 139l-22 0-57 39 38-6 24 13"/>
<path class="a1" d="M887 119l85 15-82 15 54 6 9-1 105 6-75-4-20 11 9 8 16-5-15 21-46-5-104-2 208 12"/>
<path class="a2" d="M914 109l-55 13 106 13-158-1 80 12 15-2 23 6 5-1 15 6 39 0-2 12-19 0-30-2-17-5-11-3-14 9-16-10 27 17 29-1 33 2 3-2 5 5 10 3-21 4"/>
<path class="a3" d="M918 129l53 3-117 21 24-3 22 3 1-9 8 2 6 7 1-2 29-6 31 4 29 8-20 5-19-3-3-3-7 6-9 2-9-1-22 4-5-5-5-2-15-3-3 9-27-5-23 12 73-5 12 0 2 4 3 2 28-5 7 8 2-1 12-2 41 5-18 10-29-2-27-6-13 5-9 4-17 11 84-4 24 0 37-3 9 5-44 11-3 4-4-6-4-2-8 6-2-4 99 8"/>
<path class="a4" d="M870 134l-85 10 113 9 84 11-38 1-2 0-3-6-13 8-2-11-20 6-6 3-37-6-3 4-20-1-27 12 41 2 31-7 11 0 7 8 12-4 2-4 1 1 7 9 5-11 1 9 2-5 36-2 11-2 4 9 72 7-34 0-27 5-25-3-15-3-5-1-5 1-3 4-5 0-1 2-22 1-30-10-3 2-10 2-3 0-68 5 75 3 21 6 7 4 37-4 27-6 2 4 1-3 6 2 3 0 0 1 32 0 4 3 3-4 3 1 47-3 44 4-47 7-22 10-40-6 12 14"/>
<path class="a5" d="M830 122l35 26 104 3 0-6-30 19-20 0-51 3-8 11 12 1 4-2 17 1 1-3 6-7 24 2 14 5 23-4 9 5 32-2 19 11-70-4-42 9-2-2-16-7-17 1-14 4-11 5-4 8 16-7 24 1 22 10 4-11 1 0 34 2 1 0 10 4 26-1 3-4 14 8 19 1 21 0 6-10 25 10 41-9-119 12-28 7-36-7-14 3"/>
<path class="a6" d="M936 141l-45 7 73 6-10 11-218 3 178 2 14 0 5 5 132 16-18 0-24-8-2 5-36-4-64 6-31-5-22 6-37-5-52 3 58 3 6 2 3 3 15 2 19-7 12 5 6-3 4 9 1-3 41-7 3 5 3-5 8 9 2-4 35-6 10 4 13 16-6-6-11 4-20 3-7 0-10-7-9-1-7 4-8 2-35-2 0-3-23-1 0 6-2-6-10 6-8 1-3 1 94 3 4 3 12 0 29 0 57-2-60 14"/>
<path class="a7" d="M890 178l81-1-90 6-16 5-40 5 12 9 20-7 11 0 3 3 8 3 14 2 1-11 15 7 40 4 39-2 7-2 38 4-54 9-2-1-27 3-19-6-19-1-27-3 99 17 10-4 28 0-41 12-21 3"/>
<path class="a8" d="M759 187l50 6 38-1 2 2 43 1 22 8 113 10-98-8-9 8-8-5-28 6-9 1-56-3 44 4 109 5 2 5 6-5 9-4 10 5 6 2 10 3 5-5 3-1-2 18-164-11"/>
<path class="a9" d="M857 201l90 10-49-4-5 3-10-3-24 6-21-7-7 1-11-3 3 16 49 4 1-6 14 1 2 1 24 6 17-4 3-3 1-3 2 1 24 3 5 4 2-3 12-4 0 5 58-2 28 8-23 11-42-11-1 5-11-1-24 4-15-8-27 1-19 3-13-4 96 13"/>
<path class="a10" d="M860 215l-32 5 12-1 15 4 28 1 26 1 11 1 46-3 19 2-14 3-26 0-60 1 77 16 59-2"/>
<path class="a11" d="M861 213l-49 3 52 9 3-2 36-1 7 4 5-4 84 14-16-2-34-3-28 0-20 3-6-6-12 7-41 1 44 4 6 4 59 1 33-5 14 1 0 4"/>
<path class="a12" d="M842 209l-52 9 43 7 32-1 10-3 4 1 27 3 11-4 30 5 13 7-16-3-1 0-85 6-7-8-4 1-4 7 59 9 36-4 17 3 46 4-14 18"/>
<path class="a13" d="M817 226l45-4 141 13-48 1-36 1-7 0-13 2-7-1-11 0-11-8-4 4 0 1-18-4-5 0-5 4-7-1-6 1-26 4 62 7 76-2 47 0 3 4 57 1-96 8-33-5-1 0"/>
<path class="a14" d="M842 227l3-6 19 18-24-8-6 9 49 5 6 5 62-8 25 6 7-8 1 18-10-2 0 5-43-9-6 4"/>
<path class="a15" d="M851 239l-15-1-1-2-30 2 42 3 35 10 46 0 7-3 0-2 39 3 21 2-32 5-8 0-1 1-4 1 52 11"/>
<path class="a16" d="M780 232l-19 7 39 2 34 7 10 0 28-5 9 8 8-5 36 5 41-2 18 14-30-2-3 1-6-7-4 5-6-6-78-1-16 2 60 9 63 1 2 0"/>
<path class="a17" d="M776 225l69 12-42 10 8-2 55 4 19 0 46 0 31 0 26 11-46 2-3 0-61 1-30-6-12-4 47 12 79 10 3-10 28 4-99 10"/>
<path class="a18" d="M769 248l65-7 33 9 3 1 44-7 80 16-92-1-6-4 0 3-31-2-17-2-5-1 0 0 40 16 26-5 59 12-27 3"/>
<path class="a19" d="M804 243l29 7 10 0 114 4-30 4-7-3-17 8-28-3-11-4-22 2-11 1 18 7 30 1 33 0 1-1 0-1 32 3 10-1-16 10-56 1"/>
<path class="a20" d="M813 240l71 13-11 4-2-2-6 8-4-7-27 6-1-9-27 5 46 6 9 3 11 2 10-1 25 0 60-2-47 13"/>
<path class="a21" d="M782 245l41 17 4 9 58-2 71 16-32-5-15-1 0 3-18-5-34 8-10 1"/>
<path class="a22" d="M824 247l95 14-49-2-21 6 14 7 11-8 39 10 2-4 1 5 21-2 6 2 5 0-7 10-4-1-14-4-7-2-3 9-20-2-5 1-20-9-22-1-25 12"/>
<path class="a23" d="M859 254l-62 0 16 19 81 0 22 14-27-1-3-9-10 9-15-7-7 3-7-5"/>
<path class="a24" d="M839 261l-38 10 29-6 11-1 7 3 67 17-26-2-8-6-2 8-4-1-11-2 0 0-31-3-22 1-53 0"/>
<path class="a25" d="M747 239l-9 9 86 23 15 2 23 2 47 5-42 8"/>
<path class="a26" d="M744 253l55 20 45 2 30-3-25 12-13 2-68-10 95 17"/>
<path class="a27" d="M756 269l46 4 97 10-91-5-25 7"/>
<path class="a28" d="M781 255l16 17 12 5-11 7-3 2-26-5"/>
<path class="a29" d="M784 269l33-3 22 4 0 9-71 4"/>
<path class="a30" d="M805 282"/>
<path class="a31" d="M782 286l-7 0"/>
<path class="a29" d="M803 286l-67-5"/>
<path class="a28" d="M740 255l19 18 3 0 99 8-46-2-11 5"/>
<path class="a27" d="M747 265l35 4 56 17-39-3-12 1-34-6"/>
<path class="a26" d="M819 262l13 12 43 7-3-1-1-1-5 2-16 6-1-10-12 9-47-6"/>
<path class="a25" d="M797 262l-87-7 120 16 52-3-41 12-20 0"/>
<path class="a24" d="M765 247l6 9 47 18 15-5 84 3 12 10-15 4-29 0-13-5-46 6-7-5 112 8"/>
<path class="a23" d="M850 254l-33 12 29 1 0 5 9-3 10 0 37 9-6 6-4-3-13 3-19-7"/>
<path class="a22" d="M951 261l-86 2-12-2-80-4 40 11 7 5 3-2 24 2 2-2 16-2 20 5 80 8-102-6-1 4"/>
<path class="a21" d="M910 259l-2-5-4 5-20-3-4 5-2 1-11-7-5 4-2 0-1-7-14 3-8 7-5-3-3 1-16-2 39 10 49-1 18 8 5-9 9 13-7 0-26 1-42 7"/>
<path class="a20" d="M780 248l40 2 11 1 79 6-40-4-7 8-37 1-32 0 46 3 17 5 17-1 26 0 10-1 2 1 4-4 7 8 1-9 18 10 4 5-27 3-19-6-6 9-7-6-5 1"/>
<path class="a19" d="M782 240l25 0 49 10 6-1 28 2 62 2-58 4-6 0-12 4-4 1-15-4-1-1-15 9 25-2 3 1 3 8 93 0 16-5-49 8-3 1-5 1-4-1-27 6 59 5"/>
<path class="a18" d="M794 242l3 0 37 2 1 6 107 11-37-9-25 8-25 2-28-9-21 0-18 4 100 7 55 10 41-4 23-3 18 6-16 4-58 3-61 2"/>
<path class="a17" d="M898 238l-133 5 16 3 33-6 5 0 7 0 4 0 17 3 13 7 4-6 1 4 28 1 31 2 85 11-23 1-37-1-1-3-5-6-4 5-24 4-25-10-16 3 0-3-5 1-2 3-6-3-4 1 58 11 11 8 9-4 0-5"/>
<path class="a16" d="M822 235l-13 8 24 6 9-6 19-3 27 3 60 5 13-4 11 7-7 5-8 2 0-1-22 4-11-4-21 2-27-4-20-1-1 1 100 12 43 2"/>
<path class="a15" d="M859 237l-20-5-31 4 25 6 17 7 13 2 19-7 2 4 27 0 35-2 1 3 4-1 14 3 8-6 9 1 22 4 25-3-50 11-21-1-1 5-4-7-3-2-35-1 58 18 1-6 45 0"/>
<path class="a14" d="M810 226l79-4 60 12-50 3-14-4-1-4-5 4-7 6-31-4-7 0-48-4 14 9 53 1 31 1 17 7 7-8 21 2 11 4 3 2 3-7 6 8 25-10 1 8 38-2-25 14-52-8-20 2 0-1"/>
<path class="a13" d="M793 223l28-2 1 6 97 0 21 9-20 1-19-1-13 0-14-5-8 6-3-7-11 4-45-2 120 19 12-3 4 3 1-7 9 6 18-4 8 0 0 3 21 2 12-3 1 8-8 0-24-4-28 13 110 5"/>
<path class="a12" d="M784 227l37-1 36-6 43-3 92 11-45 10-9-2-7 1-8 2-10-10-10 8-33-7-10-1-9 3 22 9 17 0 4 6 54-7 2 4 12 1 22-1 4-2 17 5 6-4-1 10-45 19"/>
<path class="a11" d="M934 206l-144 19 7-7 36 5 9 1 30-3 3 3 3 1 7-8 13 3 40 5 74 12-33 0-12-4-3 1-78-2-39-1-11 0-48 0 95 17 76-5 29-3 30 4-68 11"/>
<path class="a10" d="M708 190l197 16-42-2-7 6-9 5 0 9 20 0 12 3 13-3 20-3 12 6 33-6 8 3 13 11-22-7-9 8-11-1-15-6-20 7-6-8-24 6 92 6 2 0 1 0 31 3 24-3"/>
<path class="a9" d="M1002 206l-55 5-11 2-21 1-31-3-24 2-36-6-1 1-30 8 45 6 41 2 1 3 6-10 13 2 3-2 15 2 22 7 20-9 6 4 2-1 27-2 14 6-6 15-3 0-4-4-10-4-3 7-3 0-24-3-17-5-29-2-4 1-11 4"/>
<path class="a8" d="M899 191l-54 5 2 3 39-3 0 2 34 4 10 1 61 5-6 6-42-2-6-1-6 1-6-8-37 7-2-1-3 1-2 2-12 1-4-6-6 1-15-5-1 1-25-1 32 19 0-5 56 5 18 3 80-8-11 13-48 0-75-3"/>
<path class="a7" d="M862 183l14 12 9 2 47 3 105 9-26-4-43 6-11 1 0-1-12 1-2-5-21 5-13-3-49-3 28 13 4-3 44 0 0 4 8-4 42 7 16 0 24-7 15 8-72 5-10 1"/>
<path class="a6" d="M923 155l-71 21 33-3 101 5 23 11-79-1-8 1-3-8-19-1-11 10-16 1-10-5-1-5-3-1-44 8 26 11 29-7 54 0 8 8 22-3 50 3 17 3 6 7-6 5-7-1-20-5-1 1-31-4-3 2 0 7-11-1-15 0-12-5-7-4-6-1-16 4 0-2-54 1 93 9 14 1 18 1 12 2 8 1 1-4 39 4 10 3 6-1 23-4 16 1-81 8-6 5"/>
<path class="a5" d="M837 130l100 6-20-4-59 0 24 17 73 4 10 9-4 5-3 0-7 0-25-10-28 8-28 4 0 7 24-7 4 5 8 4 21-8 38 2 20 1 45 11-63 4-2 2-5 1-18-10-7 3-1-2-6 2-6-1-18 8-27-8 0 7-2-1-4-3-79-1 61 9 1 5 18-6 13-1 14 1 8 8 29 0 8-7 42-1 5 10 8-3 19 0 4-4 7 6 11-9 16 10 14-6 11 17-9-8-47 3-7 4-10-8 0 3-23-3-1 3-15-2-26 1-46 1 91 16 1-4 91-2"/>
<path class="a4" d="M895 129l7 6-21-2-15 10-17-10-22 17 40-5 36 4 47 2 3 2 31 9-23-2-17 7-20-6-3 6-12-6-3 3-2-1-18-5-2 8-4-2-4 0-60 6 55 6 48 2 0-1 12 2 4-6 10-1 16-1 19 8 6-6 6 3 13 2 44 8-3-4-53 3-4-3-6 2-13-2-1 3-6 5-11-2-4-8-5 7-5-4-3 0-11 8-6-3-4 3 0-6-22 0-17 5-28-3 4 10 12 6 6-11 16 6 10-6 12 6 51-2 23 4 49-6 20 16-32-2-43-2-1 7-19-8"/>
<path class="a3" d="M920 126l-27 15-47-5-6 3 44 6 30 8 11-5 97 8-27 5-30 4-6 1-44 1-4-4-8 3-1-1-2-4-52 9 12-1 3 9 46 0 6-6 23 2 8-2 7 5 12 0 3-2 12-6 4 4 82-1-6 19-8-7-44-2-3 9-29 0-42-10-2-1-8 11-21-4-20-2-7-5-71 0 148 23 10-6 21-5 32 11 30-6"/>
<path class="a2" d="M914 121l-19 19-71-6 66 17 3-7 27 9 2 0 66 8-3 5-1-5-23 4-20-3 0 2-46-5-11 8-23-3-15 15 12-3 41 0 4 2 83-10 12 8 7 1 63 12-77-7-11-1-5 10-19-4-8 0-37 1-101 8 202 7 11-7"/>
<path class="a1" d="M955 158l1 19 70 0-37 10-4-6-6 6-52 2-19-6"/>
<path class="a0" d="M905 129l-19 15 34 4 72 13"/>
<path class="a0" d="M949 144l11 4-65 10"/>
<path class="a1" d="M890 140l40 8-53 8 18 13 38 8-3 6-34 7"/>
<path class="a2" d="M868 128l105 7-9 6-62-4-33 5-12-4 9 6 14 5 3 6 2-11 26 9 25-5 10 5 43 8-123 4-56-8 10 21 116-6 5 0 36-3 15 14-2 4-23 4 0-10-11 7 36 13 24-7"/>
<path class="a3" d="M868 139l-10 13 4 2 14-7 3-2 23 1 0 2 31-1 41 8 5-4 39 6 0 7-13-1-9-5-6 5-33-7-8 5-2-3-7 1-11 3-3-5-1 0-4 8-1 2-34-2-53-6-4 3-34 3 30 8 33-3 19 0 6 5 5-6 3 8 1-8 10 4 15-1 17-4 18 11 5-7 5-3 0 9 14 0 19-1 1 1 65 3-25 2-5 6-33-5-14 7-17-7-5 4-2-5-17 0 0 1-11-4-19 7-39-1-4-2 4 14 3-2 43 2 51-3 0 0 19 0 1 0 101 22"/>
<path class="a4" d="M963 141l-127-2 19 13 30 1 23-1 18-2 81 11-10 6-19-5-3 4-10-2-33 2-4-5-13 4-10-7-9 6-48-6-5 10 45 5 19 1 15-1 4 5 33-9 13 8 0-6 8 6 15-5 33 4 1-7 23 18-33-4-33-2-4 4-8 0-7 2-7-2-7 3 0 3-3-2-4-3-14 4-5-5-3 5-29-1-1-9-10 5-24-5 12 14 68-2 14 2 2 1 6-3 1 7 5-2 19-2 2 1 14 6 3-7 12 2 6-4 2 6 34-7-27 18-66-3-8-2 52 11 76 18"/>
<path class="a5" d="M821 149l109 4 66 14-64-3-17-5-6-3-3 9-23-4-16-3-15 6-9 7 52 0 13 4 12 2 3-1 11-8 1 8 8 2 1-2 3 1 6-8 3 10 1-2 15-6 27 1 1 1 20 15-19-5-23-1-3 9-9-5-3-1-24 4-19 1-5-3-2-7-1 3 0-3-28 5-44 6-21-4 6 9 19 2 21-2 13 2 8-1 4-3 2 4 5 4 12-5 3-2 7 0 1 1 2-1 7-3 35 5 2-4 27 1 4 2 3 6 39 0-10 13-15-3-7-7-37 7-29-6 0 3-7 0-37 6 139 5"/>
<path class="a6" d="M816 140l141 22-43 0-9 2-47 10 192 11-45 3-76-6-8-2-17 1-4 4-6 2-3 3-33-8-17-2-76 11 85 6 8-4 12 5 2 2 7 0 3-1 0 4 8-8 8 0 33 5 10-4 7 0 37 3 3 3 13 0 1-5 64 6-18 12-32-11-14 6-32-3 0 2-2-4-3-1-6 5-4-3-4 2-24-4 0 3-25 2-12 4-12-2-16-1-34-4 91 13 0 3 166 10"/>
<path class="a7" d="M909 164l-12 23-35-7-12 7-16 6 0 9 27-2 11-6 21 8 2 0 13 0 15 1 12-10 0 9 16-7 7 4 6-2 4 6 103 2-29 5-24 1-21-3-30 2-20-2-1 1-11 5-21-9-4 2-12 3-12 5 0-8 0 3-1-1-55 5-36-2 20 8 136-2 6 0 25 4 13-6 13 4"/>
<path class="a8" d="M924 188l-110-2 80 14 7 2 101 13-35-6-4-5-9 10-8-1-22-2-12-2-1 3-11-7-1 6-4 4-30-8-6 0-4 5-23 13 25-1 28-5 10 5 34-5 3-1 2 4 4 0 31 4 6-5 24-2 19 8"/>
<path class="a9" d="M856 191l-65 10 70 1 6-10 19 6 99 4-30 8-16 1-5-7-5 8-15 0-9 1-34 0-25 6 9 1 7 1 25 2 0-7 10 10 11-9 2 2 4 3 15-1 6 1 4 2 3-1 38 2 59 2-31 8-24-4 0 1 0 7-7-5-2 2-3 2-1-7-7 1-4 5-32-7-32 1-14 2-2-2 46 12"/>
<path class="a10" d="M898 214l-3 0 0-7-5 8-2-1-14-5-22 14 6 4 2-5 1-4 4-2 17 2 4 1 7-2 4 1 2 7 12-6 1 6 15-2 2 3 6-1 9 2 22 9-2-6-16 3-9-3-11 0-4 3-1-3-21 1-45 0-13 2 79 14 29-7 18 19"/>
<path class="a11" d="M910 205l-41 10-62 8 13 3 12-8 9 0 38 3 9 2 7 4 17-3 1-6 11 7 17 2 73 8-40-5-1 9-35-4-1-5-9 5-6-6-13 7-1-3-5-2-20 3-1-6-15 0-28 9-26-2 100 5 5 8 7-4 31-3 15 2 10 4 13 0 3 4 11-8 5-3 8 11 31 6-20-1"/>
<path class="a12" d="M781 212l14 10 31 3 31-7 41 2 46 6 27 8-51-4-8 1-11 5-13-1-28 0-11 2-6-8 11 13 8-2 19 5 22 1 41-4 3-2 23 5 31-4 37 14-67 1-38-4"/>
<path class="a13" d="M831 221l12-4 109 5-18 15-2 1-24-1-3-3-22 4-6-1 0-1-7-8-6 4-30 1 57 13 1-1 2-3 40-2 3 7 3-4 13 0 1-3 15 3 8 0 0 2 17-2 3 7 8-3-25 5"/>
<path class="a14" d="M852 226l117 11-76 0-15 0-12-8-22 7-29-4 27 18 1-1 7-4 0 1 7-5 3 4 26 4 53-5 2 4 27 3 8-2 67 14-52-6 0 5-5-9-34 6-49-6 123 16"/>
<path class="a15" d="M895 233l-4 6-37-4-18-2-31 16 40-8 13 1 12-2 11 4 0 1 1 4 0-7 11 1 2 1 20-4 16 5 26 6 14-4 8 4-21 12-47-1-40-6-24 1"/>
<path class="a16" d="M869 237l-57 4 31 3 6 1 7-5 19 3 11 7 10-8 5 1 24 8 44 4-9 5-3-4-9 3-9 2-6-8-2 2-14 6-6-1-53 0 92 18"/>
<path class="a17" d="M804 227l35 12-15 1 5 8 9 1 14-9 16 10 4-2 4-3 4 1 17 1 21-5 50 11-28 1-4 8 0-4-7 0-15-4-7 6-13-8-1 4-4-2-4 9-20-10-1 0-12 8-30-4-32-4 121 22 19 4"/>
<path class="a18" d="M808 232l-11 15 64 4 9-7 15 2 54 15 0-5-31 5-4-8-6 5-19-4-11 3-57 1 98 12 28 1 0 2 32-5 29 5-89 9"/>
<path class="a19" d="M846 246l7 4 82 13-4-5-2 5-32-8-4 2-7 2-24-3-11 0-7 5-12-2-5 4-24-11 58 14 5-1 22 5 8 1 33 4 30-7 1 7-14 5"/>
<path class="a20" d="M797 247l61 16 0-2-26-7-7 1 34 14 6 5 31-8 10 5 0-2 9 6 66 9-32 0-29-8-2 1-21 2-2-1"/>
<path class="a21" d="M847 244l14 16-4 3-19-2-7 0-28-2-3 1 33 4 18 11 15-6 5-5 19 7 1-7 10 11 21-6 2 0 3-2 1 8 43 6-29 5-14-3-4-7-4 4-13-1-13-2-28 1"/>
<path class="a22" d="M831 243l31 17-1 3-18-4-22-1-5 4-12-4-7 5 46 2 1 6 5 4 8-9 27-1 16 9 18 1 1-9 42 17-10 3-12-6-42 3-1 3-2-8-1 5-39-1 44 6"/>
<path class="a23" d="M755 254l66 15 16-3 15-1 32 1 12 3 70 9-19-1-21 4-29-1-2 7-11-11-12 6-22 3-43-1 48 5"/>
<path class="a24" d="M791 259l-15 12 15 4 4-4 22-7 18 9 15-3 2 4 72 1-9 8-23 0-17-6-13 7-7-6-17 4-8 0-13-2 81 8"/>
<path class="a25" d="M824 255l-74 4 23 5 2 1 2 9 26-6 68 7 17-2 19 11-14-6-30 1-17 6-3-6-10 6-12-9-1 10-8-5 75 7"/>
<path class="a26" d="M786 266l18 5 13 0 19 9-6 3-3-3 0 5"/>
<path class="a27" d="M774 258l8 9 25-3 29 9 2 13-12-9 1 12"/>
<path class="a28" d="M772 269l32 2 4 4 45-6 23 18-74-7"/>
<path class="a29" d="M860 277l-17 15"/>
<path class="a30" d="M839 283"/>
<path class="a31" d="M845 278l-40 3"/>
<path class="a31" d="M688 267l72 14"/>
<path class="a30" d="M818 285"/>
<path class="a29" d="M803 265l-39 17-55-5"/>
<path class="a28" d="M773 272l81-3-24 14-22 4-41-7 50 8 21 2"/>
<path class="a27" d="M808 259l4 14 15 2 8-4 7-2 3 0 42 15-42-5-14 2-12-1-4-4-36 1"/>
<path class="a26" d="M793 265l5 7 2-2 12 5 12-1 54-3 1 3 30 5-36-3-1 7-8-6-24 4-12 4-1-8-47 4"/>
<path class="a25" d="M857 254l-8 8-25-7 3 10 11 10 1-8 18 4 30 4 16 12-43-2-8-4-13 0 0 4-24 0"/>
<path class="a24" d="M885 261l-15-5-58 1-46 7 6 10 60-5 13 6 7-4 24-1 7 3 11-4 21 12-32 2-9 1-1 0-7-7-5 0-10 5-3-3 6 9 87 2"/>
<path class="a23" d="M826 256l-16-3-1 9 12 8 5-1 3 4 10-2 15-4 6 6 22 0 21 2 23-5 2-6 10 17-17 3-35-3-6 1-8-3-9-2-2 6-12-2-5 4-5-6-23 0"/>
<path class="a22" d="M876 263l-11 0-19-6-26-2-8 5-31 6 60 9 4-4 17-6 12 5 1-4 1 4 5 1 12-4 4-1 21 17-31-2-12-3-2 9-20-9-18 5"/>
<path class="a21" d="M752 251l138 11-14-2-1-3-14 4-57 1 44 3 30 10 21-5 11-2 22-2 12 6 7 3 13-5-7 9-23-1-10 0-6 3-7-3-24 0-13 0-2 5"/>
<path class="a20" d="M778 250l25-1 6-3 30 2 9-5 18 3 6 3 12 11-10-8-23 4-9 5-9-1-18 3-3-9-1 0 110 17 0 4 4-4 21 2 4 6-52 7-4-9-37 2 11 9"/>
<path class="a19" d="M813 251l122 11-18-8-1 0-10 1-7 2-20-2-33-3-10 11-19-4-13-2-8-5 39 12 24 7 3-4 4-1 15 4 1-3 8-2 43 4 5 0 3-3 2 3 83 4-77 6-56 2"/>
<path class="a18" d="M872 234l-41 5-32 0-20 1 6 11 37-4 28-5 11 1 36 3 52 15-6-4-8-3-15 9-4-6-5 5-6-7-20 2-1 1-3 2-64-5 60 13 1-4 32 11 42 0 3-11 21 2 2 18-24-5"/>
<path class="a17" d="M815 250l3 0 17-4 16 3 13-2 20 1 3-3 4 4 40 0 4 2 10-5 34 13-29 0-22-3-11 7-3-8-19 6-18-3-17-5-1 1-4 4 14 9 24 2 5-5 64 5 9-2-12 12-35-3"/>
<path class="a16" d="M850 227l-24 6-10 15 23-8 12 7 18 3 12-5 6 1 1 5 5-8 7 2 34 6 9-4 7 4 13 6-18-5-15 3-2 1-15 1-13-3-9-1-4 2-20 4-21-7 54 13 62 1 1 4 32-4-24 10"/>
<path class="a15" d="M758 224l120 14-3 1-24-3-22 3-5-10 9 14 9 0 19 1 10 1 3-3 1 3 5 6 12-3 33 0 4-1 7-2 3 4 2 2 15-8 13 5 8 1 46 5-49 6-13-3-23-1-10 4-6-1-17 1-7-8-22 2 107 11 14 1-3 19"/>
<path class="a14" d="M809 217l156 22-7-1-51-5-7-1-31 1-7 6-10-3 0-5-3 3-17 5-8-6 16 14 24-4 10-2 7 4 15-5 4 1 11 4 7-5 8 7 9-6 10 5 19 3 24-6-27 17 8 4"/>
<path class="a13" d="M867 215l-46-1 3 2 149 20-23 1-17-2 0 1-16-1-27 2-13-3-43-6 53 14 12 4 2 5 1-3 2-1 4-4 8 6 12-8 16 0 2 3 5 0 12 5 8 0 37 11-27-3-11-5-12 9-12-9-49 1"/>
<path class="a12" d="M797 225l29-6 34 3 7 2 3 2 14-5 11-4 56 17-23-3-2-3-1 4-7 1-14-4-2 1-8 0-6 9-1-10-2 7-10-7-6 1-85 4 53 6 45 0 11 5 13-4 4 5 10-3 7 2 7-4 19-1 13 2 6 1 26 2"/>
<path class="a11" d="M841 225l18-4 13-1 2-1 4 7 1-3 6 1 16-3 5 3 6-2 66 1 5-6 31 7 22 5-58 3-19 2-24-1-8 1-28 0-1-2-2 2-5 0-17-1-33-5-5 1 92 17 10-2 85 9"/>
<path class="a10" d="M881 211l-8-2-31 1 43 15 11-3 2 4 10-5 8-1 10 6 25-1 24 0 9 7-14 1-18-5-11 11-8-8-3-1-5 2-9 4-15 2 0-8-11-2-6 3-24 8-5-10-22 4 109 12 123 12"/>
<path class="a9" d="M852 185l11 14 90 4-17 4-53 0-3 2-29 6-2-5-80 4 51 2 44 5 6 4 33-9 2 5 19 3 3-1 16-4 5 2 1 5 8-2 16-1 19-6 3 9 29-5 36 11-57-3-10 6-21-5-2 0-1 6 0-5-8-3 0 3-2-1-16 9-32-11-16 0-27 1"/>
<path class="a8" d="M1001 191l-140 9 30-2 10-1 38 3 59 11-18 3-5-5-12 6-5-8-17 2-19-5-11 5-7 0-1 6-8-1-1-9-14 7-10-3-4 4-6 0-5-1-3 3-3-7 0-4-47 4 32 8 12 3 51 0 9 2 8 2 17 1 8 3 2-6 8 3 18-5 6-1 133 5-28 13-92-2-2-4-51 2-3 4-39-5-22 3"/>
<path class="a7" d="M863 156l111 32-61-1-10-1-69 5-92 3 107 7 12-5 0 5 1-5 23 6 1-10 5 1 3 2 24 5 1 0 33 0 9 2 16-5 20-4-3 21-13-2-4-2-7 1-6-2-14 5-8-10-8 5-3 1-3 4-3-1-1-1-13-8-6 6-5 2-14-3-31-5 55 13 16 0 20 4 11-5 17 4 2 6 25-6 26 1 24-4 5 9-11 5-68 1-42-3"/>
<path class="a6" d="M864 178l19-6 11 4 2 2 71 1 9 0 5-10 26 8 10 8-21 1-3-2-8 2-26 3-15-1-3-4-34 3-19-1-1 5 0-10-16 5-27 5-14 4 30 5 20-5 16-3 0 5 3 3 2-8 6 4 0-3 13-1 3 8 1-7 12 0 5 10 0-8 7 3 4-3 2 5 14 0 8-4 6 5 4-7 36 8 51 0-53 6-24-2-17 2-7-2-19 2 0 6-2-6-15-2-2 9-17-4-7-6-6 1-7 6-5-4-65 2 137 10 2-3 41 6 5 2 14-1 3 5-20 0"/>
<path class="a5" d="M890 141l-93-3 83 11 41-1 39 11-29 0-3 2-2 4-73 7 0 0 63 7 9 0 4-10 3-1 6 4 11-2 2 1 36 7 6-8 11 18-34-5-7-2-4 5-7 4-9 0-5 0-1 1-1-9-11-2-2 1-6 3-14 7-1-7-26-4-54 8 51 9 2 0 2 0 14 1 8-6 1 6 9-4 8 2 7 1 18-3 0 1 13-2 12 8 16 1 0-8 2 3 12 5 10-5 12-5 13 5 12 4-26 6-21-3-7 9-3-2-3-6-7 3-21-1-4 3-13 2-38-7-5 16 76-1 44-2 48 9"/>
<path class="a4" d="M999 134l-84 5-30 15 18 1 7-8 18 1 29 7 8 0 30 0 28 12-23-2-38-1-2 2-16 1-20-7-3 3-12 1-27 1-20-1 0 1-2-5-19 18 46-10 3 1 7 5 4-2 1 3 14 2 0-3 20-2 13 4 4-4 1 0 11 7 5 0 13-3 39 2 13-10 24 5 12 6-36 4-19 7-15-7-1 8-11-5-12-6-2 10-4-3-7-3-10-3-5 6-23-1-9-6-23 9-1-1-7-7 0 9-40-10-26 7 33 13 9 2 60-5 8-5 7 11 3 0 0-9 3 9 2-4 9-2 2 3 4 1 5-5 8 5 5-3 1 0 0 3 1 1 2 0 18-10 46 1 20 1 7 0-67 12-26 6-63-8-12 4 54 13 11-5 16 0"/>
<path class="a3" d="M900 128l65 4-68 9-70-8 30 11 0 4 47-3 3 3 22 6 57 12-5-7-21 1-12 6-2-8-9 1-124 1 40 17 5 1 20-9 15 3 4 4 0 1 33-1 4-2 1 3 3 1 0-8 1 5 13 3 2-8 2 1 24 3 9 2 4-7 4 8 39 0-14 3-13 2-14 7-15-5-1-3-7 1-8 7 0 0-27-4 0 0-11-5 0 11 0-7-15 4-6-3-19 2 43 10 7 6 3-7 2 3 4-3 8 2 16-6 0 0 27 5 0 5 38-5-24 11-26 3-5-7-16 4-62-4 45 14"/>
<path class="a2" d="M935 127l-42 15-54 13 33-3 1-6 4 5 53-7 12 8 40 9-2-5-47 4-12 0-26-1-25 16 8-4 31-1 28 8 5-4 5 5 4-5 14-4 9 7 21-5 58 7 20 10-48 1-31-7-6 2-14 5-5-7-31-1-1-1-18 3-12-2-2 12 41 8 16-7 3 4 37-2 27 3"/>
<path class="a1" d="M906 128l28 25 11 9-26-2-1 2-19-6 19 19 3-6 18-1 87 36"/>
<path class="a0" d="M914 159"/>
<path class="a0" d="M929 174l12 11"/>
<path class="a1" d="M866 129l41-8 3 34 61-11 24 23-37-4-30-4-22 5-5-2-16-1-2 10 22-2 53-1-24 13"/>
<path class="a2" d="M888 123l48 8-15 12-11-2-99-9 44 22 34-1 18-1 29-7 16 7-3 5-22 0-2 0-11 1-35 1-7 0-33-1 35 10 34 5 2 4 35-7 2 8 0-4 0 4 62-2 32 15-28-8-28 6-29-6-10 5-5 3-29-10 63 17"/>
<path class="a3" d="M802 117l63 13 38 8-50-2 46 16 17-5 12 2 54-2 18 12-10 8-22-4-2 0-11-2-2-1-1 6-30-9-5 6-18 2-17-3-28-4-21 2-2-3 8 18 36 1 14 3 7-3 14-1 5-6 7 0 5 2 5 0 9 4 1 3 0 0 9 1 5-5 4 0 1 3 17 1 3-4 11 1 3 0 23 16-22-10-18 3-4-3-16 10-16-4-9 1-9-1-3-6-2 6-34 3-24-5-33 1 100 9 23 0 6-2 11 5 33-1 5 5 32-1 11 2-11 12-143-10"/>
<path class="a4" d="M901 122l65 7-63 10-9 4 47 4 61 20-18-1-25-8-19 5-10-2-6 3-1-3-24-2-3 7-3-1-7-1-4 0-98-4 80 13 11 1 7 5 23-1 18-1 17 2 6-8 0-1 4 7 2-1 9-2 6-6 10 0 10 4 10 2 1 1 35-3-4 14-12-2-10 5-8-6-15 3-6 5-5 0-2-1-7-1-5-5-5 7-10 0-4-3-24-7-4 1-1 4-10-2-2 2-15-4 4 17 32 4 0-2 14-7 3-1 1 5 19 4 0-8 1-2 14 4 5 7 5-10 13 10 4-8 2 8 9-3 66 3-39 8-12-5-86 8 16 4"/>
<path class="a5" d="M864 125l27 13-63 5 52 8 26 3 8-4 42-1 3 9-47-2-8 7-23 3-61 6 20-3 21 2 29 1 4 2 38-2 15-2 60 4 8 1 35-1-42 11-31 4-11-8-12 1-7 8-2-1-1 2-7-9-13 2-15-3-3 8-18-2-4-4-4-1-12 9-34-6-31 0 47 12 7 4 9-7 2 4 9-6 2 9 1-1 4-8 3 0 16 8 4-4 4 4 1-8 2 6 0-1 0-3 1 4 8-4 2 6 1-6 4 1 18-3 18 10 5-6 0 3 1 2 1 2 9-1 14-3 0-5 3 7 1-3 25-6 3 9 28-2-36 10-15-5-22 7-13-3-4-1-11 5-3-7-1 0-22 9-9-4-37-6-12 12 121 4 53 13-63 2"/>
<path class="a6" d="M915 159l-54 11 9 8 10 0 39-6 24 4 29 1 56 10-63-7-20 11-8 0-6 0-21-4-27 0-18 0-3 4-9-11-4 9-1-7-4 9-8-9-9 12 61 4 3 3 4-2 6 4 1-9 9 2 0 2 0 4 6-5 11 3 3-5 9-1 9 7 2-9 22 5 0 2 4 3 3-8 35 4 42 5-23 3-1 5-38 0-3 2-1 1-5-5-10-2-3 4-11 4-2-3-8-6-4 0-4 7-3-4-16-3-3 1-21 4-4-6-9 6-46-6-11 2 70 15 68-4 8 1 22 3 10 0 4-6 43 0-70 14"/>
<path class="a7" d="M811 153l34 24 28-7 50 0 59 19-77-1-15 2-19-5-15 3-6 0 4 12 6 0 33-6 4 4 31 4 5-1 9-2 7-2 9-1 7 6 13-9 29 8 0-2 60-1-47 10-11 6-8 0-10-9-10 2 0-2-3 0-1-1-15 3-8 6-14 1-1-5-2 1-1-4-2 8-7-9-1 8-8-3-29 2-3-5-1-2-18 1-12 6-6 0-3-4 68 13 1-2 13-3 15 5 18-3 20 3 10 5 13-3 14 3 1-8 23 0-51 16-27-6-3 6"/>
<path class="a8" d="M934 189l-95-8 123 19 38-6-40 21-15-10-19 6 0-2-1 6-8-3-13-5-7 7-31-10-39 3-1-2-21-1 24 14 10 0 5 3 16 2 41 3 2-7 7 5 4-5 0 2 7 3 4-4 2 0 9-3 2 3 6 0 9 6 2-5 3 5 8-8 19 6 4-5 5 2 45 2 19-2-96 8"/>
<path class="a9" d="M1003 214l-26-7-20-1-24 4-31-2-2 7-26-1-6-6-17 3-66 5 96 6 6 3 6-5 4 4 9-8 3 8 3 3 2-6 3-5 1 5 4 4 6 0 6-4 5-4 5 8 1 1 7-5 6 2 4-4 8 5 27-3 28-3 4 0 12 13-39 6-5-2-3-4-6 0-6-3-2 7-15 2-7-8-3-1-4 0-28 7-17-5-52 1 53 18 65-6"/>
<path class="a10" d="M850 200l102 13-31 1-4-7-73 4-7 4-45-9 20 12 30 4 23-2 17 4 12-6 8 7 8 2 6-11 15 7 6 1 6 1 38-3 23 2-7 7-19 0-13 5-11 0-17-8-19 4-10-2-7 0-20-2-38 0-2 0 0 2 96 10 21 2 38 4 22-5"/>
<path class="a11" d="M906 214l-46 1-17-1-25 7 7 4 20-3 5 3 6 2 1-4 8-4 23 8 6 0 45 0 7-11 14 12-13 9-4-7-3 3-16 5-6-10 0 2-3 6-8 0-8-5-21 6-14-9-16 8-12-1-3-2 100 11 4 0 0 3 17-5 4-2 2 0 55 3"/>
<path class="a12" d="M805 221l18-1 37-3 8 3 64 6 100 4-103 0-8 9-5-4-2 4-1-4-1-2-21 1-1 4-1-7-10 1-16 1-32-1-17-3 127 13 74 4 33-3"/>
<path class="a13" d="M798 223l39-1 54-4 8 1 63 13-10 4-23-8-13 9-1-7-6 1-1 7-3-1-5-5-20-2-18 2-4 2-12-4-3 6-16-1-45 1 35 4 70 0 13 1 2-1 4 10 1-10 0 6 4 2 26-4 17 2 8-5 4 2 15-1 32 3-67 10-18-1 71 10"/>
<path class="a14" d="M794 224l40 3 20-1 4-3 53 12-2-3-48 3-24 9 2-4 17 2 42 9 6-5 2-2 5-2 5 9 8-9 2 0 8 0 8 8 16 1 3-4 0-5 9 4 2 2 21 10-51-2-53 5 99 4 12 1"/>
<path class="a15" d="M904 239l-13-1-8-1-12-1-13-4-6 4-20-6-21 4-9-1 36 12 12-4 1 10 4-4 4 0 15-2 5-5 22 6 7-1 5-2 2 3 2-1 2-4 0 4 5-3 13 3 5 6 11-3 8 1 35 12-36 0-11-6-15-3-5 2-1 6 0-5-3 4-3-6-5-1-2 4-1 0-10 6-20-8-18-1 49 11 55 6"/>
<path class="a16" d="M892 227l-42 7-21 0-59-2 23 10 3 3 44-5 18 8 18-8 0 8 2-7 20 2 10 6 1-5 8 4 14-5 23 6 6-6 98 18-79 2-9-8 0 8-22-4-26-6-8 3-11-3-49 2 30 9 36 4 11-4 15 9 33-7"/>
<path class="a17" d="M891 236l-5 1-76 1-23-3 3 13 58-1 2-4 15 8 19-4 14 1 95 13-54-8-7 3 0 6-21-6-1-2-11 7-2 2-23-5-4-6-25 7-7-6 25 12 41 0 10 0 1 9 8-9 15-1 1 5"/>
<path class="a18" d="M911 239l-151-4 48 11 11-5 1-1 20 10 5-4 34 1 25 3 12 0 60 9-2 3-37-4-10-3-2 8-8-1-15-10-3 3-1 6-4-8-1 5-1-2-16 1 0 4-15 1-6-4-26-4-2-2 63 22 50-9 0 0 16 0"/>
<path class="a19" d="M804 250l1-2 20 1 56 1 35-3 78 16-71 0-2-3-12 2-2 1-18-9-5 7-3-6-4 1-15 4 0 2-10-7-9-1-3 1-4 4-22 0 74 15 26-1 0-1 19 3 21-8-7 14-5-1-42 2-22-6"/>
<path class="a20" d="M857 249l63-3 11 15-34-2-7-1-3-4-5 4-13-1-1 5-1-1-17 0-4 0-12 2-15-4 42 12 11 2 10-4 7-2 1 2 4-2 12-1 3 6 2-6 10 6 3-2 4-1 0 6 2-9 3 7 23 10-4-2-65-1-9-1-30 3"/>
<path class="a21" d="M839 241l0 10 98 6 0 3-43 3-33-4-15 2-36-7 44 11 13 7 8 2 28-7 8 7 6-4 4-2 48 18-26-6-59 4"/>
<path class="a22" d="M902 262l-17 1-30-4-5 1-45 1-39-8 42 14 2 8 14-11 7 11 1-3 10 0 4-6 21 8 1-6 2 3 6 1 9-6 3 3 5 6 15 0 19-3 12-1-18 5-27 1-33-1-4 9-1-4-13 3 33 5"/>
<path class="a23" d="M899 257l-74 5-49-3 43 9 7 2 29 2 4-7 8 3 36 3 0 10-12-4-1 0-2 5-8-5-1 2-11-3-11 0-23 6-19-6"/>
<path class="a24" d="M798 257l10 11 28-4 6 7 40-2 12 3 8-4 3 7 32 1-3 3-7 8-24-1-23-1-29-7"/>
<path class="a25" d="M839 259l-43 4 4 3 11-2 10 0 3 0 61 7 9 6-5 1-48 4 0 1-6-1-8-4"/>
<path class="a26" d="M837 271l24 4 19 3-18 5-1 2-7-5-19 3-1-5-22 0-18-1-25 3 119 8"/>
<path class="a27" d="M748 270l64 3 32-5 21 18-37-3 0 1-6 1-7-8-14 8"/>
<path class="a28" d="M789 273l13 0 19-3 20 2-19 9"/>
<path class="a29" d="M811 266l48 10-64 6"/>
<path class="a30" d="M827 281l-13-4-5 9"/>
<path class="a31" d="M734 271l18 4 54-3"/>
<path class="a30" d="M818 278"/>
<path class="a29" d="M826 270"/>
<path class="a28" d="M848 282l-31-3"/>
<path class="a27" d="M808 274l1-3 24 13"/>
<path class="a26" d="M774 274l13-8 12 3 16 5 16-10 98 9-94 8-4-5 47 15"/>
<path class="a25" d="M812 272l13-3 25 0 39 15-56 2-17-3"/>
<path class="a24" d="M852 257l-50 17 6-2 32-3 21 0 2 0 4 4 7 1 52 0 9 2-53 11-4-8-7 8-2-11-22 5-3 0-2-5-9 4-13-3-3 1"/>
<path class="a23" d="M786 262l64 9 0 3 6-2 10 1 2-2 142 7-94 1-8 5-1-3-2 1-31 0-21-4 42 10"/>
<path class="a22" d="M788 250l21 1 112 0-32 3-43 2-16 3-9 1-21-6-25 12 54-1 9-1 1 3 17-1 2 5 8-6 4 8 23-8 6 5 21-5 29 21-13-3-15 4-19-5-20-4-2 8 0-9-5 4-29 4"/>
<path class="a21" d="M762 239l72 10 0 0 56 10 0 2-9-1-31-6-3 5-4-2-21 5-32-4 20 8 43-1 1 2 17 1 0 6 21-2 8 1 4-5 1 2 1-5 0 9 4-7 1 5 36-7 10 11-35 3 0 0-4 5-12-1-1-6-16 0-1-1-3 7-11-4 0 0-2 6-4-5-18-4"/>
<path class="a20" d="M795 239l-8 4 11 3 28-1 0 5 49 1 61 6-9 4-3-4-17 5-22-9-8 4-8 5-39-9-20-1-10 17 35-1 10-4 47 1 13 6 12 2 2-5 10 0 36 0-32 13 10 7"/>
<path class="a19" d="M753 237l29 3 12 7 41-1 6-2 15-3 105 21-12-4-27 3-7-1-8-5-1 3-5 1-18 3-14-8-24 6-42 3 35 2 23 7 7-3 22-3 8 2 5 5 5-8 9 7 12-1 0-7 2 1 4 9 16-4 21-1 8 5 2-5 6-1-40 12-17 0-8 0"/>
<path class="a18" d="M843 250l10 1 4-2 11-5 10 6 14-4 4 4 37 7-18 3-3 0-9-8-10 2-4 4-11 0-26 2 0-7-52 10 98 5 29-3 31 4 4-1 41 0-73 12-16-1"/>
<path class="a17" d="M815 237l-17-1 36 5 2-1 18 8 18-2 6 4 10-5 0 1 15 5 4 0 3-2 65 9-4 3-19-1-3-8-20 1-1 7-12-6-1 0-2 6-4-8 0 0-10 10-6-1-1-6-4 6-60-7 99 18 21 2 25-6 18 6 17-6-77 8"/>
<path class="a16" d="M864 239l-73-4 32 6 4 3 18 7 29-3 0-8 30 10 11-7 9 7 13-1 2 0 0 2 39 0 37 5-60 1-5 5-30-8-11 0-20 0-10 4-9-6-15 6 130 7 18 1"/>
<path class="a15" d="M905 236l-22-2-16 2-25-6-18 7-9 6 15 0 6-1 29-2 5 5 8-1 2-2 5 5 8-1 2-6 6 7 16 2 4-1 5 0 3-3 4 0 0 2 5 3 16-4 4 3 31-3 17 16-17-9-20 2-20-1-33 1-1 0-6 2-21 12 52-2 6 0 20-1"/>
<path class="a14" d="M847 225l50 0 24 13-5-6-18 4-2 2-21-3-18-1-2 0-54 0 66 6 26 3 2 7 1-9 8 1 3 3 10-5 6 11 2-10 5 3 15 7 43-2 6-3 0-5-12 17-34-6-15 6-60 4-9-9"/>
<path class="a13" d="M829 221l45 2 91 6-2 10-1-10-54 10-2-7-8-2-6 7-1 2-8-10-15 10-2-1-5-5-14 0-23-4 44 12 25 6 4-5 8 8 15 0 9-5 2-4 18 3 12-4 31 20-32-4-2-3-40 6 73 5"/>
<path class="a12" d="M803 211l62 8 34 8 2-2 14 2 87 10-22-1-10 3-2-1-9-4-6 5-23-6-2 1-1 4-7-1-3 1-6-1-17-5 0 5-1-5-9-1-17 4-17 0-11-6 26 16 59-2 5-2 13 5 2 5 3-1 12-8 8 0 0 4 9 5 22 16"/>
<path class="a11" d="M880 219l33 2 18-1 21 0 0 4 10 1-1 11 0-1-13-5-20 9-2-4-6-2 0-4-11-1-11 2-6-1-2 4-2 1-37-3-24-1-4-2 94 20 6-2 30-6 1 7 27-2 10-1 21-2-47 11-30 2"/>
<path class="a10" d="M962 206l-48 9-1 0-35-2-23 12 10 2 6-9 0 3 1 5 37-3 2 4 6-7 3 3 5-1 7 5 43-4 26 2 45-3-60 6-12 4-2 3-6-5-11 8-14-6 0-3-1 0-5-1-2 11-8-11 0 10-9-3-3 4 0-7-12-3-46 3 147 9 31-1"/>
<path class="a9" d="M796 202l121-9 76 17-42-2-4 6-17-4-4 0-11 2-7-7-6 7-19 3-1-2-57-8-9 10 29 9 23-5 9-3 1 8 7-3 2 6 6-4 14-5 1 2 15-1 2 0 0-3 1 11 10-4 13-5 0-1 2 1 2 4 20 2 39-1 17 10-11 1-12-5-4 7-12 1-16-3-21-1-19 4-34-9-8 0-2 1-1 4"/>
<path class="a8" d="M832 201l2-5 17 4 11-8 11 3 24 8 16-2 17-2 93 12-59-1-7 0-11-4-11 5-5 4-12-1-11-3-4 4-4-1-26-3-8-5-13 7 0-6-10 2-25-3 66 14 7 4 2-7 2 5 8-1 3-2 10-3 3 6 12-5 8 3 4-2 0 6 0-8 3 6 8 0 5-5 4 5 3-2 7-3 19 9 14-8 27 1 13 10-54 3-4-3-7 0-25 5"/>
<path class="a7" d="M968 177l50 13-58-10-9 5-11 5-55-1-13-5-16 7-41-7-18 8 16 8 34-1 20-2 12-2 11 1 6-4 29 2 3 3 35 5 13 0 1-2 12 3 43-2 34 12-32-2-49 3-8 0-5 1-1-2-5 1-3-2-7 1-4 2-6-2-6 2-5-11-13 11-3 0-1-2-9 1-1-3-13-1-10-5-8-1-53 6 31 6 4 11 28-9 14-2 21 2 4-2 10 2 2 1 2 1 13-3 2 1 2 4 24-5 6 1 10 1 13 3 13-3-74 14"/>
<path class="a6" d="M947 154l32 6-88 7 26 10 13-3 3 2 25 1 3-2 46 12-40 2-67-2-11-3-5-4-12 10 0-10-13 7-5 11 19 4 26-2 12-3 15 4 1-4 3 6 1 0 1-1 5-6 4 6 2-5 9 5 3-8 4 4 6 1 5 3 12-6 11-3 88 10-58 8-31-6 0 8-4-1 0-6-1 2-7-1-20 3-5-3-20 4-1-2-3 0-3 1-4-5-4 1-1 1-21-1-7 5-6-6-3 1-11 1-18-3 39 17 20-5 10 5 7-5 100 1 22 0"/>
<path class="a5" d="M879 115l50 39 6 9-19-2-2 6-16-7-17 3-7 1 21 6 2 7 32 2 1-10 11 0 8 4 0 5 3-8 15-1 56 16-39 4-5-8-7 0-17 2-2 6-18-9-7 11-9-9-3 2-14-2-10 5-2-6-2 4-4-2-1-1-7 1-2-2-24 0-22 5-1-1 56 13 29 3 3 0 0 2 15-1 4-6 2 6 7-2 14-5 20 8 16-6 6 2 7-4 16 7 5-4 15 2 11 4-65 5-4 2-9-7-7 5-6 1-8-4-15 2 0-2-6-2-21 2-38 1-1-2 0 3-4-3 100 14 31-1 27 4 54-4"/>
<path class="a4" d="M918 130l15 10-52 4 21 11 1 0 5-1 53-8 16 8 15 2-42 1-2 10-11-3-48 1-18 0-6-9-16 12 13 11 44-3 1-8 4 1 1-1 1 9 3-2 9-3 3 2 9-2 5-3 15 1 3 1 1 8 6-4 6 3 5-7 2 3 112 17-83-3-10-7-20 8-2-3-4 3-3 1-27-6-2 0-8 5-3-2-4-6-18 10-4-2-5-9-7 0-10 10-14-7-14 0-4 4-4 7 26 5 11 3 27-9 9-1 4 11 25 0 2-3 0-2 27 0 4-6 36 10 7-5-31 7-58 6-6-1 44 10"/>
<path class="a3" d="M797 134l-3 16 79-4 4 8 29-1 80-9 29 20-3 2-25 0-3-10-17 0-1 9-11 1-5-8-3 0-2 2-7 7-7-10-3 3-68-4-11 0 52 20 3-1 2-4 3 7 1-7 11-3 30 8 2-5 28 3 4 5 63 10-12 2-35 0-6-3-9 1-6 2-4-7-1-3-2 0-7 1-3 4-1 1-2-5-17 1-21 3-20-4-23 2-41 14 105 1 65 4 41-9 8 8-15 6-54-3-34 1"/>
<path class="a2" d="M899 112l-31 2 64 26-50-8-15 2-31 14 7-4 60 5 10-4 13 8 47 9-4-1-20-1-4 6-25-7-21-3-22 3-18-3 42 15 9-2 10 3 9 2 6 4 17-4 40-2 2 1 14 6-34 2-9 4-9 5-14-8-6 7-6-6-16-2-4 3-25 1 26 11 40 0 19 1 1-4 54 1 5 10"/>
<path class="a1" d="M878 126l109 17-102-1 8 13 16-8 2 4 57-1 33 6-142 3 134 10 5 18-50-5-8 0-63 3"/>
<path class="a0" d="M947 150l42 17-20-7-19-3-21-1 24 26"/></g>
<g clip-path="url(#c11)"><path class="b0" d="M817 562l26-1 36 2 7 10-56-5-17 1-5 5-48 3 27 3 12-1 20-1 8 7 0-8 35 3 10-1 22 3 1 1 11-4 22 0 3 7 21-2"/>
<path class="b1" d="M966 561l43 13-25-8-51 9-52-8-39 1-18 2-7-3-4-3-7 4-26 9 28 6 14-6 5-1 1 5 3-4 18 3 26-3 22-1 1 8 35-7 16 5"/>
<path class="b2" d="M811 554l134 10-48 11-6-2-20-2 0 4-25-7 0 4-25-7-13 6-7-4 27 11 13 1 21 0 5 5 6-1 36-5 5 4 1-2 0-1 3 1 20-3 11 3"/>
<path class="b3" d="M957 550l-148-3-35 8 43 5 45-4 48 7 122-11-70 19-88-3-14 1-11-2-31 3 20 8 8 3 41-1 69 2"/>
<path class="b4" d="M935 550l-46-8-114 20 21-3 35 1 11 2 19 1 122-2-57 9-76-5-11 4-4 0-23-1"/>
<path class="b5" d="M782 536l13-1 143-3 45 4-69 14-45-1-59 1-19 6 42 0 13 2 3 3 12-9 33 7 17-1 2 4 3-1 3 2 65-4-36 11-11-1-8-2 0-3-22 1-2 3-5 1-12-3-20 8-2-10-3 4-61 2-7-3 108 10"/>
<path class="b6" d="M979 545l-31-1-42-3-26 1-18 3-1-5-20 11-11-2-27-6-10 18 111-3 4 3 17-6 5 7 3 7-22-2-72 0-37 2"/>
<path class="b7" d="M962 521l-183 15 199 11-28 4-59-2-7 0-5 1-13-3-23 2-4-2-29 3-10 6 21 4 2-1 76-6 7 0 18 9 46-7 5-1-75 16-35-5-26-1"/>
<path class="b8" d="M931 533l43-5-2 19-6-2-88 1-88 3 44 9 39-5 5 6 50 1 33-7 8 11-81 5"/>
<path class="b9" d="M897 514l65 4-168 2 67 16 31-2 19 4 29-9 83 21-76-5-54 5-36-1-14-9-23 6-70 9 21-3 65 3"/>
<path class="b10" d="M920 510l-21 13-75 2-31-6 64 18 12-8 2 3 1 4 45-5 3 2 48 16-19 2-67-6-144-1 153 15 25-6 11 9 1-1 45 3"/>
<path class="b11" d="M834 512l31 3 7 5-25 1-16 14 3-4 6 5 12-4 34-4 18 7 49 4 17 3-67 7-14-3-6-2-14 6-42-10 111 12 53 4 24-4"/>
<path class="b12" d="M844 500l-32 14 17 0 77 6-1 5-71-2-29-6 38 15 8 0 11-4 6 9 40 2 47-7 7 9-27 6-8 0-20-6-41 1-72 1"/>
<path class="b13" d="M769 511l191 5-25 9-10-1-46-6-15-1-31 4-6 5-16 4 80 5 6 3 8-5 0 0 19 5 10-5 7 5 20-6 32 0-2 8-7 0-48 1-44-1 113 12"/>
<path class="b14" d="M847 512l38-7 65 9 39-1-10 5-13 9-22-4-46-1-1-2-52 17 55 0 37-1 18-2 11 5 17-8 38 5-96 4-79 8"/>
<path class="b15" d="M869 501l-8-3-34 5-3 0 26 11 2-3 4-5 4 5 3 1 15-2 94 7-27 7-76 2-35 4 67 0 2 3 44 0 55 4-21 6-15 3"/>
<path class="b16" d="M792 481l42 0 15 4 16-1 12 16-6 3-9-11-3 11-8-7 0-3-1 0-58 9-7 10 64-6 13 0 125 19-42-7-49 0-3-2-13 11-10-3-28-4 22 17 97-6 30-2"/>
<path class="b17" d="M906 461l-27 36-18-2-24 16 38 0 6-2 11-5 20 1 69 8 84 11-81-7-18 2-32-1-25 5-11-7-9 11-57-5 28 13 52 3 76-10-11 13"/>
<path class="b18" d="M875 485l25 16-18-6-69 1 67 12 51 0 12 0 51 2 13 6-59 1-3 10-60-6-62-5 163 14"/>
<path class="b19" d="M863 452l27 16-22 23 69 1-46 4-1-4 0 0-7 6-10 3-10-8-35 9-32-4-5-1 101 7 19 2 7 0 29 1 13 1 0-2 37-2 3 10-9 8-7 5-9-8-9 7-2 4"/>
<path class="b20" d="M911 458l-51 16-101 9 91 0 56 2 23 16-12 2-14-7-15-1-15 8-6-1-5-4-38 9 22-3 37 3 32-3 88 6 30-3-24 18-5-6-7 5-12-2-55-4-38-1 137 12"/>
<path class="b21" d="M876 460l19 5 24-4-29 13-16 4-35-7-19 3-22 11 68 5 24-4 21-4 101 21-53-1-44-5-2-1-4-1-8 6-15-7 64 16 16 0 9-5 83 12-94 8"/>
<path class="b22" d="M894 465l1 2 57-1-59 2-55 1-19 14 37 1 27-1 8 6 31-3 64 5-47 5-10 5-21-3-22 5 77 8 9 0 24-2 5 12-8 6-16 3"/>
<path class="b23" d="M952 462l39 16-133 0 42 3 17 8 13-5 30 3 30 4 26 0 8 2-13 8-18 0-1-4-56 0-5 2 66 16 2 20"/>
<path class="b24" d="M959 454l-81-8-45 10 40 10 4 0 14-3 2-2 5-5-6 20-8 6 47 0 66 7-28 13-26 1-11-7-14 0-23 5 49 11 13 3 13-10 4 4 13 5 15-8 46 5-11 5-28 2-36 1"/>
<path class="b25" d="M893 451l6 25-22 5 64 0 2-1 66 5 51 3-42 8-23 3-25-1-28 2"/>
<path class="b26" d="M824 430l87 19-13 12 11-1 23 3 26-4 36 20-14-1-13-7-32 1-90 1 69 8 6 7 129 11-74-5-67 6 117 5"/>
<path class="b27" d="M950 453l-80 12 51-4 3-1 21-2 11 17-42 2-13-4-38 1 99 14 9 3 29-4-93 5 113 12 21 16"/>
<path class="b28" d="M895 436l51 18-18 1-26-11-3 11-42-11 21 21 22-8 5 3 40 2 6 5 0 0 24-5 2 3 76 10-64 3-4-1-36-8-2 6-45-6 28 14 5-3 69 4 4-3 13 0 29 9-20 10-8-2-3-5-26 0 5 22 39-8-14 10"/>
<path class="b29" d="M846 432l123 15-14 7-57-4-3 5-13-10-5 6-5-3 34 12 9-3 43 6 3 4 57-7 53 15-72-7-53 0-8 3-6-3-48 13 101-1 40 6 41 13-67-2-11 0"/>
<path class="b30" d="M802 413l97-5-35 13-15 8-38-1 55 11 7 3 36 0 54 10-104 3 37 5 36 0 9 5 15 0 13-8 24 9 73 2-7 1-67 3-9 1-5 5 0-4-24 3-42 9 88 2 19 0 6 2-30 5"/>
<path class="b31" d="M907 417l-49 11 23 12 13-1 21-4 71 5-2 13-53 2-21-4 11 14 7-8 26 4 2 6 11-1 2-10 9 11 6-9 3 4 6 3 65-9 3 22-26 1-2-11-34 10-7 1-6-9-4 1-12 1-23 1 36 7 6 3 77 6"/>
<path class="b31" d="M935 423l-17 3-1 2-16 12 48 0 1 13-6-2-16 5 5 1 7-1 6 10 43-3 8 0 3-2 50 9-28 6-26-2-9-6-31 6-1 5 74 3 0 16-32 0"/>
<path class="b30" d="M830 418l52 10 20 14 12 4-11 0-26 1 40 13 2-4 26 0 3 6 3 1 31-6 6 0 1 0 1 7 15-5 4 20-8 0-1-10-8 10-41-8-2 1-13-4-40 6 60 10 21-2 7 5 46 3 29 5-41-2-3 2-26-2"/>
<path class="b29" d="M886 440l30 7-13 4-41-1-7-2 60 17 38-9 2 1 30 1 33 17-17 4-20-9-25 0-4 0-9 9-42-7-4 2-25 6 43 4 38 0 21-3 33 5 56 14-55-1 85 13"/>
<path class="b28" d="M971 428l-84 14 77-5-74 11-1 1-58 4-47 3 59 11 23-6 15-2 33-1 2-2 7 8 40-1 2-2 58 18-18-5-11-4-1 0-19 4-33-5-3 1-37-2 0 0 13 19 3-6 52 0 5 10 10-7 17 3 6 15-14-2-11-2-1-2"/>
<path class="b27" d="M797 434l76 8 64 13-17-11-40 2-22 13 72 6 5-6 13 4 29 1-7 12-35-2-19-3-58-1 69 12 10-1 14 7 0-6 25 6 10 1 13 0 1 1 5-6 19 5 30-9 14 5-1 9-27 4-6-5-45-1-16 1 38 19"/>
<path class="b26" d="M785 440l165 14-35 1-9-6-7-1-39 4-22 6 48 3 14 3 57-6 3 9 1 0 31 4-39 2-36 0-1 0-12-2-20 5-7 12 35 0 7 0 30-5 50 8 1 7-97-2-25-2 123 12 80 4-48 11"/>
<path class="b25" d="M906 461l15-2 26 1 29 14-4 2-20-1-20 1-30-7-8 2-6 11 2-1 6 7 0 0 5 0 22 2 94 8-52 3-48-9 19 13 29 4 49 1-22 6"/>
<path class="b24" d="M897 437l-5 28 50 1 38 8-81-2-10 3-13 1-5-4-19 0 53 9 0 9 4-4 26-6 74 22-9-8-9 5-34 0-4 0-70-5 109 16 20 0"/>
<path class="b23" d="M905 454l-46-2 92 25-13 2-1 0-27-8-64 4 10 12 6-7 17 11 62-2 41-8 19 6 5 4-12 2-6 5-45 1-7 3-3-2-48 1-3 6 51-1 122 7"/>
<path class="b22" d="M839 451l91 19-28 8-5-4-15 1-6 1-27 11 38 1 99 2-1 11-6-7-34-2 0 9-26 2 0-7-18 4-35 0-11 8 104-4 3 3 26 1"/>
<path class="b21" d="M862 476l-9 0-33-8 33 22 19-4 70 5 47 8-52 0-7 0-65 4 27 9 65-4 35 1 21 9-1 3-36 1-18 1-21 4-15-2 111 11"/>
<path class="b20" d="M885 450l39 6-90 31 41-1 60 3 23 14-26-7-12 7-19-5-63-4 48 12 4 3 42 5 1 1 26-10 10 10 2-5 6 0 7-6 9 2 1 6 1-5 46 3-141 14 60 10"/>
<path class="b19" d="M883 477l-13-6 41 17 17 3 45 3-24 3-15 3-4-1-20 4-25-3-24-4-7-2 40 20 83-8 28 9-56 5-15-3-31 1-6-2-35 2-3 0 154 18 65-4"/>
<path class="b18" d="M872 476l5 10 2-6 7 8 12 2 19 10-20-1-24 3-13-6-55 4 61 9 74 1 43-2 6 7 4-9 71 17-83-6-8 10-18-3-2-5-4 5-25-4 0 2-67 0-17-6 127 15 1 4 53 4"/>
<path class="b17" d="M943 503l-46-5-26-4-3 0-50 6 2 12 54-2 12-5 19 1 28 4 30-3 83 11-105 5-32 1-25-5-25 5-2 0 148 19"/>
<path class="b16" d="M985 498l-21 2-76 10 42-1 9 0 39 10-39 3-1 4-1-2-40-8-10 7-42-5 78 13"/>
<path class="b15" d="M932 476l-167 11 142 12-37-5-15 14 46 5 13 2 66 2-19 7-55-3-5 4 0-7-68 11 38 1 41 3 69 5 14 9"/>
<path class="b14" d="M902 499l-64 3 4 4 4 9 13-6 58 6 47-9-51 16-12-5-11 7-6 3-5-9-12 7-3-4-12-2-13 14 40-4 10 0 49 3 23-2 18 3 33 11-26 5-32 4 38 3"/>
<path class="b13" d="M824 513l8 2 143 6-40-3-3 5-1 0-11-6 0 9-1-3-13 3-19-1-6-7-9-1-8 7-39-3-15 1-17 16 65-6 100 2 22-3 38 9-64 3-31-1-59 5-13-4"/>
<path class="b12" d="M839 514l75-6 7 17-37 0-26-2-43 5 11 1 21 8 35-1 14-6 24 9 21-11 53 14-49 5-80-3 51 11 55-3"/>
<path class="b11" d="M851 511l98 16-132-5 25 17 34-3 22-6 25 5 100 14-25-8-9 1-54 9-54-10 68 17"/>
<path class="b10" d="M850 497l-57 15 102 1 10 4-53 6-30 0-36 4 38 9 1-5 8-2 32 7 1-6 35 2 17 6 66-3-23 10-7-3-29 5-9 4-57-8-14-1-48 1 118 18"/>
<path class="b9" d="M825 501l174 14-114 5-19 5-62-2-22 13 44 0 3-1 0-5 29 9 20-6 27-1 103 7-3 4-38-1-16-1 0 4-12 2-1-1-18 0-1-5-31 8-17-8-15 5-23 0-1 4 67 3 4 2 45 0 28 0 12 1 55 3"/>
<path class="b8" d="M809 513l209 11-138 2-127 7 62 6 24-2 42-3 100 15-23-4-4-3-23 4-9 3-29-4-19 3-53 6 103-1 18 4 8 17"/>
<path class="b7" d="M912 527l-92 9 50 0 23 3 83 5-12 1-90-4-16 3-7 1-42-3 13 11 15 5 25-6 42 9 28 1 29-4 8 2 5-3 34-1 17 13-84 6-15-9-9 3-9 2-57 0"/>
<path class="b6" d="M874 536l39-8 40 23-67-6-7 6-1-11-1 1-24 6-47 2-18-3-19-2 50 14 13-3 35 0 38 7 35-1 22 1 29-4 2 7-84 1"/>
<path class="b5" d="M864 535l4 5-7 7-95 3 57 8 22 2 3 3 4-2 26-7 31 6 49-6 30 10-15 2-16 9-14-10-6 7-17-8-42 7"/>
<path class="b4" d="M836 534l135 8-47 5-19 4-108 7 11-3 47 1 30 6 124-4-88 15-3 0-9-6-3 4-3-4-14 7-17-9-25 8 47 3"/>
<path class="b3" d="M747 535l206 9-39 7-61-4-28-2-52 15 33-6 10 2 21 6 11-6 11 5 34 0 18 1 68 0-20 13-43-4-11-5-24 6-2-2-46-5-12 7-9-3-8-1 57 9 47 3 57-2"/>
<path class="b2" d="M915 539l-93 4-41 19 73-1 30 1 126 12-40-8-24 3-31 2-6 4-19-5-8-6-73 3-35 3-7 6 28 3 26 5 18-7 41 1 2 5 2-3 4 4 15-2"/>
<path class="b1" d="M841 562l41 1 24-1 94 0-54 8-58-5-26-1-11 10-10-6-32 5-1-3-50 5 37 7 8 0 4-2 20 1 6-5 3 0 4 1 1-1 3 5 3 1 1-4 6 0 3 3 15-5 8 5 17-2 18-2"/>
<path class="b0" d="M958 550l-172 8 148 17-23-4-11 1-34-3-21 5-10-10-44 7-38 3 80 8 13 0 4-1 18-5 11 0 17 4 3-1 53-2-74 11"/>
<path class="b0" d="M846 563l32-10 69 8-23 13-8 1-7 0 0-6-26 0-5 6-1-2-8-9-3 11-9 0-63-2-5-4-10 4-4 9 42 2 9-1 2-4 0 1 2-2 5 0 0-1 4 4 21 0 12 0 13 1 1-5 1-1 40 7 15 0"/>
<path class="b1" d="M825 558l11 2 132 13-17-7-26 1-14 7-41-7-8 4-5-3-15 5-31 2-3-7 7 13 15-2 6 4 1-1 1 0 5-2 1-3 10 7 10-6 8-1 0 1 11 1 35-2 12 0 21-1"/>
<path class="b2" d="M776 555l29 2 56-2 27 2 65 4 44 1-6 8-41 5-11-10-6 6 0-6-6 3-5 7-3-4 0-7-19 1-47 10-3-9-30 8-5-4-59-5-4 6 83 9 37 2 20-3 17-3"/>
<path class="b3" d="M885 542l-82 17 35 2 38-5 43 1 13-5 14 11 33-8 47 10-46 5-15-6-1 2-41 3-2 2-16-6-10 9-2 0-5-2-8 3-3-11-5 5-99-1 60 13 8-3 9 5 37-5 34 2"/>
<path class="b4" d="M819 537l151 14-167 10 16-5 7 2 31 1 33-5 8 8 16-1 1-9 2 5 7 3 30 3 1-3 16 12-19-1-46 0-5-1-12 4-15-8-13 0-8 9-13-11"/>
<path class="b5" d="M908 537l-1 14-2-2-1-1-12 3-20-7-19 2-24-1 1 10 3 6 5-1 3 0 20 3 4-4 13-6 18 9 17-9 1-1 1 4 5 5 106 9-63-4-1-1-24 0-62 4-10 4-34-3-11-4"/>
<path class="b6" d="M808 532l28 6 51 1 82 11-81-8-72 2-5 6-15-2-14-7 18 21 21-6 43-4 10 2 1 8 0-6 17 5 15-2 24-2 4 0 7-5 14 9 10 1 32 1-47 8-21 4"/>
<path class="b7" d="M888 539l40-4 0 12-8-5-4 4-82-2-8-3-9 10-8-11-99 11 141 1 4 2 18 4 31-3 7-3 14 0 4 7 11 4 9-6 16-5 14 2 24 10-68 6-18-3-5-2-18 8-25-8-32 2"/>
<path class="b8" d="M873 514l-43 22 15-3 50-3 1 4 29 3 4 2 74-8-34 20-53-6-30 1-1 3-11-1 0-5-11 5-2-6-18 3-4-1-13 2 5 11 21-2 38 0 24-3 8 3 35-2 0 5 42 2"/>
<path class="b9" d="M849 504l-7 35 11-2 8-6 34 5 83-5 10 14-6-3-12-2-16 5-27 6-16-7-7-1-12 8-107-4 65 10 37-5 22 1 23 5-58 7"/>
<path class="b10" d="M821 510l22 3 22-9 34 17-3 5-52 3 6 3 0 7 9-6 10-3 22 5 16 0 4 0 4 1 1-5 9 3 90 9-36 4-8-7-40 8-18-8-10 8-11-7 0 3-16 6-6-10-55 6 77 7 69 3"/>
<path class="b11" d="M874 515l72-3-118 5-5-1-2 1-31 4-10 7 47 4 17 0 25 2 14 0 11-1 0 5 4-6 3 7 9-4 8-6 29 3 16 3 6-3 21 1 58 6-27 8-63 0-13-5-3 4-11-1-6 2-25-6-19 0-3 3-8 4-6-8-112 7 230 18"/>
<path class="b12" d="M781 508l70-1 18 4 21 0 51 14-101 2-4 0-38 5 7 2 36-2 25 0 1 4 12-8 4 4 24 3 1-1 6 1 19 2 10-1 23 0 72 15-38-4-22-2-23-5-2 6-13 5-24-8-18 0-74 0 115 11"/>
<path class="b13" d="M863 500l-11 9 99 15-24-5-5 2-7 2-11 2-10-4-9 4-20-9-11 11-17-9-1 7-13 0-35 2 87 4 15 3 23-3 3 3 30 5 18-7 7 11-36 0-21 5-30 2-4 3 108 8"/>
<path class="b14" d="M911 500l-28 3-14 7 16 4 3 1 135-8-59 18-70-2-2-3-3-4-23 8-19-4-6 6-29 11 89-5 0 0 15-1 9 3 5-2 39 1 26-2-43 18 8 3 98 5"/>
<path class="b15" d="M708 486l193 12-16 17 2-4 26 3 52 12-13-7-20 3-62-1-16 1-9-2-24 2 52 15 1-8 20 0 9-1 17 5 18 4 6 0 5-8 4 7 22-4 13 6 24 1-50 3 0 3-23 0 0 0"/>
<path class="b16" d="M797 488l92-8 73 22-143 7 11 1 38-6 14 5 18 4 15-5 2 4 5-4 43 0 5 4-10 13-29-6-19-2-47 3-47-3 95 11 1 3 5 3 34-5 18 0"/>
<path class="b17" d="M900 476l-63 12 71-1-63 5-19 9 39 14 66-3 26 0 23 9-51 1-21 4-13-2-1-6 40 16 63-3"/>
<path class="b18" d="M779 485l70 5 24 1 70 5-118-4 40 21 32-2 14 4 26-9 20 1 1 6 55 0 16 12-43-1-14-8-89 0-16 3-7 0 56 12 49 5 19-8 18 7"/>
<path class="b19" d="M923 472l-49 5-46 5 16 5 48-1 2 2 29-5 73 19-62 0-81-2-12-4-24 6 38 6 57 5 8-7 2 8 38-4 21 15-17-6-50 0-63 5 100 6 40-2 24 11"/>
<path class="b20" d="M919 474l-78 0-32 15 63 1 62-5 6-1 3 2-7 12-45-4-12 3-14-4 6 19 60-5 0 7 22-10 14 2 35 13-19-2-28 0-13 3-7 3-50-6 117 15"/>
<path class="b21" d="M852 460l57 13-26-2-78 5 99 9 93 15-58 2-17 1-65-6 103 14 10-4 7-3 4 4 6-4 29 10 35-1-88 3-122 8 143 5"/>
<path class="b22" d="M848 454l13 13 13-3 9 3-22 21 79-4 7 2 26 13-5-3-6 6-35 1-16-10-10 0-18 10 25 10 22 0 9-5 2-3 14 10 14 0 32-5 22-3 22 20-71-1-2-9-37 4"/>
<path class="b23" d="M895 466l16-2 4 1 11 12-39 0-25 11 25-1 17 0 18 4 94 9-24 2-4-1-22-4-8-2-6 3-7-1-12 0-1 9 42 3 6 1 38-1 67 19"/>
<path class="b24" d="M885 449l89 29-17-10-9 10-5 1-15-9-11 6-5 0-48-7-14 9 11 3 27 2 5 1 28 2 58 0 26 14-27 1-63-7-6-1 44 21 10 0 28-10 38 10 8-9-11 15"/>
<path class="b25" d="M867 431l-10 4 54 12-34 8 38 6 12 17-31-6-11-3-9 4-1-1 35 11 14 1 49 1 12-3 15 3 66 5-59 5-42 0-9 1-6 0-26 0-51 2 98 14 109 2-94 5"/>
<path class="b26" d="M836 435l21 6 33-4 1-3 105 20-19-4-20 2-45 0-28 11 23 2 16 2 52 10-23 0-36 0-19-5-22-2-5 2-20 11 49 6 23-4 9 2 4-4 11 1 40 1 35 14-19 3-33-5-29-2 80 10 72 8"/>
<path class="b27" d="M905 453l-14 9 23 4 7-2 1 1 17 0-4 4-6 9-1 2 8 5 14 0 12 6 1-5 4-2 4 6 1-3 13-2 24-1-34 16-12-4 56 18 43 1"/>
<path class="b28" d="M920 422l-49 39 32 2 20-6 4 10 15-6 93 3-27 14-11-5-23 4-41-5-3 7-20-5-7-1 25 14 6-2 36 1 21 5 4-6 51 4-14 8-7 5-2-10-7 7-33-6-1 5-8-4-6-1 17 17 16-6"/>
<path class="b29" d="M914 417l-46 7-40 15 153 16-14-3-25-4-6-4-2 5-14 6-29-2-19 2 42 8 12 0 2-6 1 8 3 0 17 1 18-2 6-6 50 5 13 16-71-7-4 3-5-3-2 6-15-7-11-1-20 2 14 11 19-3 39 10 61-3 29 6-24 0-94 3 82 11"/>
<path class="b30" d="M914 405l-87 24 63 8 71 5 10-2 51 12-30 1-43 0-23-3-27 3-4 1 35 3 54 0 44 15-49 6-23 1-15-8 57 9 7 7 14 11-7 1"/>
<path class="b31" d="M887 415l17 26 32-3 1-6 50 7 14 13-42 2-34-8-1 6-8-8 24 15 9-2 4 8 25-1 3 2 14-9 13 18-1-2 0-3-10 1 0 0-46 1 50 27"/>
<path class="b31" d="M900 425l-7 13 9 2 8-3 11 2 47 7-40-2-21 0 0 4-21 6-21-1-4 2 94 7 6-1 17-3 2 8 20-10-35 19-13-1-2-1-27 2 14 7 58 3 54 5 43-2-36 7"/>
<path class="b30" d="M868 410l97 18-47-3-12 0-3 9 79 9 36 10-61-2-10-5-6-2-18 7-12 8 13 8 0-10 5 1 43 9 24-4 19-3-13 10-22 0-3 6-13-6-4 8-27-5 12 15 45-5 3 6 56-7 1-1 7 18-54-1-15 7"/>
<path class="b29" d="M905 426l-29 17 27-8 77 17-14 3-1-4-5 4-8-6-90 12 49 5 23-2 27-8 4 2 27 0 20 4-14 11-14-4-4 6-8-4-10 4-10-6-5 5-10 3-3 0-3-9-16 7-6-1 21 15 13-6 34 8 5-2 94 10-20 0-5 14"/>
<path class="b28" d="M859 418l34 22 52 1 60 12-41-3-50 5 0-6-5 3-10 0-19-7-26 4-27-3 47 14 9 5 26-8 10 3 18 0 1-1 6 4 21-3 1 1 49 10-28 3-17 5-7-1-25-10-9 2-38 3-2 3-66 4 99 2 29 2 10-3 14 6 9 1 52-1 21 13-31 0-21-2-4-5-5 6-19-7 0 9-23-5-8 3 52 8 44-3"/>
<path class="b27" d="M953 450l-24 2-108-7 67 17 10-1 11 5 35-3 45 9-3 6-16 0-1-6-21 6-4-6-4 6-11-3-4-7-2 9-7-7-27 16 5-1 38 1 13 0 39-1 3 6 2-8 42 3-71 8 4 22"/>
<path class="b26" d="M902 431l-105-1 153 17-20 2-19 16 1-1 86 7-71 8-8-6-10 1-18 3-69 7 98 1 22-2 6 5 31-7 28 12-3 9-25-2-3-8-14 11-5-1-37-8-13 0"/>
<path class="b25" d="M901 418l-47 36 7 3 43 2 14-1 10 8 3 2-1 11-12-8-4 4-44-1-67 7 66-1 36 9 7-6 34 7 12-2 1-8 3 4 9 7 15-2 86 13-97 0-5-7-29 3-68 5 32 2 76 13"/>
<path class="b24" d="M909 443l-3 7 14 13 27 3 0 9-7 0-37-1-76 16 36-8 50 7 7-3 48 3 59 5-62-2-5 5-11 2-1-5-19 4-9-1-8 0 17 8 6 1 9 3 26-1 1 0"/>
<path class="b23" d="M843 464l17-8 45 9 33-2 30 10-115-5 13 13 5 0 27 10 5-4 5 1 16 3 10-1 18 1 11-10 14 4 41 18-24-11-9 2-15-1-34 6-6-1-14-4-5-2 44 22 25-10 29 6 97 9-50 3-17-3-74-3"/>
<path class="b22" d="M840 435l-29 14 67 18 24-6 37-1-89 24 8 5 4-2 28 3 19 1 1-2 10 0 30-2 6 4 77 8-23-2-36 1-2-4-24 7-74-7-12 14 47-3 10 10 34-3 13 2 13-10 8 3 21-2 12 13-32 2"/>
<path class="b21" d="M813 456l48 10 107 6-43 5-65-1 12 13 13-8 79-1 18 6-9 11-7 1-5 0-32-5-49 8 0-5-3-4-7 13 25 1 53 4 9-4 6 4 59 4 1 3-48-1-53 9-65-9 117 14"/>
<path class="b20" d="M884 462l69 16-27-4-24 4-29 10 8-8 71 6 2 4 18 12-31 0-29 0-13-6-4 2-101 10 55 0 46 2 9-5 20 3 2-2 11 1 8 6 1-8 0 9 15-3 25-6 18 9-3 2-2 2-10-2-44 6-37-5 113 18"/>
<path class="b19" d="M794 446l148 31-84-5-44 10 130 5 23-7 39 12-42 10-1-2-35-7-43 8-3 1-21-4-4-1-13-3-12 4-5 8 46-1 5 2 19 1 1-1 4 1 9-4 38 9 3-3 11-2 10 6 19-1 2 0-6 14-19-5-2-6-42 2-4 8-15-9 34 15"/>
<path class="b18" d="M795 461l32 21 32 1 1-1 34 9 5-1 45-5-6 9-3 6 0-2-10 2-5-8-4 8-11-3-13 5-13-6 1 19 18-9 10 1 11-1 0 5 11-5 10 5 5-2 8 3 3 2 28-1 34-9 11 9 16 12-46-7-34 2-9 4-4-5-16-3-4 1-42 7-11-1 69 6 53 15"/>
<path class="b17" d="M852 482l63 8 50 8-163 6 42 3 44 4 3 3 2-1 2-2 53 0 4-4 2 3 25 3 60 10-44 4-3-3-7-4-46-2-15 4-1-6-13 10-32-6 76 18 5-8 43 4"/>
<path class="b16" d="M858 466l25 2 1 20-50 10 37 11 20-2 43 4 15 3 21-10 2 9 18-3 30-6 12 22-35 1-2-5-24 2-13-5-18-1-49 8-37-6-23 8 44 11 15-2 6 0 74-7 27 9"/>
<path class="b15" d="M859 476l27 27-26-7-14 19 14-2 48 2 42-4-11 10-6 6-20-2-7-6-3 8-14-9-32 9-2-10 0 8-47 3 93 6 8-6 14 0 43 10 6 6 19 16"/>
<path class="b14" d="M742 490l114-3 11 1 77 1-51 10-46-4 64 13 12 6 2 1 11-3 47 1-35 13-17-10-1 10-32 0-9 1-2-11-9 6-20-3-14-2 10 22 48-3 33 1 27 0 67 6-35 0-48-1-7-2-95 12"/>
<path class="b13" d="M858 474l-17 40 30 0 12-3 57 1 22 3 29 7-49-3-13-2-9 5-30-2-2 3-13-6-5 9-20-5-53 0 41 10 4 1 18-1 10 1 9 4 28-7 18-1 3 3 2 1 17 2 5 2 18-1 28 2-19 5-6-1-36 4-34 3 21 5 3 2 15 3"/>
<path class="b12" d="M842 501l-11 2 57 4 18 3 67 10-59-2-23 9-7 0-14-5-2-5-12 6-5 12 12-5 23 6 5-6 9-2 5 4 19 6 29-5 23 14-59-6-16 2-20-2-36 14"/>
<path class="b11" d="M922 498l-61 16 26 7-12-1-3-4-25 10-5-3-8 1-64 4 12 4 48 7 26-3 12 0 6 1 13-6 4 2 26 1 0 2 4-1 0 0 3 4 10-3 110 9-107-2-4 5-31-3-3 6-10-1-8-10-4 14 35 2 62 4 12-1 17 3"/>
<path class="b10" d="M803 507l107 8 33 12-5-6-44 5-34-8-3 1-7 4-11 13 4-4 5 0 10-4 36 0 30 6 39 2 1-8 20 13-13 4-2-1-19 3-21 2-20-1-3-3-12 4-46-6-7-3-60 2 140 14 7-4 46 4 45 4"/>
<path class="b9" d="M951 514l-20 5-64 1-72-2-4 13 70-1 19 7 9-2 4 4 26-2 5-8 89 12-43 7-5 1-16 0-10 0-17 0-4-5-13 2-8-3-16 2-24 0-37 6 67 5 6-2 44 2 18-3 36 0 5 4"/>
<path class="b8" d="M861 510l-13 17-49 8 11-1 13 3 11 0 3-1 20-6 4-1 7 4 5 5 4-6 33-2 5 2 86 5-4 9-52 2-14-3-33 0-3 1-3-4-14 4-9 0-75 12 15 0 30-1 17-4 4 2 1 5 22-2 1-6 1 6 4-3 59-2 3 5"/>
<path class="b7" d="M834 536l56-5 23 8 13-6 24 0 48 8-11 3-42 7-16-10-57 4-28-1-8 6-33-4-3 4-10 4 78 0 29 6 5-5 161 11-181 3"/>
<path class="b6" d="M892 515l-105 24 13-3 161 2 27 1 1 10-20 2-24-3-20-4-6 4-12 0-10 3 0-5-13-2-51 5-9 2-80-2 29 4 9 10 73-9 8 4 6-3 0-2 2-1 5 5 4-2 7-3 10 11 38-3 15-2 29 1 8 4 20 0-72 2-18 3-7-4-8 0-8 1-3 8-15-7-19 0-13 1"/>
<path class="b5" d="M917 545l-6-4-36 6 0-4-20 0-1 1-11 2-12 1-19 6 17 3 1 5 16-9 6 8 3-2 2-4 3 4 22-4 3 5 5 2 22 2 21-9 25 5 13 4 37 1-6 1-65 2-5 5-8-6-9 0-14 5-32 1-33-3 28 8"/>
<path class="b4" d="M856 538l26 0 33 12-72-1-55 4 27 6 17-4 51 6 16-1 3-4 0 2 21 3 71-2 19-7-89 13-18 0-22 7-3-6-3 1-5 5-50-5-11 7 0-3-8-4-2 2 127 9"/>
<path class="b3" d="M917 550l-90 11 25-4 18-2 1 5 0-2 39-5 29 4 27 18-27-7-19 4-32-2-3-5-24 10-2-10-14 6 0 4 0-8-27 7-8-2-42 0 65 8 18-2"/>
<path class="b2" d="M845 551l-28 11 63-6 4 5 1-8 6 7 34-1 14-2 18 15-13-3-2 1-16 5-4-10-2 10-5-4-5 0-7 0-9-2-44-2-10-2-1 10 0 0-12-1-2-9-1 2-9 5-56-3 23 13 23-5 12-1 45 0 3 7 8-2 0-1 14-3 0 7 34 0 27-8 46 5"/>
<path class="b1" d="M831 539l-50 12 23 7 20 2 73-1 46 12-49 3-23-3-6-1-46-6 29 14 10 5 17-4 1 4 3-3 6 0 4-2 0 2 6 4 21-1-73 5"/>
<path class="b0" d="M857 550l74 11 13 7-10 6-13-6-1 4-30-5-3 4-7 4-8-4-30-4-8 7-19-2-2 1-13-8-1 4-35 9 5-2 47 3 2 2 4 0 8-2 17-2 28 0 23 5 21-4 7-1 43 6"/>
<path class="b0" d="M778 546l170 25-24 1-6-1-16 3-27-3 0 3-1 0-10-1-20-2-18-6-92 2 49 14 15-1 37-1 4 0 16 6 21-3 0 3 14-7 2-1 15 0 9-1 21 4 24-1"/>
<path class="b1" d="M775 561l49-1 22-3 44 0 11-2 28 5 47 2-52 10-21-3-5-5-5 1-1 3-7-1-2 7-22-6-1 5-7 2-4-2-11-2-7 2-17 0-14-7-24 1 28 13 5 2 62 1 8-3 1 2 20-6 5 2 2 2 34 6 10-4"/>
<path class="b2" d="M894 549l-139 1-67 13 155-8 2 5 33 0 63 3-2 10-4 0-4-1-14-2-43 0 0-4-4 2-9-1-12 4-5-7-17 9-91 4 177 6 4-3 61 0"/>
<path class="b3" d="M921 547l-55 3-126 1 7 10 50-2 14 3 11-4 7 3 19 0 5 0 0 1 2-4 1 4 13-4 3 0 5-4 30 2 20 1 22 18-2-2-21-3-21 4-3-1-12-8-3 10-10-2-2-8-7 7-5 1-8 1-3-7-5 2-5-4-25 9-5-5-13-4-15 0 21 13"/>
<path class="b4" d="M957 547l-14-2-10-2-7 1-26 6-36-10-18 8-35 2-1-2-13 3-10 11 16-7 55 2 11 4 7-2 21-2 14 1 51 7 0-1-75 10-20-10 0 4-32-1-3 1-5-1-1 6 40 4 56-1"/>
<path class="b5" d="M842 526l-81 9 52 2 127 13-21 0-29-3-3-5-17 6-20-7-5 6-33 3-9-2-5 5 12 9 26-3 26 2 0-6 1 6 2-2 4 2 6-1 0-7 119 3-51 14-15 1-15-1-7-3-16-3-1 5-63-3-18-2"/>
<path class="b6" d="M874 527l-112 8 94 2 26 11-15-2-8-2-17 2-31-5 5 15 69-4 13 5 12-2 7 3 22 0 16 5-45 1-19 1-6 5-3-6-4 11-2-11-11 1-93 5"/>
<path class="b7" d="M800 537l67-5 44 0 34 10-5 1-9 8-16-9-1-2-26 8-3-3-15 4-6-6 0 6-4-8-8 8-6-7-38 0-11 1-32 0 51 16 23-4 11 2 15 3 19-4 5 7 39-7 8-2 38-2 10 2 1 7-4 3-57 7-13-2-27-5"/>
<path class="b8" d="M883 525l-47 13 68 0 7-5 16-3 89 12-72-2-29 8-8-4-3 2-14 2-1 2-10-7-19 3-20 5 0-5-22 0 40 10 8 5 30-7 35 6 0-5 24-3 10 17-94-5-26 2"/>
<path class="b9" d="M928 527l-97-10-37 21 39 1 6-11 11 10 11-2 17 1 40-8 16 10 46 9-34 3-28-10 0 8-9-1-6-6-9 1-7-1-13-2-3 11-4 0-2-2-9 1-22-10-9 11-29-10 46 16 47 0 4 0 5-3 29 9 9-10 5 3 54 6 3 3"/>
<path class="b10" d="M923 526l-22 0-114 5 30 5 35-6 41 3 38 5 18-8-7 11-27 7-7-6-14 6-37 2-8-9-45 6 0 6 48 0 76 3 9-3 23 4 0 0 3-5"/>
<path class="b11" d="M899 515l70 12-68-6-22-2-14 4-33 3-12-4-1 15 12-7 31 6 13-1 42-2 15-2 19 8 21 0 22-2-41 9-10-3-4 1-16 3-17-6-18 1-14 9 45 8"/>
<path class="b12" d="M871 510l15 3 21-6 5-3 5 4 77 19-24-7-23 2-30-6-8 5-8 1-3-6-4 10-2-5-24 4-13-6-31 6-48-4 38 15 60 1 4-2 6 4 5-11 10 7 6-5 4 4 1 5 15-11 1 3 30 6 13 2 8-3 31-5 3 8-50 4-24-2-11 6-4-2-15 0-6 2-20-6-57 11 82 0"/>
<path class="b13" d="M867 511l30-1 16 1 2 0 71 15-74-6-2 3-15 1-13 0-8-4-2 2-29 5-17-6-29 17 16-7 11 2 25 0 15-5 3 3 26-3 59 2-5 17-14-7 0 10-17 0-12-4-5 11 59 0"/>
<path class="b14" d="M831 504l39 3 25 3 26-5 115 20-52 1-15-1-12-8-5 7 0-8-9 5-8 3-20 2-3-8-9-2-5 11-11-8-24 7-12 1-1-8-9 2-6 11 12-3 8-1 30 1 19-1 4 5 5-5 16 9 1-8 1-1 4 1 13 7 10 2 9 0 10-10 2 6 20-4-50 10-13 14 38 4"/>
<path class="b15" d="M946 502l-126-2 22 5 13 7 13 3 18-4 81 6-15 1-9 9-4-1-3-6-9-1-3 5-12-6-47-2-3 1-17 0-43 13 104-1 3-1 35 10 15 1 13-5 46 4-22 4-2-2-67 0"/>
<path class="b16" d="M847 488l136 10-32 3-54 0-20 11 4-5 11 6 7-3 106 10-43 5-18-4-9 1-12-4-4 0-17 0-10 9-4-7-13 5 10 7 48 0 2 12"/>
<path class="b17" d="M844 487l2 3 11 1 119 12-33-7-36 1-35-1-25-1 4 13 22-1 11 0 4 0 40 5 57-2 40 4-11 6-7-1-29 8-29-5-11-6-11 0-11 8-9-8-37 7-24 3-4-8-4 0 77 13 1-3 2 1 53 1 1 9 12-3 15-4"/>
<path class="b18" d="M864 474l-34 17 148 6-20-5-81 1-24 3-16 3 45 16 4-9 7 0 9-2 3 11 4-5 16 2 1-6 5-2 5 9 29 0 35 11-35-3-3 3-45-6-21-1-16 6 34 7 68 4"/>
<path class="b19" d="M879 478l-26-10-13 19 104 0 36-7 1 8 15-6-30 21-23-10-5-1-43 3-3-1-18 9-19-3-5-7 51 18 1-6 0 8 22-6 1 2 11 0 6 3 13 2 63 8-8-4-90 2-53 0 90 16 7-2 21-6 33 2"/>
<path class="b20" d="M931 475l-84 8 21 4 18-4 14 0 14 8 64-2 22 8-23-1-13-3-12 4-27 5-6-7-23 6-5-3-5-6-37 5-3-4 40 22 1-3 12 3 44 0 5-10 4 6 16-4 9 8 4-6 5-2 6 4 16-7-2 21-32-9-56 8 0-6 37 12 12 0"/>
<path class="b21" d="M820 483l8 0 3-1 39 7 0-9 25 5 4-2 8 0 40 7 27-6 19 6 14-7-16 18-24 2-42-10-20 9-44-6 33 9 14 3 2-2 9 0 7 3 15-4 15 4 47 16-23 0-5-8-44 3-13-3 64 14"/>
<path class="b22" d="M967 475l-7 2-41-9-80 9-14-7 46 12 12 3 9 6 32-2 7 2 10-11 10 11 17 11-13-1-9 0-7 1-15-1-10-2-1-5-16 7-12-3-5-6 55 15 20-1 111 3-58 11 79 10"/>
<path class="b23" d="M868 463l13-1 46 4 58-4-64 14-41-1-27-2-1-1 36 9 24 9 13 0 9-6 7 7 9-2 8-2 15 0 8 14-33 2-7-8-12 2-2-2 20 12 16-3 3 11 3-1 8-7 6-3 53 13-93 0 102 12"/>
<path class="b24" d="M855 450l34 11 1 4 48 1-8 6-22-3-10 1-1 1-3-1-8 7 8 8 9-2 2-1 32 5 2-2 5-1 4-1 45-2 2 7 3-5 42 6-18 9-34 4-40-10-26 9-11-9-50 0 91 25-42 3"/>
<path class="b25" d="M879 412l29 36-59 4-10 2 149 12-17 7-34 1-33 3-42 0-51-7 140 21 6-2 39 1-25 2-23 7-24-2-25-1 35 10 52 6 5-2 41 5"/>
<path class="b26" d="M972 430l-58 24-35 1-4-3 10 5 19 2 17-2 12 4 16-4 11 13-4 3-8 3-6 2-9-6-13 1-1 4-39 2-4 0 27 2 7-1 6 0 5 0 3 6 19-1 3-3 9 8 2 0 2-9 58-1 31 5-20 12-22 5-4-9-32 1-2 5-11-5-4 0-6 0-6 1-3-1 3 11 18 6 79 0"/>
<path class="b27" d="M891 445l-42 20 12-5 165 13-30 4-11-8-56 1-22 14 19 6 35-6 4 4 4 0 6-1 32-3 18 4-21 8-40-3-57-1"/>
<path class="b28" d="M885 440l110 11-48 4-17-11-4 10-43-3-50 4 55 10 8-2 43 1 14 3 5-3 37-1 0 5-13 8-15-8-5 7-17-7-20 8-18-5-27 17 57 1 3-5 16 0 28-2 44 1 2-3 43 10-39 12-38-9-38 5-41-5 164 21"/>
<path class="b29" d="M999 430l-69 10-1 10 0 0-8-5-13 5-6 1-37-7-5 21 50 0 6 2 12-3 31-2 1-6 5 10 28-1 53 13-27 1-54-11-16 6-6 1-2-7 23 17 3 2 51 0 53 14-42-5-24-4-32 3-19-2 61 13 18 0 17 0"/>
<path class="b30" d="M936 427l-67 11 96-6 19 19-10 1-27-2-19-4-8 3-5 0-12 2-41 9 37 1 11 6 53-4 4 3 1-7 14 4 47 2-55 9-11 2-2-3-25-5-1 6-1 4-15 3 35 6 5-2 57 5 4-6 45 3 45 6-37 5-34 0-7-5"/>
<path class="b31" d="M902 433l31 10 43-8-16 10-4 0-9 9-16-1-28-8-13 0 51 13 18 7 3-4 22 2 23-6 29 16-31 1-10-5-15 2-7 6-9 0-21 2 13 9 61-7 6 0 23 7"/>
<path class="b31" d="M895 425l-29 0-50 11 51 5 1-6 16 6 1-3 48-2 3 5 33 0-16 8-23-4-5-1 7 23 22-1 7-3 21-2 8-2 12 4-60 8-7-3-10 0-5 0 56 12 12 1 59 6 5-7 60 10-104 6"/>
<path class="b30" d="M888 419l78 7-85 3-16-3 45 17 44-8 9 2 16 10-24 2-95 10 22 1 75 7 52 5-17-4-6 6-5-4-4 0-5 3 0 0-34 5-1 0-75-3 109 8 37 0 12-2 1 3 60 15-10-1-71 0"/>
<path class="b29" d="M973 431l-120 1 26 9 14-4 20 4 70 11-61-3 0 4-22-4-13 15 14-6 5-2 4 10 16-5 18 0 18 4 17-9 43 18-27-1-19 3-4-8-11 2-19 4-8-4-13 7-4-9-29 1 32 11 4 0 16 6 53-1 80 0-47 10-24-2-3 1-14 1 25 9"/>
<path class="b28" d="M870 430l106 15-31 7-6 3-14-2-30 2-37-7-10 18 34-8 1-1 38 7 13 1 52-1 27 15-34-2-6-3-6 3-9-4-45 0-4 4 0 13 9-6 25-4 10 5 99-2-30 9-9 1-12 5-13 4"/>
<path class="b27" d="M878 422l-35 18 83 6-20 21 50-9 7 15-12 0-13 1-9-1-7-4-6 6-3-6-27 17 80 3 2-7 15 9 10-11 67 7-29 5-54 2-14-1-8 9-21-10-23 4 23 9 28 6 80-5"/>
<path class="b26" d="M866 440l11 12 9 8 60 7 39 8-31-7-1 11-9-2-1-5-1 2-24-2-6 5-6-3-16 3-8 10 1-6 11 2 32-1 18 5 16-6 13 6 2-1 63 11-25-2-4-3-42 0-52 1-24 1 93 13 37 4 35 1"/>
<path class="b25" d="M837 426l109 23-19 4-47-6 14 18 50 0 28 13-6-1-44 2-29-5-52 2 51 5 7 6 2-7 10 4 22 0 3 5 2 0 2-1 37 0 2-5 74 17-57-5-12 6-34-7-30 5-1-5-8 4-17-2-84-4 141 12 43 0-30 12"/>
<path class="b24" d="M867 454l-31-10-20 22 13-8 75 1 5 1 45 18-1-10-51 3-8 5-11 2-1-2 47 12 89-2-36 12-5 5-14-6-8 4-14 1 32 5 45 0 21 12-12-1-3-1-65 13"/>
<path class="b23" d="M807 430l125 6-7 18-45 6 27 18-13-6 18 19 7-11 33 4 11-2 2-1 2 4 4-2 45 3 28 11-2-1-60-4-56 5-29-3 67 11 30 9 10 6 56 8"/>
<path class="b22" d="M840 465l117 8-39 6-3-10-31 9-36 0-33 2 28 10 22-7 12 4 15-4 3 5 17 0 1-5 6 0 8 2 32-3 49 20-28-4-3 1-7 4-16-1-8-8-18 4-7 5 34 1 0 1 47 6 16-3 9 2 15 4 36 3"/>
<path class="b21" d="M947 470l-39 9-24 0-30 0-8-3 25 6 3 0 19 8 3-3 8 1 0-6 22 5 29 0 11-5 12 12-35 1-3 4 0-5-13 6-27-6-15 0-22 6-9-4-5 4-4-5 81 12 3 1 6 6 12-4 45-1-18 13-14 6"/>
<path class="b20" d="M916 463l-4 16-40-4-36 3 32 9 1 1 84 11-31-6-3 9-5-8-10 8-27-9-14 2-51 17 90-1 14 1 18-2 12-1 9-1 74 3-2 6-33 0-35 0-6 2-17 0-7 5"/>
<path class="b19" d="M868 480l17 9 17 1 17 1 12 5-1 0-7-1-9-2-2 10-4-2-7-2-15-6-1 0-43 13 9 2 47 2 7-6 22 11 2-5 1 1 31 3 54 9-48-7-14 2-9 8-24-10-38 4 160 15"/>
<path class="b18" d="M810 453l100 26-33 0-62 6 19 4 145 9-31 0-3 3-24 1-3-1-20 1-12-8-19-1-13 3-20-4 25 14 51 7 0 0 7-6 5 5 6-6 11-2 19 2 22 2 47-2 14 21-113-11-21 3-10 3-10-1-16-3-57-2 51 19 67-1 1-6 0 4 10 3 19-7 16 0 8 9 5-7 11 3"/>
<path class="b17" d="M884 479l-59 10 60-4 23 5 32 0-13 11-13 1-18-9-1 10-7-9-3 9-3-4-17 3-27 1 100 12 1-3 1-5 23 8 2 10-12-3-58 2-35-6 2 17"/>
<path class="b16" d="M736 464l168 39-61-2-20 4 36 4 1 0 20-4 21 2 2 5 3 0 9 0 10 3 6-10 5 8 23 0 67-1-29 5-45 5-12-6-14 6-11 5-1-10-5 8-7-4-19-1-2 4-2-2-72 6 43 3 162 2-15 14-36-7-19 2"/>
<path class="b15" d="M937 487l-32 16-15-9-93 20 87-4 28 2 22-7 4 8 44 12-10 1-15-6-29 1-17 1-2-2-17 4-108-1 107 7 22 7 41 0 6-2"/>
<path class="b14" d="M897 483l33 7-36 4-19-1-2 0-21 10-36 8 105-1 1 1 19 4 10 6-5-4-18 9 0 0-11 0-4-3-4-4-7 7-88-1-7-6-9 0 34 16 20-4 38-2 0 2 6 7 2-10 10 1 19 8 5-9 1 1 8 6 6 1 38-8"/>
<path class="b13" d="M913 483l-15 21 7 5 13 0 34 11-64 4-18 0-18 12 12-1 2-2 6-2 20 2 28-4 7 6 33-6 28 7-25 9-35-3-12 5-6-2-6-3-9 5-3 5 37 2 53 1 11-1 13 4"/>
<path class="b12" d="M860 503l-70 11 70-3 154-3-55 18-1-1-13-9-6 7-42-2-4 0-23 5-112-6 26 10 80 6 8 3 5-6 11 2 9-7 9 9 2-7 22-1 24 3 7 4 5-2 6-1 42-1-43 11-44-2-10 4-36 6-11-10-5 0-28-1-2 2 230 11"/>
<path class="b11" d="M826 515l17-5 46-2 7 3 48 5-4 9-19 2-20-1-7-1-5-5-11 1-39 4-6-6-32 11 53 1 15 4 24 4 5 0 1-9 1 7 10-4 16 5 7 1 3-8 17 6 20-2-24 16-12-11-4 1-4 2-18 1-1 6-2-8-12 6-1-8-21 4 64 16 5-7 109 0"/>
<path class="b10" d="M926 524l-17 0-10 2-56-2-14-7-5 12 12 7 3 0 11-6 32-1 6 4 0-2 10 3 28 4 39-5 39 13-54 3-11-1-13-5-2 3-33-4-8 0-24 8-9 0-8 1-2-8-35 2-15-1 71 12 72-3 21 4 16 2 0 5"/>
<path class="b9" d="M876 491l-16 34-100 6 76-1 41 0 30 6 24 3 24-8 25 1-59 12-1 7-22-1-1-8-1 9-14-11-16 5-12 6-6-1-10-9 0 5-3 0 0-4-7 8-23-6 83 9 26 2 22-1 12 1 4 0 11-2-3 18"/>
<path class="b8" d="M857 515l17-10 107 13-182 17 23-4 4-2 8 8 13 2 57-2 7-6 29 8 12-7 58 17-32-5-2 1-8 2-25 2-12-8-1 10-23-9-5-1-1 1-10 3-16 1-7 0-7-6-14 0-9 9-40-7 2 17 110-7 3 9 2-3 2 1 31-4 2 1 21 2-103 8"/>
<path class="b7" d="M765 539l74-4 47-2 1 3 90 3 4 2-7 4-33 2-7 1-26 2-9-4-1 1-9 3 0 0-9-3-5 3-5-3-11 1-55-8-24 4 31 17 6-5 25-2 32 7 4-3 15 5 8-3 4 1 9-7 6 6 44 1-5 3-38 4-80 3"/>
<path class="b6" d="M807 536l149 4-80 2-17 8-32-2 4 7 7 2 2 4 7-7 10 0 8-2 2 6 17 0 7 2 1-7 2 0 5 7 6-3 4 1 9-3 5 4 7 3-16 7-1-3-17-1"/>
<path class="b5" d="M815 533l131 15-13 1-30 0-42 0-10-2-1-1-43 14 5-4 2-1 31 2 3-4 9 9 5-6 39 7 5-9 16 3 17 0 42-4 17 17-77-6-77 10-12-9-1 6"/>
<path class="b4" d="M836 530l129 17-30 3-27-7-23 0-1 1-51 1-4 5-43 12 34-5 15 3 14-2 0 4 11-4 21-2 14 1 8 2 18 3 19 0 15 1 2-9 10 8-38 11 0-4-35 4 0-4-37 3-1-4-1-2-3 4 2 6 18 3 69 2 30-4"/>
<path class="b3" d="M813 547l14 12 7 0 11 3 8-5 27 0 8 3 9 2 16-6 9 4 8 1 20-7-22 17-11-3-3 7-55-3-4-4 0-3-5 7-13-3-4 6-30-11-26 6-68 3 81 3 30 7 36-6 16-1 30 2 22-1 22-1"/>
<path class="b2" d="M826 552l28 11 8-4 103 2-7 4-30 0-21 10-24-10-3 8-1 2-7-6-4 1-5 5-2-2-64-5-15-3-20 4-14-3 21 11 52-1 47 8 28-2 40-3 6-3"/>
<path class="b1" d="M766 560l42 3 55-3 65 1 8-3 18 17-8 0-37-7-10-2-3 1-3 4-30-5-5 1-1 0-5-3-2 6-2-1-19 0-8-3-6 9-43-10-4 14 34-3 31 1 1 1 4 8 5-10 9 1 2 1 7 3 21-5 6 6 1 0 4-1 0-2 5 5 5-1 6-5 9 1 25 5 0-8"/>
<path class="b0" d="M965 568l-91 7-15-8-11 8-21-3-7-3-19 12 11-3 7-2 19 7 12-6 7 4 4-2 24 2 54-5 8 1 9 2 25 1-118 9"/></g>
<g clip-path="url(#c21)"><path class="b0" d="M713 706l6-1-16 5 17 18 5-2 6 5-5 8-3-4-16-1-13 15 4-4 10 9 35 13-19 0-22-1 0-7"/>
<path class="b1" d="M701 714l-2 9 0-3 14 3 16 6-13 8-8 5-3-2-3-2-3 3-4 10 21 1 5-1 36 1-18 15-11-6-5 6-21-11-2 6 17 18 30 24"/>
<path class="b2" d="M696 730l35-6 13 12-4 4-12 3-33 10 3 2 10-1 19-1 1 12 0-5-12 2-11 3 32 12-3 6-31 10 47 13"/>
<path class="b3" d="M722 714l10 10 18 2 3 17-55-8 7 16 45 1 15 3 18 2-31 6-5-6-19 6-26-3 15 11 54 0 12 2-8 31"/>
<path class="b4" d="M722 729l14-9 12 10-17 3 0 6 2 9 9 12-21-1-5 3 6 12 59-5 32 29"/>
<path class="b5" d="M770 743l-20 1 1 6 21 4-17 2-36 15 11 1 78-3 1 5-25 15-5 2 2 18"/>
<path class="b6" d="M731 722l47 12-42 7-2 4 77 17-24-1-36 6 19 1 14 10 9-7-16 18-20-2-1 3-7-10 0 3-9-2 21 17 27 11-42 6"/>
<path class="b7" d="M773 741l-46 12 41-1 27 15-12-3-31-4-5-3 0 0 36 19 13-3 22 13-32 5-41-9-2-2 17 20 5 22 9-6"/>
<path class="b8" d="M738 746l15 2 10 11 26 25-4 8 79 12-69 11-14-10"/>
<path class="b9" d="M785 764l-11 3 15 6 16 8-26 10-38-1 38 13 68-1-53 12-20-8 4 14 25 1 88 9"/>
<path class="b10" d="M768 747l5 16-18 7 37 2 19 7 2 7-10-2-59-3 19 20 35 21 13 6"/>
<path class="b11" d="M827 791l-31-6-14-3-21 18 28 3 22-6 17-5 26 15-12 2-51-4-22 12"/>
<path class="b12" d="M793 778l26 8 4 20-52 4 16 16 81-9"/>
<path class="b13" d="M782 769l23 7 35 36-60-4 38 10 3 13 12 16"/>
<path class="b14" d="M816 803l-11 19 8 1 2-4 91 14"/>
<path class="b15" d="M814 822l47-3 20-3 8 20-38 11 4 5"/>
<path class="b16" d="M821 816l28 1 34 13-37 7 25 15"/>
<path class="b17" d="M793 808l27 17 67 28-9 0"/>
<path class="b18" d="M812 802l13 25 82 4-24 1-9 26-21-5"/>
<path class="b19" d="M935 836l-36-2-88-6 64 25 145 12"/>
<path class="b20" d="M865 827l1-10-42 19-9-5 38 16 92 0-76 10 77 22"/>
<path class="b21" d="M911 839l-75 0 17 1 37 15-68-3 103 25"/>
<path class="b22" d="M875 851l66-9 1 5 3 0 19 0 48-4-10 15-113-5-11 2-5 9 105 7"/>
<path class="b23" d="M811 829l15 22 34 14 23 1 53 0"/>
<path class="b24" d="M974 859l-104-3 64 19 3-9 84-2"/>
<path class="b25" d="M925 839l14 8-44 14-34-9 100 22 96-5"/>
<path class="b26" d="M1057 862l-188-10 54 23 79-4 11-7 20 2 25 3-52 8-36 1-31 5"/>
<path class="b27" d="M974 849l-53 13 2 2"/>
<path class="b28" d="M853 845l107 3 51 1-3 13-14-10-17 3-2 1-71 5-26-4 16 17 30-5 15 0 8-5 31 10 4-7"/>
<path class="b29" d="M984 853l-12 4-6 0-86 6 67 11 35-7 13 0 11 8-13 8"/>
<path class="b30" d="M1042 860l-34 1-14-8-84 13 46 9 31-7 32 3 20-3 15 0 13-4-71 12"/>
<path class="b31" d="M1044 849l26 12-3-2-35-1-89 5 64 11 45-4 18 8"/>
<path class="b31" d="M957 847l28 1 69 7-41 4-48-1-22 5-27 2 22 3 45-3 12 0 28 5 1-6 13 10 2 0 32-7-25 16-11-3-38-2-1 3"/>
<path class="b30" d="M1010 845l77 11-27 4-24-1-9-1-61-4 7 17 21 1 1-2 0 1 10-4 8-2 17 1"/>
<path class="b29" d="M962 849l11-2 86 10-13 2-14 3-21-3-17-7-2 4-24-2-25 9-3-11-30 11-46-1 46 6 15-2 44-1 30 5 7-6 9 4 17 0 10-1 11 0-18 13"/>
<path class="b28" d="M942 849l58 1-10 6-2-1-105 2 1 9 25-2 39 9 16-9 14 11 17-11 14 8 4-5 28 4 3-2 32-5"/>
<path class="b27" d="M907 841l-43 20 45 4 17 8 47-3 104 5-52 4-80-3"/>
<path class="b26" d="M889 828l-1 4 68 11 1-1 2 4 98 16-8-7-30 6-6-5-146 7-3 2 35-1 97 5 11 2 10-4-22 11-71 0"/>
<path class="b25" d="M922 841l4 1 29 3 2-1 15 4 30 14-16-7-42 7-14 10 62 2 13-8-66 14"/>
<path class="b24" d="M973 843l31 11-41 2 0-3-82 5 147 16"/>
<path class="b23" d="M919 830l-77 13 12-1 19 9 66-4-39 12-4 4-24-5 16 6 20 2 2 3 1 4 2-2 24-2 66-4-27 11"/>
<path class="b22" d="M915 838l-5-2-87-4 32 17 122 3-86 11-4-3 20 7 59-3"/>
<path class="b21" d="M954 839l-126 3 14 2 2 6 26-1 46-9 10 2 4 1-23 16-6-2-49 4 113 8 11 5"/>
<path class="b20" d="M854 849l4 1-4 8-4 1"/>
<path class="b19" d="M822 823l29-6 47 13-79 7 33 5 5 0 58-1 7 1 83-1-122 18"/>
<path class="b18" d="M864 823l-52 7-1 2-5-2 47 14-13 9 101 11"/>
<path class="b17" d="M763 775l66 72 9-3 79 24"/>
<path class="b16" d="M863 814l-49 6 1 0 55 4 13 8-20-4-26 9-20-5 104 9 57 8"/>
<path class="b15" d="M827 779l-33 13 58 10-61 23 12-7 67 1 9 8 8-2 4 31"/>
<path class="b14" d="M816 782l-23 39 22-5 41 0 6 5-33 12-2-1-4 11"/>
<path class="b13" d="M757 793l94 22-31-2-2 2-31-6-28-1 34 13 1-3 22-2 45 10 0-9 3 3"/>
<path class="b12" d="M793 772l18 30 12-3 15 5-44 9-21 0"/>
<path class="b11" d="M798 777l-45 17 65 1 14-1-58 23 41 8 32-8 20 10 8-9"/>
<path class="b10" d="M749 779l39-2 12-4 0 7-2 9-7-6-39 13 8 0 70 4 39 9-6 1-68-1 23 13 1-4 9 14"/>
<path class="b9" d="M776 777l9-3 15 4-1 11-35 1-16-1 17 4 4 7 10 1 19-7-6 16-38-6"/>
<path class="b8" d="M740 729l24 30-33 16 39-3 45 11-1-1-7 8-22 2 9 3 28 20-8-11-46 3"/>
<path class="b7" d="M735 731l18 6 39 30-17-3-10-3-38-5-9 23 45-6 35-4 10 8-7 9-1 2-1-8-33 15 35 15"/>
<path class="b6" d="M744 743l57 23-4-5-32-3 0 14 19 6 5-1 17-5-15 17-39-9-35 7 40 10 6-1 2 2 5 1 47 21"/>
<path class="b5" d="M732 728l-7 17 52 7 7 13-10-6-19 3 20 6-9 23-12 0-4-5-7 2-3 5 26 9"/>
<path class="b4" d="M756 736l-16 5-35 3 27 1 23 9 2 1-43 19 24-1 24-5 8 0 14 20-27 6 26-1"/>
<path class="b3" d="M740 713l-16 2-18 10 34 0-14 19 6 3 6-2 3-1 8 7 19 14-2 2-6-8-1-3-8 6-30 2 1 5 28 15-1 1-7 2"/>
<path class="b2" d="M727 706l-1 18 13-3 1 7-13 9-12-1-7-4-1 5-11 1 9 7 2 1 27 3 30 2-18 8-24 4-5 3-12-4-8-4 25 15 5 3 13 3 36-7-28 26 12-5"/>
<path class="b1" d="M691 724l10 4 1 2 3-9 48 15-15-3-17 2-4 8-6-6 0-5-6 6-6 6 1 4 10 3 22-1 3 1 66 7-73 9-9-10-4 7-1 3-4-8 0-3 21 17 7-5-8 24"/>
<path class="b0" d="M700 704l42 14-36 6 14-4 11 19-5-6-5 0-11 4-7 4 0-5-4 8 2 3 1 8 3-3 7 0 5-8 1 2 0 8 33 9-30-7-22 7 0-1-2 9 21-3"/>
<path class="b0" d="M736 701l-51 30 34-1-28 12 35 3 24 8-24 10-12-5-3 7-4-6-7 7 23 7 1 10"/>
<path class="b1" d="M733 702l-12 7-4 7-7 3-10-10 3 22 3-1 45 9-25 1-3 2-9-10-1 10-2 1-10-11 4 15 0 0 2-1 0 9 27-11 9 11-2 3-39-1 17 17 33 1-2 15-36-9"/>
<path class="b2" d="M744 704l-27 9 24 13-28 10-12 8 1 1 10 10 9-11 4 5 6 3 7-8 9 4-18 10-12 11 11 18-22-6"/>
<path class="b3" d="M720 710l-10 1 7 13 15 4 13 8-15 5-7-1-3-1-17-2 2 12 13 1 3-6 31 10 6-7-16 10-13-1-16 2 5 21 13-4 2-5 43 3 1 1-47 8 11 19 6-9 19 2"/>
<path class="b4" d="M750 712l-2 23-12-2-8 0-11 0-5-1 13 19 5 2 4 1 4-5 5 1 16 1-12 5-10 6-9-1-6 2 33 12 5 0-10 7 47 12"/>
<path class="b5" d="M743 742l-2 0-28 2 29 9 9 1 1-8 14 21-31 0 0-1-3-3 4 16 10-3 4-1 3-7 27 9 3-8 32 15-76 3-1 10 32 5"/>
<path class="b6" d="M744 727l17 26 25 2-8 12-25 12 2-5 8 0 15 4 2-5 11 2-33 11-6 9 22-2 8 0 29 9"/>
<path class="b7" d="M751 739l-7 15 50 13-17-8-14 6-10-1-16-4 5 14 70 8-37 0-23 6-1 1 0-7 20 22-9 2"/>
<path class="b8" d="M759 768l30 2 18 12-4 4-18-3-2 28-4-6 0 8-26-6"/>
<path class="b9" d="M770 745l-24 14 30 20 63 8-31 4-20-4-10 0-4 0-3-5-12 4-1 8 18 0 0-1 39 9 9-4 3-3 7 4 13 16-33-10-6 0-27-1 10 14"/>
<path class="b10" d="M776 760l-8 12 18 5 5 2 10 5-9 1-17-1-6-3-18 1 11 12 54 5 0-2 10 4 13-9-30 15-9-2 30 15"/>
<path class="b11" d="M775 758l36 21-37 9 37 10 3-3 5 5 1 0 36 12-45 2-3-1-25 4 6 2 26 8-13 2-1 1"/>
<path class="b12" d="M793 755l-20 15 2 4 19-6 50 18-70-2-10-2 50 12 21 3 11 0 28 18-55 6 41 5-40 7-15-5"/>
<path class="b13" d="M803 790l-17 1 11 2 25 2 45 14-24 5-2 0-19-5-26 12 18-5 15 2-6 10 12 13"/>
<path class="b14" d="M807 793l18 6 23 0 1 7-39 1-2 4-19 8 30-2 8 3 1 3 4-1 24-6 22 8-53 7-7 4-5-6"/>
<path class="b15" d="M850 809l-44 4-6-6-48-2 41 13 14 7 22-1 23 0 15-6 1 3-22 17-1-5-19 9"/>
<path class="b16" d="M784 819l40 4 48 2 18 13-3-4-1 1-13-6-1 1 96 17"/>
<path class="b17" d="M812 798l20 9-27 9 132 15-69-2-25 10 6 6 58-2"/>
<path class="b18" d="M852 815l-32-3 33 8 58 17-19 2-29-2-26-5-15 11 12 4 69 14-5 1-5-3"/>
<path class="b19" d="M866 820l23-3 11 16-38 2-20 8 36 7 3 5"/>
<path class="b20" d="M886 822l4-1-20 9 0 14 2 0 0-1 13 8 4-10 2 10 1-5 25-3-28 10-4-1-30 1"/>
<path class="b21" d="M880 823l-10 10-24 1 15 17 6 0 4-2 1 0 33-6 15 6 29-5-74 12 34 8 27 1 7 9"/>
<path class="b22" d="M858 849l33 0 24-5 3 3 2-7-74 14 48 13 35 7 43-6"/>
<path class="b23" d="M922 837l-43-9-9 7 8 8 14-3 2 7 12-7 17 3 19 0 38 13-79 5-46-6 45 16 7-7 34 8 116-4"/>
<path class="b24" d="M849 829l-3 17 27 1 140 10-3-4-34 4-38 10 42-2 12 2"/>
<path class="b25" d="M931 838l-82 1 7 2 24 10 70-1 39 1-20 7-28-5-39 8 35 14 81-1"/>
<path class="b26" d="M900 847l72-3 62 12-35-1-62 5-29 0-1 2-30-6 29 15 70-6 20 8"/>
<path class="b27" d="M931 849l18 2 4 0 10-5 13 3 8 3-8 4-11 3-31-1-25 1-12 0 73 8 16 1 18 4 7 2-66 2"/>
<path class="b28" d="M952 845l35 3 20 3-21 7-89 10 0-4 26 0 41 5 2 1 4 2 9-2 6-1 7-4 11 0 4 9 10-4 68 0"/>
<path class="b29" d="M892 841l47 9 24-7 73 11-17-2-2 10-36-10-76 6 20 11 18-2 20 3 5-2 8 1 3-5 17 0 6 11 11-10 42 3 18 1-98 10"/>
<path class="b30" d="M881 851l50-4 24-1 32 4 22-2 69 4-16 11-32-2-25-4-25-4-16-1-29 9-7 6 27 6 3-3 5-2 29-2 3 7 13-5 4 1 10-3 9-2 31 5 0 0 9 5 13-2-37 8-14-4-31 3"/>
<path class="b31" d="M1032 853l-1 9-6-4-20 4 0-4-10 5-1-6-17 0-7 6-2-3-65 7 14 3 40 1 6-3 22 3 11 0 24 1 16 0 10-6-42 15-24-1-4-3-8 3"/>
<path class="b31" d="M975 845l48 6 17-2 22 6-34 7-4 0-25-7-6 2-1 1-12 2-27 11 3 3 0-5 7-4 28 5 28 4 69 0-64 9-16-5"/>
<path class="b30" d="M923 846l20 2 11 0 145 15-31-5-7-2 0 7-47-10-25 10-7 0-6-10-1 7-9 0-18-2-51 8 19 3 26-1 15 1 6-1 5-4 1 5 3-4 15 1 31-2 99 7-97 10-65 1"/>
<path class="b29" d="M901 850l17-5 15-4 7 2 27 8 30-3 26 8-14 4 0-2-15 2-9-4-6 5-2-3-6 0-7 3-31-2-30 12 21-2 23-5 5 6 8-6 2 11 2-8 3-1 5 0 16-2 3 4 8 1 16 3 1-2 9 0 2-5 60 3-75 8"/>
<path class="b28" d="M858 848l100 2 33-1 10 14-20-3-2 2-10-6-4-1-2-2-13 0-39 9-26-6 11 10 33 1 2-3 18 6 16 2 10-8 6 10 5-10 28 4 3-4 14 2 4 3-94 7"/>
<path class="b27" d="M847 843l11 3 36 4 32-5 3 5 12-2 64 13-15-6-7 3-6 1-17 2-8-6-11-1-9 0-4 7-2 0-34-2 37 9 0 3 7 3 47-5 23 13-48-3"/>
<path class="b26" d="M845 847l38 4 14-2 9 1 22-3 21 1 22 3 21-4 55 14-5-7-47-1-7 9-3 0-16-2-8 3-5-6-25-5-14 4-9 5-1-9-37 5 25 9 23 4 12-2 8-4 2 6 17-5 7 0 21 4"/>
<path class="b25" d="M892 842l7 5 8-2 11 1 15-1 3 2 12-2 153 7-83 4-81 1-18 5-1-8-2-2-12 3-1 6-48-7 57 14 2-1 14-3 58 5 27 3"/>
<path class="b24" d="M886 833l-37 3-2 2 5 8 38 5 37-7 2-3 68 13-6 5-15 3-3-7-21 2-12-3-29 1-15 9 16 5 10-2 1 2 20-2 3 3 6-2 8 1 7 1 59 2 16-6"/>
<path class="b23" d="M855 839l3 3 27 8 14-5 46 3 28 6-71 1-8 0 83 11 2 0 27 7"/>
<path class="b22" d="M928 839l-33-4-4 2-60 2 60 6 6-1 1 4 19-2 1 5 12-11 19 1 2 7 18 0 77 15-58-11-18 0-3 11-40 0-35-10-3 0-11 9 37 2 50 1 4 2 2 8"/>
<path class="b21" d="M855 814l71 23-52-7-2 17 4-5 45 5 14 2 14-2 39 9-84-4-8 8-5-6-1 4-7-4"/>
<path class="b20" d="M933 834l-20 3-4 0-1-1-11-6-24 2-35 17 14-4 9 2 40-3 19-1 5 5 27 13-25-7-1 1-19-1-7 7-16 3"/>
<path class="b19" d="M827 825l25-4 19 5 33 12-4-7-6 4 0 4-1-7-4 4-22-2-15-4-10 7-11-3-3 2-5-3-14 2 26 5 7 2 19 3 13-2 1 3 5-4 10 9 4-3 10-3 2-4 18 10 11-6 25 10-20 8-5-10-22-1-34 2"/>
<path class="b18" d="M827 818l31 0 1-2 59 20-4 1-24-9-40 4-8 3-7 1 29 5 15 4 58 9-20 5-15-2-56-4 55 11"/>
<path class="b17" d="M835 807l-27 14 14 2 16-3 5-4 14 10 5-2 9 2 5-2 1 11-32 3 58 8 19 1-51 10"/>
<path class="b16" d="M803 789l44 26-6 4 9 0 39 7 11 12-2-5-4 0-12 0-20 2-27 0-9-6 40 15 8 6 99 13-123-4"/>
<path class="b15" d="M788 790l74 21-24 1-33 2-6-6-4 17 7-7 15 2 6 2 9 5 28 0 11-2 27 11-51-8-19 2-17-1 53 15 2-4 6 7"/>
<path class="b14" d="M770 795l25 3 9-6 29 13-25 10-1-9-8 15 10 2 12-1 6-1 6 2 2-6 15 6 3 4 9-9 8 8-22 5-21 1"/>
<path class="b13" d="M809 786l-26 4-23 7 27-4 29 6 18 16-50-4-13-6 28 12 33 2 18 8 42-2"/>
<path class="b12" d="M795 774l49 28 10 8-41-5-4 5-12 3-13-6 35 20 0-10 2 0 2 4 9-5 43 17-29-4"/>
<path class="b11" d="M783 760l32 30-18-2-32 2 16 3 14 8 4-4 13 3 9 2 2 0 21-3 13 16-41-1-37 7 76 5 4-3"/>
<path class="b10" d="M761 772l18 2 45 17-29-5-23 0-11 7 15 3 5 5 16-9 51 13-9 4-8 6-9-9-28 0-7 0 97 28-68-6"/>
<path class="b9" d="M726 774l42-6 8 11 44-3-10 11-23-1-2-6-32 2 9 10 39 3 1-2 50 17 0-3-22 6-44-5-19-3 32 11"/>
<path class="b8" d="M732 740l43 31 25-2 11 7 15 11-40-1-8 5-6-8-15 8 11 2 3 5 3-6 14 2 1 8 35 0 35 8-33-5-21-1-9 8-6-5 62 16 29-1"/>
<path class="b7" d="M778 764l-13-3-34 5-2-9 62 11-9 16-6-4-7 5-1-5-17 9 2 10 28-4 2 0 4 8 1-9 30-2-16 12-5 1 13 21"/>
<path class="b6" d="M749 731l8 0-9 5-19 18 46 11-6-9-17 9-19 1 5 10 2-6 4 6 3-3 14 0 12-2 14-1 22 20-4-8-8 2-25-2-12 8-4-5-2 3 3 15 21-8 40 2-54 9"/>
<path class="b5" d="M711 751l12-5 7 7 1-6 8 2 7-2 10 7 6 0 2-1-3 4-2-1-27 1-6 4-7-2 4 11 6 7 11-2 17-7 1 11 2-1 12-5 8 2 31-6-14 14-4 8-9-11-30 6-23-6 9 13 15 4"/>
<path class="b4" d="M736 726l23 6-1 7-25-2-5 6-8-10-4-1 23 12 20 15-13 2-8-4-21 1-15 0 61 10 45 16-14 7-28-1-42-1 59 6 22-2"/>
<path class="b3" d="M713 718l52 11-12 11-12-5-16 7-1-10-10 3-14 4 10 15 13-3 8 2 27 1 26 1-30 3-3 7-12-3-2-2-10-2-13 6-2 11 17-1 1 0 11-4 1 1 3-1 8 8 19 5-12 4-33-5-9 2"/>
<path class="b2" d="M712 704l-12 24 13-7 9 6 5 4 7-9 2 7 2-3 3 17-11-11-8 10-3-3-19 14 2-3 10 2 25 0 3 0 9 1 4-6 22 3-26 11-13 4-17-3-23 2 30 6 6-1 8 10 26 0 36 10-11 0-50-5-11 1-6-3"/>
<path class="b1" d="M715 718l-29-2 35 6 13-2 4 3 2-1 33 1-21 20-52 12 5-7 8 2 2 5 15-9 7 9 9 0-11 10-28-7-9 2 20 9 16 4 3-1 1 4 9-1 17 0"/>
<path class="b0" d="M747 714l-8-1-46 12 6 3 4-2 1 0 3 1 7 2 4 1 2-1 1-1-8 5-2 7-8 7 10 1 6 5 4-5 22 3 0 0-17 10-8 0-2 5 31 6 20 1 8 32"/>
<path class="b0" d="M731 719l-18-7-16 9 9 7 5 2 66 10-63-5-2 7-7 0-8 6 6 1 5-2 5 0 3 4 4 0 11-3 4-3 21 3-21 17-8-7-20 4 2 15 6-3 6-2 16 0"/>
<path class="b1" d="M718 719l-9-1-2-2 6 13 4-8 5-1 15 14-1 3-2-2-39 7 2 6 6 5 6-4 9-5 12 11 1 0 3 0 4-2 4-7 16 15-5-5-19 4-2 3-6-5-25-1-6 12 20 8 8 0 6 0 5-4 2-1 8 2 7 0 4 8-34-2"/>
<path class="b2" d="M738 717l-15 1-10-3-3 4-1-2-2 14 7-10 19 22-1 0-14-7-19 8 21 6 5 4 45-5-11 7-11 1-25 0-1 0-21 6 5 5 22 2 14 5 14 0"/>
<path class="b3" d="M728 731l46-8-25 15-12 3-3-9-23 9-2 2-7-3 8 10 11-5 2 1 7-1 21 10 10-11-4 14-6 8-3-5-16 5-7-7-7 5-8 1 5 7 39-1 6 6 24-1-20 8-5-3-14 13 26 23"/>
<path class="b4" d="M732 724l10 0 22 4-11 7-29 0-9-2 35 13 20 0-15 20-1-1-6-4-7 4-1-6 0 7-13-3-5 4-15-8 4 11 41 6 18 0 22 5-4 10-11-3-18-6-3 3-7-4-5 10-28-9 108 14"/>
<path class="b5" d="M752 728l-10 21 4-5 22 0 9 9-39 7-4-3-7 10-1-4 5 13 8-7 3 8 25-2 32 4-10 5 0 1-8 6-10-1-43-7 12 10 28 13"/>
<path class="b6" d="M773 741l-57 4 20 3 5 2 28 11-5 3-6-2-6-3-1 7-4 1 0-2-3 0-1-4-5 7 34 7 6-5 16 15-2 0-1-4-9 4-12-5-18 3-12 0 5 9 2 5 20 5 4-8 1-2 3 5 83 16-51 4"/>
<path class="b7" d="M793 742l-61 9 6 2 5-6 3 8 29 0 1-3 11 14-6-6-9 5-6-6-6 6-4 1-17-2-12-2 16 15 20 1 4-8 11 0 0 9 8 0 14 0 1-5 6 14-20-7-10 2-1 7-3-2-2 3-4-6-1 3-36-8 27 19 5-3 18 0 16 7 4 9-11-3-51-3 59 10"/>
<path class="b8" d="M759 742l40 22-18 0-9-5-4 8-1-9-24 4-1 14 10-7 6 5 28-6 5 9 3-7 7 8 20 12-12-4-2 3-21-4-5-5-12 14 3 1 1 1 7 1 44-4-14 18-12 3-3-9 13 15"/>
<path class="b9" d="M764 740l10 15-10 5-1 0 2 17 2-1 7-6 10 4 38 15-22 0-5 0-2-2-10 4-2-5-8-5-10 20 16-7 10 2 9-4 5 2 7 4 10 5-3 1-7 10-3-10-15 9-7-3 13 10 13 7 9-4 29-1 11 2"/>
<path class="b10" d="M767 771l54 16-3-6-16 10-2-10-20 5-10 5-13-10 21 17 8-6 1 8 4-2 0 4 2-7 19 3 41 12-14 3-2 1-5-2-27-2-63-6 124 28"/>
<path class="b11" d="M812 791l-3-3-9 3-31-3-21 2 30 9 13-3 5 1 6-1 2 6 2-6 3-4 50 21-1-5-13 3-10 2-7 2-20-7-2 4-3-1-12-5-2 3-3-5 6 15 30-2 22 2 16 3-41 6"/>
<path class="b12" d="M772 740l38 43-46-3 24 12 1 0 3 1 0 4 9-5 8 10 2-8 8 7 17-2 25 14-7 0-24-3-1 3-4 1-1-4-10-2-3-3 0-1-8 0 0 3-1 7-4-3-6 2-8-5-15 17 58-8 4 1 9 4 27 2 25 2 1 10-5 3-2-7-16-2-18-2 22 28"/>
<path class="b13" d="M770 755l0 12 52 14-31 10-11-10-15 18 28-2 5-1 66 9-19 8-10-1-7-4-1 7-6-2-5-6-1 1-1 3-16-3 3 11 8 2 15-1 9 2 11-2 41 12-17-1-31 0-5-2-10 6-7-4"/>
<path class="b14" d="M781 789l45 24 0-3-19 5 0-11-7 4-39-2 46 10 1 7 3 3 3 0 17-1 3-3 2-6 2 2 4 5 2 4 10-10 17 10 51 4-36 0-7 4-4 1-42-4-1 3-3-4 0-3-8 0 14 12 42 5"/>
<path class="b15" d="M800 790l27 12 14 1 13 0-2 9-7-1-4 4-24-5-1-2-10 4 0-5-10 19 9 1 50 0 5-6 3-1 34 12-4-3-7 9-26-5-15-5-8 2-4 0-15 1 14 13 18-1 17-2"/>
<path class="b16" d="M807 802l0-3 2-4 25 15-6-5-22 6-11 0 33 14 5 0 4-3 7 4 32 0 46 12-51 1-5-4-1-5-1 8-9-5-2-1-14 0-6-3-7 17 45-5 6 9 3-2 52-4 6 12-72 4"/>
<path class="b17" d="M861 807l-24 4-6-3-3 7-5-2-27-5 23 10 19 6 10 1 3 1 4 1 64 12-42-1-10-9-1 0-4 10-6-7-27-3-9 0 38 13 13 1 14 6 6-8 27 5"/>
<path class="b18" d="M827 807l-7-2-31 9 8 12 6-2 45-5 0 0 47 19-4-3-12-7-20 11-13-6-4-3-14-2 39 22 0-3 9 4 2-7 1-4 5 1 17 9 10-7 3 0 5-2 2 3 8 5 1-1 6 5-47-1-4 4-20-3"/>
<path class="b19" d="M823 812l32 13 27 2-5 12-3 0-1-1-1-5-8-3-7 5-2-7-1 7-8 3-7-3-9-4-17 9 60 1 13 2 3 0 6 3 4-5 10 2 1 8 37 0 22 3-24 7-3-3-15-4-4-1-38 3-25 3 100 10"/>
<path class="b20" d="M836 808l2 19 5-3 76 11-52 2-14 1-4-7-14-1-1 15 19-5 10 4 2 7 12-6 4 2 2 2 0-7 8 0 7 0 4 1 31 5 8-6 5 9 8 0-33 9-24-8-13 0"/>
<path class="b21" d="M836 819l43 17-25 0 2 12 13-7 8-1 6 6 27-5 15 7 11 2 1-3 50 11-51 4-1-1-29-6-2-3 2 12 44 1"/>
<path class="b22" d="M844 822l103 16-44 0-53-2 9 15 7-6 5 4 2-8 3 8 8-5 0 2 3-1 3 4 19-3 44 12-39-4 0 2-4-1-9 0-18-2-5 3-54 4 131 19"/>
<path class="b23" d="M829 847l21 2 8-9 30 6 10 3 20-3 19-4 22 8 29 7-4 6-2-7-6 5-4-6-29 4-14-3-5-2-9 4-20-2-4 6 23 6"/>
<path class="b24" d="M889 836l-42 0 24 11 29 3 21 0 1 1 3-3 5-4 71 16 0-4-14 4-20-4-21-4-2 3-17 3-7-2-42 1-4-1-24-1 20 12 103 0 38 5"/>
<path class="b25" d="M902 834l-5 4-39-4 12 13 29-3 6 5 43-1 119 5-51 4-52 0-13 0-5-4-25-1 0 5-23 5-3-3 36 7 18 0 18 0 32 2 3 1 7 8-36 0-30-1-9 3"/>
<path class="b26" d="M887 839l-23 11 4-5 54 4 35-1 31-4 19 18-29-9-1 8-7 0-9-2-2 3-19-1-2-1-3-3-35 5-6 1-6-6-7-3 0 1 32 9 19 3 5-3 52 10 24-6 45 8"/>
<path class="b27" d="M857 845l80-1 112 9-88 3-3 0-1 3-26-6-1-1-2 1-4 10-4-10-7 7-7-2 21 7 1 4 70-3 31 4-37 6-79 0"/>
<path class="b28" d="M898 847l19 2 21 2 124 12-37-1-2-7-3 2-22 2-7 3-8-3-5-2-6 5-3-1-14 0-1-5-13-2-3 7-8-6-7 4-5 0 0 2-4-4-2 2-2-4-3 2-10 1-37-5 33 18 19 1 5-5 9 3 9-5 8 6 0 1 2-6 3 7 2-4 3 2 3-3 1-1 19 0 27-3 19 3"/>
<path class="b29" d="M862 847l106 3 47 11-4 2-11-7-4 5 0 2-22-11-4 3-12 3-1-5-2 10-2-11-10 10-13-5-1 1-3 4-7-1-25-3-14 2 78 9 4-2 12 2 9-5 14 2 6 0 31 6 19-7-65 14"/>
<path class="b30" d="M906 839l123 23-3-3-6-5-48-1-1 4-11 2-10-3-24 5-1-7-1 8-28 6 28-2 19 3 2-1 11-3 19 2 4-1 16 3 12-5 15 4 26-2"/>
<path class="b31" d="M924 849l14 1 12-5 25 6 87 3-25 5-55-2-2 0-17 1-7-4-13 6-2-4-21 2-1 2-20-6-3 4 38 17 19-7 14 5 7-6 24-1 6 1 5 7 24-3 1-3 1-4 0 9 7-1"/>
<path class="b31" d="M1046 859l-2-1-10 3-11-2-16-1-4-3-3 6-2 2-17-7-8 4-2 2-35-1-6 1-12-10 23 14 6 9 7-4 1-5 7 8 13-10 48 11 3-11 13 7 35-1 19 5"/>
<path class="b30" d="M896 848l10 0 50-6 32 20-2-2-2 2-69 0-6-4 24 10 7-2 4 1 24 4 11 0 10-5 16 4 8 2 15-8 36 7 6-5 36 6 4 0-67 6-45-2-8 0"/>
<path class="b29" d="M961 851l14 0 50 3-15 0-18 8-11-6 0 3-6 2-2 0-1-4-12-5-1 10-6 0-1-4-9 4-6-1-4 2-15-2-34 3 44 6 2 1 17-7 6 3 3 0 9-2 34 8 1-7 10-1 2 0 1 6 56 13-77-6"/>
<path class="b28" d="M870 835l19 15 1-2 21 0 147 10-44 4-9 0-6-4-4 1-8-3-24 4-16-6-1 7-12-5 0 0-2 3-2-1-9 4-10-4 0-5-22 7 87 8 7 1 2-4 15 0 7 8 17 1 5-1-29 9-1-5-19-1"/>
<path class="b27" d="M916 839l-57 3 23-1 30 10 1 0 32-2 31 2 48-2 0 6-3 4-31 0-34 3-2-4-3 1-2 3-3-3-7 3-8-8 0 5-7-1-7-4-3 7-6-4-10 0 6 7 5 1 9 7 9-1 21-4 6 2 36-3 31 7-56 8"/>
<path class="b26" d="M869 849l9 0 16 1 15-6 0 5 16 0 14-6 1-1 72 17-5-7-14 5-11 2-27-4-7-2-4-1-10 9-1-1-11-7-14 0-6-1-2 2-12 9 16 6 4 3 36-2 4-6 4 0 10 1 45 1"/>
<path class="b25" d="M882 836l-13 9 14-1 22-2 1 4 16 3 11-7 34 7 120 13-132 0-2 0-15-9-11 5-4 0-1-2-15-1-20 0-3 7-12-6-7 2 67 6 28 2 0 1 87 1"/>
<path class="b24" d="M898 839l-14-5-24-2-4-2 11 19 9 1 12 1 14-11 2 0 8 4 1 6 23-7 44 7 16 12-47-1 0-3 0 0-5 2-18-6-18-1-12 1-6 8 27 6 16 3"/>
<path class="b23" d="M847 826l71 13-2-5-52 14 18-4 15 3 4-7 12 5 2 3 1 2 12-2 28-8 3 9 42 11-4 2-50-7 0 4-8-1-39-3 0-1-18-1 23 12 40 4 37 2 63 2"/>
<path class="b22" d="M892 837l-30 3 25 7 0 1 46 1 42 2-18 3-8-1-4 4-1 2-11-7 0 4-6-4-25 9-3-3-4-6 20 13 36-1 58 6"/>
<path class="b21" d="M809 825l17 1 11 0 70 12-5 1-9-2-11 2-40-3-1 1 21 3 27 7 6-6 73 10 4-1 14 5-68-2-2 2-8 6-18-2 48 14 22-6 1-2"/>
<path class="b20" d="M928 837l-23-4-19-1-5 6-3 1-1 0-6-3-5-6-6 6-9-8-10 1-24 0-5 7 37 5 5 7 15 0 4 0 4-1 10-4 3 5 9-4 3-3 1 6 108 11-15-1-67-4-20 1-4 8-18-3-3-5-16-1"/>
<path class="b19" d="M851 807l-41 9 13 1 23 6 23 2 34 9-26-5-5 5-9-4 0 3-1-1-2 5-1-1-2 1-1-7-8 4-13-6 26 22 1-6 12 6 13-8 6 1 15 8 2-5 1-2 2 3 55 5-21 1-32 3-2-3-7 4-24-4"/>
<path class="b18" d="M810 801l36 16 13 9 35 12-14-7 0 2-1 0-5 3-9-6-2 4-8 5-4-4-2 0-8 3-11-5 0-3-8 8-8-10 45 14 17 8 21-10 1 4 0-2 5 4 0 2 6-6 6 3 13 6 15 0-15 8-44-1-26-1"/>
<path class="b17" d="M857 813l-39 12 1-7 14 4 24-6 30 10 25 10-20-1-15-3-9 6-17 0 0-5-11-3-3 5 28 14 33-6 2 8 3 0 11-9 35 6-51 7"/>
<path class="b16" d="M805 793l26 11-14 10-2-9-13 19 33 1 6 2 4-7 43 6 15 7-25-1-2-3-9-1-12 3 0 7-3-4-10-2-8 2-14-4 74 14 19-4 16 6"/>
<path class="b15" d="M788 798l2 3 51 14-25-5-5-3-6 6-1-1 18 7 9 2 2 2 0 3 22-4 70 5-40 1-20 2-8 1-7 4-3 3-3-7 64 18 41 13-24-6"/>
<path class="b14" d="M776 792l2 9 41-3 2 0 13 17-8-8-5-3-16 10-2 1-31-8 37 17 4-7 9 2 3-1 23 6 4-5 14 4 58 8-8 8-28-11-24 8-6 0-1 0-1-6-10-1-7 0-15 0 5 12 29 1 3-1 3 5 5-2 12 1 15 3"/>
<path class="b13" d="M765 773l22 11-36 18 24-5 8 6 9-2 11-5 2-3 4 3 2 7 5-8 8 2 5 6 12-4 6 8-9 8-18-8-16 1-10 2 6 6 9 4 1-4 8 9 0-5 2 1 15-2 3-3 2 8 7-5 2 3 7 4 12-4-10 6 0 15"/>
<path class="b12" d="M772 773l67 18-49-4-6 16 13-3 3 1 27 2 3 0 12 8-15 1-1-1-8-4-1-1-1 4-1 4-3-8 0 7-6-2-5-5-18 5 25 11 2-4 7 6 7-3 24 1 8-2 12 5 15 10-13 4-24-8-1 7-3-5-7-1-5 5-42-9 63 15"/>
<path class="b11" d="M767 777l7 1 3-3 22 10-5-3-12 8-5-3-24-2 20 12 7 2 4 1 7-3 1 0 4-3 2 9 8-2 9-2 6-3 18 8-6 8-22-2-9-2-1 6-5-6-15 5 31 4 17 0 11 3 1-3 5 4 19 0 5-4-16 12-37 0"/>
<path class="b10" d="M791 737l-22 27 6 11 9-3 25 13-4-3-29 5-10-1-3-3-4 7-4 1 26 9 2-3 17 3 1-2 7 3 11-8 5 10 4-5 13 5 37 7-15-1-35 1-5 4-4-1-38-4-1-3-2 0 74 10 50 6-43 9-6-1-29 5-11-3"/>
<path class="b9" d="M761 754l12 12 0-7-12 3-2 4 9 8 16-4 4-2 17 9 5-3 10 15-23-6-2-2-14 4-2-5 0 0-11 11-4-3-2-3-2 15 26-3 8 5 1-1 12-6 1 2 3 1 24 13-11 1 0-7-5 7-39-3 9 15 7-2 6-4 23-1 1 5 3-4 54 20-22-9"/>
<path class="b8" d="M740 754l18-3 48 12-42 1-7 1 1 5 9 7 7-5 10 6 10-2 12 3 10-4-31 10-1 3-4-4-2 2 0-4-14 3 0 3-3-7-7-1-35 11 34 2 4 1 7 4 20 4 1-1 1-5 19 2 11-5 19 12-15 4-4 2-14-4-15-2-2 3 86 9"/>
<path class="b7" d="M765 736l-44 5 6 6 42 11-13 4-5-4-3 5-16-5-2 14 10-3 16 2 1 3 12 1 4 2 6 1 7-10 22 10-17 13-7-7-8 2-15-4-15 13 20 4 5 1 5-3 6 1 8 3 12-2 17 3 12 8-2-5-24 1-9 13 47 2 15-2"/>
<path class="b6" d="M728 743l12 3 35 5 13 9-11 7-13-5-3-4-1 8-29 4 6-1 2 4 4-4 11 3 2 6 15 1 9-2 28-3-17 16-11 1-17-3-2 3-13-3-3-8 14 13 6 5 3 0 18 1 3-5 10 2 6 5-13 3-46 7"/>
<path class="b5" d="M730 743l13 4 5 8 3-1 12-10 2 17-8-1 0-2-6 9 0-1-9-4-12 17 5-8 16 1 2 6 3-2 3 0 0-4 3 7 2-9 2-2 16 6 2-1 8 12-22 5-17-3-7-5-2 3 24 10 7 5 56-4"/>
<path class="b4" d="M754 740l-34-1 1 11 8-6 6 0 1 7 3 4 8-1 16 0 12-5-10 12 0 1-6 5-25-4-11-6-15 14 20 8 17-10 3 0 13 4 28 12-13-5-3 11-32-5 8 7 27-1 16 6 9 4-5 7-25-4"/>
<path class="b3" d="M747 712l-14 8 79 17-70 1-23 5-3-9 2 10 4 3 2 6 1-3 37 1 9 13-16-5-5-1 0 6-4-2-6 4-13 1-2-11-2 7-3 1 23 14 7-8 6 0 1 5 4-4 27 3 7 4-28 4-16 7 39 8"/>
<path class="b2" d="M701 706l21 24 21-1-13 3-15 7-9 3-11-6 3 18 10-8 7-2 1 4 2 5 5-7 1 9 0-7 7 6 9-9 8 6 17 5-22 11-3 0-9-3-3 1-1 2-4-6-7 2-10-4 5 18 3-6 3-2 9 4 3-4 11 5 13 4 15 0 24 2-33 5-5-5-5 5-12 10"/>
<path class="b1" d="M701 721l2 9 33-7 16 19-16-6-8-4-1 7-11 1-17-5-3 8-4 0 11 4 0-1 2 8 2 0 3-8 8 2 6 5 5-4 23 5 8 12-3-5-9-2-1 6-11-8-20 6-2-4-2 3-17-4 15 11 36 2 2 6 10 6-17-1"/>
<path class="b0" d="M711 717l-4-5-4 15 3 0 1 1 0-1 16 0 12 13-27-6-8 6 0 2-12-7 18 20 3-10 2 2 2-1 14 15-4 6-2-8-4 1-2 0-2 5-1-5-5 7-1 0-2-6-9-3 17 13 1-3 2 0 5 5 24 0-16 12 5 25"/></g>
<g clip-path="url(#c31)"><path class="b0" d="M789 1016l55 13-9-2-27-1-9 2-12-4-18 7 43 6 14 6 16-2 5-3 31-6 83 20-22 2-2-3-52-6-3 5-16 5-23-6-30-4 134 14 5 9-28 11"/>
<path class="b1" d="M806 999l-3 11 6 6 6 0 22 13-20 2-17-1 44 9 13-7 14 9 23 13-1 0-13-2-8-4-14 3-15-1-12 5 63 8 82 11-83 4 53 11 20-3"/>
<path class="b2" d="M797 1018l-15 5 57 9 24 0 19 8 21 0 32 2-159 6 141 13 25 0-59 15 32 9 76-3"/>
<path class="b3" d="M833 1021l-30 13 24 0 28 5 61 15-8-7-40-1-30 21 10-7 5-3 9 10 14-9 41 9-51 2-41 1 41 19 113-1"/>
<path class="b4" d="M835 1022l-15 6-8 6 23 8 4-7 10 0 40 1-5 12-17-1-11-3-81 6 44 15 7-3 1-3 8 8 136-11 23 16-39 0-52-1-71 1 1 16 51-7 1 10 32-4 92-6"/>
<path class="b5" d="M791 1041l4-1 17-1 42 4 10-3 73 3 14 9-38-2-67 1-15 1-36 13 19 2 85-11 6 7 2 2 50-7 37 18-51-8-6 10-29-3-40 0-7 1-46 5 39 0 16 6 22-2 17-1 5 3 6-3 82 5-44 5"/>
<path class="b6" d="M824 1037l11 1 61 8-5 9-109 3 49 9 7-9 2 5 70-2 3 2 1 4 16-3 26 12-17 0-46 2-28-3-38-1-31-5 15 11 65 8 54-5 25 6 7-5 17 0 12 15-49-4 56 17"/>
<path class="b7" d="M811 1035l100 20-42-9-23 9-37 9 14-8 16 4 12-1 8-3 46 11 12-5 15-3 93 17-123-1-34 1-15-4-33 2-55 9 99 0 0-3 2 0 1 11 34-7 74-3 1 16-2 3-33-6-81 6-8-2 60 9 38 1"/>
<path class="b8" d="M866 1055l8 6 11 2 0-1 5-6-45 23-11-3-8 7 4 0 18 1 67 7 9-5 34 4-97 11 19 5 64 1 8-1"/>
<path class="b9" d="M820 1061l15 13-30-5-11 8 34 5 1 3 13 1 12 0 24 2 33 3 44-4 40-2-7 15-36-3-25 6-23 3 74 13-129 16"/>
<path class="b10" d="M918 1078l-2-9-59 5-76 8 68 3 1-5 7 3 117 6-59 8-12 5-13-3-85-7-19 4 62 18 4-8 61 5 30 1 11-6 17 7 44-6-73 12-109-1"/>
<path class="b11" d="M752 1056l79 19 1 15 32-9 151 7-55 7-8 2-3-4-10 8-1-7-17 2-37-2-42 6-3 10 79-2 15 1 4-3 36 7-32 7-76 3"/>
<path class="b12" d="M866 1065l-72 4 200 31-33-3-16-1-61 4-3-4-11-1-30 5 49 10 31 1 33-6-82 30"/>
<path class="b13" d="M864 1065l20 1 8 10-81 15 13 0 59 3-59 7-14-5 17 19 24-5 19-6 0 5 0-4 12 7 34-7 20 10 8-4 16-3 3-2 21-2 9 21-29 2-11-11"/>
<path class="b14" d="M907 1091l13-3 66 10-17 1-79-5-11 6-29-4-36 16 94-2 22 5 0-2 36-7 1 5 12 4 4 0 12 9-41-7-2 2-22-1-2 6-81-1-5-3-1-4 0 3-99 17 105-6 114 9 28-10-130 16-28-1"/>
<path class="b15" d="M995 1092l-128 11-33-2 35 7 14 5 23-8 38-1 15 11 43 6-20 6-10-4-67-2-27 0-7-3-16 6 0-1-9 4-22-3 3 10 25-3 5 3 3 4 3-6 7-3"/>
<path class="b16" d="M875 1111l122 4 35-8-20 9-68 11-5-5-4 2-2-1-9-6-43 1-10 8-74 12 22-4 51 0 150 8-170 3-1-3-57 5-56-1"/>
<path class="b17" d="M972 1109l33-5-25 23-2-4-12-2-40 1-31 3-58-4 8 11 20 2 21 2 52 2 46-3-125 6-22 2 9 10"/>
<path class="b18" d="M1001 1110l40 17-60-4-32 3-17-10-11 8-31 3-19-4-4-7-10 5 3 10 76 7 9-1 20-9 24 7 5 1 8-8-86 15-39 1"/>
<path class="b19" d="M940 1104l45 17-1 5-17-2-73-3 94 7 3 4 6 7 81-5-160 6-67 10 23 2 5 6 6 1"/>
<path class="b20" d="M935 1120l-2 5-87 13 100-3 9-1 37 0 2 4-8 6-40-3-32 2-11 1-17-4-7 0-32 14 41 4 120 3"/>
<path class="b21" d="M857 1111l127 11-21 6 17 3 36 16-4-1-159-3-1 9 8 2 14 8"/>
<path class="b22" d="M839 1135l16-2 31 3 44-6 72 3 16 10-99-2-70 10-24 10 68 2"/>
<path class="b23" d="M933 1125l22 11 33 6-84 9-1-1 89 17"/>
<path class="b24" d="M861 1138l57-2 91-3 20-5-2 23-18-8-121 6-38 0 103 11 16 3 30-5-52 6-111 4"/>
<path class="b25" d="M1009 1141l-13 9-94 0-53 12 50-9 51 0 56 6 60-4-136 18-73-9"/>
<path class="b26" d="M962 1136l40-8-118 17-62 4 120 17-18-2"/>
<path class="b27" d="M981 1137l26 1 18 11-50 1-117-7 5 19 126-3-41 14-3-1-54-7-48 0 86 13"/>
<path class="b28" d="M988 1146l-97 13 54-5 59-2 4 10 34 0 10-9-66 14-57 0-4-2-9 2-29 2-2-2-19-2-7 1"/>
<path class="b29" d="M1034 1137l37 0-92 8-117 8 29 9 90 1 37-3 8-5 20 4-17 9-27-3-4 0-5 10-30-9-43 0-19 8 4 7 87-2"/>
<path class="b30" d="M1015 1145l-70-2-143 16 47-7 32 4 127 2 10-4 10 2 31 2 7 3-54 4-23 4-1-3-4-1-94 9-13-7-9 2-9 3-48-6"/>
<path class="b31" d="M1056 1149l-6 0-33-3-20 5-129 11 16-4 66-5 2 9 9-10 26 10 12-5 34 0 28 5 5-6-8 18-69-3-21 0-12 0-35 2-11-3 0-2-3-1-14 0-27 7 69 3 15 0"/>
<path class="b31" d="M895 1158l101 2 5-6 34 2 57 1-91 13-81-4 29 10"/>
<path class="b30" d="M995 1135l78 10-8 0-26 3-43 1-10-7-120 13 7 6 86 2 46 0 10 0 7-2 7-5-11 8-62 1 0 0-20 3-37-1 55 9"/>
<path class="b29" d="M994 1139l57 5-66 2-157 4 125 9 57 1 9-6 57 0-124 11-18 7-19-8-4 4-39 1"/>
<path class="b28" d="M1032 1137l-10 11-14 0-224 10 207 1 22 9-20-3-8 5-3-3-21-1-3 5-13-6-122 7"/>
<path class="b27" d="M1005 1146l-184 5-24-1 159 10 75 1 0 12-5 2-86-3-11 7"/>
<path class="b26" d="M1033 1143l-85 5-33-8-12 8-65 5 59 8 9-1 1-3 39-1 39 4 19 0 3-8 2 3 29 3-58 6-39 3"/>
<path class="b25" d="M873 1134l134 4 73 10-8 1-19 1-35-2-181 2 57 8 68 5-44 8 23 5"/>
<path class="b24" d="M1024 1127l-114 7 116 8-69 2-52-4-7 10-71-5 25 8 15-1 23 2 4-2 118 11-104 3"/>
<path class="b23" d="M1060 1126l-159 8 76 1 24 0 105 0-61 12-65-3-12 6-57-4-16 5-7-4-8-1-18-6-10 6 47 14 50 2 93-10-90 13-41 2-52 2"/>
<path class="b22" d="M850 1137l33-2 36 2 41 0 33-7 8 7 7 12-20 2-9-8-2 6-22-4-8-4-40 2-17 5-3 1-2 0-20-3-46 6 21 8 37-7 33 1 70 0-53 17-49-6-4 2"/>
<path class="b21" d="M865 1133l28 3 82-5 14 6 34-5 28 6-54 13-15-10-88 2-22 11 4 1 1 4 31 12"/>
<path class="b20" d="M1029 1124l-68-5-78 12 94 4 25 3 2-6 17 0 8 17-30-8-6 5-12-2-13-4-21 11-75-1-36-7 14 13"/>
<path class="b19" d="M964 1113l11 11-11-3-43 6-54-8-10 8 54 11 32 1 3-8-56 10-5 9-3-8-28 4-10 2 0-5-50 19"/>
<path class="b18" d="M965 1098l-54 15 41 9-9 5-61 0 0-5-77 11 8 3 36-4 24 1 55-1 24 2 34 0 13-1-51 7-66 3 30 11-102 12"/>
<path class="b17" d="M924 1113l30-1 23-8 15 6 73 15-19-2-58 2-3-1-1-7-91 3-73 5-18 6 23 5 1-3 26-5 5 11 0-8 66-3-9 18-9-5-9 0-17 6-32-7 61 25"/>
<path class="b16" d="M935 1093l-16 8 23 7 19 4 36 9 0-3-38 8-68-5-12 2-19 4-15-11-22 10 7 12 13-5 106-4 25 0 23-1-6 14-57 1-45 3"/>
<path class="b15" d="M972 1098l-112 17 46-7 3-3 4 9 75-6 24 6-45 13-28-5-35 1-3-7 0 2-16 12 1 9 26 0 34-6-45 8"/>
<path class="b14" d="M934 1098l-32 5-70-7 47 19 10-4 58 0 1-3 51 18-42-2-29-5-3 0-13-2-17 5-5-1-1 6-6 0-19-10-9 3 33 18 81-1 15-5"/>
<path class="b13" d="M880 1052l-8 25-75-5 107 26-52 1-15 7 21-1 29 3 10-3 61 0 12 2-47 10-29 3-11 7-11-4 0-7-8 10-22-10-73 11 222 5-78 29"/>
<path class="b12" d="M845 1079l-47 4 49 7 122 13-42-1-22 0-8-3-107 10 46 6 27-8 1 0 4 2 9-3 5 4 48 0 4 0 37-3 1 13-2 7-4-9-45 1-11 3-4 0 0-6-77 18 2-6"/>
<path class="b11" d="M889 1054l97 24-37 1-50-5-119 13 60-3 2 7 39-6 12 2 8 2 18-8 6 6 6-6 43 10-11 11-10-2-5-4-16 2-49 5-29-11-4 2-30 20 14-9 60 4 31 0 123-1-58 16-21 1-57 0"/>
<path class="b10" d="M738 1034l189 41-6-7-5 4-66 5-46-9-7 7 53 13 100-4 20 4 34 6-25-1-28 8-38-6-41 5-13-8-20 6-36 9 18-2 163 20-75 1-8-7-11 6-97 1 72 4"/>
<path class="b9" d="M771 1042l156 13-77-4 31 5 79 14-11 7-50-3-18 3-77 6 52 2 9-2 27 0 62 0 34-2 8 10 27-1 20 10-65-2-27-6-2 9-7-8-4 0-50 4-6-2-5 6-11-6-35 8 107 9-7 6"/>
<path class="b8" d="M809 1048l-15 18 37-1 8-6 44 12-23 7-50 0-10-2-1-4 48 10 13-1 8 1 1 9 24-8 5-2 6 4 3-2 24 6 17-4-3 17-41-2-43 2-24 5 73 4 1-2 20-5"/>
<path class="b7" d="M710 1037l55 2 89 4-13 7-61 15 30-9 6 11 62-11 19 0 38 13-83 6-35-6 0 4-17 11 44 4 14 0 30 0 1-2 174 17-79-8-10 1-60-1"/>
<path class="b6" d="M802 1019l-20 4 18 10 94 9 16 13-35-5-36-5 30 19 15-3 27 4 40-6 56 17-84-1-19 0-49 3-10-7-39 4 70 6 23 2 8 0 12 5 11-8 39 5-54 14-2 3"/>
<path class="b5" d="M832 1028l-25-4 23 17 32 10-5 1-24 3-7-9 103 20 69 10-55-2-5-2-1 3-25-7-22 3-4 5-104-6 90 12 12-1 29 6 45 5-39 4-69 1"/>
<path class="b4" d="M804 1016l22 10-14 4-10-9 139 33-51-8-5 6-9-2-15 3-45-6-6 19 48-5 3 4 6-6 37-2 63 9-84 12-54-1-18-4 64 18-39 2"/>
<path class="b3" d="M818 1006l-78 13 121-4 26 10-8 3-59 8 21 1 11 1 25 4 4-4 4 5 36 3-2 7-48 2-4-2-8-5-62 7 40 9 22 0 31-2 15-2 51-4-34 16-70 11 3 2 91 5 80 8"/>
<path class="b2" d="M762 1016l7 1 59-2 60 12-132-2 64 15 72 0 44 10-115-1 0-1-16 5-50-7 113 15 12-2 35 4 5 3 30-4 8 14-10-8-38 5-67-4-32 7 116 4 70 15"/>
<path class="b1" d="M809 1005l-41 8 27 4 48-5 6 19-21-5-7-6-23 11 66 9 8-1 11-1 2-4 4 1 9 3 4 4-9 10 0 0-5 2-1-6-6 6-11-2-13-3-3 3-5-6-25 7 22 9 2-3 10-3 5 7 19 4 10-10 17 4 37 5-63 4"/>
<path class="b0" d="M734 998l100 28-7-4-8 4-25 3-3 12 25-9 10 9 4 0 27-4 26 2 48 0-29 8-25-3-11 0-11 1-5-1-64 0-8 17 169 6"/>
<path class="b0" d="M775 1001l-11 12 63-5 12 1 14 6 46 9-24 5-47-6-1-1-44 1 56 9 9 11 12-6 74 3-18 11-9-2-31-5-19 21 0-8 21 6 22 1 17-7 25 1 39 5-122 5 99 34"/>
<path class="b1" d="M772 1019l9 0 23-2 4 2 33-2 20 10-12 0-11-3-7 1-55 15 84 3 20-1 71 11-42 2-29-8-17 4-21 0-8-4-1-1-8 2-18-4 91 23 35-5 10 4 8 2-22 3"/>
<path class="b2" d="M752 1002l-16 10 31 5 59-4 13-3-24 13 0 5-6-2-35 3 66 12 27 1 6-4 1 2 29 13-58-9-28 0 55 16 10 3 18-2 9-4 17 1 20 3 3 4-8 3-16 9-34-9-17 5 2 12 63 4"/>
<path class="b3" d="M805 1007l6 2 31 12-30 3 0-4-44 9-21-6 0 11 26 2 4 1 56 3 5 0 59 13-4-1-30-5-7 7-7-3-12-4-8 7-23 9 51-1 30-1 1 3 22-3 1 5 53-10 1 5-26 12-13 6-9-9-3 5-87-7 73 17 59-4 20 0 53 32"/>
<path class="b4" d="M803 1009l51 20-23 2-19-2-25 2 9 5 1-3 53 4 19 5 60 1-26 5-29 5-51-3-10 9 29-1 15-2 20 8 10-7 7 2 27 8 3-2 31 7-56 6-23-5-27-4-3 1-3 4-55-2 93 12 8 4 22 3 46-4 8 4 48 10-83 6"/>
<path class="b5" d="M832 1038l37 4 50 12-28-3-29 0-2 3-11-3-19-1-18 4-46-5 57 9 29 4 23 0 0 3 0-9 3 1 50 6 98 5-38 0-17 10-34-2-24-6-15 4-8-2-37 0-8-2-9-2-75 20 90 1 4 1 24-3 5-3 27-4 3 3 70 4 24-6"/>
<path class="b6" d="M819 1027l-75 4 28 8 106 3 13 5-32 0-43 8 27 2 14 7 10-2 17-5 8 6 41 3 7 12-5 1-22-10-4 0-34 1-8 5 0 12 7-6 10 10 27-6 34 1 42 21"/>
<path class="b7" d="M837 1028l57 9 14 16-8 0-18-5-27 5-55-2 3 13 34-7 29 10 54-3 32 15-32-4-14 2-8-4-36-1-11 6-47-8 5 14 80-1 76 5 9 2 11-5 23 17-89-7-6 5-27 0-16-5"/>
<path class="b8" d="M845 1026l-24 29 13 6 14 5 12-10 13 7 19 9-1 7-2-5-10-1-1 1-17 0-5-4-4 8-99-6 85 10 31 7 48-8 14 1 12-2 14 11 4 0 10-11 5 18-45-6-15 9-59-3-14-1-28-3-6 6-10 6 108 6 63-2 40 0-29 9-107 0"/>
<path class="b9" d="M820 1052l5 11 7 3 15-10 89 8-32 12-48-6-6 4-65 3 6 8 102-3 4 1 24 10-32 4-29 10 1 2 144 0 3 6-43 1-31 1-1-1"/>
<path class="b10" d="M842 1060l93 7 38 11-132-9-54 14 49-1 58 1 12-3 19 8 38 3 56 1-49 9-10-9-10 3-13-3-41 5-30 6 0 0-1-9-8 6-33-3 0 5 13 6 6-3 17 7 39-4 8 0 77 4-19 12-66-2-3-3-14 8-32-9-7 0 121 11"/>
<path class="b11" d="M982 1066l-163 8 8 13 64 4 19-8 23 7 56 4-47 5-36 0-17-3-11-4-48 2-48 7 96 12 23-5 151 5-105 10-36-4-24-2-15 0-44 5"/>
<path class="b12" d="M824 1036l82 33-92 11 51 3 7 5 68-7-16 18-13-1-11 1-1 3-21-1-11-5-12 0-50 14 65-3 63 0 23 7 10-10 10 3 35 3 54 12-214 4-15-9 3 17 5-1-2 11 172 8"/>
<path class="b13" d="M942 1078l-90 4 77 0 4 11-145 22 9-5 78-2 4 3 25 0 10-6 47 9 14 7-13 4-46-4-51 1-11 3"/>
<path class="b14" d="M974 1076l-39 25-33 9 13 4 16-1 63 4-9-1-27 2-41 7-51-3-14-3-14 5 6 7 43-3 59 7 77 0-93 6-57 9"/>
<path class="b15" d="M966 1094l-27 0-85 6-9 0-3 12 32 3 10-7 22 7 6-11 1 6 40 0-59 14-29-6-4 10 23 5 3-2 19 1 43 6 3-8 5-1-60 15"/>
<path class="b16" d="M961 1088l-24 14-41-7-6 12 10 3 78 4-7 7-45 3-11 2-9-2-13 0-5-4-7 2-39-6-24 2 16 19 81-3 15 3 55-8 20 5-54 15-78-4"/>
<path class="b17" d="M965 1103l-53-8-14 15 18 1 11 3 70 11-48 0-18-2-16-4-6-3-14 7-6 15 5-8 85-1 28 13-22-2-9 2"/>
<path class="b18" d="M865 1098l49 17 54-4 34 0 19 10-21 4-27 1-25-3-61 1-73 12 9-7 11 4 26 1 6-4 1 8 16-5 25 4 45 0 92-4-77 8-70 3-38-2 0 7-65 13"/>
<path class="b19" d="M851 1112l162 0 2 0-23 15-75 0-5-1-6 5 41-2 71 10 0-10-22 17-67 1-39 4-5-9-7 1-37-1 27 13-10 11"/>
<path class="b20" d="M918 1113l84 12-57 1-45-2-141 6 35 8 15-7 54-2 33 10 36-1 95-1 6 7-24-2-14-1-24-1-70 5-24 5-28-10-3 5 80 13 115-5-88 23"/>
<path class="b21" d="M937 1113l-8 13-7 0-22 12 31-8 29 8 10-1 4 2 0-11 29 0 4 14-25 7-7-5-27 2-68-2-6 5-4-7-16 6-49 14 41-4 17-1 80 3 70-3-117 16-1-2"/>
<path class="b22" d="M974 1113l27 9-116 14 81-4 6 3 61 2-74 14-47-3-29 2-21-8-1 7 0-1-3-5-18 4-2 14 10-6 61 6 41-2-67 12-44-4"/>
<path class="b23" d="M856 1139l87-1 15-1 10 0 55 2 62 4-67 4-2-4-66 0-52 1-18 9 32-1 13 9 21 0 70-8"/>
<path class="b24" d="M973 1126l-52 7 28 6 1-3 89-4-35 8-2 4-39 2-16 5-27-2-36 0-21-3-47 10 45 6 17-2 15-4 1 2 15-2 131-4-42 19-95-4"/>
<path class="b25" d="M894 1135l92 0 5 7-14 4-11 2-20 2-70 1-7 4 57 6 45 2 46-10-29 20-107-7-4 5-67-6"/>
<path class="b26" d="M957 1125l45 21-112 5 1 1 20 9 1-6 6 3 2 4 24-9 37-1 5 10 27-9 25 7-44 7-13 4-6-3-54-3-42 2-2 7-2-7"/>
<path class="b27" d="M1019 1138l23 2-56 10-11-3-10 1-3-4-11-4-81 12 91 0 28 2 51-2-44 12-22 3-3 1-15 1-95-5"/>
<path class="b28" d="M1081 1150l-83-5-1 4-15-6-19 6-46 0-12-4-34 9 12-1 30 2 10 4 82 3 30-9 38 2-50 13-53-2-40 5-31-1-4-3-5-1"/>
<path class="b29" d="M988 1139l82 12-109-6-35 4-16-6-64 18 41-7 13 7 11-4 4 5 19-1 0 0 9-3 18-4 5 9 15-1 26-4 11 4 4-9 11 3 40 10-101 6-75-8-25 2"/>
<path class="b30" d="M1021 1143l-2 6-19 2-22-3-151 11 38 1 44 2 3-4 36 1 1-4 43 0 57 1 8 7 14-11-79 13-2-1-8 6-56-5-20 6-18-2-19-5"/>
<path class="b31" d="M881 1157l47-4 0 1 0 6 3-8 20 10 33-7 45 2-21 7-11 6-25-3-30-3-21 5-19 1-15 1"/>
<path class="b31" d="M947 1150l-7 9 7 3 29 0 2-8 9-2 49 12-37 3-4 2-30-1-14-1-10 0-8 1-8 1-35 3 70 7"/>
<path class="b30" d="M1081 1145l-49 5-30-1-9-6-131 11 20 4 17 1 29 4 43-9 7 8 5-4 15 5 7-5 4 5 101-8-85 9-9 1-32-1-10 6-5-3-5-2-1 4-7-5-18 0-39 4-17-2 68 12"/>
<path class="b29" d="M980 1141l-7 1-41 8-72 13 16-2 22-6 4 1 15 7 17-2 8-2 2-5 16 4 1-3 3-1 10 4 10 5 1-4 1 1 26 0 3 0 48-5-22 10-74 1-33 5-3-3-17-4-4 1-15 1"/>
<path class="b28" d="M998 1135l36 9-11 1-1 6-1-4-6 2-33-2-49-3-24 3 0 3-2-5-27 0-32 14 9 0 42-3 23 6 16-3 2-3 2 1 47 0 4-4 4 10 4 0 4-9 20 2 11 4 1-6 9 4 7 7-23 2-116 12"/>
<path class="b27" d="M955 1138l107 5-21-3-34 10 0-2-14-3-47 5-20 0-12-4 18 7 5 9 7-10 16 2 12 5 11-7 4 6 22-3 25 7-107 8-47 0 40 6"/>
<path class="b26" d="M1028 1151l-27-5-32-2-12-1-24-1-10-2-6 4-9 2-2 5-12-5-3 2-1 2-13-1-7-2-20-6-65 12 90 2 8 7 3-4 0 0 28-1 21 1 7 1 11 0 45-3 2 5 17-3 8-6-53 20-14-1-74-3"/>
<path class="b25" d="M920 1134l61 6-30 2-27 6-14-7-6 6-14-4-2-1-85 7 77 3 12 2 9-1 42 6 13-1 2-5 1 4 12-5 1 11 3-6 11-3 8 5 6 0 60-5-142 16"/>
<path class="b24" d="M1037 1127l-94 11 34-9 41 11-45 6-2 0-1-4-11 1-22-1-15 6-17 2-72 8 31-6 28 2 3 4 2-3 23 6 0-4 8 3 1-5 11-1 2 1 6 2 45-4-94 12"/>
<path class="b23" d="M1004 1123l-5 2-88-5-14 18 83-7 1 8 16-2 42 9-45-5-31 7-31 0-74-3-5 14 19-5 39 8 16-8 11 1 3 6 11-2 8-7 30 7-5 8-16-2-11-1-51 2-2 6"/>
<path class="b22" d="M883 1129l25-1 55 3 14-3 50 7 39 2-58 12-14-7-15 7-11-8-6-1-11 0-4 8-16-5-23-2-13 8-3 0-16-2-20-6-8 3 34 10 20 8 11-10 27 1 15 1 24-2 17 9"/>
<path class="b21" d="M922 1115l-73 19 43 4 30-7 25-2 10 3 7 4 58 1-83 8-47 2-20-2 0 4-1-3-9-5-1 5-8 2-33 7 8 4 67-6 16 5 26-5-52 16-65-4"/>
<path class="b20" d="M812 1113l191 13-73-1-7 7 3 3 2 3 36 1 10-6 27 2-82 10-17 2-12-1-25 3 21 13 38-9"/>
<path class="b19" d="M944 1110l22 8-6 8-62-4-7 3-95 1 59 13 6-9 2 7 28 2 19-1 10-4 16 5 13-5 8-3 6 0 0-1 10 4 8 3 29 1-10 9-27-2-20-5-30 1-26 1-44 6-26-2 83 11 45-1 12 5 14-8"/>
<path class="b18" d="M907 1115l60-7 19 15-14 0-16-3-54 0-37 0-25 4-3 13 17 0 26-2 30-7 8 7 1 1 12-3 6 3 8-6 11 8 2-7 4-3 14 10 17-10 14 9 57 12-83-9-52 9-50-8-52 9-2-3-10-3-36 2 74 11 44-5"/>
<path class="b17" d="M934 1103l-88 0 153 12-33 7-58-3-1 3-19 4-28-4 13 10 12 7 9-7 59 0 28 4"/>
<path class="b16" d="M875 1085l-25 24 35 2 77 11-10 1-12 2-32 1-6-4-14-6-1 8-7 2-88-3 55 11 12-4 18-2 3 1 103 20-82-3-10 0-7 5-7-11-12 0"/>
<path class="b15" d="M994 1103l-3-2-37 2-133 8 39-3 43-1 35 2 80 14-73-1-12-2-76 0-60-4 58 20 106-8 14 0 5 6-29 7-44 7-17-2-125-1 167 13 5-6"/>
<path class="b14" d="M886 1078l-74 11 217 2-114 10-30-6-27 1-19 17 2 1 6-10 7 7 31 4 15-9 33 1 19 5 14 11-18-5-7 4-28 3-4-5-11-3 0 3-1 5-3-9-10 5-17 6-21 6 39 6 26-7 6-4 15 0 45 9"/>
<path class="b13" d="M937 1089l68 12-12-5-11 0-11 2-36-5-19 6-41 1-32 3-5 0-15 10 9 0 4 2 5-2 8-1 15 1 24 2 3-10 8 10 14-5 21-3 24 10-6-1-10 8-11-6-11 1-29-3-66 0 27 18 38-4 28 9 2-9 66 13"/>
<path class="b12" d="M824 1051l68 36 85 11-22 4-67-2-47-3-4 0-13-4 41 17 4 3 9 0 1-5 14 6 4-1 9-5 2 5 28-6 1 8 25-8 76 3-24 7-89 5-8 0-3 3-5-2-3 4-1-3-15-6 0 4-6 1 17 6"/>
<path class="b11" d="M945 1078l-71 0-22 13 17-5 7 0 24 3 43-2 14 0-6 9-22-2-12 2-18-1-6-2-18 0-74 5-11 17 27-10 6 4 24 0 34 0 9 3 12-7 19 9 3-7 10-2 1 8 86 1-49 13-46-2-43-9-49 17 38-5"/>
<path class="b10" d="M933 1076l-22 1-51-3-70 5 58 2 2 8 58 1 1-7 8 7 9-9 5 1 23 5 17 16-10-6-12-2-18 8-6 0-42-8-14 4-44 3 32 12 31-5 5-2 1 4 1-4 4 3 24 13-13 4-5-1-36 6"/>
<path class="b9" d="M867 1055l-31 12 91 11-34-7-17 8-42-5-74-2 36 16 30-5 35 4 36 4 1-2 5-3 15 1 29 4 16-7-44 10 0 0-25 4-16-4-7 0-22 6-20-5-35 4 53 15 73-10 60 1 33 1-62 10-66 1"/>
<path class="b8" d="M798 1066l49-6 24-2 98 14-135 6-44 3 33 6 51 4 21-1 4-3 32-5 19 5 0-6 5 10 11-2 6-5 9 17-3-3-9-5-25 9-22-8-49 1-10-3-27 1 32 12 9 0 4 0 67-1 49 2 4 5-27 11-14-6 58 14"/>
<path class="b7" d="M821 1033l72 19-67 14 24-5 22 2 17 2 28-9 7 4-8 16-12 2-29 1-29-9-19 7-48-4 43 9 89 6 25-6 9 3 33 4-9 6-5 4-35 3-1-10-35 4 35 16 59-6 11 9-36 2"/>
<path class="b6" d="M902 1039l15 2-32 10-9-1-103 2 60 14 49 0 111 12-76-5-21 4-32-6-28 8-20 10 37-4 18 5 3-4 6-5 45 10 14-8 9 3 18 7-13 0-3 2-25-3-7 11-2-10-36 2-80 2 92 12 87-4"/>
<path class="b5" d="M808 1038l40 3 42 2-24 2-1 8-24-1-3-1-17-5-8 19 20-2 12 2 37-1 5 2 7-8 28 9 2-1 5 1 10 5-34 4-21-7-6 7-17 2-58-6 84 8 16 8 40 0 20-4-85 15 68 6"/>
<path class="b4" d="M878 1029l-5 2-20-2 17 14 28 8-37 4-4-9-1 5-12-3-12 2-35-5 18 17 75 4 16-4 18-6-1 15 0 7-28 1-29-8 96 12 0 4 8 0-44 8-12 6"/>
<path class="b3" d="M804 1031l-30-6 59 8 42 8 91 6-100 5-5-6-6 1-45 5-10 2 22 2 34 0 10 3 5 0 16 2 1-1 9-1 5 6 3-7 16 5 28 4 31 4-34-3-14 11-44-9-11 8-9-10-55 1 92 14 2-3 23 6"/>
<path class="b2" d="M795 1014l59 3 6-3 11 17-70 9 26-5 23 5 17-8 20 2 50 16-15 5-73-6-6 4-4-9-13 1-11 0 30 15 9-2 25 3 32-5 11 4 6 4 5 3 11 0 34 10-39 3 55 10"/>
<path class="b1" d="M814 1005l-12 10 13 4 2-1 13-3 18 0-10 5-7 10-4-1-3 0-16 11 16-8 12 7 7-6 32 9 14 0 16 0 44 11-33-8-19-1-22 6-5 1-7 3-2-5-8-5-3 2 2 12 30 5 3-7 5 2 10 1 11 0 32 1 41 13-48 6-8-8-27 1-11 1-2-4-26 1-21 1"/>
<path class="b0" d="M880 1027l-17 1-25-4-39-1-1-3-19 4-26 1 67 17 65-3 2-3 1 7 39-2-32 4-1 8-7-7-1-2-11 10-1 4 0-1 13 7 3-7 29 4 37 2 13-4-4 48"/>
<path class="b0" d="M845 1002l-31 14 3-6 0 7 22-7 70 20-45 1-49-8 18 13 29 3 47-3 39 19-52-6-10-2-7-3-3 10-30-3 0-4-33 8-13 8 62-3 17 7 15-4 4 0 22 1 14-4 18 5-21 6-11-2-42 0 0 0 33 12"/>
<path class="b1" d="M822 1019l14 12-3 11 3-10 2 4 3 1 1 1 9 4 1-9 10 2 79 5 2 14-25 1-13-11-31 1-2 3-28-4-15 2-16 6 18 6 17 7 17-2 55-7 5 6 84 14-58-2-37-5-17 10 103 21"/>
<path class="b2" d="M782 1003l-94-3 177 24-3 5-1-2-26 0-27-7 13 15 4 1 26-4 10 6 10-5 11 7 0-7 10 9 17-9 12 21-18-8-19 3 0 6-4-2-7-7 0 5-3-2-20-1-4-3 8 11 18 9 18 1 17-6 12 3 38-6-18 12-6 1-39 3-14 2-58 2 93 6 50-2-12 22"/>
<path class="b3" d="M709 1010l75 0 75 1-9 20-5-10-46 11 17 8 30-3 46 4 55 2-8 11-18-1-12 1-7-4-13 0-19 1-15-2-2 0-44 3-6 15 47-11 14 3 26 8 33-4 49 4-37 4-84-3 58 19 5-6 36 9-22 11"/>
<path class="b4" d="M840 1021l62 30-1-2-27 6-14 9 12-3 21 4 7 1 3-8 19 0 19 4 13 5-19 8-6-5-110 11 96 8 20 0 48 1-127 5-20 0 135 11"/>
<path class="b5" d="M798 1040l4-1 39 4 86 10-24-5-27 5-8-3-5 4-11-8-42 2 2 16 32 3 17-6 39-2 1 1 6 5 14-6 28 13-38 4-2-1-2-6-38-1-8 4-13 10 16 7 53-7 66 15-50 2-18-6-40 5-25-5"/>
<path class="b6" d="M863 1041l13 3-32 9-23-4 9 14 2-5 2 0 29 4 45 5 22-6-15 10-6 2-15-4-15-1-22 1-54 12 68 0 46 4 52 3 19 7-27 3-55 4-28-7-17-2-14 1-39-1"/>
<path class="b7" d="M899 1048l-34-2-19 8-49 9 68-2 5 0 13-2 25 1 13 4 8 3 74 9-22-5-22-3-18 7-27 1-71-2-4 4-31-3 26 12 31-6 26 1 24 8 49-4 15 6-38 5-7-5-5 1-31 5-11 4 22 13 41-2 31 0-11 5"/>
<path class="b8" d="M876 1043l12-7-84 18 22 11 35 0 81 12-40 0-6-3-19-6-37 1-22 12 4 5 56-4 5 7 15-3 12-6 41 8 65 9-62-5-29 6-9 0-2-4-3 5-63 4 54 6 5-5 33 0-67 25"/>
<path class="b9" d="M750 1036l148 41 0 1-10-7-21 7-34-7-51 0 56 19 0-10 1 11 4-6 37 4 7-8 50 9 2-3 9-5 50 4-7 10-9-4-12 2 0 7-24 2-39-1-19-1-10-2-14 3 0-3-3 1-14-4-11-1-41 12 48 0 24 4 38-5 18 5 57-3-62 11-5 4-88 3 78 2-27 12"/>
<path class="b10" d="M852 1043l39 19 37-1 7 18-19-1-5-3-107-5 11 11 9 0 15 8 20-9 12 10 27-8 30 8 0-3 32 1 0-1 1 5-31 4-13 7-11-7-7 5-2 1-5-8-1 0 0 8-3 0-30-7-41 8 12 3 14 3 49-5 2 3 21-1 28 0 20 16-25-6-37 3-47-3-10 3"/>
<path class="b11" d="M869 1071l-26 5-73 12 99 1 1-8 4 8 19 1 30-3 71 10-36-1-47 7-3-9-5 1-8-2-1 8-13-8-34 2-3 4-10-2 28 10 3 3 24 3 9 2 19-6 20 6 61-5 46-6-98 13-51-1-34 3-28-2 63 11"/>
<path class="b12" d="M897 1071l-62-1-59 12 75 8 126 4-16 7-56-9-31 6-23-6-8 11-85-9 125 20 3-1 15-4 6 5 5-7 2 2 12 4 3-4 10 5 4 1 35 7-19 2-18-4-73 7-10-8-3-1 30 18 22-1 51-6"/>
<path class="b13" d="M793 1087l58 0 59-7 6 3 90 6-59 3-1 6-72 5-41-11-7 18 7 0 33-6 1 2 25 6 3 2 20-6 12 1 14 1 38-4 19 8-64 13-6-10-1 2-2 3-5-6-7 2-42 4-58-6"/>
<path class="b14" d="M952 1071l-106 15 212 2-104 6-8 0-46 3-2 5-53-7-47 8 53 10 16-1 23 3 11-7 7-3 19 7 11 1 74-8 24 8-92 5-19 5-4 0-4-7-28 10-11-9-31 2-31 6-9-7 62 12 10-1 34-1 23 5-66 9"/>
<path class="b15" d="M808 1075l119 12-18 11-20 1-87-6 31 20 111-4 8-4 29-1 0 10 15 8-26 4-31 1-3-3-13 1 0 2-20-10 0 9-35 1-12-4-11 1-25 1-112-2 147 8 73-3-30 15-28 0-1 9"/>
<path class="b16" d="M864 1090l-33 19 34 2 23-5 4 3 18 6 52-9 9 8-1 6-32 5-29-3-3 4-121 2 66 2 41 3 11-1 1-1 6-2 4 4 4-1 22 4 1 14-22-8-85 10 17 1"/>
<path class="b17" d="M886 1071l-24 25 27 9 18 9 11 7-2-4-7 4-9 5-5-5-11-2-6 8-23-9-11 3-2 2-24 10 14 2 19 4 20 0 4-7 10 6 27-7 22-1 5 4 24 1 22 0-57 5-28 5-32 4 38 5"/>
<path class="b18" d="M962 1103l-29-2 0 2-53 11 37-3 61 4 8 11-4-2-52 0-33 3-63 11 25-3 35 4 11-9 16 4 3-5 1 6 11 1 0-6 6 4 3-3 82 15-104-4-24 6-1-3-34 0-5 1 20 14 59-4"/>
<path class="b19" d="M862 1103l41 10 38 14-29-7-39 3-82 6 41 1 29 7 7 0 40-6 4 4 12 0 6 0 4-6 8 6 37 6-15 3-3-3-12 4-11 5-8-6-10 6-18-7-1-1-38 7-8-9-5 7-10 3 74 2 14 8 16-7 36 6-110 5"/>
<path class="b20" d="M929 1105l77 21-21-5-54 4-15-2-30-1-1 4-61 9 25 3 23-10 9 11 5-6 9-1 9 2 6-6 12 6 2 4 7 1 5-3 6-5 36 5 16-2-5 15-3-6-3 2-11-1-24 1-43-5-4 2-2-1-28 6-3-3-34-4 4 18 46-2 35-2 3 0"/>
<path class="b21" d="M918 1126l-57 9 29 3 24 1 0-3 53-1 7-2 1 0 16 4 21 9-46 4-3-8-16 6-6-3-2 4-12-4-26 5-4 0-17-1-23-1-26-2-18 14 26 1 6-9 9 4 29 6 46-2"/>
<path class="b22" d="M1008 1126l-53-2-140 15 77-5 56 0 3-5 21 1 2 6 46-3 22 5-54 8-33-3 0 3-1 2-13-2-6-5-16 3-6-4-20 0-31 4 33 11 7 8 17-3 68-8 100 4-186 8"/>
<path class="b23" d="M871 1138l53-8 11 9 76-1 45 1-74 7-16-1-14 1-16 4-7-9-3 3-39 1-8-5-11 12 41 0 27 8 1-4 21 0 15 1 9-1 6 2 18-3 10 0 8-1-54 15-38 0-13-1-73-3"/>
<path class="b24" d="M894 1138l97-7 57 15-11-6-10 11-30-11-6 10-36-8-13 9-7 0-11-8-18 6-23-1-54 15 57-9 3 6 31-7 23 10 25-8 24-3 3 13-21 1-65 4-33-6"/>
<path class="b25" d="M899 1135l43 0 20-5 2 7 50 7-10 1-5 6-26-1-3-8-48 5-3-6-15 1-10 7-1 1-8-4-6 3-6-6-3-2-59 12 50 6 14 4 33-9 13 3 11 6 16-8 29 0-36 13-30 2-18 3"/>
<path class="b26" d="M845 1138l76 0 58 1-18 9-9 1-5-4-16 1-4 5-11-1-36-1-83 9 39 0 21 5 3-1 38-4 1 5 17-11 3 1 2 7 11-5 16 0 9 4 14-3 121 6-119 12-8-9-16 4-3-5-13 1-19 3-3-4-45 1"/>
<path class="b27" d="M1020 1136l-35 14-1 0-49-3 0 4-1-3-4-1-7 4-12 0-53 5 30 2 6 0 28-3 7 2 21 0 15-2 3 6 1-3 0-3 2 5 18-3 11-2 54 0 6 7-124 2-27 2-4 2-27 3-5-4"/>
<path class="b28" d="M1057 1144l-29 0-27-2-42 3-1 2-7 0-124 6 6 9 21 1 16-8 4-3 4 11 2-11 2 9 6 0 13-4 9 5 4-3 13-1 8-1 36 2 2-3 1 5 2 2 8-6 11 1 0-5 0 10 1-3 5-6 0 5 4-2-28 8-2 1-12 4-18-1-15-1-2 6-27-6-6-3-12 4"/>
<path class="b29" d="M1066 1143l-10 8-51-7-6 3 0 2-41 0-6-2-14 0-66-7-7 10-12 13 2-6 38 6 8-5 20-6 6 10 3-5 16 4 7-8 3 10 45-7 35 4 10-6 4 0 21 0 22 4-68 9-70 4-13-3-1-3-4 2-15 0-54-2 18 12"/>
<path class="b30" d="M951 1139l68 10-52 2-12-2-23-2-3 3-5-2-94 4 72 7 1-3 20 1 11-5 7 9 11-4 14-3 2 4 11 5 2-1 1-1 21-4 17 0 10 1-48 9-37 1-12 3-38 4 52 2"/>
<path class="b31" d="M1047 1145l-1 2-185 10 25 1 8-3 38 6 14-4 10 2 3-7 0 5 23-2 2-2 2 8 4-1 7-5 0-2 5 3 27-4-24 14-17-2-1 6-26-2 0-1-25 1-6-2-45 4"/>
<path class="b31" d="M1112 1149l-89 2-58-10-11 3-18 1-78 6-42-6 49 9 39 5 11-4 10 8 6 0 23 0 26-2 6-7 7 7 14-9 1 11 14-4 27 2 3 2-88 8-20 3-37-4-5-4 67 11 7 3 13-4"/>
<path class="b30" d="M1050 1146l-49 4-1-2-7 2-5-3-16-4-18 7-7-8-6 7-18-5-61 13 41 5 7-1 5 0 2-2 1 3 11 0 16-3 18 4 3-4 13 1 1-3 10 5 69-6-50 11-17 1-21 4-20-8-2 2-8-1-22 7-5-4-54 5"/>
<path class="b29" d="M985 1147l-19 3-14-9-9 8-14-1-1 1-4 0-62 10 17 0 9-6 15 1 6 5 30 3 2-9 11 1 3 9 2-6 3-5 0 9 2-2 3-2 30 6 4-10 9 10 10-3 5-7-40 19-3-4-7-3 0-1-14 0-3 0-4 2-5-1-41 10"/>
<path class="b28" d="M977 1139l8-7 38 10-16 2-49-1-7 8-2 0-35-6-31 3-40 1-12 10 87-4 1-3 4 4 22 7 1-3 1-1 6 4 9-7 3 5 4-4 5-4 22 7 54 3-24 7-31 3-28-4-11 0-17 3-46-7-4 0"/>
<path class="b27" d="M1000 1135l67 2-63 9-32 4-8-9-13 4-22 2-38-2-5 9 20 9 9-3 1-7 5 8 17 2 13-11 5 0 5 6 2 2 2-3 3-4 12 4 2-3 4 2 25 2 57 9-83-2-32 5-18-4-21-1"/>
<path class="b26" d="M968 1137l113 12-25-2-35-2-1 5-48-1-8 2-8-11-13 9 0-3-2 1-16 4-3-8-2 3-1-2-19 5-18 6 20 3 2-3 1-2 4 7 7-2 3 3 7-8 9 2 15 3 10 4 32-1 56-2 1 3-89 13-75 0-61-9 135 14"/>
<path class="b25" d="M896 1137l28-2 18 3 90-7-47 12-14-2-33 7-10-4-1 6-73 9 42 3 5-4 10 2 46-2 15 5 4-4 1-6 0 3 18-3-16 22-52-7-60-2-28 0"/>
<path class="b24" d="M959 1117l-7 9-79 13 56-4 15 2 74-2-13 13-10-1-8-7-18 7-4-6-10 0-10 5-4-6-12 8-3 2-17 0-6-10-12 6-7 4-2 5 7-1 3 4 1-3 4 7 5-4 1 1 12-7 9 0 6 8 5-7 19 1 3 6 3-6 5-1 5-1 10 1-32 15-7-3-36 0-50 3"/>
<path class="b23" d="M994 1127l-132 7 23 3 48-1 14-8 62 9 46 8-19 6-43-1-1-5-9 2-38 2-23-2-3 4-7 0-4-1-65 5 10-3 7 6 21-6 24 5 21-2 8 1 29 6 8-3 3-5 44-2 26 0-50 14-3-2-184 0"/>
<path class="b22" d="M811 1139l55-6 35 0 44 1 100 2 33 9-110-1-11 7-4-9-12 1-8 8-1-7-21-2-31-1-9 7-28-2 31 14 97-8 2 0 37 5-113 19"/>
<path class="b21" d="M1033 1121l-123-1-3 6-66-3 29 11 20 1 36-2 4-1 17 3 2 3 7-2 2-3 2-2 6 7 92-6-66 13-11-5-4 10-11-6-27-4-15 8-2-6-3 9-10-11-2 6-3-3-20 8-64-4-22 9 72 5 15-5 11-3 3 3 43-4 31 1"/>
<path class="b20" d="M967 1115l-24 11-7 1-11-1-58 11 24-5 8-3 33 3 2 1 8-3 10 7 6-2 2-7 44 7-7 10-20-4-35 1-15 8 0-10-2 6-3-2-7 4-3 0-12-4-8-1-24 6-27 6 21 0 7 2 4-1 28-3 9 4 12-4"/>
<path class="b19" d="M934 1113l17-4 91 15-90-2-18 3-9-7-5 3-38-2-23-2-45 15 3 1 25 1 43 5 0-4 2 3 10-7 26 7 2-3 0 2 11-8 13 0 15 8 5-3 8 5 28-6 10-2-9 17-10-6-19 1-33 4-1-4-15-3-36 5 0 5-10-5-8 2-1 0-45 3 0-5 58 7 80 0"/>
<path class="b18" d="M959 1110l-4 17-7-1-62 1-1-8-6 1 7 13 14-1 10 5 12 2 4-10 4 2 5 7 3-7 2 7 3-8 10-2 5 2 7 3 26 6 38 4 0 0-16-1-29 4-13 2-13-8-18 3-12-1-5 3-6 2-2 4-18-4-20 0-2 1-45-6 75 19 28-6 11 0 35 4 39-5"/>
<path class="b17" d="M878 1095l-13 18 75-6 19 2 12 1 68 16-25-10-73 2-67 8-4-1-10-4-22 3 43 7 3-3 4 6 7 0 12 5 20-6 11-2 16 0 71-2-30 15-52 3-3-4-33 5-10 3-5-5-4-2-44-2-6 2 70 12 31-3"/>
<path class="b16" d="M960 1098l-46-5-36-1-71 10 205 25-75-5-14 4-6 1-4-5-59 4-5 3 10-1 9 0 29 6 2 1 26-7 11 0 3 1 6 6 4 0 23-4 15 0 8-2 31 12-36 8-20 1-87-7-21 1-4 16"/>
<path class="b15" d="M939 1086l23-3-178 25 89 2 59 1 11 2 18-1 5-2 7-4-1 21-10-4-2 3-13-9-20 10-4-7-12 1-10 2-9 3-21-8-9 7 46 5 1 0 5 2 38-3 13 0-6 12-25 5-22-3"/>
<path class="b14" d="M908 1089l84 14-32 0-21-3-87 1 46 12 3 0 28-1 20-8 72 17-38-3-4 8-14-6-1-2-9 4-4 2-8-1-6-4-2 0-4 1-15-1-60 9 37 1 4 9 25-1 22 6"/>
<path class="b13" d="M927 1070l-32 17 9 1 84 10-30 0-28 5-31-9-39 15 4-5 26 8 3-5 19 8 7-9 28 1 41 5 3 1 27 0-64 4-2 3-15 1-17-5-57 5-13-5 47 16 18-3 20 0 5 3-82 31"/>
<path class="b12" d="M916 1076l-111 15 113-2 17-8 36 9-34 12-28-1-1 1-24-7-50 5-19 0-34 12 3-2 42-2 30 5 6-7 6-2 2 8 14-5 7 7 21-7 15 3 0-4 20 3 8-1 45-4-6 22-21-1-14 0-61-8-2 1-84 4 102 7 3 1 28 3 63-4-51 11"/>
<path class="b11" d="M943 1076l-31-3-9 6-25-5-22 14 40 1 36-5 71 2-12 11-49 3-16-2-3-1-20-4-3 0-26 1-43 7-10 2 5 8 1-5 16 8 25-9 31 8 0-8 8-1 3 7 11-5 28 6 4-2 70 7-87 1-57-1-4 1-1-2-23 8"/>
<path class="b10" d="M850 1057l11 0 76 3 31 19-74-9-2-2-1 9-21 0-25 0 79 11 4-6 21 13-10 1-8 1-6 3-32-5-41 4-12-1-47 4 29 4 73-1 25 4 6 1 2-1-25 19 21 1"/>
<path class="b9" d="M842 1063l10 3 85-8 39 16-44 5-33-9-6 5-6-1-15 5-24-4-13 7 26 6 5-6 8 4 6 5 7-6 6 4 16-6 13 7 14-3 5 2 2 1-32 10-2-8-3 2-1 7-4-5-9 5-34-8-25 2 61 14 28-5 18 11-43 6 65 13 37-1"/>
<path class="b8" d="M839 1039l89 6-89 21 13-6 61 7 52 5-81 2-6 5-23-6-11-2-4 4 18 10 28-1 4-3 11 10 3-3 11-8 7 7 35 0 42 16-31-5-39 0-2-1-9 0-35 4-26 6 4 6 70-6 72-1"/>
<path class="b7" d="M839 1033l85 10 2 6-87 2-49 5 10 1 42 10 2-9 7 4 9-2 41-2 11 7 49 6-12 3-63 3-16-5-34 7 19 6 19 4 11-8 3 3 3 4 1-6 39 2 9 7 28 3-18 9-5-4-5 0-3-1-57-6-46 6 54 12 89-4"/>
<path class="b6" d="M793 1027l72 26-77-1-26 7 25 3 24 1 23-7 28 11 7-6 22 5 14-1 18 6-24 6-3-5-8 7-1-9-2 7-9-2-15-1-2-3-3-3-49 2-38 4 72 15 55-1 19 3 34-10 1 5 39 5-33 2-52 0-7 0-11 3-44-1 32 10"/>
<path class="b5" d="M836 1024l30 14 58 17-9-4-50 0-55 8 19 0 2 6 11-9 4 4 11 4 5-7 34 4 5-2 5 8 0-4 10 0 16 4 61 11-31-5-47 3-3-4-8 1-35 5-14-5-3-3-23 11 16 4 18-3 25 8 39-1 6-2 7-4 8-3 33 23-8-10-65 2-66-3"/>
<path class="b4" d="M929 1030l-63-1-1 0-57-5-22 3 75 13 33-1 15 1 17-1-54 16-17-5-52 8 99 6 50 11-12 3-26 0-6-1-3-1-6-5-5 7-13-1 0-8-5 2 6 19 42-8 33 8 14-5-28 15-10-5-69 4"/>
<path class="b3" d="M773 1016l101 12-84 3 27 11 0-3 1 2 3-4 12 3 6-7 6 7 15 3 12-11 8 8 13-5 72 20-77-5-3 4-17-7-21 2-2 5-29-4 39 15 11-4 3 0 16-3 9 8 1-5 14-1 11-2 4 2 3 2 1-2 34 18-5-8-64 1-5 3-16-6 0 3-19 1 73 8 4 2"/>
<path class="b2" d="M805 1001l39 24-85-5-11 2 76 11 17 0 39 10 9-4 25 2 1 1 95 5-72 2-25 2-17-1-2-2-6 3-4-3-16 6-6 0-9-4-7 0-65 3 110 6 6 6 11-7 9 8 1-8 24 9 3 4-14 8-22-5-24 1 85 16"/>
<path class="b1" d="M834 1012l42 4-19 4-17 8-13-2-19-1-28 3-22 12 8-2 9-2 36 5 4-6 36 5 3 0 49-3 4 0 8 5 8 11-18 2-17-3-31-4-38-4-2 7-9 0-4 7 43 1 7 5 52-3 12-2 6-1 9-2 35 18-14 2-24 1-27-7-7-2"/>
<path class="b0" d="M818 1007l-58-4 112 28-42 0-2-7-6-1-21 1 29 13 5-4 91 11-10 3-24-3-31 0-26 6-15 1-19-3 34 15 33-6 4-1 3 1 53-1 16 2-13 10-7 1-34 4"/></g>
<g clip-path="url(#c02)"><path class="a1" d="M1393 169l166 6-174 13-21 0 55 5 53 16-101-3 36 23"/>
<path class="a2" d="M1457 141l-47 12 107 10-43-6-45 7-100 13 78-8 23 8 14-7 5 6 38 12-86 1-13 11 3-8 28 23-5-5-47-3 121 10 4 0 33 2"/>
<path class="a3" d="M1260 116l63 27 85 14-35 16 169 6-48 10-28 0-57 2-17-8-22 1 28 18 2-3 40-1 11-6 5 7 19-1 4 4 17-10-73 12-43 3-6 6-52-6 74 16 38 1 35 1 3 1 9 11-16-3-45-3-90-2 38 16 65 5 67 1"/>
<path class="a4" d="M1409 161l-93 13 87-5 112 10-41 8-26 1-90-1-8 16 30-6 28-2 3 6 16 0 19-1 9-2 16-2 37-2 0 15-24-2-39 1-39 0-13-3-18 18 10 3 11 1 16-2 1-9 39 7 69 1-36 11-2 1-19 3-25-10 0 3-3 5-5-8-37-1-5 0-3 0-2 9-4-4-5 3-25 11 22-7 23 0 1 0 69 3 7 2 42-2 1-1"/>
<path class="a5" d="M1365 178l69 2-4 0-6 6-70 13 14-4 40 5 44 0 106 14-120-4-11 3-26-9-16 1-24 10-21 1 29 2 20 1 16-3 5 0 4 7 5-4 17-3 16 10 7-1 7-7 10 4 13-1-9 10-4 2 0 5-12 1-1 0-15-11 0 9-4 1 0-3-46-3-12 4-17-6-47 12 15-2 45 6 24-5 40 7 15 0 48-2 42 5 9-5 55-6-92 12-61 0 83 23"/>
<path class="a6" d="M1522 191l-217 8 152 14-44-6-53 4-10-1-2 7 40 1 12 6 13-5 30-3 4 8 5-7 13 6 128 14-56-1-59-7-12-1-5 0-4 10-21 0-10-9-14 2-56 1 1 12 2 2 78-6 23 8 13-5 16 2 49 12-130 5-16-7-8-3-10 10-8-10-27 6-6-2 9 18"/>
<path class="a7" d="M1337 203l93-2-13 11-88 13 146 2 17-3 53 11-54-4-23 4-55-6-13 2-60 6 1 12 52 2 37-9 41 9 1-3 19-3 28 2-32 11-22-6 0 10-18-9-3 0-20 8-20-3-45-5-37 4 119 7 100 1"/>
<path class="a8" d="M1363 224l18 0 301 15-144-5-60 1-27-5-1-2-14 9-70-1-34 15 27-3 10-5 23 5 79-7 21 10 2-7 79-4 42 22-78-9-23 9-12-8-117 2-10 7-32-10 51 13 118 7 21-7"/>
<path class="a9" d="M1340 225l135 6-109 7-22 4 46 0 54-2-23 21 12 5 54 7-56 3"/>
<path class="a10" d="M1370 224l106 12-67 12 175 7-113 1-8 0-14 2-14-2-22 0-46-1-19-1-11 15 20-2 117 1 3 1 12-2 4 7 11-8-58 11-68 5"/>
<path class="a11" d="M1345 245l184 1-4 14-46 2-19-7-51-3-18 1-31 5-21 3 29 6 0-1 23-2 54 8 46 3 12-4 17 4-26 4-3 3-29-5-122 0"/>
<path class="a12" d="M1491 213l-54 35-42 18 39-2 81 8 57-8 0 1-136 16-43-1-13-3"/>
<path class="a13" d="M1476 256l-23 2 67 17 46-8-63 9"/>
<path class="a14" d="M1427 250l-65 10-13 0 13 12 124 3-69 2-39-1"/>
<path class="a15" d="M1372 257l65 8 6 0 51 0 51 13-18 1-77 5-91-4"/>
<path class="a16" d="M1366 246l15 24 3 3 18-3 120 11-38 2-32 0"/>
<path class="a17" d="M1427 271l37 9-31 2-46 6 132 3"/>
<path class="a18" d="M1362 265l129 0 9 9 53 10-78-1-43-5-52 2-19-4"/>
<path class="a19" d="M1394 267l60 5 43 11-50 3-17-3-21-4-41 2"/>
<path class="a20" d="M1447 275l53 6-9-3-55 5-7 4-25-6"/>
<path class="a21" d="M1320 274l46 2"/>
<path class="a22" d="M1437 286"/>
<path class="a23" d="M1457 283l-47 2"/>
<path class="a24" d="M1447 274l-73 9"/>
<path class="a25" d="M1362 284"/>
<path class="a26" d="M1534 273"/>
<path class="a27" d="M1588 287l-146-4"/>
<path class="a29" d="M1393 278"/>
<path class="a30" d="M1546 283l-126 3-44-4"/>
<path class="a31" d="M1457 284l-24 0"/>
<path class="a30" d="M1450 284"/>
<path class="a28" d="M1493 284l-117 8"/>
<path class="a27" d="M1470 284"/>
<path class="a26" d="M1484 280l-115 6"/>
<path class="a25" d="M1465 278"/>
<path class="a24" d="M1381 258l49 19"/>
<path class="a23" d="M1387 281"/>
<path class="a22" d="M1353 270l42 2 69 2 13-4-51 8-1 6-56-1"/>
<path class="a21" d="M1391 269l39 0 64 11-33 3-71 1-5 0"/>
<path class="a20" d="M1369 273l140 3-44 2-58 11"/>
<path class="a19" d="M1418 262l-59 1-10 5 97 6 75 10-67-2"/>
<path class="a18" d="M1465 284l-1-5-18 3"/>
<path class="a17" d="M1358 270l12-3 183 15-70 0-6 0-36 1-1-2-36 4-19-6"/>
<path class="a16" d="M1451 260l-64-3-75 15 144-4 62 17-90-9-38 0"/>
<path class="a15" d="M1394 245l68 13-47-1-13 9 2-2 32 3 3 4 39-6 14 3 110 17-150-1-3-5-36-2-26 6-48-5"/>
<path class="a14" d="M1459 257l-43 1-37 2-33 1-35 0 47 5 91 8 38-4-19 10-36 0-32 4"/>
<path class="a13" d="M1470 257l-19 4-52 2-69-4 76 15 50 0 28 1 0 12-5-4-24-5-7-1"/>
<path class="a12" d="M1488 234l-64 12 61 1 57 7-10-2-5 10-142-1-11 8 27 3 11-3 3-2 29 7 17-1 15-3 27 3-7 6-25 1-47-4"/>
<path class="a11" d="M1386 260l0-7-57 18 81-6 27 1 38 0 21-1 97 3-53 13-70-5-2 2-46-2"/>
<path class="a10" d="M1523 249l88-8-95 21-33-8-33 6-14-1-34-1-38 2 0-4-63 2 97 14 9-5 13 2 31-1 15 3 16-3 39 2 42 3"/>
<path class="a9" d="M1411 202l-35 20 58-1 28 4 25 14-46-3-7 2-19-7-88 20 186 0 28 10-7 2-44-1-11-9-16 6-16-1-87-5-18 1 53 14 3 3 29-6 42 7 35-4 20-1-40 10-63 4"/>
<path class="a8" d="M1396 196l72 42-152-6-3 3 41 6 75 10 18-6 148-1-7 12-62 6-11-9-18 9-1-3-20 2-36-8-5 0-6 2-5 4-47 2 69 5 21 7 37 0"/>
<path class="a7" d="M1432 213l-21-3-26-3-68 18 76 0 21-1 78 0 30-1 69 3-122 11-62 1-52 1-23 7 17-6 1 9 37-1 21 2 87-6 43 9-48 0-3 8-21-8-10 0-8 1-10 1-1-1-15-2-3 4-8-4-17 0-1 8-29-8-18 0 8 15 91-3"/>
<path class="a6" d="M1428 192l45 13-39 8-11-9-9 9-58 3 35 4 49 6 100-5-17 18-28-2-3-3-7-5-43 7-8-8-27 5-5 6-3-1-2-7-6 6-13-7-62 3 16 12 53-5 5 3 24 5 28-7 29 6 16 1 9 1 56 1 126-9-139 15-41 2-2 3-42-9-44 2-20 2 3 14 111-4 19 0 6 8"/>
<path class="a5" d="M1426 152l-21 25 19 11-20-8-20 10-7-5-28 6 26 3 5 7 86 2 86 10-31 0-31 1-24-6-23-1-34 4-16-7-56 2-15-1-8 5 17 11 49 4 25-8 10 6 13 0 1-7 0 3 1 2 56 5 8-4 9-1 23 3 22 0-42 5-3 6-52-2-47-2-6 7 0-2-4-6-4 9-10-10-37-1-8 21 29 0 7-6 7 2 25-2 12 8 37-1 0-10 4 2 10 7 12-3 0 2 0 1 6 1 38-8 12-1 29 9 40-6 53-1-208 11-51-1-14 0-1 6-35-1"/>
<path class="a4" d="M1331 177l86-4 19 13-88 12 49 2 5 1 3-1 19-1 28-6 13 3 12 0 70 11-60-3-5 3-12 5-4-1-46-7-17 10-10-7-56 1-2 5 19 5 9 9 4-2 16-5 10 4 20 1 20-8 11 6 20-7 3 4 12 3 1-2 40 14-5-4-8-1-4 5-41 4-8 0-14-6-34 5 0-4-23-1-6 0-2-4-2 19 75 2 23-9 42 11-9 0-70 10-50-2"/>
<path class="a3" d="M1328 144l105 9-42 22 46 4 67 6-12-4-64 3-41-2-61 19 29 1 4-6 8 1 12 3 36-1 16-1 34 3 15 1 45-2-57 8-13 3-3-6-30 3-36 2-8-1-6 6-25 8 1-3 1 3 52 3 33-5 22 6 42-2 9 3-51 2-15 4-3-6-10 4-50-3 72 12 55 6 72-2-101 11-159 4"/>
<path class="a2" d="M1451 150l-38 11-57 7 109 11-14 1-6 3-50 3-31 5-17 6 35 0 137 6-68 9-77-5-13 8-23-6 35 7 35 0 80 6 27 7-20 6-104 10"/>
<path class="a1" d="M1437 163l8 16 17 19-35 15"/>
<path class="a1" d="M1445 122l16 38-22 22-55 20 22-9 39 17 30 15 4 14"/>
<path class="a2" d="M1387 149l-4 8-3 17 29 5 6 21 29 1 23 6-43 0-31 18 13-7 28 4 8-3 55-3-116 17 115 28"/>
<path class="a3" d="M1503 142l-99 3-33 11 102 25-79 9-3-2-75 10 2-5 64 0 12 8 22-3 16 2 3-7 13 5 4-6 11 9 26-5 17 6 17 0 17 12-42-4-9 4-3-5-7 1-30 0-2 2-4-3-57 4-10-9-2 3-26 8-4-10 26 18 37-6 9 6 1-4 22-1 7 1 11 6 6 1 18 1 31-7 0 3 10 5-43 7-37-3-6-3-39 0-6-1 79 23 32-5 37-4-29 20-5-7-42 0"/>
<path class="a4" d="M1364 163l51 16 72-5-25 12-17-2-8-1-36-3-6 5-34 7 10 7 36-6 9 5 5 5 20-9 1 2 30 5 17 2 30 10-11-8-21 5-17 4-12-8-5 2-17 5-18-1-12 1-17-9-21 11-19-1-18 12 14-10 59 4 8-3 7 6 7-2 8 5 3-8 25 8 70 0 45 9-49-6-24 1-4 9-14 0-1-1-33-1-6-9-16 6-15-6-11 11-2-6 0 1-50-6 70 23 8-1 9-5 25 0 41-3 18-1 1 0 62 7-68 5-32 2-6 1"/>
<path class="a5" d="M1475 167l2 11-82 11-30-6 0 19 61-2 4-7 72 22-60-2-41 2-6 0-7-9-11 7-24-3 3 14 60 1 1-4 18-4 22 0 164 15-87-2-32 3-32-2-2 5-4-3-23-3-10 8-34-2-5-5-3 4-33 1-4-4-13-1 44 18 2-3 8-3 7 2 46-1 7 5 3-4 17-5 23 2 11 5 39-2 14-1 25 17-96-7-31-1-47 1-26-1 32 15"/>
<path class="a6" d="M1472 173l-107 11-16 4 181 18-55 4-22 1-32-6-28-1-5 17 12 0 7 4 17-4 0 1 7 3 31 1 2 0 14-4 1 0 2 4 19-1 41 1-52 7-7-3-27 9-8-8-2 4-21-1 0 4-45-6-4 2-5 1-31 9 12 7 33-11 6 0 20 0 12 4 59 3 25-1 12 3 25-2-39 16-11-6-17 2-13 3-21-1-3 0-40-2-39-2 118 8 91 9"/>
<path class="a7" d="M1418 201l14 14-38-3-37 13 27-8 0 5 18-5 19 8 16-6 1 6 33-3 56 11-26 6-6-4-18-4-36-1-13 8-33-2-8-2-48-1 4 12 8-5 9 2 7 9 62-4 1-4 3-2 5 10 13-5 4 1 18 3 9-6 19 6 38-2 9 1-46 14-91-6-10-1-7-2-31 7-22-2-5 5 205 8"/>
<path class="a8" d="M1357 226l61 0 42-9 60 17-5 4-19-6-73 7-5-9-29 5-46-7 48 19 4-2 19 1 16 2 9-4 46-1 54 3 18 12-38 4-20-10-3 8-1-1-12 1-7 0-2-4-2-1-26 1-5-1-6 4-11-4-18 3-12-5-4 2-12 0-14-2-25-1 43 12 38 11 40-2 4-1 79 0"/>
<path class="a9" d="M1439 223l-36 16-31-8-21 6 53 6 28 1 30 1 21 3 57 2 46 2-121 10-15-6-3 2-19 3-7-7-1 8-12-7-27 8 0-7-3 3-8 4 16 5 1 2 59-6 24 4 99 8"/>
<path class="a10" d="M1362 216l131 21-35 0-131 7 7-1 15 3 5 0 24-6 4 9 45-5 20 3 7 0 30 3 27-4 71 7-96 5-46 4-20-8-11 7-11-6-5 7-32-10-18 7-18-2 42 13 21 2 3-8 7 0 4 7 22-1 51 4 7-2 0-2 9-1 38-1 3-1-51 10"/>
<path class="a11" d="M1403 247l17 4 78 4-43 4-29 3-50 1-16-3-38-6 106 21 8-6 16 1 45 5 22-3"/>
<path class="a12" d="M1514 255l-29 2-48-2-70 1 11 19 0-8 10 2 40-1 14 3 4-5 2-1 25 0 24 1 0 9 19-4 31 3 10 1-77 6-133 0"/>
<path class="a13" d="M1374 245l33 5 17-4 43 9-9 6-42-1-19-2-10 2-30 14 29 1 19-1 6-4 33-1 112 6 18-1-16 10-136-2"/>
<path class="a14" d="M1410 238l93 17-61 1-1 6-79 2 82 6 43-5-46 11-27 0-3 0"/>
<path class="a15" d="M1402 236l11 11 33 12-103 3 56 12 14-6 9 2 9 3 6-3 22 4 12-4 7 5 38-4 25 0 12 3-86 8-62-3"/>
<path class="a16" d="M1528 262l-120-5-72 17 16 1 2-1 138-9 7 18-14-3-36 5-66-8"/>
<path class="a17" d="M1341 268l38-4 47 10 31-2 55 0-30 14-26-10-15 2-37 4-13-6-9 6"/>
<path class="a18" d="M1469 270l58 1 21 14-148-7-18 0"/>
<path class="a19" d="M1332 271l53 2 41 1 8-1-36 4"/>
<path class="a20" d="M1341 269l251 6-90 4"/>
<path class="a21" d="M1420 279"/>
<path class="a22" d="M1474 285l-2-4-95-2"/>
<path class="a23" d="M1412 263l127 22-83-2-50-1-39 3"/>
<path class="a24" d="M1393 281"/>
<path class="a25" d="M1541 284l-22 0-87-4"/>
<path class="a26" d="M1500 277"/>
<path class="a27" d="M1510 286l-118 1"/>
<path class="a28" d="M1460 287l8 5"/>
<path class="a29" d="M1375 280"/>
<path class="a30" d="M1462 286l-5-8-39 8 19 5"/>
<path class="a31" d="M1499 271l135 18"/>
<path class="a30" d="M1471 286l-12-6"/>
<path class="a29" d="M1479 278l-126 0 102 13"/>
<path class="a28" d="M1482 285"/>
<path class="a27" d="M1484 286"/>
<path class="a26" d="M1432 279l-59 1"/>
<path class="a25" d="M1476 280l-61 3"/>
<path class="a24" d="M1351 280"/>
<path class="a23" d="M1492 276"/>
<path class="a22" d="M1411 272l16-2 86 10"/>
<path class="a21" d="M1380 270l29 15-16-3"/>
<path class="a20" d="M1512 254l-45 10 88 22-29-3-24-5-36 0-79 7"/>
<path class="a19" d="M1391 263l5 11 99-7 10 10-27 7-21-7-115 4"/>
<path class="a18" d="M1445 256l-49 9 21 6 5 4 11-11 2 8 2-2 46 2 42 14-10-7-97-3-58 8"/>
<path class="a17" d="M1406 254l-44 2 27 17 38 1 2 0 2-4 7 1 26 0 1 0 7 7-38 1"/>
<path class="a16" d="M1456 258l-70 4-29-4-31-1 39 18 51-2 16-6 31 8-10 8-10-6-24 7-13-6"/>
<path class="a15" d="M1504 237l-5 26-96 10 35 2 63-10 22 9 16 0-35 2-8 0-82 0"/>
<path class="a14" d="M1491 259l-15-3-60 7-22-5-59 11 20-3 14 0 25 3 31 3 16-4 12 2 17 4 16-4 65 0-8 7-125 2-40-1 10 10"/>
<path class="a13" d="M1392 235l248 18-302-1 17 22 27-1 26 0 11-1 31 0 17-7 51 5 2 0-86 9-7 1"/>
<path class="a12" d="M1426 237l-52 2-89 12 178 0 34 0-53 7-68 1-4 12 3-5 12 3 3 3 61-1 9-6 15 9 2-3 16-2 20 2 14-6-75 12-36-1"/>
<path class="a11" d="M1375 227l-5 7 160 29-71-4-1 0-13 2-44 1-31-2 3 10 34-5 37 3 16 8-85 1"/>
<path class="a10" d="M1438 232l-86 5 46 10 99-3 2 11-2 5-6-3-18-3-12 0-36-1-28 10-4-9-42 5-4-2 6 12 51-1 21-1 5 7 50-5 12 2 29-7-72 15-41 2-1-4"/>
<path class="a9" d="M1510 227l-90 12-14-8-5 2-66 17 5 1 6-4 33 1 3-3 14 0 1 0 43-1 15 4 72 3 40-3-63 15-50-1-4 1-6-4-15-2-34-4-63 2-22 2 82 10 8 0 24-3 25 3 45 5 24 3 5-6 12 0"/>
<path class="a8" d="M1385 216l34 4 37 9-30 9-44-9 0 2-2 7-11 5 18 3 2 0 10-4 16 2 7-2 33 7 25-8 9 7 2 1 6-5 4 5 5-6 63 18-14-9-48 9-27-9-13 9-11-4-4-3-2 1-39 1-9-2-1 14 4-2 62 2 5 5 3-2 68-2 20-2"/>
<path class="a7" d="M1401 206l-33 7-13 11 8 2 66-2 1-2 56 15-40 1-24-6-31 1-16 0-1 6-11-9-10 2-20 15 43-4 0 2 18 5 2-2 1-5 10 6 9 2 5-8 9 3 4-6 16 6 9 1 13-4 4 4 3-4 22 7 23-1 64-2 30 9-65 7-38-3-45-7-2 7-3-5-9-1-11 8-11-6-11 7-22-7-2-1-10 0-2 8-4-4 39 11 15 2 1-7 1 3 59-2 56 3-53 8"/>
<path class="a6" d="M1402 196l62 17-14-2-1 2-11 0-79 5 43 3 79 6 27-6 15-1-6 16-22-7-46 1-5 2-2 4-3-8-4 2-13 1-2 1-10 0 0 2-17 0-12-5-2 1-7 3-5 5-4-6 12 14 6 3 5-7 21-1 7 1 4 9 3-4 5-3 11-1 8-3 4 0 11 5 14 4 1 1 6-7 10 0 3 3 5-1 2 2 0-4 20-3-68 16-1-1-3-2-24 0-2 3-1 3-15-7-39 2-2 4-34 8 148 0"/>
<path class="a5" d="M1429 168l112 20-141-5-62-2-12-1 76 21 93-2 5 1 45 14-108-4-52 5-2-5-12 5-50-1 31 7 20-4 9 3 9 0 8 6 3-6 24 4 10-6 4 0 13-1 5 6 14-3 5 4 21-5 15 6-22 4-23-1-12 5-15 2-20 4-6-4-14-4-6 1-15 4-15 3-12-6-3 14 6-6 12 1 35 8 1-7 20 3 10 4 9-4 6 3 3 1 1-6 19 0 1 5 23 2 17-4 3 1 11 4-33 7-3-6-76 13"/>
<path class="a4" d="M1319 162l98 13 59-1-54 17-11-2-62 0 14 14 1 0 9-8 15 0 31-1 13 8 2-7 32 7 121-4-37 16-95 0-28-3-14-5-32 1-13 0-7 5-15 3-38-8 71 12 2-1 6 3 7-4 22 5 7 3 8-3 2 0 15 4 16-4 1-3 4 3 1 3 1-5 2 6 1 1 2-11 20 7 24 15-5-4 0-2-2-4-10 1-10 3-1 7-10-10-11 1-41-1 0-1-7 7-3-3-8 7-3-7-41 2-41 10 72 7 2 0 18-7 1 7 5-8 32-2 26 0 15 8 16-8 5 9-150 5 0-3 123 13"/>
<path class="a3" d="M1329 138l4 24 14 12 13 0 34-5 13 5 14-3 65 19-28-6-5 0-28-2-20 5-9 3-21-4-7 4-8 11 11 1 28-1 23-9 73 10 31-1 6 0-57 14-2-3-10-4-6-4-25 7-10-1-6 4-3-10-15 2-1 2-9 1-14-3-32-1 3 17 48 4 12-3 6-4 154 15-79-4-14-1-22 7-9-8-6 4-7-3-11 2-5 3-25-5-59 20 63-3 35-6 13 8 28 12-44-4"/>
<path class="a2" d="M1384 149l31 18-25-1-57 17 90 19 17-6 79 11-141-3-16 5-52-3 68 20 50 0 25-5 16-5 19 9-7 4-27 5-26-2-28 16"/>
<path class="a0" d="M1450 229"/>
<path class="a1" d="M1375 201"/>
<path class="a2" d="M1456 144l-88 28 159 13-121-3-24 5-6 0-3 4-5 7 86-3 25 0-60 19-23 3 41 7 32-2 5-5 17 19-158-6 42 13"/>
<path class="a3" d="M1371 149l63 26 10-3 122 15-66 3-44-10-38 1-51 8-71 14 80-1 24-8 9 8 8-9 8-1 9 10 9-9 12 8 4 0 80-3-25 17-10-1-19 0-10-4-1 2-13 1-12 0-32 1-3 1-23-7-10-2-3 20 29-1 15-2 4 4 22-7 9 2 37-1 20 4 25-1-56 12-3 3-20 0-15-8-36 0-13-3-5 5-1-2-16-3-25 4 38 17 7-8 28 6 25-7 41 7 6 2-83 10"/>
<path class="a4" d="M1506 138l-41 26-34 3-3 11 13 12-90 11 2-3 6 0 23-1 22-4 81 4 56 17-79-1-2-7-1 8-4-5-28 4-17-9-21 7-5 1-3 1-51-5-13 12 30-2 38 1 6 3 18-6 13 1 2 5 0-2 15 5 12-1 7-8 0 6 0 0 24 3 2 3-22 4 0 5-3-8-5 9-8-6-14-2-11 6-4-4-10 4-17-8-39 12 1 10 11-1 38-4 96-2 2 11-63-1-10 0-35 1 68 10"/>
<path class="a5" d="M1450 190l-87 0-4 12 33-5 15 5 24-2 72 13-35 2-21-3-25-7-9 7-3 1-12-8-12 21 2-4 8 0 0-3 2-2 9 6 1-7 26 1 2 6 13 2 10-4 105 15-33 1-17-9-34 10-4-6-12 3-1-1-4 0-8 3-16 2-14-2-1-2-10 3-3-10-2 5-22-1-18-2-57 9 74 12 12-9 2 4 7-2 1 7 2-2 1-5 19 1 6-2 27 3 9-4 1 5 31 1 49 2 28 12-5-6-38 5-27-9 0 7-8-6-10 7-2-2-6-3-7 4-14 1-82-8-16 11 69 3"/>
<path class="a6" d="M1414 178l23 11-70 11 7 2 95 6-56 7-36-10-39 15 56 3 10-3 12 4 74-1 142 5-79 3-14 4-21-1-12 3-22 2-5-1-25-1-4-3-6-4-13 2-2 2-1-4-4 4-18 4-1-2-13 0-15-8-4 1-1 3-2-3-24 1-8 4 14 17 6-10 9 9 0-1 14 2 10-11 1 2 11 8 17-8 3-1 10 6 15 3 2-3 7 0 1 0 43-3 68 6-103 10-15-7-22 5-13-1-23-3-13-1 0 0 35 13 132-1"/>
<path class="a7" d="M1526 214l-188 1 14 3 18 9 35-4 33 1 48-8 5 16-5 5-38-2-6 1-19-5-3 3-2 5-5-3-54-5-18-2 9 18 25-7 2 10 2-1 1-9 18 1 8 7 4-1 2-4 4 0 20 4 6 0 11 2 19 0 10 2 47-7 22-1-42 12-78 1-3 7 0-4-2-2-10-2-8 3-9 0-1 4-9 0-1-1-4-5-6 6 24 10 152-4"/>
<path class="a8" d="M1387 187l130 31-60 19-19-9-1 6-2 3-75-6 13 11 17 4 11-4 7 0 0 5 18 2 7-5 16-1 1 0 43-2 27 6 11-1 32 10-63 3-4-4-1-2-13 0-6 10-20-2-14-2-7 4-2-10-3 1-3 5-7-4-2-2-36 3-13-4 32 14 40 7 95-6-14 11-63 1"/>
<path class="a9" d="M1410 224l52 15-6 0-65-2-55 13 14-10 26 10 4 0 16 1 4-2 17-1 9 3 40-1 15-2 32-2 17 5 91-7-57 11-45 7-10-3-56-4-21 0-5-3-11 1-22 6 0-2-8 4-8-5-24-3-27 8 35 3 18 2 11 2 5 4 1-4 7 3 6-2 1-4 21 7 1-8 4 0 0 7 5-5 17 6 24-7"/>
<path class="a10" d="M1460 209l-43 9 9 10-12 10-37-3-38 0 71 9 8 2 29 1 12-2 57 6 120 11-140-1-24-6-23 0-4 6-5-1-8 0-12 1-6-1-14-6 0 2-2 5-88 5 69-2 22 4 27-3 1-1 27 5 7-5 30 2 3 6 13-7 18 0 6 10-145 5"/>
<path class="a11" d="M1398 251l67-7 14 7 18-5 9 2 59 10-77 3-18-2-25-3-3 0-9 2-27-3-13 8-5-1-55-6 12 13 57-5 58 5 11 6 1-2 13 0 37-6 22 15-174-4"/>
<path class="a12" d="M1365 250l10 1 206 10-71-5-3 7-44-4-18 2-87-3-4 3-22-3 9 13 36-2 29-3 18 8 29-7 9 1 12 0 4 6 18-4 4 1 53-4-146 14-22-5"/>
<path class="a13" d="M1375 245l21-5 16 9 71 6-1 1-11 5-84-5-22 7-14 7 21 0 2 4 32-5 10 1 3 3 38-3 17 1 86-5-19 12-64 1-13 1-104 1 109 7"/>
<path class="a14" d="M1398 250l75 8-6-4-12 1-8 5-21-5-117 11 83 7 3-4 13 4 10-7 6 8 2-6 3-4 2 5 68 0-8 13-43-5-20 1"/>
<path class="a15" d="M1481 255l-32 5-34-7-21 8-51 9 45 0 31-5 1 6 4 1 31-6 37 6 7 1-10 6-25 2-56 1-12-3-4 3"/>
<path class="a16" d="M1495 261l-14 2-121-4 39 7 21 9 23-8 86 9-1 6-124-2-2-2-1 1-50 0"/>
<path class="a17" d="M1461 270l2 0 16 3 8 0 15 12-60-5-47-2"/>
<path class="a18" d="M1484 257l-81 0-1-1-38 19 29-4 20 2 109-4-106 11-18-3"/>
<path class="a19" d="M1533 259l-198 15 56 1 58-4 19-4 1 16-59-5"/>
<path class="a20" d="M1474 262l-55 13 52-10 58 9 28 11-56-3-3 3-34-5 0 1-11 2-2 1"/>
<path class="a21" d="M1431 262l-16 3 20 3 3 18-8-3-64-1"/>
<path class="a22" d="M1406 272l57-4 4-3-35 15-22-3-6 8-2-2"/>
<path class="a23" d="M1450 284l-51-5-56-3"/>
<path class="a24" d="M1491 283l-11 2-37-6-31 0"/>
<path class="a25" d="M1412 285l-49 0"/>
<path class="a26" d="M1513 276l-17 2-27 3-29-5-26 7"/>
<path class="a27" d="M1535 270l-66 16"/>
<path class="a28" d="M1470 290"/>
<path class="a29" d="M1459 275"/>
<path class="a30" d="M1377 272l112 8-76 1"/>
<path class="a29" d="M1406 286"/>
<path class="a27" d="M1435 275"/>
<path class="a26" d="M1378 269l1 0 184 1-100 14-47-1"/>
<path class="a25" d="M1464 285"/>
<path class="a24" d="M1490 279l-93-2-23 0"/>
<path class="a23" d="M1487 270l-50 7-19 5-45-4-17-2"/>
<path class="a22" d="M1373 249l75-1 90 30-96 4-76 0"/>
<path class="a21" d="M1399 262l-9 11 94-5 102 19-30-7-67 4-43-4-10-4-41 1 112 15"/>
<path class="a20" d="M1470 262l-69 13 128-1-2 6-21 8"/>
<path class="a19" d="M1437 266l41-2 23 6-41 11-55 6-24-4"/>
<path class="a18" d="M1379 261l0 11 61-6 12 7 28 2 30 2-30 0-52 5"/>
<path class="a17" d="M1497 260l-90-3-18 14 15 4 4-5 61-1 100 16-39-9-76 9-71-1"/>
<path class="a16" d="M1373 265l28 9 20-2 1-1 45-2 42-1-63 11-42-3-12 6"/>
<path class="a15" d="M1467 253l-30 1-23 8-44 9 20 4 32-8 64 6-20 5"/>
<path class="a14" d="M1363 262l-20 11 57 1 38-2 5-3 21 0 35 15-76-6"/>
<path class="a13" d="M1448 263l-5-7-39-2-7 6-17 12 11-4 19 0 12-4 17 4 14 5 5 0 14-7 1 6 33 6-46-1-52 3-6-3"/>
<path class="a12" d="M1377 222l5 2-6 23 65 3 2-8 10 1 13 2 47 11-3 4-9-5-9 8-13-4-33 4-43-2-21 0-25 2 4 9 46-2 35 3 20-7 40 0 59 4-103 8"/>
<path class="a11" d="M1510 235l-33 0-9 11 32-2-8 18-1-6-10 2-28 4-38-10-4 9-17 2-17-2-28-8-21 9-4 8 72-2 13-3 39 1 5 9 3-9 13-1 1 2-33 14-4-3-25-1"/>
<path class="a10" d="M1469 235l-3 2-49-1-141 7 35 4 96 0 102 2 5-2 18 5-39 4-12-3-51 0-16 2-41 6-1-9-1 5-19 8 18-1 17 1 6 4 27 2 11-3 10 4 9 0 6 3 3-3 18 2 9-4 9 3 5-3 9 8-100-2-20 0"/>
<path class="a9" d="M1439 172l13 43 17 19-51 4-21-8-35 10 31 7 21-6 5 8 7-2 8-7 3 5 6 4 70-2 38 4-93 12 0-10-14 1-1 3-4 1-13-2-7 3-2-4 0 0-28-3-19 7 6 7 26 2 0 7 9 0 4-9 0 5 4-4 28-3 1 3 85 0 55 6-237 3"/>
<path class="a8" d="M1493 213l-56-7-49 18 74-2 13-5 0 22-19-6 0 5-20-1-5 2-13-2-44-8-18 14 49 8 3-3 6-1 17 3 8-6 5 3 19 4 5-2 70 7-28-1-2-2-32 3-9 2-12 5-17-1-3-9-4 10-10-7-10-4-9 4-14-4-15 10 0-7-5 1 64 9 13 6 15-5 3 8"/>
<path class="a7" d="M1501 208l-35 7-102-9-7 8-19-6 11 11 49 7 46-6 21 4 16 1 47-9-30 13-39 6-49 3-4 1-7-4-37-4-13 3 36 6 10 7 10-4 23-1 4 3 14 3 9-5 3 3 22 3 11-9 11 6-5 14 0-8-6 6-8-1-14 0-8 5-30-6 0 3-14 2-82-9 55 16 4 2 22 0 19 1 17-7 10 4 46-4 54 1"/>
<path class="a6" d="M1474 175l-19 24 6 2-105 11-20 15 12-1 75 1 54-9 30 7 6-3-9 13-3 3-42-6-7 7-9-5-8-5-10 0-9 9-3-6-3 2-15-3-12 7-8 1 0-6-14-5 19 21 8-2 10 3 23-2 11 0 2-8 2 2 6 3 5-4 4 10 15-2 1-3 2 4 0-7 6-3 0 10 11 1 3-9 17-1 58 6 21 8-55 3-20-2-75-1-9 8-27-3-3-8-22 2 43 11 3 2 2 4 51-7 9 7"/>
<path class="a5" d="M1429 177l-20 13-22-10 38 20 37-1 13 4 34 12-40-10-60 4-1 3-58 3 5 12 38-6 1-2 20 8 0-2 7-1 1-6 15 6 5-4 4 2 3-1 8-5 0 3 1-3 25 8 2-2 0 0 9-3 6-3 28 11 15 10-19-8-8 2-35 7-25-4-1 4-28 1-5-2-9-7-10-2-1 10-9-4-10-3-6-3-4 7 3 6 6 3 0-3 5 5 12-5 7-1 6 2 6 0 5 3 3 4 8-4 6-1 7-3 11 4 30-2 4 8 19-2 3-6 7 2 38 2 13 6-33 8-19-2-55 1-34-8-12 2-11 7-34 2 58 1 1 5 52-3 3-2"/>
<path class="a4" d="M1348 120l45 1 97 33-146 5 3 10 57 6 19-6 37 7 109-7-88 13-19 4-67 0-12 14 2-1 13-7 7 4 8 6 21-6 110 17-15 2-43-5-32 3-2-4-7-5-2 6-12 5 0-6-4 1-23 3-10-1-1-3-19-1-6 7-2 0-40-5 24 9 7-3 14 5 5 2 44-2 15 3 4-7 2-1 4 6 25-5 12 4 30-1 5 11-22 7-53-4-5-1-1 5-4-7-15 4-14 2-96-7 61 12 36 3 3-3 17 8 2-9 16 2 3 2 11 5 11-8 7-1 9 3 15 3 14-2 87 11-133 1-7 1-20-6-42 4-3 4"/>
<path class="a3" d="M1475 145l-86 18-104 11 64-3 39 6 40-5 16 2 57 10-36 3-28 0-12 1-1 1-124 13 27-10 34 5 10-5 3 7 3-1 25 5 77 0 52-5 60 6-81 10-24 0-4-1-52-9-23 3-10 7-11-1-7 0-14-8-32 12 32-1 25 5 17 5 3 1 46-6 14-3 8 6 8-7 45 8-8 13-25-6-4 5-13 0-3-1-19-8-12 10-9-6-28 4-16 0-1 2-40-7-54 4 117 5 86 6-44 12"/>
<path class="a2" d="M1399 136l-31 26-8 4 82 7 12 1-112 21 1 2 30-2 2 1 3 5 10-3 34 3 54 2 26-9 4 4-53 16-5 0-7-8-35 0-7 10 8 9 85-7 52 19-27-6-81 13"/>
<path class="a1" d="M1473 173l27 11-109-3-23 33 32 9"/></g>
<g clip-path="url(#c12)"><path class="b0" d="M1466 575l-9-7-23 7-7-8-9 5-19 3-12 6 63-1 20 0 13-2 103 5"/>
<path class="b1" d="M1403 557l126 15-9-1-42 0-14-1-35 0-17 5-23-6-12-1-8 11 61 0 26 0 1 1 44-2 12-2"/>
<path class="b2" d="M1356 508l-2 41 133 12 38-4-60 17-45 1-8-10-2 9-9-6 41 11 47 1 145 5"/>
<path class="b3" d="M1381 555l106 15-53-1-33 6 31 1 0 1 4 2 24-2 11 5 82-4"/>
<path class="b4" d="M1360 554l32 9 59-7 33 8-71 0-72 1 33 14 1-3 96 0"/>
<path class="b5" d="M1453 539l-99 24 81-4 2 3 6-1 38-7 18 15-66 5-81-3 158 11"/>
<path class="b6" d="M1368 538l84-2-9 9-56-1-23 5-12-2-25 10 5 5 159-9 10 9 33 7-52-4 0 1-100 3-39-3 73 13"/>
<path class="b7" d="M1595 540l-31 11-237-11 1 18 135 2 40 7-17-1-101 3 23 8 110 4"/>
<path class="b8" d="M1417 514l-26 13-52 2 58 12 56 22 36 0 3-4 35 2 2 10-33-5-94 1-27 6 146 8"/>
<path class="b9" d="M1503 517l12 13-48 21-94-5 3 9 103 0 40 3-81 9"/>
<path class="b10" d="M1456 495l-54 2-14 23-1-3 17 22 76-1 11-6-58 17-41-5 42 14 37 13-27-6-71 1"/>
<path class="b11" d="M1365 480l193 30 28 39-175-1 81 10 38 14"/>
<path class="b12" d="M1447 538l113 4-221 6 60 11 77-7 46 22-67 1"/>
<path class="b13" d="M1351 536l51-4 140 18-12-2-28 2-113-2-26-3 180 20-49 10-22-6"/>
<path class="b14" d="M1457 521l-29-1-42 18 120 6-60 0-3 0-6 0-53 12 123 2-3 11"/>
<path class="b15" d="M1436 519l19 10 76 13-125 9-8-8-8-3 81 12 42 0 3 15-77-3"/>
<path class="b16" d="M1374 504l-4 16-7 8 68 7 64-1 19 5 1 5-21 1-80-1-65 5-6 7"/>
<path class="b17" d="M1382 493l82 29-38-5-63 3 7 10 23 0 78 7 24 10-12-3-44-4-45 13 59 5 30-1"/>
<path class="b18" d="M1404 471l37 19-4 12-85 12 66 8-33 0-39 4 39 10 74-4 92 15-55-2 47 23-87-3"/>
<path class="b19" d="M1456 440l29 53-42 14 70 17-94-8-55 19 11-6 38-1 79 2-10 15-99 4 171 15"/>
<path class="b20" d="M1481 478l-9 19-61 1 32 7 51 13-94 9-4-8 31 16 9-2 179 3-156 5-32 7-28-4 123 19 8-9"/>
<path class="b21" d="M1425 485l-12 17-76 0 175 14-78 2 62 10-18 17-167-1 139 8"/>
<path class="b22" d="M1388 491l5 12-67-6 132 15 17-6 7 15-77-2 18 12 37 4-64 9-32 1 78 12"/>
<path class="b23" d="M1430 476l-66 11 136-6 4 0-108 11-30 20 22 3 91-9-14 13-12-2-4 4-12 0-41 3 79 11-42 11-2 2 39 11"/>
<path class="b24" d="M1368 510l18-1 111 6-74 12-16-6-29 2 21 11 81 1 113-2-55 19 77 6"/>
<path class="b25" d="M1415 463l54 39-11 0-1-2-108 11 54 0 83 2-39 7-11 5-36 2-10-3-15 11 15 1 13-1 92-4-34 13-72-2"/>
<path class="b26" d="M1399 432l75 39-90 15 53-3 86 15-44 0-24-4-48 4-19 4-5 4 30 6 57-2 82-1-28 16-75-7-12-2-21 5 8 9 25 1 13-3 2 1 96 11-203 0"/>
<path class="b27" d="M1473 478l-1-9-114 14 59 6 7 6-40 14 14 4 9 0 108 14-25-8-104 5-8 2 76 9"/>
<path class="b28" d="M1475 463l-74 13-26 6 87 0 32 3-50 12-70 6 12 5 59-4 12 5 52 2-62 9-94 8 43 8 99-5 27 7 55-7"/>
<path class="b29" d="M1323 439l21 16 69 2 17 16-26 4-55 10 56-4 47 18-54 1-26 11 40 0 22 0 58 0 2 2 12 10-168 5 56-2 3 4 54-3 3 1"/>
<path class="b30" d="M1428 474l-4 10 95 15-48-7-11 10-67-1-55 4 94 2 10 8-29 19"/>
<path class="b31" d="M1371 445l94 15-101 24 58 4 30 2-74 7-3-5-1 11-12 10 15-4 39 1 54 4 44 7-145 18 57-3"/>
<path class="b31" d="M1503 439l-184 19 71 4 14 27 5-2 59 16-1 0-86-1 84 13-3 8-10 13 51-5 10 16"/>
<path class="b30" d="M1408 453l26 18 16 15 37 14-21-2-5-1-53-1-10 5-2 12 77-5 68 2 3-1-80 9-17-1-66-1 105 35-60-2"/>
<path class="b29" d="M1405 473l-120-3 78 16 71 5 18-3 14-3-69 11-26 2 34 15 3-1 39-4 2-2 72 14-40 2-39-6-8 4-51 7 0-11 31 18 207-6-138 23 102 6"/>
<path class="b28" d="M1445 418l12 20-47 11 13 17 6-6-56 9 103 30-30-3-23 4-13 1-9-1-21-7-6 3-10 3-64-1 48 13 46 2 72-2 42-6-25 15-1 6-23-9-70 7 46 4 59 2-4 19"/>
<path class="b27" d="M1456 476l-71 25 67 21-75 7 12 2 106 2 20 5 24 14"/>
<path class="b26" d="M1477 474l-60-3-44 20 61 7-4-1-116 9 24 5 46 2 55 0 80-4-63 17-26-8-37 16 74 4 36 13-107-9"/>
<path class="b25" d="M1475 441l-56 49 5-8 51 12-122 0-10-1 48 11 57 6 9 5 96 12-46-6-83-3-13-2 3 19 14 3 47-2 68 7-74 3-59-3"/>
<path class="b24" d="M1391 488l24 8-48 0-8 3 2 12 47 1 61-8 6 9-3 12-75 1-21-7 109 12 193 6-92 7"/>
<path class="b23" d="M1407 465l-69 12 61 20 23 7 33 3 48 18-33-4-58 0-52 17 80-9 31 9 18 6"/>
<path class="b22" d="M1331 473l76 30 79 2-6 12-7 5-72 13 112 14-14 2-18-8"/>
<path class="b21" d="M1395 485l117 31-73 3-8 2-30-5-3 6-24 3 117 4 5 9 11 10-38 0-11-7-52 7-63-7 119 18 30 2"/>
<path class="b20" d="M1394 486l59-6 13 19-61-3-37 13 106 14 19 11 51-1-49 7-29 6-35 3 67 5 74-1"/>
<path class="b19" d="M1371 495l42 20-22 3-15 0-24 10 93 8-14 12-80-1 188 10 42 1"/>
<path class="b18" d="M1360 497l-4 15 81-6 95 16-18 2-80-2-4-5-61 22 15-6 53 3 18 3 43-11-37 22-73 3 141 11-84 4"/>
<path class="b17" d="M1360 507l80 15-12 5-21 7 11 4 119-6-10 15-35 0-36-1-78 2-29-5 120 19 58 0"/>
<path class="b16" d="M1455 495l-87 16 21-4 38-1 77 20-9-1-105 13 9-7 14 1 28 0 60 19-135 3 117 7 10-8-76 14"/>
<path class="b15" d="M1424 503l-50-1 104 16-55 3-21-4-24 19 13 0 38-6 52 3 59 13-181-4-5 0 141 13-13 9"/>
<path class="b14" d="M1435 514l91 6-183 4 6 12 132-3 8-4 193 6-224 14-92-1-34-1 36 16 201-6"/>
<path class="b13" d="M1349 484l38 41-35 9 3 1 52-6 21 5 8 4 52-8 50 19-1 0-5-1-75-5-36 7-52-2-9 1-38 5 123 3"/>
<path class="b12" d="M1372 527l50 1 2 6 32 4-76 11-47-6 50 12 98 4-95 5"/>
<path class="b11" d="M1461 525l-86 0 24 13 56-3-14 16-5-8-84 3 16 6 109 4 42 2 34 5-14 7-48 8"/>
<path class="b10" d="M1391 516l-52 15 38 0 56 6 58-9-12 21-40-5-122 12 32 0 33 1 1-1 62 1 89 2-82 10"/>
<path class="b9" d="M1404 516l109 26-29 4-18 0-93 12 60 2 5-5 9-1 39 0 52-1 15 6-26 8-6-1-12-2-5 8-54-4"/>
<path class="b8" d="M1368 530l67 19-61-8-20 17 11 1 26 1 3-5 0 3 7 0 15-1 4 1 21 0 30 0-76 7-5-1 0 4"/>
<path class="b7" d="M1436 535l-51 14 88 11 6 12-24-8-79 1"/>
<path class="b6" d="M1413 511l88 34-143 17 15-5 79 2 22 6-35 3-69 6-3-8 94 13 13 2"/>
<path class="b5" d="M1434 560l64 2 6 0-5 3-15 8-22 1-32-1-14-7-6-1"/>
<path class="b4" d="M1444 549l-42 13 107-1 20 9-23 4-22-3-43 3-5-2-17-4 0 3-3-2-6 4-4 1-34-7-18 3 24 8 49-1 1 1"/>
<path class="b3" d="M1364 556l78 6 7 1 38-9 48 12-71 3-26 2-10 3-77 1 55 7 36-4 40 5 106 0"/>
<path class="b2" d="M1333 553l45 10 24-9 139 13-88 3-10 5-92 1 69 6 26-4 34 3 13-1"/>
<path class="b1" d="M1285 547l152 26-20 0-19 0-2-3-27-1 24 9 13 0"/>
<path class="b0" d="M1343 558l195 16-157 6 6 4 23-3 159 0"/>
<path class="b0" d="M1463 569l-26-3-9-2-47 2-20 6 47 6 42 2 5 7 9-11 15 3 46 4 77-2-95 7"/>
<path class="b1" d="M1311 557l48 2 35 4 33-8 51 6 16 5-33 0-18 9-8-7-3 6-1-5-45 2-26 6 65 3 42-2 11 2"/>
<path class="b2" d="M1417 554l20 8 59 10-31 2-12-4-18 1-12 3-14 1-17-5-15 5-20-5 6 11 69-5 124 0"/>
<path class="b3" d="M1454 543l-63 0-15 19 50-4 1 4 40-1 66-6-18 13-13 7-1-9-18 2-43 4-5-3-4-3-1-1-32 2-13 8-56-8 33 13 30-2 10 1 16-1 46 3 6 5 6-10 43 11"/>
<path class="b4" d="M1425 549l42 12 24-6 17 5-8 13-9-8-71 0-29 7-9 2-21-5 197 11"/>
<path class="b5" d="M1396 536l-3 11-5 1-22-6-56 20 71-3 129-3 44 9-19 0-38 6-19-1-82 5-6-3-10 1-45-3 101 7 6 0 5 5 5-2 39-1"/>
<path class="b6" d="M1317 521l150 28-54-6-1 2-66-2 16 9 6 11 10-4 15-3 6-1 66 0 1-2 103 18-69-5-32 8-42-10-10 8-28-4-52 2 57 6 59 3"/>
<path class="b7" d="M1426 524l-14 15 5 5-55 17 18 2 51 0 12-8 49 6 12-2-55 8-26 5-10 1-70-4 141 10 18 2"/>
<path class="b8" d="M1393 520l158 19-70 1-18 7-137 6 128 5 22-6-49 15 33 16"/>
<path class="b9" d="M1357 510l194 37-172-3-6 7 38 10 86-5 5 4 14-2 14 1 3 12-11-6-59 6-10 0-73-3"/>
<path class="b10" d="M1425 534l44-1 17 2 53 3-112 9-12 6 32 4 15 5 51 5"/>
<path class="b11" d="M1504 510l-54 14-61 7 134 17-9 3-35-4-70 1-6-4-58-3 2 12 37-1 1 5 119 2 17 1-2 8-38 5-19-9-111 8"/>
<path class="b12" d="M1436 512l-129 14 91 6 45 7 142 12-30-3-35-5-46 2-68-1-39 2 49 7 147 10-40 2-58 1-99 6"/>
<path class="b13" d="M1377 481l-13 21 108 3 50 14-74 5-132 5 126 8 78-7 120 19-125 0-11-1-48 2-41-2-54 0 17 4 46 5 18-2 29-1"/>
<path class="b14" d="M1353 506l86 19-14 0-2-2-7-3-77 7-2 9 30 2 20-8 11 5 16 2 8-9 25 6 46-1 8 6 16-7-36 12-107 6 8 2 4 6 26 2 38-1 35-6-96 19"/>
<path class="b15" d="M1426 525l-30-6-44-2 98 14 16 14-18 5-55 8"/>
<path class="b16" d="M1322 501l171 8-55 15-4 0-36-2-16-2-12-1-10 8 34 11 178 11-73 1-64-1-85-6 72 16 48-6 6 3"/>
<path class="b17" d="M1492 520l-94 8 64 7 19-1-71 6-35 7-43-5 114 21 13-9 12 4 17 2-28 5"/>
<path class="b18" d="M1428 525l-44-7-28 14 27-3 7-1 20 6 75 5 25-8-23 13-14 2-24 5-16-5 0-2-60 0-6 7 74 10"/>
<path class="b19" d="M1330 504l97 5 35 13-88 2-4-1-22-1 2 14 24-1 2 4 19-7 111 7 53 4-104 1-28 0-27-3-4 6-32 1-7 15 3-7 103-4 22 1"/>
<path class="b20" d="M1515 475l-130 28-40 9 107 1-31 8-41 0-17 2 44 9 112 14-48-3-21 0-2 2-10 6-74 1 21 0 95 0 83 18-16 0"/>
<path class="b21" d="M1342 491l109-2-92 3 91 15 18 4 80 9-50 5-143-5 91 8 77 7-55 7-8-1-2 14"/>
<path class="b22" d="M1373 487l-5 7-9 0-19 18 14 2 124 11-89-9 13 13 4 5 0 2 4-5 47-2 48 9-6 12-11-7-58 3-6 0-16-3-2 2-25 0-49-4 133 17"/>
<path class="b23" d="M1401 485l88 7-48 10-115 4 101 3 64 18-69-8-59 3 71 17 2-6 53 6 15-6 69 3-98 10-34 10"/>
<path class="b24" d="M1439 468l-74 11 83 16-72 5-4 11 42-4 46 6 29-2 2-2-7 16-43-1-10-6-12 1 49 12 33 15-105-2-28 6"/>
<path class="b25" d="M1383 453l20 12-77 11 85 9-37 13 27 13 56 2 45-2 1-2 42 2-95 14-92 12 53-5-55 8"/>
<path class="b26" d="M1400 479l-73 9 60-4 204 16-4-6-225 11 33 6 93 10-2 5-27-5-46 0-8-2 10 18 22-8 21 4 54 8-134 0 80 13"/>
<path class="b27" d="M1333 458l62 24 100 16-97 0-65 15 76-1 13-6 20 3 15 4 24 8-2-2-72 6-50-3 48 17 92 0-86 16 86 3-81 8"/>
<path class="b28" d="M1392 479l-19 12 70-2 57-3 25 11-93 1-23 0-29-1 59 17 6-8 8 1 11 2 43 17-51-3-5 4-36-3-5-4-35 19 90 0 16 1-9 5-33-1-37 2 91 9"/>
<path class="b29" d="M1517 459l-83 17-47 2-71-8 91 19 29-6 66 8-70 21-4 10-81-3 34 10 55 5 26-1"/>
<path class="b30" d="M1356 464l65 3 8 6 110 21-60 5-56 1-17 3-6-8-6 20 16-3 9-2 22 2 5 3"/>
<path class="b31" d="M1333 479l95 1 46 3 57 11-86 6-51-3-12-3-35 20 50-10 56 0 76 7-58 5-57 4-7 4-36-7 34 12 64 10-61 18"/>
<path class="b31" d="M1428 468l80 22-19 9-74-4-31 3 2 11 69 1 20 1 10-1-63 17-8-6-11 10 13 7 40-9 37 9-29 4-64 2"/>
<path class="b30" d="M1474 453l-45 11 8-4 122 11-86-2-19 1-35 19 82-9 7 21-107 1-16 13 51-6 41 5 19 5-25 7-47-8-14 5 66 6 0-1-86 22"/>
<path class="b29" d="M1347 470l140 15 19 9-113 6 16 5 30 9 89-2-66 10-18 5-37-5-54 6 193 14-92 2-57 5"/>
<path class="b28" d="M1389 459l42 4 14 12-8 0-12 3-10-3 8 23-5-1-39 12 40 2 78 15-38-2-29 0-11-8-18 6 106 21-16 2-21 2 129 5"/>
<path class="b27" d="M1404 441l40 26-35 8-18 2 135 20-49-5-57 8-32-4-3-1-6 2-8 5 35 8 108 2-55 13-26-7-17 0-26-2 47 23 27-8 47 14"/>
<path class="b26" d="M1396 486l34 3 5 0 30 8-6 0-38 2-54 4-2-1-43 1-6-9 106 20-73 5-32-3 204 20 28 10-145 1-17-5"/>
<path class="b25" d="M1365 475l41 14 73 2-24 6 6 7 5 4 1 8-10 2-11 6 0-6-113 8 60 4 7-1 4 6 38-3 103-1-24 10-49 0-6 4-18 1-22-5"/>
<path class="b24" d="M1406 478l-21 6 52 1-93 16 2 10 58-2 29 4 37 0 5-7 6 17-10 3-71-7-55-1 30 11 15 6 1-2 1 2 38 3 9-8 8 7 17-2 30-2-54 12-46 3 98 19"/>
<path class="b23" d="M1347 465l62-8-80 16 46 17-12 9-21 2 15 12 61-5 19 7 6-3 6-3 48 3-159 4 54 17 43 2 38 4 2 7-61 5"/>
<path class="b22" d="M1414 474l61 25-64-2-46 2-15 1 47 10 126 6-8 9-40 2-37-3-26 3-20-10-6 5-34 7 27-1 105 8-12 15-51-6-38 0-8 0 137 24"/>
<path class="b21" d="M1418 477l68 36-9 14-26-7-7-4-20 0-47 2 40 13 167 20-115-7-1-2-70 15 30-2 70 7 2 5"/>
<path class="b20" d="M1569 465l-201 21 127 9-43 1-46 18 111 1-142 8 28 10 35-5 19 5 86 0-19 12-42-5-42 0-99 5 139 20"/>
<path class="b19" d="M1400 490l29 25 121-5-109 16-70-1 76 6 37 4 30 2-63 5-116 6 25 7 217 3-16 8"/>
<path class="b18" d="M1487 471l-127-1 82 22-25 16 21-2-60 16-13 4-9 2 56 1 157 17-91-2-3 1-116 4-9-4 93 8 22 2-26 9-4 0"/>
<path class="b17" d="M1486 522l-8-2-50 5-51-1 21 13 68-4 40 0 46 13-81-6-15 1-19 0-57 8-21-5-12 10 122 14-18-4"/>
<path class="b16" d="M1410 509l39 17-70 1-38-2 13 12 76-7 2 8 73 5-42 8-21-10 45 16 10 5-106 2"/>
<path class="b15" d="M1486 510l-135 23 45 5 1 1 4-1 11-2 51-6 15 1 37 3 8 3-40 14-32-5-82 2 30 6 24-2 40 6 52-1 38 13"/>
<path class="b14" d="M1516 527l-75-1-27-2-22 3-11-7-7 18 31-6 69 5 27-3 30-1 90 7-89 8-19 3-4-9-61 4-8 3-10-5-12-2-17 0-19 0-49 10 102 3 39 3 71 13-52-6"/>
<path class="b13" d="M1462 482l-81 27 71-4 6 13 81 27-33-2-129 3-3 13 1 0 35 3 34-7 1 2 16 1 63 5 48-3-15 11-112-4"/>
<path class="b12" d="M1402 492l-94 11 150 15-65 3 99 14 47 8-144 10 11 2 98 7 3-3 58-5-70 15-23 6-6-8-15 0"/>
<path class="b11" d="M1384 537l88 2 47 4-5 0-60 5-17 2-7-8-41 9-2 10 10-6 8 7 40-6 4 0 41 2 38 0 13-1-108 8"/>
<path class="b10" d="M1397 526l-23 10 24 10 0 1-12 2-44 1-41 4 9-1 87 1 9-1 0 9 23-1 25 1 2-5 4 5 36-5 78 13-169 5-31-10"/>
<path class="b9" d="M1417 532l84 9-36 7-57-2-39 5-26-2 9 12 35-5 11 1 4-3 7 7 43-1 75-2-81 12-21-3-29 1-64-1"/>
<path class="b8" d="M1331 517l31 19 220 13-159-9-39 8-49-2 65 17 8-5 1-1 15 3 15-6 9 5 0 3 1-8 16 2 11-4 2 9 26 3-34 7-24 4-48-7 16 11"/>
<path class="b7" d="M1476 518l-88 0 14 41 43-1 51-1 122-5-108 21-8 1-2-4-100 4-16-5 80 8 16 0"/>
<path class="b6" d="M1421 531l90 11-73 19 6-7 17-1-30 12-53 0-1 0 91 24"/>
<path class="b5" d="M1512 550l-31 1-30-2-12-8-2 10-22-11-50 6-10 16 15-2 68-2 8-3 9 0 42 17-33-5-3 2-3 5-4-6-3-1-8 6-48-4-60-3 122 13"/>
<path class="b4" d="M1359 527l-1 27 33 5 25 0 2-1 83 15-15-2-29-5-20 1-11 7-4-3-15-7-12 9 68 7 14-2 64 3"/>
<path class="b3" d="M1395 536l-16 22 81-1 16 2 38-1-18 10-14-1-13 0-8 5-17-2-5 1-31-5-8 4-59-3 59 13 7 5 22-2 40-1 15-5 56 1"/>
<path class="b2" d="M1404 527l159 39-84 3-20-1-28-4-9 8-5 0-11-2-3 4-13-3-12 3-5 2 14 3 25 2 38-1 3-1 19-2"/>
<path class="b1" d="M1366 533l28 21 65 21-40 0-34-3-30-2 27 8 48 1 3 1 30 1 21 3 1-8 4 0 8 3 3-2 22 0 5-1-151 12"/>
<path class="b0" d="M1460 544l-45 16 0 3 112 12-35-7-19 0-14 1-2 5-8 1-25-2-6 2-11 0-10-2-6-2-12-5-5 7-9-2-1 0-25 3 49 11 16-7 33 9 0-5 54-4 8 2"/>
<path class="b0" d="M1369 562l22-2 138 10-52 0-2 0-19 0-36 1-13 2-2-5-12 6-31-5-13-5-4 2 23 11 20-1 27 3 4-2 50 2 59-1"/>
<path class="b1" d="M1432 560l10-8 67 20-35-8-22 9-59-5-10 6-24 2 10 6 18-5 5 6 0-5 1-1 25 5 22-5 14 4 10-5 5 1 0 7 25-8 59 4"/>
<path class="b2" d="M1419 545l-62 14 30 0 50 1 28-2 86 8-6 8-22-4-20-1-13 6-17-7-15 3-19-7-28 7-39-5-30 11 5 0 33-1 10 5 14 0 5 0 75 1 35-2 7 0"/>
<path class="b3" d="M1448 561l11-8 73 10-41 11-33-5-16-1-41-3-4-1-8 1-4 15 90-1 23 2 50 0"/>
<path class="b4" d="M1433 540l-51 1 50 15 24 6 24 9-1 3-47-6-5 2-7 1-1-3 0 0-30-1-36 7 13 4 17 2 38-3 12 1 8 1"/>
<path class="b5" d="M1385 536l87 9-64 6-99 12 110-2 21 1 28 0 48 5-29-1-1 3-12 0-38-5-3 0-5 8-4-6-4 1-16 4-3-7-23 7-25-6 63 11 52 1"/>
<path class="b6" d="M1424 543l-19 4-25-1 31 12 8-3 3 5 1 3 8-5 22-4 10 16 36 9"/>
<path class="b7" d="M1340 521l52 10-46 17 87 13 13-2 25 1 41 8-30 0-5-1-3-3-53 0-13 9-7-2-48-5 191 12 13 3"/>
<path class="b8" d="M1452 511l-139 20 145 19-44-7-10-2-3 6-10-5-52 15 65 3 17-3 1 6 7-8 163 16-115-6-10-1 0 5-33 6-8-5-4-3-23 3"/>
<path class="b9" d="M1513 518l-179 21 153-4-39 16-7-5-16 3-4-1-1-3-28-5-14 11-42-5 5 9 60-3 10 0 61 10 4-4 117 6-88 9-2-5-11-4-3 11-26-11-7 7-54 3-5-10-39 2"/>
<path class="b10" d="M1416 538l85 8-41 5-20-10-13 10 0-11-12 9-20-6-47 7-16 1 47 5 162 18-66-7-19-3-15 0-37 3-80 0"/>
<path class="b11" d="M1305 496l151 29 132 18-107 8-28 0-11-8-14-2-14 1-64 1-18 11 4 6 41-3 23-5 21 1 25 10 26-2 12-8 104 16-117-2-30 2-46 5"/>
<path class="b12" d="M1382 525l-25-4 63 17 11-10 6 2 9 20-32-7-12 6 0 11 5-7 7 9 53-8 35 8 58 0-93 2-76 1"/>
<path class="b13" d="M1471 518l-56 9-40 3 67 2 76 13-28 5-40-3-87 11 24-5 10 5 17 4 11-8 12 7 11 2 12-2 2-4 17 2 18-2-43 16-39-6"/>
<path class="b14" d="M1413 508l22 12-104 2-2-1 81 13 76-1 13 8-37 0-4 2-21 8-8-9-35 4-13 1-43 1 88 5 3 1 2-1 36 5 28 5-42 3-49-2"/>
<path class="b15" d="M1534 526l-182-2 54 12 70-2 42-3-18 13-11-3-51 6-3 4 22 5 1 3 23 1 75 11"/>
<path class="b16" d="M1361 508l8 6 16-3 78-6 47 18-75 3-41-7-25 7 6 6 18 0 71 3 12-3-43 8-42 10-63-5 11 9 62 9 55-10 29 9 6-10 5 5 11-2 34 13"/>
<path class="b17" d="M1337 499l44 15 158 6-67 2-10-4-52 16 116 14-34-1-105-2-30 9 20 4 67 5-11 5"/>
<path class="b18" d="M1394 508l43 0 49-2-62 11-17 4-19-4-32 3-1 3 15 8 3 0 25 3 4-4 21 5 76 13-49 3-24-4-10 0-10-4-16-1-5 0-6 3 87 11 16-4-46 13"/>
<path class="b19" d="M1368 468l139 56-15-4-2 5-21-4-40-1-21 18 11-7 15 3 14 4 31-3 132 2-99 13-14-7-33 8-8-8-4 3-33 1-2 1-7 2-16-2-46-6 2 13 117 1 1-3 4 3 23-1-94 9"/>
<path class="b20" d="M1329 434l20 51 131 13-121 16 181-3-59 14-37-6-5 5-76 2 55 7 7 5 44-7 95 12-46 6-8 2-1 0-26 0-72-3-4-6 0-2-26 12 30 1"/>
<path class="b21" d="M1417 469l-35 20 100 14-66-9 73 24-20 0-22 9-53-11 16 13 39 7 1 3 5-8 4-3 10 2 9 2 25 0 153 7-176 6-61-5-15 11-74 4 83-3 57 3 93-3"/>
<path class="b22" d="M1376 498l-8 5-13-4 18 14 259 11-187-6-11 0-9 3-44 4 1 12 9-4 12 6 3-2 4 0 16-3 5 0 42 16-14-7-43 6-25-8 54 19 22-4"/>
<path class="b23" d="M1506 434l-62 34 29 33-71-4-9 8 66 5 1-5 81 17-75 3-18-9-10 6-71 12 34-5 22 8 11-1 9-6 5 3 9 4 57 2-17 3-56-2-102 0 92 22"/>
<path class="b24" d="M1398 488l60-8 69 1-111 13-3 7-2 5 30 7 41 4-25 2-40-2-13 0 9 14 37 6 2-3 63-6-93 15-7 4-27-4 32 9"/>
<path class="b25" d="M1380 470l11 14-24 9 29 22 16-6 20 0 23-4 64-1-88 21-23 11 18 1 57 0 37-3 3 11-23 2-47-3-32-3-23 5"/>
<path class="b26" d="M1444 470l-19 19 18 14-13-3-17 3 18 2 21 8 12-1 44 5-26 8-40 2-143 4 120 5 10-7 20 22-31-1-19-1"/>
<path class="b27" d="M1394 465l92 22-2 16-110 6 87 0 37-3 3-2-3 17-84 10 78 2-42 9-4-2-2 10-10-8-5 9 104 11"/>
<path class="b28" d="M1349 467l44-2-6 11-4 20-36-2 18 18 15-8 51 7 23-2 34 9-3 0-14-2-1 11-1-9-6 4-69 2-14 1 77 10 43 1-103 16"/>
<path class="b29" d="M1348 416l91 63-30 7 56-2-3 11-41 6-44 0-9-9 40 16 14 5 5-6 22 2 38-3 39 4 5 11-9 3-10-5-27-1-9 2-20-2-107 10 72 5 5 5 98-1"/>
<path class="b30" d="M1490 450l-45 29-78 6 3-4 25 0 53 3 6 7-14 3-52 1-13 2 76 11 61 13-32 6-73-6-12 6-15 7 6-2 24-1 25 2 7-1 3 9-29 9-56 3 197 1"/>
<path class="b31" d="M1387 445l35 42 144-4-139 14-1-1-21-4-51 4-33 14 167 3 12-1 28 13-116 5 16-2 95 6-27 17"/>
<path class="b31" d="M1426 448l-38 25-17 15 11-5 52 9-3 2-18 4-25 7 11 8 69-9 123 18-110 1-14 1-76 5 29-1 18 0 4 0 40 5 19 2 38-4-56 9-7 12"/>
<path class="b30" d="M1451 446l41 31 40 20-70-3-30 2-71-3 10 18 31 2 64 1 51 13 0 0-123-8-54 14 79 3 57 7"/>
<path class="b29" d="M1433 449l-49-4 58 24-5 10-61 4 69-3 55 16-60-4-89 5 55 7 60 0 4 4-56 11-21 2-10 7 39 5 2-3 69-1"/>
<path class="b28" d="M1476 470l-16 2-99 16 80-2 89 16-9 7-101 8-104 11 60 9 26-3 32 2 25-6 4 5 16 4-78 2"/>
<path class="b27" d="M1393 418l-25 40 39 12 89 19 10 10-41-7 35 29-6-4-77-1-87 9 124 9 110-2-48 13"/>
<path class="b26" d="M1465 475l-34 21-9 5-20-2-10-6-42 13 29 9 2-11 57 5 9-1 27 0 36 2-35 11-69 6-13-4-15 2-12 9 5 5 9-10 74 3 73-3 38 1-158 13 0 5-14-8 130 23 24-1"/>
<path class="b25" d="M1260 412l100 51 182 12-20 12 19-3-245 15 118 12 0-2 3 1 68 15-33-6-38 4-1 3-20 7 55-1 3 1 1 0 16 5"/>
<path class="b24" d="M1371 452l80 24-60-5-73 18 107 8-48-3 97 19 18 1-131 10 59 12 45-6 18 3 51 4-51 9-55-4-2 3-4 3-2-2 90 12"/>
<path class="b23" d="M1328 440l96 45 4 4 1 23 47 0 64 5-12 6-63-3-7-2-86 18 44 0 29-5-12 11-7 4-23-6-5 18 112-6"/>
<path class="b22" d="M1461 456l-113 38-13 15 3-5 56 4 75 4-34 13-68-4-24 3 148 12 15 1 97 3-151 1"/>
<path class="b21" d="M1395 482l27 15-85 7 48 8 140 3-46 3-59 9-3-8-8 8-13-4-13 11 40 2 21-2 7-1 4 2 24-2 0-2 69 14-50 0-13-2-15 6-31-9-13 0-9 10-19 1 19 11 28-10 78 11"/>
<path class="b20" d="M1449 472l98 31-158-3-11 0 112 10-83 9-16 5-43-8 32 20 77-3 120 8-72 10-11-9-94 4-18-6-106 0 150 19 17 4 44-9"/>
<path class="b19" d="M1434 509l41 14-27-1-73-3-67 16 92 2 17-9 51 6 15-2 5 7 79 5-38-3-38 0-9 8-11-2-39-3-11 0-41 3-13 5 40 9 27-6"/>
<path class="b18" d="M1378 506l50 16-15 3-13-8-20 11 36 11 57-3 35 13-72 0-3-6-3 6-18-4-77 0 37 9 131 18-61-3"/>
<path class="b17" d="M1463 497l-70 3-7 6 58 21-10-9-16 8-15-2-31 5 31 10 12-6 1 1 31 2 50 12-13-2-37 3-53 1-12-3-55 0 77 7 39-2 66 3 25 2-64 7-133 2 67 10"/>
<path class="b16" d="M1482 509l-50 18-39 12 41-3 2-3 20-3 35 9 29-8-38 16-58 3-17-7 0 1-31 2-2 12 59-4 29 0 27 2-35 8-60 2"/>
<path class="b15" d="M1364 459l-28 64 92 5 28 5 57 10-4 2-7-3-7 7-17-7-11 0-9 0-57 3-34 7 15 8 46-1 46-7 6 10 9-5 31-2"/>
<path class="b14" d="M1361 511l101-1-107 27 24-5 41 3 6-2 16-5 96 2-22 17-27 3-46-8-11-1-16 8-22 13 4-4 11-4 6 8 13-1 1-4 4 5 37 1 1-1 12-9 89 8-128 5-23 2"/>
<path class="b13" d="M1310 502l134 25 119 19-131 5-1-1-39 1-22 4 19 3 5 1 38-6 63 4"/>
<path class="b12" d="M1408 491l-58 24 77-6 70 38-68 0-20-3-10 7-5-2-24 10 20-7 42 8 23-1 86 2 2 12-50-3-6-1-63 0-5 1"/>
<path class="b11" d="M1349 530l65 8 26-7 4-3 58 1-39 18-1 1-15-5-3 1-11-4-13 11-16-1-28-7-4 5 15 4 14 10 10-10 29 6 59 1 137-1-226 8-23 0 35 12"/>
<path class="b10" d="M1350 511l22 17 114 19-30 2-16-3-9-5-9 6-4-1-96 4 3 3 37 6 25 0 9 2 11 1 62-8 2 2 20 6 3-1 39 2-48 6-44 3-39-4 153 14"/>
<path class="b9" d="M1438 520l-76 7 13 9 119 4-28 1-20 3-53-1-11 12 54 0 27 3 63 0-109 6-41 15 29 4"/>
<path class="b8" d="M1344 539l156 1-41 2-119 5 31 6 17 4 29-5 57 3 114-3-19 20-71-5-3-2-53 2-3 1-2 0-11 2-15-2 0 0"/>
<path class="b7" d="M1322 538l78 12-4-9 1 22 9 0 85-9 9 1 20 16 0-5-74 7-15-1-24-6-64 7-1-3 18 10 77-3 27-1"/>
<path class="b6" d="M1348 513l156 18-79 17-34 2-10-2-6 14 39 1 33 7-17 0-17-1-4 4-58-7 68 14 35-2 8 4 20-1"/>
<path class="b5" d="M1391 529l138 14-112 8-50-6 31 15 17 3 35-7 43-4 73 11-51 12-78-6-31-1-15-3 16 12 58 3"/>
<path class="b4" d="M1368 541l2 22 3-2 5-6 1 6 43-6 2 7 52-7 2 5 10-3 8 4 40 2-23 9-8 1-28 2-28-5-38-4-3 3-5-4-47 7-44-4 101 9"/>
<path class="b3" d="M1351 536l96 5-72 0-48 0 35 20 52-3 21-6 40 10 43 9-22 3-47 1-18-9-12 3-10 1-7-4 0 7-4-6-28 0 79 14"/>
<path class="b2" d="M1346 558l51-2 17 0 4 6 41-2 27 6-11 4-77 3-24-3-1 4-33-1 64 8"/>
<path class="b1" d="M1462 535l-100 21 8 0 68 6 4-10 25 8 1 3 50 3-9 8-13 1-3-11-1 8-1-1-11 2-3-5-11 6-18-1 0 0-107-9-21 6 47 11 37-3 28-2 6 6 13-2 55 4 33-3 7-2"/>
<path class="b0" d="M1388 558l174 3-62 5-13 0-17 6-56 0-11 1-15-7-9 2-13 10 93-2 5 1"/></g>
<g clip-path="url(#c22)"><path class="b0" d="M1280 759l-23-1 26 14 13 7 11-2-18 12-6-7-3 5-8-6 15 17 16-1-11 13-8-6 8 17 10 4"/>
<path class="b1" d="M1275 704l10 5-14 2 6 48 25 19 13-5 0 1-1 11-41-3 25 11 39 8-29 4-16 5-4 5"/>
<path class="b2" d="M1308 733l-19 5-15 2 13 14-2 3-9 9-2-4-1 1 15 11-10 17 36 16 19 9"/>
<path class="b3" d="M1271 709l19 20 13 47 4-5 21 7-35 4-6-1-12 22 30-9 0 17-10 31"/>
<path class="b4" d="M1284 715l-6 31 1 1 18 3-2 13 27 9 5 2-7 17-6-3-25-5-13 2 36 11 11 3 8-7-46 19 53 6-56 15"/>
<path class="b5" d="M1302 756l-31 17 14 4 31-1-17 23 17 3-3 33-2-5 4 13"/>
<path class="b6" d="M1305 702l-27 28 33 46-14 27 15-1 2-3 34-7 17 34 25 20 41-1"/>
<path class="b7" d="M1272 769l47-1-20 12-23 0-4 7 50 12 67 8-81 8-26 10"/>
<path class="b8" d="M1320 781l-22 22 28 0 41-9 63 27-58 8-75 19"/>
<path class="b9" d="M1306 779l0-7-11 11 21 23 21 18 88 22 15-6"/>
<path class="b10" d="M1272 764l16 34 21 20 107 19-60 2-3 9 31-8-10 24"/>
<path class="b11" d="M1331 791l-4-2-26-2-8-5-3 0 71 33-58 3 35 5 23-4 29 0 119 30"/>
<path class="b12" d="M1359 754l-21 25-38 7"/>
<path class="b13" d="M1320 796l29 18-26 1 26 8 72 10 30 42"/>
<path class="b14" d="M1325 820l26 3-16 11-37 0 68 16 27-7 22 6 33 4-117 4 51 11"/>
<path class="b15" d="M1299 796l57 26 22 1-44 12-10 8 16 24"/>
<path class="b16" d="M1306 776l42 39 32 20-42 3-11 8 9 2 6-5 100 24"/>
<path class="b17" d="M1336 789l-51 2 83 36 94 20 3-5-128 12"/>
<path class="b18" d="M1365 837l-26 2 109 16-4-2-131 9"/>
<path class="b19" d="M1309 814l25 9 41 3 1-10 7 18-24-3-36 3 85 8 3 3 43 12-114-1 262 13"/>
<path class="b20" d="M1396 821l-73 14 13 15 208 9-82 0-96 6 19 1"/>
<path class="b21" d="M1344 805l-10 11 61 20-6-8 146 33-31-2-84 14"/>
<path class="b22" d="M1418 840l48 14-110 4 47 11"/>
<path class="b23" d="M1386 792l-69 59 98-11 19 7 182 13-166-2"/>
<path class="b24" d="M1432 835l-57 10 14-4 18 4 64 5 1-5-111 14 86 13 44-3 28 1"/>
<path class="b25" d="M1442 843l17 7 60 4-42 6-24 3-8-5 39 15 65-4 51-2"/>
<path class="b26" d="M1399 829l-22 15 16 1 43-5 19 10 74-3-17 8-16 8-17-11-17 11-14-8-13 6-81 1-8-3 63 8"/>
<path class="b27" d="M1317 837l143 14 75-7 120 15-166 4-30 11 82-6 59-4-83 15"/>
<path class="b28" d="M1347 851l94-6 29 8-8-1-28 11-74-1-8 4 59 0 38 9 35-6 37-5 20 1 15 6 27 1"/>
<path class="b29" d="M1412 828l106 26-17 7-29-9-9 3-33 10 152 0"/>
<path class="b30" d="M1508 858l-11 5-70 2 12 3 26 4 6-8 58 10 43-3 17 0"/>
<path class="b31" d="M1433 826l-26 25 66 0 111 4-155 8-100-9 123 13 16 6 31 2"/>
<path class="b31" d="M1487 860l-128 10 25-6 14 4 16-2 41 2 137-2"/>
<path class="b30" d="M1385 839l-48-6 125 15 64 7-26 4-20 1-8-7 62 21-59 4"/>
<path class="b29" d="M1431 850l229 7-55 6-102-4-14-2-19 2-26-6-13 5-19 11 22 0 79 7"/>
<path class="b28" d="M1446 847l12-1 62 10-2 2-81 9 17-2 2 6 10-3 38-3 32 0 22 0"/>
<path class="b27" d="M1412 835l150 28-131-11-59 5 61 9"/>
<path class="b26" d="M1469 839l20 13-59 0-48 13 70 6 11-5 40 1"/>
<path class="b25" d="M1358 827l50 23 5-4 3 2 51-1-41 15-59-2-12 1 84 12 15-3 10-5 15 4"/>
<path class="b24" d="M1538 832l-177 30-7 0 81 6 7-2 47 0 18 2 7 3-97 5"/>
<path class="b23" d="M1324 813l127 11 30 14-69 6 17 3 31 1 38 15-57-11-8 7"/>
<path class="b22" d="M1423 841l20-1 11 2 15 16-72 2 96 9 72 6"/>
<path class="b21" d="M1341 781l1 40 62 16-10 5 31 1-15 9-10 8-81 0 80 7 70 5"/>
<path class="b20" d="M1344 807l-44 16 70 2 98 7-40 1-15 11 19 3 43 5-10 1-46-1-78 8 63 12 46-6 166-1"/>
<path class="b19" d="M1424 836l-8 3-39-6-25-2-38 13 113 1-16 14-20 3"/>
<path class="b18" d="M1334 805l-30 15 154 16-106 3 62 7 21-1 97 17-88-3-35-6 41 11"/>
<path class="b17" d="M1304 848l80-5 94 15-48 2-8 0-94-8 37 12"/>
<path class="b16" d="M1314 805l126 33-53-8-57 16 60-4 64 19-2 1-82-2-24-2-4 4-12 5"/>
<path class="b15" d="M1341 815l1 3 49 16 65 36"/>
<path class="b14" d="M1314 771l-8 24 1 4 75 3-67 17 15 18 45 6-16 14"/>
<path class="b13" d="M1338 786l10 21-31 19 83 4-20 9-39 4 117 25"/>
<path class="b12" d="M1311 762l29 21-47 18 33 9-4 6 18 21-5-2-33-1 112 7"/>
<path class="b11" d="M1299 797l48 26 3-4 23 15-10 4-23-2-39 2"/>
<path class="b10" d="M1319 778l5 12-13 17 34 10 57 15-72 13 15-4 31 1-45 21"/>
<path class="b9" d="M1313 755l-3 21-1 6 36 20-41 6 33 15 42 16-15-7-5-3-25 10"/>
<path class="b8" d="M1304 755l-8 10-22 10 13 13 17 13 13-9 15 21-27 9 85 13-23-7-27 3-26 3-11 2 31 19"/>
<path class="b7" d="M1308 763l14 21-40 9 30 2 3-2-10 23-5 33 48-8 73 10"/>
<path class="b6" d="M1272 754l54 8 15 20-41-2 17 23 46 10-35-2-40 7 50 9 23 1-5 4"/>
<path class="b5" d="M1291 741l3 49 8 5 52 15-37 15 27 7-27 11"/>
<path class="b4" d="M1283 707l7 6 5 34-3 13-8 0-5 15 17 1 19 8-11 3-9-1 1 48"/>
<path class="b3" d="M1285 737l0 0-11 2 61 6-25 15-33 6 30 15-27 13 4 6 55 3 28 1-65 0-10 3-9 7 83 21-64 3"/>
<path class="b2" d="M1263 702l14 23 21 27 10 2 32 24-40 4-28 2 6 11 28 3 1 4 4-4 4 2 6 3-10 11-7-2-4-6 40 14"/>
<path class="b1" d="M1277 707l-3 19 12 4-11 24 5-4 4 14-13-4 4 14 3-1 21 1 25 1-15 10-26-3-3 11 4 1 17 1 50 15-68-3 59 10-19 14"/>
<path class="b0" d="M1277 739l2 11 45-1-42 16-14-3 23 11 3 6 2-9 7 9 43 4-60-1-21 17 22 3 2-5 41 13-27-6-5 10-4 5 18-1 9 26"/>
<path class="b0" d="M1309 732l-17 8-1 1-3 13 19-1-34 15 21 8 19-3 8 7-17 5-24 18 8-8 30-2-9 21"/>
<path class="b1" d="M1273 748l9 3 13-1 4 2 24 12-39-5-5 2-13 3 17 4 16 15-19 7 12 13 11-2 37 1-50 23 13 7 5 9"/>
<path class="b2" d="M1276 718l-5-10-1 16 4 14 8 15 6-8-15 11 10 16 8-1 37 28 7-2 0 5-5 5-8-1-16 33 137 7"/>
<path class="b3" d="M1261 722l10 2 37 4-35 8 29 37-22 9-20 0 21 25 59 17 24 10-58-5 0 16"/>
<path class="b4" d="M1291 729l-16 4 35 35 27 19-38 2 35 14 2 9-27-8-29 23 27-8 10-1 31 6"/>
<path class="b5" d="M1314 790l0 5 29 18-4-1-7-2-10 1-23 2-9 1-8-1 25 11 35 5-24 9"/>
<path class="b6" d="M1270 707l45 79-38 6 70 23-62-5 4 9 27 0 11 5"/>
<path class="b7" d="M1327 743l-34 6-4 27 12-5 20 4-7 15-10-9-26 10 36 2-5 14-14 7-13 7 33 15"/>
<path class="b8" d="M1268 720l70 69-27 13 13 3-16 9-21-7 50 20 31-6 9 8-41 1-2 1-30 10"/>
<path class="b9" d="M1268 770l24 2 20 19-16-2-9 3 7 4 19-2 42 19-12-4-40 11 51 6 26 4-23 5-53-7 23 17 5 14"/>
<path class="b10" d="M1320 777l19 20-10 18-29 3 20-2 16 8 10 2 44-3-16 24-48 12-2-5"/>
<path class="b11" d="M1330 813l-17-2-33-7 72 13-52 14 68 32"/>
<path class="b12" d="M1294 760l30 31 25 17-21-2-4 3 6 8 6 3 56 15-42-2-31 9 95 2 67 5 3 8-42 1"/>
<path class="b13" d="M1345 811l-49 4 5 3 53 4-9 13-34 0 52 15 1 0 36-10 106 11 0 7-150 2 5 7"/>
<path class="b14" d="M1311 814l75 11 6 12-7 2-17-8-66 8 20 9 62-3 23 3 37 5-31 9-83-2-8-3"/>
<path class="b15" d="M1306 796l30 7-17 10 33 5 12 8 10 1 11 1-59 19 83 2-59 10"/>
<path class="b16" d="M1340 814l-28-3 76 16-9 1-31 5-16 0-28 8 93 4 7 0 14 4"/>
<path class="b17" d="M1352 811l-10-6 51 16-27 10-7-1-8-1-5 13 32-2 8 4"/>
<path class="b18" d="M1313 763l-19 42 16 15 3 1 40 10-49 19 17-7 42 4 57-4-8 18-19-5 4 8 13 1 0 8"/>
<path class="b19" d="M1335 787l3 34 83 7-30 10-12-9-50 22 110 5-70 11 73 8 96-7"/>
<path class="b20" d="M1392 831l-7 4-2 3-61 1 18 12 3-10 171 16-43 0-75 0-41 0 74 10 79-3"/>
<path class="b21" d="M1398 837l-82 8 0 2 51-7 8 8 29-5 93 11-41 7-67 3"/>
<path class="b22" d="M1364 826l35 5-33 16 63 14 4 7 34-1 3 0"/>
<path class="b23" d="M1332 823l25-7 6 3 23 14-5 0-3 3-14 10 125 0 114 16-58-5-28-2-68 6-21-2-14 0-39 2-6 1 45 6 84 3 28-3"/>
<path class="b24" d="M1307 825l54 3 24 17 81 6 32-2-37 14-29-4-56 4 10 3 43 2 31-3"/>
<path class="b25" d="M1389 839l-10-6-9 0-15 16 12-7 74 3 102 14-21-7-21 2-141 1 42 14 61-4 87 3-147 12"/>
<path class="b26" d="M1344 823l25-4-1 30 64-6 9 2 2 6 5-5 82 14-135-3-2 6 19 13"/>
<path class="b27" d="M1309 841l93 4 17 3 35-8-59 16 31 8 14 5 8-4 57 3 55 0"/>
<path class="b28" d="M1400 836l2 9 68-2 62 16-14-7-5 10-2 1-15-5-35 0-9 1-37-3-28 0 9 10 148 8 65-5"/>
<path class="b29" d="M1435 839l-47 12 108 0 16 9-29 1-32-9-5 4-60-1-1-1 7 18 8-8 18 3 67 5 12-5 65 0 29 3"/>
<path class="b30" d="M1515 863l-16-8-23 7-37-4-43-6-5 5-45-3 54 16 84 0 63 1-78 5"/>
<path class="b31" d="M1411 840l75 17-17 2-7 0-26 4-2-10-26 10-15-1 47 2 29 5 9-1 33 0 27-2"/>
<path class="b31" d="M1560 860l-34 3-24-4-1 4-20-3-1-1-6 4-20-5-59 4-30-2 32 7 36 4 5-5 14 0 139 4"/>
<path class="b30" d="M1457 842l123 15-72 6-12-8-35 3-38 4-33-6 37 13 17 1 7-2 22-1 2 0 14 6 23-2 18-6 27 8"/>
<path class="b29" d="M1382 825l-22 22 73 3 26-2 108 9-34 3-16-8-23 1-19 1-2 5-40 0-6-7-7 1-25 2 36 14 28-4 18 3 25-3 25 5 6-5 3 6"/>
<path class="b28" d="M1354 850l43-9 44 4 54 17-29-3-23 1-12-1-11 1-8-3-10 4-62 0-6-6 55 14 31 1 21-6 25 8 2-8 2 0 0 4 8 0 11-2 165 8-134 3"/>
<path class="b27" d="M1365 844l106 18-61-9-3 7 25 6 4 0"/>
<path class="b26" d="M1343 803l20 18 24 30 34-8 35 4 78 15-40-8-5 8-13-4 0 0-10 5-7-8-17-2-3 9-29 0-67 5 46-2 87 2 45 2"/>
<path class="b25" d="M1499 862l-73-7-73 12 78-1 48-2 55 4 39 2"/>
<path class="b24" d="M1340 835l22 10 20-1 26 2 20 4 84 3-22 6-48 1-9-4-1 3-9-4-2 7-38 0 23 4 4 2 62 0 28 8"/>
<path class="b23" d="M1393 839l-39-9-27 14 47-3 19 6 77 6 0 9-5-6-31 5-40-2-17 3-7 4 12 0 43-2 36 3"/>
<path class="b22" d="M1345 823l12-5 0 7 26 8-27 18 19-1 151 10-71-1 0 4-4-1-102-3 13 6 5 3 69-2"/>
<path class="b21" d="M1334 808l-1 11 8 7 92 11-42-6-62 6 49 3 3 8 33 1 31-2 42 16-62 0-20-11-17 9-24-3-13-5-6 1 82 15 62-5"/>
<path class="b20" d="M1340 826l50-1 19-8-68 15-6 17 9-9 17 9 69-2 26-3 42 14-29 2-92-8 90 13 27 0 35 3"/>
<path class="b19" d="M1381 810l-16 16 35 7-13 6-36 9 10 1 6-7 29 8 14-3 4 16-49-1-13-4 40 8-12 13"/>
<path class="b18" d="M1310 823l94 16-31-1-41 9 15-4 24 8 29-5 22 3 110 8-2 1-61 4-21-6-42-4-10 11-15-6-22 4-2 5 41 1"/>
<path class="b17" d="M1415 834l-76-6-35 4 22 16 4 1 37 2 20-6 6 2 19 2 3 13-61-6-32-4 90 13 4-1"/>
<path class="b16" d="M1339 809l1 11 48 4 19 13-19 2-2-5-61 3 35 8 11 2 29 0 3 1 2-1 69 2-71 10-4 2-38 1-3 0-41-10"/>
<path class="b15" d="M1313 821l48 4-32 3-16 12 78 6 4 4 6 0 19-4 138 12-100 4-45-9-28 9-8 4"/>
<path class="b14" d="M1386 811l-75 0-16 15 18-5 40 4 7-6 15 12-10 5-12-1-20-6-16 3-16 3-5 15 47 1 3-6 5 1 51-4 2 7 13 3-12 2-2 4-29-3"/>
<path class="b13" d="M1329 789l-1 0-32 22-9 5 64 4 37 19-55-9 166 15-152 16-22-9"/>
<path class="b12" d="M1372 811l-84-4 71 18-4 12-40-3-26-1 32 8 16 9 7-2 1 2 52-2-10 4"/>
<path class="b11" d="M1338 780l-20 17 14 0 13-3-31 20-13-7-9 15 40-2 19 6 6 0 6-3-41 16-13-9-1 2-13-2 70 11 12 8 20-4 19 9"/>
<path class="b10" d="M1312 791l0 9 30 13-35 14 0-10 30 4 5-5 29 13-11 8-17-5-23 1 149 26-47-1-69-2"/>
<path class="b9" d="M1356 758l-22 54-44-5 7 10 32 7 42 0-29 8-15-2-7 0 1 12"/>
<path class="b8" d="M1304 791l0-11-9 20 26-4 7 0-25 16 17 11 23-6-7 13-24 11 11 4 3 3 42 3-27 6-32 3"/>
<path class="b7" d="M1309 754l10 6 0 31-27 6 73 8-41 10-27-6-15 1 43 6 21 5 22 3 44 6-43 7-33 2-41-11 27 20 19-7"/>
<path class="b6" d="M1324 726l-25 19-21 18 1 9 19 12-23 8 17 6 44 17-41 0 0 8 4 2 9-3 50 15-60 10 22-4 92-3 25 9-60 6-3 3"/>
<path class="b5" d="M1271 726l33 17-26 4 0-2 23 19-23 1-2 14 23-6 5-1 2 12-10 5-10-9-10 15 7 6 34-1-3 5-6 4-2 1-2-3-3 3-6 1-5 6 0 3 27 1 6 2 9 3 4-8 16 20-2-3-39 4 67 7"/>
<path class="b4" d="M1280 753l39 1-7 4-13 7-10 13 4-9 4 0 0 7 1 10-18-5-3 4 47 14-28 7-10-1-3-1 19 18 2 0 17-3 48 14-53 0-6 5-19 2 76 23"/>
<path class="b3" d="M1268 764l14 10 4-5 16 10 31-5-24 14-5 3-31 0 14 3 2 6 39-7-9 11-19 3-1 5 0 3-18 6 34 3-2 7-5 16"/>
<path class="b2" d="M1276 706l14 58-3-4 8 38 0-1 13 3 17 14-17-2-16 6 11 4 28 1-28 8-6-1"/>
<path class="b1" d="M1304 706l-17 36-16-8 3 12 3 4 7 5 8-8 6 11-2 7-19-9-1 19 26 9-11-4-12 5 12 14 38 4 0 10-63-6 29 11 1 0 38 7-47 8"/>
<path class="b0" d="M1286 726l-10 25 10-5 14 20 17 23-23-1-14-5-5 10 1 8 26 1 24-4"/>
<path class="b0" d="M1296 714l-7 0-6 35 26 1 3 17-36 3 20 21-30-8 52 19-18 8-8 0-15-4 10 18 4-6 18 4"/>
<path class="b1" d="M1282 729l-3 37-3 3 1 2 16 19-10 0 20 11 17-7-24 11-4 0 94 28-70 17 7 4"/>
<path class="b2" d="M1297 724l-12 8-13 11 13 1 4 3-5 13 1 19 1 0 2-7 1 29 7-7 2 3 2 4 16 9-18 13 19 2-28 4"/>
<path class="b3" d="M1271 715l-4 11 11 28 49 13-55-1 5 10 31 6 0 0-21 5-1 0 10 11 12-3 0-1 11 16-19 17 3-4 0-1 4-1 60 13-40 6 41 18"/>
<path class="b4" d="M1274 736l15 16 17 30-4 8-22-6 27 10-1 15 0 3-31-6 34 18 12 3 2 16"/>
<path class="b5" d="M1317 770l29-2 19 19-67 4-2-6-13 0 26 15 24-5 11-2 34 16-24-4-43 4-19 6 4 5 25 2 14-6 5 6-13 13-3 2-33-6 57 17 46-6"/>
<path class="b6" d="M1255 722l51 59-28 10 26 2 5 8 9-6 19 14-3 0-6 4 27 19-24 7-34-6 35 12 21 0"/>
<path class="b7" d="M1326 761l-34 17 13-9 14 6-18 14-28-8 28 21-16 7-5 8 12 5 17 2 20 1 3-8 13 18-2-5-10 8 17 6 70 10"/>
<path class="b8" d="M1300 772l6 16-1-6-7 2 1 14 16-2 51 13-38 5 0-5-21 3-2 0-13 5 37 7 10-2-9 10-11 3-4-4-14 7-6-10 72 30-3 7"/>
<path class="b9" d="M1279 709l11 81 7 35 2-7 8 7 13-9 5 3 9 6 5 2 19-3-8 4-10 9-7 0-10 7 11 7 4-5 22-5 9 5"/>
<path class="b10" d="M1301 779l-8 21 8-7 30 7-42 6 8 12 41 9 52-1-15 8-59-1 14 11 53 3 1 2 52 3-56 9-15-9-5 10 115 4"/>
<path class="b11" d="M1298 783l15 32 6 12 9-7 13 6 66 11-54-1-4-7-23 1-8 3 6 15 49-2 100 1-83 9-47-2"/>
<path class="b12" d="M1327 769l11 14-50 2 53 18 12 8-54 14 1-3 0-6 6 5 12 1 62 12-4-3-16 1-20 7-5-3 30 16 23 13"/>
<path class="b13" d="M1291 788l42 15 58 9-86-8 24 12 17 0 38 5 6 12-20 2-22-1-1 4-42-3 0-3 23 10 11 9 6-8 2 0 47 4 24-5 39 0-15 17-91-2"/>
<path class="b14" d="M1360 815l-10-9 13 19 53 13-35-9-21 3-4 7-7-3-9 2-1 3 8 7 2 3 9-9 29 5 22 1 3-6 28 16-10-3 7 17"/>
<path class="b15" d="M1342 812l43 18-11 5-12-6-7 1-22 18 83-8-41 20-11-7 55 13"/>
<path class="b16" d="M1335 797l80 17-72-3-10 13-9 16 4 4 63 6 14-7 6-1 35 18-4-5-13 0-67 2-2-3-12 1-3 2-1-4"/>
<path class="b17" d="M1310 818l3 7 6-5 8-3 95 10-20 11-34-4-35-6-13 15 17-1 4 4 13 0 22-3 19 2 15 4 36-4-66 14-9-5-14 10 46 2"/>
<path class="b18" d="M1283 763l129 71-66 15 10-1 7 3 16-7 11 5 33-3 62 14-37-7-26 2-71 2"/>
<path class="b19" d="M1328 811l4 7 38 20-20 1-2-4-4 4-14-5 1 8 20 9 7-1 1-3 5-7 14 7 17-5 4 2 18-3 23 6 35 10-54-1-15 1-27 6-12-6-18-5-23 2 81 12"/>
<path class="b20" d="M1314 817l70 21-28-6-15 6-5 7 25 4 46-4 114 12-26 5-61-5-16-3-27 2-3 2-20-6 18 16 21-3 18 0 13 2"/>
<path class="b21" d="M1363 812l-19 12 89 15-76 0 0 12 16-1 42-7 44 13-1-3-6 6-31-7-53 4-7-4-4 4 62 16 64-1 16-6"/>
<path class="b22" d="M1406 833l-63 4-14 12 20-9 19 11 18-3 18 2 120-1-47 8-14 2-29-5-12 3-2 3-6 1 0-4-32 3-24-6-27 8"/>
<path class="b23" d="M1395 830l-15 5-49 0 41 13 10-7 28 8 75 6-69-2-39 9-7-4-16 5 104 6 23-5 27 9"/>
<path class="b24" d="M1442 815l-93 26 8 2 8 0 84 6 26 14-38-3-54-4-3-1-2 5-19 1-6-8 28 11 12 0 20 8 97-7 21 0 43 2"/>
<path class="b25" d="M1365 837l-2 10 19 0 6-3 117 10-19 6-33-1-3-2-9-2-3 5 0-6-18 8-14-3-7-5-4-1-10 5 135 7"/>
<path class="b26" d="M1386 826l115 11-118-5 8 15 35-3 97 10-56-2-8 10-1-10-7 8-10 0-6 1-40-4-19-3-24-1 50 14 41-2 12 3 10-1 23-1"/>
<path class="b27" d="M1384 837l-38-8-19 5 61 13 25 2 0-6 106 19-85-6-1-2-12 4-30-5-57 10 160 4 38-2 13 0"/>
<path class="b28" d="M1428 839l-13-7-37 7-34 6 38 1 10 3 30 2 121 10-14-2-56 3-44-8-13-1-9 6-31-5-6 15"/>
<path class="b29" d="M1374 839l36 8 29-5 2 7 52 6-25 7-36-9-7-1-19 10-9-8-1 7-1 7 17-3 9-1 81 8 12-5"/>
<path class="b30" d="M1431 839l-93 5 24-4 68 6 142 17-26-10-6 9-80-8-3 5-39 2-15-1-3-3-55 6"/>
<path class="b31" d="M1345 826l49 12-19-1-38 12 220 11-64 0-5-2-11 4-22-7-78 7-27-6-9 8 30 2 33 2 18-4 10 4 59-3 1 2 9 4 51-1 54-5"/>
<path class="b31" d="M1352 831l-9 4 8 13 120 5-5 8-2-3-27 0-11 2-16 0-12-1 0 3-16 0 15 5 41-2 17 2 26 1 9-2 20 1"/>
<path class="b30" d="M1382 837l54 13 33-1 55 12-64-2-26 2-4-6-10 1 0 0-25 0-7-2-21 2-18 2-5-1 70 8 18 7 15-8 9 6 22-3 30 0 24 1"/>
<path class="b29" d="M1393 849l42-5 25 3 66 5-17 4-27-2-29 1-10 8-26-1-19 0-12-1-9-4-30-2-17 0 70 14 80 0 19 0 58 3"/>
<path class="b28" d="M1397 834l-5 15 45 1 1-7 8 8 103 2 0 6-45 0-13 2-13-3-7 0-30 3-15-9-25 10-19-7-4 1-4-4-3 4 0 0-8-1-21 5 121 4 34 3"/>
<path class="b27" d="M1389 837l-49 7 175 18-13-4-21 1 0 0-7-1 0 3-33 2-37-1-31-5 30 17 39-9 26-1 3 4 16-3 33 3"/>
<path class="b26" d="M1363 836l-45 13 53-5 42 6 10-4 59 12-10-3-4 8-3-4-17-6-16 6-29-5-1 8-4-2-27-6-5 2-1-3-28 10 76 8 43-6 166 7"/>
<path class="b25" d="M1381 828l-25 20 6-4 15 3 0 1 14-8 101 8 5 10-55 1-5-4 0 2-10-5-1 4-10 4-23-7-27 0 38 12 85 9 180-9"/>
<path class="b24" d="M1390 811l41 25-46-6-45 16 14-2 45-2 49 1 6 3-32 11-5 1-3 2-9-3-19 6-60-1 77 5 2-2 27 6 8 4"/>
<path class="b23" d="M1366 820l-26 29 59-7 6 5 5-6 8 4 5 1 95 4 44 10-26 2-30 1-58-3-2 3-10-7-16 5-7-5-4-1-33 5 30 4 16 8 13-5 19-1 90 6"/>
<path class="b22" d="M1300 834l23 10 4-2 30 4 21-5 5 9 15-1 27 0 52 7-12-4-9 5-42-5-2 2-1 3-28-2-3 8-12-10-21 3"/>
<path class="b21" d="M1420 811l-95 14 92 6-70 7-5 0-6-1-18 11 15-6 16-2 2 3 10 6 9 0 10 0 10-1 9 3 26-9 13 8-13 8-1 2-6-3-10 1-6-3-36-2-12 0 122 12 6-1 35 3"/>
<path class="b20" d="M1315 811l-5 16 56-5 20 15-12-2-32 1-2-4 32 9 2 7 5-7 2 10 21-8 40-3 30 13-33-1-30 6-25 1-41 5 120 8"/>
<path class="b19" d="M1351 808l-31 8 21 7 9 16-38 5 20 6 2-7 4-3 10 11 23-10 37-1 71 17-82-1-16-4-15 2-4 5 124 7"/>
<path class="b18" d="M1337 795l-34 32 87-7-19 15-23-1-10-5 2 17 4 0 12-4 14 1 9 2 18 4 32-8 14 3 39 16-91 0-7-8-2 2-34 5"/>
<path class="b17" d="M1316 815l15 3 22 9 32 0 34 6-43 3-28 10 5 4 33-1 30-6-5 12-5-1-34 0-4 0-33 3 113 8"/>
<path class="b16" d="M1318 813l51 13 39 1 8-2-42 6-39 7-15-8-12 12 34 6 11-7 15 1 5 2 14 6 7 1 55 10-6-5-41-4-9 7-3-2-3 3-4 0-2-5-9 0-14 6-25-8 85 11"/>
<path class="b15" d="M1357 804l-17 18 3 4 20 9-15-1-18 5-8-3-10-6 58 19 1-7 51 11-43 5-1-6-11 1"/>
<path class="b14" d="M1326 792l10 13-16 6-1 12 18-2 10 6 51 9-30-8-5 6-17 4-2 1-13-6-3 3 0 0-10 12 0-2 37-2 4 7 14-7 5-3 6 9 12-1-20 6-32-1"/>
<path class="b13" d="M1328 803l60-7-47 12-20 4 4 8 4 0 22 7 18 0-23 3-10-2-21 0 15 12 64 7 13-1-28 10-23-2-1-2-24 2-14 0"/>
<path class="b12" d="M1339 792l-21 16 0 15 86 14-43 1-14-2-23-1 0-2-19 0 10 14 15 4 12-4 18-7 13 5 54 12-54-5"/>
<path class="b11" d="M1324 797l18 14-1-5-60 14 41 6 7-3 32 1 5-6 14 6-18 10-4 0-8 3-1 0-9 0-2-5-10 0-12 4 46 6 77 10 0 10-36-2-9-8-40 8-40 0-4-8"/>
<path class="b10" d="M1318 784l-16-1 30 20 0-2 16-7 6 7 1-2-19 8-25-2-5 8 32 9 5-4 6-2 4 5 8 13-12-4-17 4-8-5-19 2-4 2 2 7 51 3 14 1 28-4-8 33"/>
<path class="b9" d="M1298 773l34 12 34 30-32-5-32-1-4-4 15 12 13 5 74 17-38-7-34 6-5-8 93 14 4 5-107 5"/>
<path class="b8" d="M1277 729l34 45 46 34-5 2-10-1-17 4 0-7-22 9 18 5 32 1 0 6 83 4-53-1-71-2 7 18 4 1 6-5 12 1 62 5"/>
<path class="b7" d="M1309 758l-12 6-8 5 33 4-37 12 41 18-20 12-13 2 32 10 18 0 64-1-40 4-63 18 22-4 45-1"/>
<path class="b6" d="M1273 719l37 15-8-2 4 41-15 12 17 11 35 5 20-5-6 12-34 0-3 0-3 6-16-7 0 6 50 24-13-8-9 2-31 2 13 10 39-3 10 4 9-3-31 18"/>
<path class="b5" d="M1303 755l36 34-56 10 3-2 15-2 0-1 18-2 53 18-57 1-15 4-4-5 13 15 13-7 41-1-38 14-23 0 16 18 23-7 17 5"/>
<path class="b4" d="M1289 712l5 20-3 22 33 19-26 14-9 2 8 11 2 3 2-2 3-8 13 1-9 14-20-4 7 22 19 1 1-5 4 4 17-8 63 21-65-11-31 1 30 17 60 6"/>
<path class="b3" d="M1283 730l12 1-15 24 10 12-14-7-12 4 46 19-3 2-33-5-5 1 29 17 10 4 22-1-20 13-5-8 7 19 5-9 10 2-3 16-7-5-20-1 11 13 27 1"/>
<path class="b2" d="M1274 738l2 25 16 9 18 15-16 3-15-10 9 13 2 1 9 2 19 7 13 4-32 1-17 2 13 6 31 11 30 2-9 3"/>
<path class="b1" d="M1275 704l-18 19 11 5 13 17 20 22-11-2-5 4 5 9 2 1 3-11-4 20-6 2 28 4 18 7 5 2-43 10-26-5 20 12 26 2 19-3"/>
<path class="b0" d="M1284 706l6 4-30-1-1 6 17 10-3 21 28 17-20 4-11-11-1 22 5 20 7-1 12 13-8 13 20-1"/></g>
<g clip-path="url(#c32)"><path class="b0" d="M1459 1003l-62 34 40 16-56 14 88 2-51 7-53 11 90 3 28-10 44 14-28 4-26 2-55-1-4-3-6-3-20 3 18 14-18 9"/>
<path class="b1" d="M1433 1001l23 46-31 3-32 7 45-1 28 6 14 14-50-7-48 12 79 1 24 4-125 17-5-1 15 13 72-2 27-9 22 10-125 15"/>
<path class="b2" d="M1450 1003l113 27-121-9 48 20-37 7-33 8 106 7 30-7-92 19-55-6-67 0 48 21 161 7-64 3-34 3-30-5-7 5-19 0-19-7-31 10 54 2 11 3 113 4-41 6-70-2 45 9"/>
<path class="b3" d="M1470 1019l-38 15-47 22 51 6 34 1-100 27 31-6 13 5 35-2 10 12-27-3-57 4 34 11 17 4 28 7-65-2-13 5 15 5"/>
<path class="b4" d="M1413 1003l-38 8 104-2-16 20-107 14 18-1 167-10-175 18 7 37 83-3 21-3 29 20-22 1-71-9-52 15 71 10-7 3-47 2 77 14 81-8"/>
<path class="b5" d="M1457 1044l-4 17 21 0-9 15-18-7-19 18 15-1 21-5 102 21-120-10-50 1 0 13 20-1 4-1 35 9 42-6 13-1-112 14-45 0 32 23"/>
<path class="b6" d="M1534 1028l-73 32-22 30 28-1-54 4 3 19 0-2 49-5-95 11 112 21 19-3"/>
<path class="b7" d="M1500 1076l-67-4-1 14 32-5-88 20 10 13 59-6 35-1 23 5-7 9-14-2-36-1-106 9 6 12"/>
<path class="b8" d="M1495 1070l-96 24-5-1 28 12 76 9 2 3-11 2-63-1-55 1"/>
<path class="b9" d="M1472 1102l-96 4 21 3 82-1 54 15-17-4-30 0-30 2-18 3-102 3 81 2 35 9-8 14"/>
<path class="b10" d="M1491 1075l3 16-88 17 56-1-114 15-23-3 155 12-118 19"/>
<path class="b11" d="M1445 1087l4 7-27 7-77 14 40-6 94 4 42 9-40-3-28 4-69 13 27-4 33 3 33-5 111 7-30 11-35 0-19-4-43-3-33 18"/>
<path class="b12" d="M1366 1056l43 24 15 9 31 14-12 4 117-3-67 17-107 3-16 5 36 8 61-6 30 5 44 2-67 3 18 11"/>
<path class="b13" d="M1437 1092l-6 20 57-3 44 2 40 1-42 12-33-6-82 8 0-10-55 10 84 11 71-3 24 4-103 4-35-2-24 7 95 24"/>
<path class="b14" d="M1338 1103l90 17-27 15 13-7 39 10 73 11-17 1-26-10-102 2-38 9-12 1"/>
<path class="b15" d="M1416 1100l73 14 51 13-84-1-75-6 134 15 19 12-71 0-127-2 16 8 72 14"/>
<path class="b16" d="M1460 1114l10-8-39 25 5-1 3 13"/>
<path class="b17" d="M1437 1127l-27-4-8 0-8 2-35 7 4-2 41 5 122 13-38 0 14 12"/>
<path class="b18" d="M1456 1119l-89 1 17 19 21-2 25 4-27 1-44-2-3 10 131 3 11 7-70 9"/>
<path class="b19" d="M1374 1107l237 16-276 13 94 1 22-1 61-6 27 17-51 4-136 1 104 14"/>
<path class="b20" d="M1483 1104l80 16-104-1-60 6 111 8-23 14-139 15 146-10-45 13"/>
<path class="b21" d="M1330 1104l47 4 93 4-159 10 169 17 68-3 108 12-133-2-25-6-29 8-1-2-24 2-61-4-46 12 45 3 110-3 20 4-43 8"/>
<path class="b22" d="M1338 1139l-12 24 9-10 132 6"/>
<path class="b23" d="M1401 1126l-41 12 3 0 126-3 84-2-84 12-16 0-135 1 9 7 25 4 27 2 50-7-85 13"/>
<path class="b24" d="M1492 1121l-32 10 78 1 55 9-118 5-18 4-5-10-87 9-19 7 124-1 2 6 21-3 22-6"/>
<path class="b25" d="M1356 1129l197 14-10 1-22 5-75 0-97 7 170 10-40 3-136-4"/>
<path class="b26" d="M1503 1100l20 24-58-8-66 19 109 7-59 7-25-8 43 13 21 14-29-4-60 4-32-4"/>
<path class="b27" d="M1429 1130l66 16-14-6-107 19 105-6 27 7 20 2"/>
<path class="b28" d="M1479 1137l-7 14-2-4-31 4-63-1-76 10 159-1 4 2 34-2 3-1-5 7-148-1"/>
<path class="b29" d="M1621 1150l-244-6-9 6-17 5 136 2 25 2"/>
<path class="b30" d="M1419 1145l89 10 31 8 2-9-24 13-63 0"/>
<path class="b31" d="M1418 1144l-71 12 24 7 0-8 137-2 15 6 6-5 2 7-64 4-77 1-6 4"/>
<path class="b31" d="M1456 1134l83 10-220 12 155-1 8 5 7-5 77 4-166 7-13 0-54-1"/>
<path class="b30" d="M1371 1147l-1 12 43-6 33 9 27-4 59 3-78 3-3 3-6 0"/>
<path class="b29" d="M1414 1121l132 30-198 2 99 7 59-8 15 5-19 11-62-2"/>
<path class="b28" d="M1316 1131l33 4 142-1 16 17-88-3 18 12 32-3 1 6 6-8 101 0-132 19-52-3-19-4-1-1"/>
<path class="b27" d="M1533 1133l31 14-48 0-118 14 97-1 2-7-90 17-39-5"/>
<path class="b26" d="M1366 1128l18 11 58-5 118 14-8 1-139-6-9 7-33 1 31 12 23-5 98 1 64-5 4 6"/>
<path class="b25" d="M1403 1124l25 15 117-2-76 7-16-4-60 9-133 13 36 0 156-6"/>
<path class="b24" d="M1430 1137l39 5-102-1-49 22 27-5 113 3 36-2 92-2"/>
<path class="b23" d="M1540 1143l-112 0-61-2-29 10 109 12"/>
<path class="b22" d="M1473 1120l-68 17 60 2 58 7-17 0-26 5-121 2 114 0 15 8"/>
<path class="b21" d="M1385 1133l32 3 30-1 3-6 73 13-63-1-11 5-2-4"/>
<path class="b20" d="M1466 1127l-102-4-88-2 127 16 15-6 30 4 9 0 41 10-88-3-51 2 84 18 10-2 4 3 23-1 60 1 4 1-138 0"/>
<path class="b19" d="M1382 1130l13 0 70 6 17 1 0-5 95 19-115-8-17 3 0-2-70 13 24-3 4 5 66 0"/>
<path class="b18" d="M1435 1060l13 55 7 24-99 7-10-3"/>
<path class="b17" d="M1443 1102l84 23-18-1-56-7-19 6-9 1-88 15 102-9 32 3 12-1 9 7 0-7-115 18-30 1 39 10"/>
<path class="b16" d="M1360 1133l88 3 93 2-48 8-124 5-6-9 7 19 129-7 15 3 6-3"/>
<path class="b15" d="M1556 1103l-150 11 107 11-31-7-11 1-78-1-15 1-24 3 104 17 73-8-11 16-42 3-11-7-39 15"/>
<path class="b14" d="M1495 1067l-85 31 75 10 21 7 66-8-243 32 92-4 53 0 147-7-76 19-29 1-37-7-27 2-38 1-81-3"/>
<path class="b13" d="M1387 1082l75 3-47 27 56 12-77-8-24 11-18-9 76 17 30-5 3 7 61 2 21-8 20 18-45-8-202 3-6 21"/>
<path class="b12" d="M1481 1087l-79 17 0 8 105-2-64 27 8-8 4 3-45 14"/>
<path class="b11" d="M1407 1080l30 11 13-8 49 10-28-1-139 18 71 5 6 0 105 5-33-2-9 8-17-6-35 6-33-3-19 11 88 0 24 0 39 1-65 7-14 6-88 9"/>
<path class="b10" d="M1454 1080l-13 16-14 1-29-1-19 0-30 4 24 14 72-2-47 5 58 15 45 7-184 20 70-5"/>
<path class="b9" d="M1376 1006l-3 48 154 22-5-3-76-4-88 9 134 13-42 14 3 8-101 9-9 9 19 4 31-6 101 2 25 2-16 16-1-9-96 3-2 0"/>
<path class="b8" d="M1592 1061l-266 25 96-1-57 18 10 10 59-9 8 4 33 5 21-3 8 14-104 3-3-3-57-1-1-6 96 12 2 9 92 7-51-3-77 12"/>
<path class="b7" d="M1399 1057l111 17-150 3 24 8 71 6 19-2-31 9-14-3-86 3 33 14 47-4 23 4 40 8-78 1-11 11 221 6-296 10"/>
<path class="b6" d="M1416 1026l-38 4 24 52 59-1-35 17 0-3-68 5 20 5 34 0 10-1 2 5 44 5 43 8-131 6 13 8"/>
<path class="b5" d="M1485 1039l27 25-96 10-50 10 38-3 33 10-30 10-72-5 43 10 157 21-38-11-73 5-4 0-29 17-24 6"/>
<path class="b4" d="M1500 1025l29 36-147 14-20 20 10 13 80 7 5-11 17 2-42 15-20 1-33 1 97 18"/>
<path class="b3" d="M1496 1025l-134 10 19 7 21 9 151 28-5-2-47-9-66 7-27 4-23-1 17 7 47 6-11 3-38 5 44 9 96 9-8 3-14 4-120 2-1-3-4 8 71 3"/>
<path class="b2" d="M1484 1020l-133 20 61-5 60 14-15 18-59 1 143 26-45 0-78 6-1-7-25 5-35 13 65 1 9 10"/>
<path class="b1" d="M1546 1003l-169 0 41 5 51 18-32 17 6-2-37 5 41 16 20-1 33 3-65 10-42 3 11 3 55 10-34 8-63-1-51 2 127 7 46-2 25 17"/>
<path class="b0" d="M1455 1011l-81 26-8 18 24 4 1 7 178 12-154 0-36-2-2-6 115 23-26-1-104 6 34 16 2-8 26 1 36 34"/>
<path class="b0" d="M1415 1035l26 12-14 2-40 16 41-2 158-5-205 25 69 6-111 4 119 13 104 34"/>
<path class="b1" d="M1539 1043l-26 8-19 4-2-9-62 9-110 0 49 8 132-1-107 8-35 21 170-5-11 15-45-3-25 4-31-7 35 11 42 32-81 8"/>
<path class="b2" d="M1420 1005l73 10-103 44 19 0 70 19-33-2-36-5-30 4 37 12 69 12-28-5-19 9-21-7-7-1-10-1-14-2-9 2-4 8-17 2 15 2 103 13-10 5-6-5-40 7-16 0"/>
<path class="b3" d="M1588 1022l-53 3-51 1-15-6 7 13-34 18-12 5 68 6-23 10-41-3 33 31-7-2-60-3-2 8-10-11 45 23 15-9-47 16-6 10 66 7"/>
<path class="b4" d="M1353 1009l125 59-50 4-10-2-64 15 48 5 4-4 10 2 21 2 2-6 47 13-9 4-61-6 4 18 21 6-34 6-25 1-4-1"/>
<path class="b5" d="M1510 1023l-73 43-47 19 18 1 44 5 23 12-110 3 59 8 27-7 30 8-73 13"/>
<path class="b6" d="M1447 1041l28 28-1 3-9 5-103 2 93 18-24 1-7 2 4 9 63 14-77-3-41-2-27 7 103 13 13 1-130 3"/>
<path class="b7" d="M1405 1051l-20 16 86 2-65 20 78-1 8-1-100 17 87 7-56 15-2-10-19 16 193 2"/>
<path class="b8" d="M1460 1016l61 55-147 7 64 20-34-5-9 6-41 11 36 2 11 0 126 7-50 0-19 4-20 2-20 1-1-8-8 2-7-2-8 9-59-2 104 8 149 1-107 11-22 4"/>
<path class="b9" d="M1489 1089l15 3-37 6-7 5 7 3 126 7-42 12-48-8-19 5-21 5-27-6-15 3-19-4-68 0 39 11 0 1 38 2 54 1 48 10"/>
<path class="b10" d="M1403 1089l53-2-51 7-81 20 86-2 17-2-17 10-3 0-106-2 94 21 45-11 31 3 1-2-45 11-77 8 106 14 83-1"/>
<path class="b11" d="M1528 1086l11 7-69 1-26 18 3 8-22 2-13-6-65 3 40 9 17 10 1-8 15 3 30 0 52 15-118-3"/>
<path class="b12" d="M1391 1059l-4 29 85-6 30 30 21 13-140 12 23-5 1-3 30 2 118 3-139 8-18 7-65-9"/>
<path class="b13" d="M1426 1098l-63 2 62 4 35 4 82-1-112 15-52 5-56 12 41 0 6-6 6-1 81-3 0 10 81-8-85 25"/>
<path class="b14" d="M1409 1101l17 7 44 4 46 10-53 3-7 0-6 2-46-9-18 9-54 5 58 2 4 2 43 0 3-3 3-3 38-2 201 2-169 17-14-1-28-1-56-3-36 7-12 2-1-7 108 13"/>
<path class="b15" d="M1367 1111l146-3-30 14-55 3-33 2-44-2 26 10 20 3 105-3-13 8-41 7-84 4 159 2"/>
<path class="b16" d="M1463 1108l20 19-7-7-61 3-39 4 31 10 6-2 25-2 77 17-8-1-166-9-2 4-11 14 63-3"/>
<path class="b17" d="M1357 1086l20 28 69-2 23 4-18 5-33 14 29 1 105 6-60 5-8 3-68-6-67 4-17-8 49 16 45 1"/>
<path class="b18" d="M1465 1101l-23 10-36 11-33 12 17 0 95-3 58 2 8 15-55-7-121 2-10 4 167 9"/>
<path class="b19" d="M1561 1111l-98 8-29 8-83-8-1 10 45 6 74 2 22 1 76-10-75 14-21-2-123 1-40 7 59 5 4 1 29 8 27 9"/>
<path class="b20" d="M1380 1138l26-10 16 8 0-4 95-2 55 17-42-6-59 5-32-5-90 13 40 2 116 4 14-6 50 1"/>
<path class="b21" d="M1584 1118l-156 21 63-6 12 14-22 1-26 0-4 0-114 2 81 13 14-7 2 13"/>
<path class="b22" d="M1499 1122l-156 8 148 7-79 9-2-2-4 4-17 0-10-3-27 4-20-5-1 12 37-1 25-2 41 6 35 3 36-10-44 20"/>
<path class="b23" d="M1431 1116l-17 4-22 10 60 4-64 10-13 7 34 5 94 1 3 0-53 11-52-1"/>
<path class="b24" d="M1391 1126l49 13 175-9-134 12-53-2-52 14 21 9 1-7 85 6 27-4 17 7-76 1-45 2-15-3"/>
<path class="b25" d="M1485 1142l-87 3-33 3 26 10 21-3 3 10"/>
<path class="b26" d="M1449 1120l-111 17 116 10-97-1-30 15 46-7 7-1 37 3 22-1 26 5 5-3-108 10"/>
<path class="b27" d="M1490 1144l-160 14 28-4 36 8 121-5-144 13"/>
<path class="b28" d="M1421 1137l30-4 71 16-13-2-19 0-89 2-53 9 13-1 14 4 11-5 29-3 93 2 91 2-123 11-53-4"/>
<path class="b29" d="M1528 1135l-28 13-6 1-111 6 51 2 2 0 26 1 55 11-11-5-19 2-57 1"/>
<path class="b30" d="M1402 1136l74 0 1 6-83 6-33 15 32-7 40-1 31-3 26 1 54 4-25 11-45-1-55-3-81 1"/>
<path class="b31" d="M1369 1132l132 5 90 0-123 14-94 12 12-3 23 3 29 0 30-1 35 0-70 3-55 0"/>
<path class="b31" d="M1467 1148l-51-8-2 11-93-2 50 13 17-3 15-3 19 5 30-5 10 1 21-4 2 8 0-5 43-3-129 15-17-1"/>
<path class="b30" d="M1380 1133l21 5 34-6 77 18-83 0-35 1-8 0 4 9 10 3 10-2 26-4 9-5 26 5-65 10-10 2"/>
<path class="b29" d="M1485 1149l-36-3-41 0-4 2-7-1-34 0-78 12 38 0 21-5 3 7 2-3 49 5 7-2 28 1 60-5 29 1-53 7-15 4-15 4-55-6-37-3"/>
<path class="b28" d="M1483 1149l-20 1-6-8-55 5-53 14 34-7 26 7 1-7 5 3 10-3 60-2 9 11 6-10 25 7-37 6-59 1-10-3"/>
<path class="b27" d="M1357 1131l59 7 81-8-25 11-15 10-7-11-8 11-5-6-37 1-10 1 14 14 3 0 9-6 82 5-45 5-44 0"/>
<path class="b26" d="M1458 1122l-52 3-19 8 140 5 20 7-23 5-50-7-10 4-27-7-49 9-39 11 30-5 21-3 30 11 4-4 3 5"/>
<path class="b25" d="M1523 1123l22 28-4-1-19-5-47-1-7 3-62-4-13 3-3-2-23 16 1-7 46 9 89-10 17 3-140 10"/>
<path class="b24" d="M1396 1136l30-3 13-4 58 18-86-7-43 2-9 6 13 10 14 5 55-1 33 5-89 5"/>
<path class="b23" d="M1470 1109l-4 35-37 5-72 7 54 3 5 0 6 4 12-1 7-4 3 1 11 0 2-2"/>
<path class="b22" d="M1382 1121l130 9-31 12-100 4 0-4-17 9-24-3 66 8 17 2 37 2 55 5-142 0"/>
<path class="b21" d="M1445 1077l40 32 15-1-87 14-15 11 46 6 25 0 1-4 7 4 71 12-41-1-29-2-26 1-26-4-19 0-11 10 29 6"/>
<path class="b20" d="M1443 1107l79 6-95 12 3 12 65-2 14 2 15 3-84 9-15-5-43 7-53 11 34-7 31 7 13-8 2-1 35 2 6 3 8-4 14 2 46-1 29-2 30 8"/>
<path class="b19" d="M1360 1115l40-3 7 1 78 5-136 5 26 15 44-6 1 5 9-7 5 9 39-9 2 9 31-7 48 8-101 11-56-7-14 4 8 5 50 9 2-4 40-3 15 1 9 6"/>
<path class="b18" d="M1372 1092l157 26-68 3-82 18 39-9 32 4 64 14-32-6-33 0-16 5-21 3-12-4-12-3-3-3-12 10-3-5-10 14 18 3 6-5 55 2 3-2"/>
<path class="b17" d="M1375 1107l95 18-100-8-33 1-10 6 127 15 32 0 11 12-16-2-10-5-7 1-66 5-5-7-21-1-12 0 68 21 35-4"/>
<path class="b16" d="M1417 1072l53 29-16 6-20 17-43 0-48-3 11 11 36-4 17 10 9 1 156 12-87-3-84-4-7 2-1 0-43 7 25 4 119 1"/>
<path class="b15" d="M1516 1092l-43 17 8 14-99 9 20 0 37 5 39-6 17 1 20 2-58 10-29-4-26 5 84 13"/>
<path class="b14" d="M1422 1115l15-4 56 11-81-1-19-5-25 0 58 22 5-4 2-6 71 4 27 15-145-6-47 10 115 4 27 5-34 4"/>
<path class="b13" d="M1454 1084l41 2-93 6 34 15 46-3 12 8 63-1-85 9-22 4-5-8-18 7-12-5-26 6 42 7 11 4 18 16-18-4-67-4-12 14 78 6 63-9"/>
<path class="b12" d="M1474 1065l69 32-67 3-79 6 168 10-98 10-1-8-13 9-4 0-67 6 11 4 1-4 25 6 10-5 31-3-4 17-99-7-49 15 42-2 44 7 52-6"/>
<path class="b11" d="M1530 1079l-135 0 13 24 111 12 67 10-95-8-1 9-70-6-43-3 0 1-41 18 13 1 1 2 71-11 12 6 3 2 5-1 1 3 2-8-30 12-39 14"/>
<path class="b10" d="M1396 1073l145 29-94-5-73 10 8 0 15-3 9 0 22 10 106 12-76-1-54 1-27-3-38-3 37 18 42-3 11-5 4 8 27-7 26 14-39-4 39 17"/>
<path class="b9" d="M1332 1068l48 37 61 4 86 2-6 10-34 6-85-6-61 14 34 0 138-6 13 5-101 8 90 10"/>
<path class="b8" d="M1414 1026l13 52 21 10-7 12-63-3-4 8 208 15-135 6-31-8-16 9-9-10-47 9-31 5 102 2 136 3-86 15"/>
<path class="b7" d="M1473 1040l-72 21 14-4 56 7 41 13-10 1-102-6-21 8 45 21-11-7-11 5 6 7 69 6 43-7-89 20-29 1-6 1 16 12 20-2 59-2 9-2-27 11-88 3-43-2"/>
<path class="b6" d="M1482 1016l-69 60 51 21-96 18 9-5 14 2 70 13-42 1-10-6-21-1-21 18 57-4 1 0-26 9 67 13"/>
<path class="b5" d="M1395 1053l45 19 28 24-44-1-33 6-36-4 28 11 51 0 44-2 0 3 38-2-128 24 47 2 63 6"/>
<path class="b4" d="M1484 1055l-58-6-31 7 41 3-3 18-42-8-2 9-77 8 71-5 24 3 12-1 8-1 24 6-24 12-19-3 19 21-6 10 23 11 57-3 7 3"/>
<path class="b3" d="M1471 1006l-31 22-11 32 104 11-14 7-50-1-38 1-80 5 81 5 37-8-11 21-117 7 98 2 36 3 21 6-9 4-45-5-7 2-38 7-33-5-2 4-33-9 153 24-131-1-24 15"/>
<path class="b2" d="M1435 1020l-62 23 92-8-61 18 49 35-113 26 38-8 98 2-120 34"/>
<path class="b1" d="M1376 1019l36 19 39 27 46 2 9-6 3 4 18-4-49 9-10 0-39 9-31-3-2-6-55 11 48 0 78 8 10 9 43 17-101 2 5 11 31 2 39-1"/>
<path class="b0" d="M1410 1043l40 4-46 16 125-1-161 6-4 7-15-5 50 16 129-3 74 11-111 5-27 2-95-3 19 14 75-2 12 0 25 8-93 0-16 4"/>
<path class="b0" d="M1457 1007l13 14-63 1 80 24-68 0-7-1 52 16-103 11 43 12 75 18-23 1-113-9 45 16 27 17"/>
<path class="b1" d="M1489 1005l-97 19-23 7 24 10-24 12-2-8 186 27-99 7-14 0-8-5-40 12 86 4 15 0 29-4-80 13-56 3-101 5 211 5-22 6-15 11"/>
<path class="b2" d="M1634 998l-261 31 104 21-45 3-55-3 88 10-63 15 65 8 78 8-22 2-64 10-57-5 35 26 0-7-42 4-62-5 21 13 33 8"/>
<path class="b3" d="M1406 1012l58 20 27 31 11 2-71 33-17-5-12 11-24 33 69-7 67 1"/>
<path class="b4" d="M1513 1029l-95 14-8 8-69 13 105-7-5 22-19-6-52 8 49 9 72 9-42 0-38 2-53 8 113-2 20 13-71 3-61 12"/>
<path class="b5" d="M1430 1038l61 4 24 34-180-7 17 16 49 2 35 4 7-6 38 4 5 2 13 6-56-5-63 19 30-5 23 8 3-5 17-3 8 5-44 15-47-8 45 16 53 0 4 3 82-2"/>
<path class="b6" d="M1499 998l-31 20-37 41 23 9-118 16 83 4 80 0-90 7-27 8-39-10 8 11 24 7 18-5 29-2 22 8 9-6 47 18-121-5-12-1-40 9 37 7 17 3 21-8 61 1 106 14-182-4-15 2"/>
<path class="b7" d="M1353 1054l27 5 69 7 53-1 55 0-37 38 44 21-164-6 0 22-12 10"/>
<path class="b8" d="M1424 1076l-30 14 27-2 49 11-22 2-37 8 9 0 78 0-59 17-77-1-23 10 93-4 20-3 15 6 9-1-2 15-90-5-53 9 134 1"/>
<path class="b9" d="M1405 1066l3 13-6 8 3 15 125 14-105 10-14 0-54 11 21-6 68 6-54 13-23 2"/>
<path class="b10" d="M1474 1079l-59 11 26 7-119 16 84-5 39 4 15 3 11-1 42-4 61-5-95 21-30 0-2-1-10-2-95 3-32-2 64 15 9-2 14-9 36 4 36 3 22 2 42-8-77 11-31 3-3 9 69 17"/>
<path class="b11" d="M1484 1076l-97 26 10 8 117-3 39 1-34 18-88-3-21 3-10-4-28 0-21 4 48 5-34 15-60-3"/>
<path class="b12" d="M1407 1080l80 3-68 30 9-5-14 11-5 2-70 9 93 7 2-2 12-2 19 4 74-7 24 1 22 13-120 4-8-2-10 3-18-8-39 0"/>
<path class="b13" d="M1442 1099l37 13 45 14-95-6-68 0-6 16 147-5 18 3 18 1-164 13 13 14"/>
<path class="b14" d="M1386 1088l8 9 35 20-12 6-19-4-49 18 32-3 57-3 3 7 26-6 19 4 10-7 73 4-52 10-143-3-19 11-18-5 24 22"/>
<path class="b15" d="M1401 1101l19 21 18 15 36-4-11 10-34 2-77 5 60 4"/>
<path class="b16" d="M1497 1109l13 1-13 13-41 11 26 4 9 6-2 7-67-11-43 3-57 4 46 7 6 4 15-1 21 1 17-1 55 6 14 1"/>
<path class="b17" d="M1460 1114l67-4-61 13-72 16 4 0 12-4 34-7 3 9 90 5-31-1-66 4-12 1-5-4-20 8-10-6-11 7-12-10 33 11 136 8"/>
<path class="b18" d="M1503 1102l-153 36 2-1 61-1 3-1 21-2 4 6 18-4 40-1 9-3 61 13-131 5-14-7-7-2-1 0-31 7-29-6-1 8-20-2 25 12 13-2 10-1 37-3 14 5 2-3 37-3 13 1"/>
<path class="b19" d="M1360 1083l221 24-217 28 6 1 26-8 12 5 11 1 110 5 30 9-69-1-6-2-50-5 0 3-2 0-5 7-25-10-72 13 41 10 68-10 8 6 1-3 102-4-71 23-111-11"/>
<path class="b20" d="M1547 1110l-78 12-106 17 18-10 4 5 26-6 15 0 56 11 61 10-53 0-38-6-2 3-23 1-86-7 4 12 46 9 26-8 57 0 7 15-103 0"/>
<path class="b21" d="M1458 1116l-48 22 8-3 5 1 16-8 11 4 19-4 27 6 2 9-2 6-7 0-72-4-58 15 61 0 59 0 3-3 16-4 14 2"/>
<path class="b22" d="M1421 1115l38 21 13-3 160 10-154 3-25-3-28 6-38 2-1-1-19 7 71 5-47 2-23 0"/>
<path class="b23" d="M1504 1089l-24 23 17 3-57 4-20 10 26 9 95 8-27 4-39-4-45 1-32-7-56 23 54-3 32-7 5 6 26-6 38 11-60 0"/>
<path class="b24" d="M1413 1108l78 3-68 28 45-2 210 5-144 8-43-7-54 2-17-3-32-1-27 0 10 22 5 0 14-11 14 4 29-3 8 2 7 4 7-7 27 1 1 5 6 1-74 5-1 4-14 4-32 0"/>
<path class="b25" d="M1389 1133l19-4 61 18-27-6-10-1-8 11-13-2-11 1-25-4-17-1-32 5 77 4 33 7 19-3 6-3 14 8 8-8 59 6-136 9-46-5-27 0 117 11"/>
<path class="b26" d="M1456 1132l65 12-89-3-16 8-20-7-3-2-10 11-69-2 3 6 5 7 56-10 96 10 8-7 83 5-133 4"/>
<path class="b27" d="M1501 1137l-91 7-5-4-27 1-45 18 52-1 32 2 5-2 32-4 7 7 25 2 8-4 2 0-52 6-53 10"/>
<path class="b28" d="M1410 1129l111 20-27-4-19 4-16-2-72 1-7 2-16 3 9 8 23-9 5 4 0 7 0-8 22-2 0 4 7-1 11-2 2 8 2-5 2-5-2 18"/>
<path class="b29" d="M1483 1123l-57 13 100 2-72 6-20 6-2-10-18 11-42-1-56 6 55 3 26-3 55 6 16-10 2 4 54-3 7 8-65 3-24 4-29-4-20 1-6-1-6 0"/>
<path class="b30" d="M1340 1136l126 15-71 4 11-2 2 6 18-4 6 5 8-2 1 0 25-1 21-2 5 5 25-6-55 21-11-8-14 2-18 1-31-6-13 9-19-6"/>
<path class="b31" d="M1513 1127l-99 12 79-6-22 18-45-1-8-6-64 3 50 7 11 6 13 3 6-7 30 0 1 0 5 3 6 1 27-6-15 11-60-1-31 0-15 1"/>
<path class="b31" d="M1393 1122l-31 1 134 8 4 19-69-5-50 16 10-3 3 1 11-7 11 11 12-1 2-4 9-5 16 2 26 4 33 3-150 10"/>
<path class="b30" d="M1557 1129l-96 16-11 6-27-6-28-1-35-3 7 18 18-5 43 3 20-2 28-3 10 1 15 10 58 7-86 0-31-5"/>
<path class="b29" d="M1462 1125l-54 8 73 10-19 7-20-2-18-3-3 2-12 1-1 3-11 0-48 0-11-7 15 14 59-2 15-3 9 2 9-2 4 8 16-3 120-6-93 14-116 3"/>
<path class="b28" d="M1418 1139l48 0 64 4-37 8-29-9-7 0-4 1-88 16 9-1 5 3 13-2 28-3 11-2 15 1 8 3 6-2 47 2-50 7-12 7-1-8-34 4-35-2"/>
<path class="b27" d="M1432 1137l107 4-28 10-11-6-54 4-32 1-29-2-52 15 46-5 14-2 13-2 11 8 60-7 21 7 16 0 1-8-120 10-7 0"/>
<path class="b26" d="M1407 1118l-20 16 162 16-72 1-39-10-8 8 0-9-34 10-46-8-51 19 17 2 49-5 28 3 12-3 21 5 3-3 2-8 6 1 21 6 28 4 24-4 2-7 7 4-44 16-10-6"/>
<path class="b25" d="M1448 1135l59 8-50 7-6-4-4-1-21 5-12-1-4-9-57 17 69-1 9-3 11-1 13 2 2 7 0-3 4-6 6 1 19 9 14 1-52 6"/>
<path class="b24" d="M1394 1138l-19 6-14 7-17 10 48-2 21 0 7-1 19-1 0-4 26 7 27 4-84 1-1 3"/>
<path class="b23" d="M1460 1121l5 16 45 8-137 0-34-4-13 15 2 2 65-6 19 3 6 2 52-2 6 2 13 3 15-1 24-7-28 18-171-6"/>
<path class="b22" d="M1427 1122l-31 16 10-1 20-7 49-2 128 20-151 1-10-4-7-1-4 3-11 1-12-8 0 8-26 3-17-1-11 8 1 4 21 1 12-8 9 4 14-5 64 5 38-4-140 11"/>
<path class="b21" d="M1404 1101l64 16-6 4-56 4-8-4-55 15 12 3 43-5 88 2 77-3-84 11-20 0-9-1-38 3 7 6 5 5 22 0 5 3 0-7 27 5 1-2 46 9-103 3-80 0"/>
<path class="b20" d="M1375 1113l105 10-42-5-38 20 0-10 8 3 48 4 159 13-51-6-70 3-28 5-35-1-16 2-8-1-11-2 9 5 76 0 34 1"/>
<path class="b19" d="M1418 1105l37 21-11 0-68-1-19-3 135 14-51 15-28-9-13 8-20-3-16 0 138 12 11-6-77 11"/>
<path class="b18" d="M1479 1059l31 58-65 0-2 8-7-9-67 16 19 3 85 3 2-2 12 5-3 8-47-8-4 10 0-5-1 1-25-5-10 0-6 9-35-2 22 11 12 3 4-7 18 6 11-8"/>
<path class="b17" d="M1404 1088l43 27 36 12-75 12 54-10 6 9 66 10-48 3-15-1-27-9 18 15 10 5"/>
<path class="b16" d="M1462 1094l-113 18 33-2 119-3 9 17-19-7-50 9-71-5 53 16 53-7 7 8 12 4-40 3-13-3-8 1-15 6-5-7-21 9-24-3-3-7-5 11 49 0 20 3 33 3 0 1 32-3 9 0"/>
<path class="b15" d="M1553 1093l-133 21 89 4-113 5-1 2 57 7 66 12-38 2-14-4-16 1-14 4-13 2-32-5-32 1 10 10 48 5"/>
<path class="b14" d="M1453 1099l-9-4-24-3-33 15 106 3 39 9-114 2-29 1-7 12 34-5 13 4 14-2 54 4 10-2 31 0-37 11-12 7-43-4-26 3-4-4-11-1-23 4-8-8 55 15 6-3"/>
<path class="b13" d="M1469 1101l3 14 168-11-192 20-3-1-13 4-22-4-46 15 51-9 9 7 25-5 41 8-58 8-18 3 48 5"/>
<path class="b12" d="M1448 1050l-45 25 48 27-52 3 12 9 86-7 7 12-9-1-123 11 42 2 4 8 5-9 97 5 2-6 38 19-135-4-1 2-4-2-18 0 0 2-22-2-13-2-60 10 151 2"/>
<path class="b11" d="M1462 1107l174 12-48 8-96-11-15 0-30 7-7-5-29 16 3-2 16 6 33-5 5-2 73-2-60 21-9-10-10 9-18-7-7 8-48 2 72 4"/>
<path class="b10" d="M1555 1060l-103 15-65 11 57 15-58 12 99 1-153 14 60 5 12-5 23 6 48-5 21 13-42 4-82 0"/>
<path class="b9" d="M1463 1051l42 18-67 11 25 5 34-4 12 6-122 18 22 7 48 2 2 0 7-3-68 9-5 0-14 6 174 14-15 2-37 0-84 8-9-9-29 1"/>
<path class="b8" d="M1411 1051l15 17 0 13 20 4-24 8 31 17 10-3 8-1 5-1 16 5 77 15-115 2-56-9-8 20 77-8-26 14-73 9 25 4"/>
<path class="b7" d="M1343 1045l19 27 102 17 54-5-190 31 79-4 1 2 136 1-40 10-41-2-32-3-5 3-99-2 56 17 93 10"/>
<path class="b6" d="M1462 1004l-10 18 22 28-51 32 29 6 49 4-90 15 8 16-102 13 88-3 99 10-66-3-17 5-8 1-61-4-4-1"/>
<path class="b5" d="M1406 1051l48 17-12 13 57 11-12 5-80 1-98 1 106 9 9 2 13-1 21 1 71 3-36 5-31-2-21 11-8-7-52 7-71-9 44 21 77 0 7-8 4 0 42-3-33 16"/>
<path class="b4" d="M1467 1050l-64-3 16 19 86 0-25 6-89 10 50-1 117 21-139 0-59 12 35-5 61 5 32-1 21 9-13-6-72 10-56 33"/>
<path class="b3" d="M1407 1061l76 12-1 4-22-6-4 7-77-3 13 15 30 0 41-9-35 15-10 7-11 8 56-1 52 0-88 16 49 4 11 8 14 3-108 3"/>
<path class="b2" d="M1363 1034l117 5 39-3-30 24-85 20 39 10-97 6 60 9 26 8 41-9 30 5-68 26-31 12"/>
<path class="b1" d="M1457 1000l6 23-31 3 32 23-77-2 77 18-105 6 24 14 48 6 47 3-30 6-54-1-9 10 18 1"/>
<path class="b0" d="M1437 1005l-44 5 66 0-80 18 20 15 139 8-31 4 18 20-88-1-3 5-19-3-9 3-19 0-35 6 68-2 37-1-54 32 56-8 18 15-7-5-21 5-44-3-60-1"/></g>
<g class="ax"><rect x="97.40" y="99.20" width="474.60" height="202.60"/><rect x="97.40" y="395.30" width="474.60" height="202.60"/><rect x="97.40" y="691.40" width="474.60" height="202.60"/><rect x="97.40" y="987.80" width="474.60" height="202.40"/><rect x="665.70" y="99.20" width="474.30" height="202.60"/><rect x="665.70" y="395.30" width="474.30" height="202.60"/><rect x="665.70" y="691.40" width="474.30" height="202.60"/><rect x="665.70" y="987.80" width="474.30" height="202.40"/><rect x="1233.70" y="99.20" width="474.30" height="202.60"/><rect x="1233.70" y="395.30" width="474.30" height="202.60"/><rect x="1233.70" y="691.40" width="474.30" height="202.60"/><rect x="1233.70" y="987.80" width="474.30" height="202.40"/></g>
<g class="cb"><rect x="160.30" y="41.30" width="348.70" height="13.60" fill="url(#gg)"/><rect x="160.30" y="1264.25" width="348.70" height="12.60" fill="url(#gv)"/><rect x="736.10" y="41.30" width="348.65" height="13.60" fill="url(#gg)"/><rect x="736.10" y="1264.25" width="348.65" height="12.60" fill="url(#gv)"/><rect x="1329.00" y="41.30" width="348.60" height="13.60" fill="url(#gg)"/><rect x="1329.00" y="1264.25" width="348.60" height="12.60" fill="url(#gv)"/></g>
<path class="tk" d="M129.90 301.80v7.30M214.80 301.80v7.30M299.70 301.80v7.30M384.60 301.80v7.30M469.50 301.80v7.30M554.40 301.80v7.30M97.40 228.30h-7.30M97.40 153.10h-7.30M129.90 597.90v7.30M214.80 597.90v7.30M299.70 597.90v7.30M384.60 597.90v7.30M469.50 597.90v7.30M554.40 597.90v7.30M97.40 524.40h-7.30M97.40 449.20h-7.30M162.90 894.00v7.30M233.35 894.00v7.30M303.80 894.00v7.30M374.25 894.00v7.30M444.70 894.00v7.30M515.15 894.00v7.30M97.40 855.90h-7.30M97.40 796.55h-7.30M97.40 737.20h-7.30M129.90 1190.20v7.30M214.80 1190.20v7.30M299.70 1190.20v7.30M384.60 1190.20v7.30M469.50 1190.20v7.30M554.40 1190.20v7.30M97.40 1152.30h-7.30M97.40 1092.95h-7.30M97.40 1033.60h-7.30M214.67 54.90v7.30M327.01 54.90v7.30M439.35 54.90v7.30M241.59 1276.85v7.30M375.30 1276.85v7.30M509.00 1276.85v7.30M682.00 301.80v7.30M752.40 301.80v7.30M822.80 301.80v7.30M893.20 301.80v7.30M963.60 301.80v7.30M1034.00 301.80v7.30M1104.40 301.80v7.30M665.70 263.60h-7.30M665.70 216.50h-7.30M665.70 169.40h-7.30M665.70 122.30h-7.30M682.00 597.90v7.30M752.40 597.90v7.30M822.80 597.90v7.30M893.20 597.90v7.30M963.60 597.90v7.30M1034.00 597.90v7.30M1104.40 597.90v7.30M665.70 559.70h-7.30M665.70 512.60h-7.30M665.70 465.50h-7.30M665.70 418.40h-7.30M753.20 894.00v7.30M863.90 894.00v7.30M974.60 894.00v7.30M1085.30 894.00v7.30M665.70 858.40h-7.30M665.70 798.50h-7.30M665.70 738.60h-7.30M682.00 1190.20v7.30M752.40 1190.20v7.30M822.80 1190.20v7.30M893.20 1190.20v7.30M963.60 1190.20v7.30M1034.00 1190.20v7.30M1104.40 1190.20v7.30M665.70 1154.80h-7.30M665.70 1094.90h-7.30M665.70 1035.00h-7.30M786.07 54.90v7.30M899.64 54.90v7.30M1013.20 54.90v7.30M736.10 1276.85v7.30M823.26 1276.85v7.30M910.42 1276.85v7.30M997.59 1276.85v7.30M1084.75 1276.85v7.30M1333.00 301.80v7.30M1449.60 301.80v7.30M1566.20 301.80v7.30M1682.80 301.80v7.30M1233.70 244.40h-7.30M1233.70 186.30h-7.30M1233.70 128.20h-7.30M1333.00 597.90v7.30M1449.60 597.90v7.30M1566.20 597.90v7.30M1682.80 597.90v7.30M1233.70 540.50h-7.30M1233.70 482.40h-7.30M1233.70 424.30h-7.30M1299.80 894.00v7.30M1367.77 894.00v7.30M1435.73 894.00v7.30M1503.70 894.00v7.30M1571.67 894.00v7.30M1639.63 894.00v7.30M1707.60 894.00v7.30M1233.70 884.50h-7.30M1233.70 833.17h-7.30M1233.70 781.83h-7.30M1233.70 730.50h-7.30M1333.00 1190.20v7.30M1449.60 1190.20v7.30M1566.20 1190.20v7.30M1682.80 1190.20v7.30M1233.70 1180.90h-7.30M1233.70 1129.57h-7.30M1233.70 1078.23h-7.30M1233.70 1026.90h-7.30M1329.00 54.90v7.30M1425.99 54.90v7.30M1522.99 54.90v7.30M1619.98 54.90v7.30M1329.00 1276.85v7.30M1416.15 1276.85v7.30M1503.30 1276.85v7.30M1590.45 1276.85v7.30M1677.60 1276.85v7.30" style="stroke:#000;stroke-width:1.67"/>
<text x="129.9" y="331.8" font-size="20.83" text-anchor="middle">1.8</text><text x="214.8" y="331.8" font-size="20.83" text-anchor="middle">2.0</text><text x="299.7" y="331.8" font-size="20.83" text-anchor="middle">2.2</text><text x="384.6" y="331.8" font-size="20.83" text-anchor="middle">2.4</text><text x="469.5" y="331.8" font-size="20.83" text-anchor="middle">2.6</text><text x="554.4" y="331.8" font-size="20.83" text-anchor="middle">2.8</text><text x="83.4" y="237.0" font-size="20.83" text-anchor="end">50</text><text x="83.4" y="161.8" font-size="20.83" text-anchor="end">100</text><text x="334.7" y="361.5" font-size="25" text-anchor="middle"><tspan font-style="italic">S</tspan><tspan font-style="italic" font-size="17.5" dy="-9">VN</tspan></text><text x="129.9" y="627.9" font-size="20.83" text-anchor="middle">1.8</text><text x="214.8" y="627.9" font-size="20.83" text-anchor="middle">2.0</text><text x="299.7" y="627.9" font-size="20.83" text-anchor="middle">2.2</text><text x="384.6" y="627.9" font-size="20.83" text-anchor="middle">2.4</text><text x="469.5" y="627.9" font-size="20.83" text-anchor="middle">2.6</text><text x="554.4" y="627.9" font-size="20.83" text-anchor="middle">2.8</text><text x="83.4" y="533.1" font-size="20.83" text-anchor="end">50</text><text x="83.4" y="457.9" font-size="20.83" text-anchor="end">100</text><text x="334.7" y="657.6" font-size="25" text-anchor="middle"><tspan font-style="italic">S</tspan><tspan font-style="italic" font-size="17.5" dy="-9">VN</tspan></text><text x="162.9" y="924.0" font-size="20.83" text-anchor="middle">20</text><text x="233.4" y="924.0" font-size="20.83" text-anchor="middle">40</text><text x="303.8" y="924.0" font-size="20.83" text-anchor="middle">60</text><text x="374.2" y="924.0" font-size="20.83" text-anchor="middle">80</text><text x="444.7" y="924.0" font-size="20.83" text-anchor="middle">100</text><text x="515.1" y="924.0" font-size="20.83" text-anchor="middle">120</text><text x="83.4" y="864.6" font-size="20.83" text-anchor="end">0.1</text><text x="83.4" y="805.2" font-size="20.83" text-anchor="end">0.2</text><text x="83.4" y="745.9" font-size="20.83" text-anchor="end">0.3</text><text x="334.7" y="952.9" font-size="25" text-anchor="middle"><tspan font-style="italic">Tr</tspan>(Θ)</text><text x="129.9" y="1220.2" font-size="20.83" text-anchor="middle">1.8</text><text x="214.8" y="1220.2" font-size="20.83" text-anchor="middle">2.0</text><text x="299.7" y="1220.2" font-size="20.83" text-anchor="middle">2.2</text><text x="384.6" y="1220.2" font-size="20.83" text-anchor="middle">2.4</text><text x="469.5" y="1220.2" font-size="20.83" text-anchor="middle">2.6</text><text x="554.4" y="1220.2" font-size="20.83" text-anchor="middle">2.8</text><text x="83.4" y="1161.0" font-size="20.83" text-anchor="end">0.1</text><text x="83.4" y="1101.6" font-size="20.83" text-anchor="end">0.2</text><text x="83.4" y="1042.3" font-size="20.83" text-anchor="end">0.3</text><text x="334.7" y="1249.9" font-size="25" text-anchor="middle"><tspan font-style="italic">S</tspan><tspan font-style="italic" font-size="17.5" dy="-9">VN</tspan></text><text x="334.7" y="18.4" font-size="24.3" text-anchor="middle">Fuel</text><text x="214.7" y="85.0" font-size="20.83" text-anchor="middle">0.1</text><text x="327.0" y="85.0" font-size="20.83" text-anchor="middle">0.2</text><text x="439.3" y="85.0" font-size="20.83" text-anchor="middle">0.3</text><text x="100.19" y="54.4" font-size="22" font-weight="bold">ℒ</text><text x="116.7" y="45" font-size="17.5" font-style="italic">min</text><text x="116.9" y="60.6" font-size="17.5" font-style="italic">test</text><text x="241.6" y="1306.9" font-size="20.83" text-anchor="middle">100</text><text x="375.3" y="1306.9" font-size="20.83" text-anchor="middle">200</text><text x="509.0" y="1306.9" font-size="20.83" text-anchor="middle">300</text><text x="152.08" y="1277.05" font-size="25.4" text-anchor="end" font-style="italic" style="font-family:'Liberation Serif','DejaVu Serif',serif">D</text><text x="682.0" y="331.8" font-size="20.83" text-anchor="middle">2.4</text><text x="752.4" y="331.8" font-size="20.83" text-anchor="middle">2.6</text><text x="822.8" y="331.8" font-size="20.83" text-anchor="middle">2.8</text><text x="893.2" y="331.8" font-size="20.83" text-anchor="middle">3.0</text><text x="963.6" y="331.8" font-size="20.83" text-anchor="middle">3.2</text><text x="1034.0" y="331.8" font-size="20.83" text-anchor="middle">3.4</text><text x="1104.4" y="331.8" font-size="20.83" text-anchor="middle">3.6</text><text x="651.7" y="272.3" font-size="20.83" text-anchor="end">20</text><text x="651.7" y="225.2" font-size="20.83" text-anchor="end">40</text><text x="651.7" y="178.1" font-size="20.83" text-anchor="end">60</text><text x="651.7" y="131.0" font-size="20.83" text-anchor="end">80</text><text x="902.9" y="361.5" font-size="25" text-anchor="middle"><tspan font-style="italic">S</tspan><tspan font-style="italic" font-size="17.5" dy="-9">VN</tspan></text><text x="682.0" y="627.9" font-size="20.83" text-anchor="middle">2.4</text><text x="752.4" y="627.9" font-size="20.83" text-anchor="middle">2.6</text><text x="822.8" y="627.9" font-size="20.83" text-anchor="middle">2.8</text><text x="893.2" y="627.9" font-size="20.83" text-anchor="middle">3.0</text><text x="963.6" y="627.9" font-size="20.83" text-anchor="middle">3.2</text><text x="1034.0" y="627.9" font-size="20.83" text-anchor="middle">3.4</text><text x="1104.4" y="627.9" font-size="20.83" text-anchor="middle">3.6</text><text x="651.7" y="568.4" font-size="20.83" text-anchor="end">20</text><text x="651.7" y="521.3" font-size="20.83" text-anchor="end">40</text><text x="651.7" y="474.2" font-size="20.83" text-anchor="end">60</text><text x="651.7" y="427.1" font-size="20.83" text-anchor="end">80</text><text x="902.9" y="657.6" font-size="25" text-anchor="middle"><tspan font-style="italic">S</tspan><tspan font-style="italic" font-size="17.5" dy="-9">VN</tspan></text><text x="753.2" y="924.0" font-size="20.83" text-anchor="middle">20</text><text x="863.9" y="924.0" font-size="20.83" text-anchor="middle">40</text><text x="974.6" y="924.0" font-size="20.83" text-anchor="middle">60</text><text x="1085.3" y="924.0" font-size="20.83" text-anchor="middle">80</text><text x="651.7" y="867.1" font-size="20.83" text-anchor="end">0.02</text><text x="651.7" y="807.2" font-size="20.83" text-anchor="end">0.03</text><text x="651.7" y="747.3" font-size="20.83" text-anchor="end">0.04</text><text x="902.9" y="952.9" font-size="25" text-anchor="middle"><tspan font-style="italic">Tr</tspan>(Θ)</text><text x="682.0" y="1220.2" font-size="20.83" text-anchor="middle">2.4</text><text x="752.4" y="1220.2" font-size="20.83" text-anchor="middle">2.6</text><text x="822.8" y="1220.2" font-size="20.83" text-anchor="middle">2.8</text><text x="893.2" y="1220.2" font-size="20.83" text-anchor="middle">3.0</text><text x="963.6" y="1220.2" font-size="20.83" text-anchor="middle">3.2</text><text x="1034.0" y="1220.2" font-size="20.83" text-anchor="middle">3.4</text><text x="1104.4" y="1220.2" font-size="20.83" text-anchor="middle">3.6</text><text x="651.7" y="1163.5" font-size="20.83" text-anchor="end">0.02</text><text x="651.7" y="1103.6" font-size="20.83" text-anchor="end">0.03</text><text x="651.7" y="1043.7" font-size="20.83" text-anchor="end">0.04</text><text x="902.9" y="1249.9" font-size="25" text-anchor="middle"><tspan font-style="italic">S</tspan><tspan font-style="italic" font-size="17.5" dy="-9">VN</tspan></text><text x="902.9" y="18.4" font-size="24.3" text-anchor="middle">MNIST Dense</text><text x="786.1" y="85.0" font-size="20.83" text-anchor="middle">0.02</text><text x="899.6" y="85.0" font-size="20.83" text-anchor="middle">0.03</text><text x="1013.2" y="85.0" font-size="20.83" text-anchor="middle">0.04</text><text x="675.99" y="54.4" font-size="22" font-weight="bold">ℒ</text><text x="692.5" y="45" font-size="17.5" font-style="italic">min</text><text x="692.7" y="60.6" font-size="17.5" font-style="italic">test</text><text x="736.1" y="1306.9" font-size="20.83" text-anchor="middle">200</text><text x="823.3" y="1306.9" font-size="20.83" text-anchor="middle">400</text><text x="910.4" y="1306.9" font-size="20.83" text-anchor="middle">600</text><text x="997.6" y="1306.9" font-size="20.83" text-anchor="middle">800</text><text x="1084.8" y="1306.9" font-size="20.83" text-anchor="middle">1000</text><text x="727.88" y="1277.05" font-size="25.4" text-anchor="end" font-style="italic" style="font-family:'Liberation Serif','DejaVu Serif',serif">D</text><text x="1333.0" y="331.8" font-size="20.83" text-anchor="middle">0.6</text><text x="1449.6" y="331.8" font-size="20.83" text-anchor="middle">0.8</text><text x="1566.2" y="331.8" font-size="20.83" text-anchor="middle">1.0</text><text x="1682.8" y="331.8" font-size="20.83" text-anchor="middle">1.2</text><text x="1219.7" y="253.1" font-size="20.83" text-anchor="end">50</text><text x="1219.7" y="195.0" font-size="20.83" text-anchor="end">100</text><text x="1219.7" y="136.9" font-size="20.83" text-anchor="end">150</text><text x="1470.8" y="361.5" font-size="25" text-anchor="middle"><tspan font-style="italic">S</tspan><tspan font-style="italic" font-size="17.5" dy="-9">VN</tspan></text><text x="1333.0" y="627.9" font-size="20.83" text-anchor="middle">0.6</text><text x="1449.6" y="627.9" font-size="20.83" text-anchor="middle">0.8</text><text x="1566.2" y="627.9" font-size="20.83" text-anchor="middle">1.0</text><text x="1682.8" y="627.9" font-size="20.83" text-anchor="middle">1.2</text><text x="1219.7" y="549.2" font-size="20.83" text-anchor="end">50</text><text x="1219.7" y="491.1" font-size="20.83" text-anchor="end">100</text><text x="1219.7" y="433.0" font-size="20.83" text-anchor="end">150</text><text x="1470.8" y="657.6" font-size="25" text-anchor="middle"><tspan font-style="italic">S</tspan><tspan font-style="italic" font-size="17.5" dy="-9">VN</tspan></text><text x="1299.8" y="924.0" font-size="20.83" text-anchor="middle">25</text><text x="1367.8" y="924.0" font-size="20.83" text-anchor="middle">50</text><text x="1435.7" y="924.0" font-size="20.83" text-anchor="middle">75</text><text x="1503.7" y="924.0" font-size="20.83" text-anchor="middle">100</text><text x="1571.7" y="924.0" font-size="20.83" text-anchor="middle">125</text><text x="1639.6" y="924.0" font-size="20.83" text-anchor="middle">150</text><text x="1707.6" y="924.0" font-size="20.83" text-anchor="middle">175</text><text x="1219.7" y="893.2" font-size="20.83" text-anchor="end">0.005</text><text x="1219.7" y="841.9" font-size="20.83" text-anchor="end">0.010</text><text x="1219.7" y="790.5" font-size="20.83" text-anchor="end">0.015</text><text x="1219.7" y="739.2" font-size="20.83" text-anchor="end">0.020</text><text x="1470.8" y="952.9" font-size="25" text-anchor="middle"><tspan font-style="italic">Tr</tspan>(Θ)</text><text x="1333.0" y="1220.2" font-size="20.83" text-anchor="middle">0.6</text><text x="1449.6" y="1220.2" font-size="20.83" text-anchor="middle">0.8</text><text x="1566.2" y="1220.2" font-size="20.83" text-anchor="middle">1.0</text><text x="1682.8" y="1220.2" font-size="20.83" text-anchor="middle">1.2</text><text x="1219.7" y="1189.6" font-size="20.83" text-anchor="end">0.005</text><text x="1219.7" y="1138.3" font-size="20.83" text-anchor="end">0.010</text><text x="1219.7" y="1086.9" font-size="20.83" text-anchor="end">0.015</text><text x="1219.7" y="1035.6" font-size="20.83" text-anchor="end">0.020</text><text x="1470.8" y="1249.9" font-size="25" text-anchor="middle"><tspan font-style="italic">S</tspan><tspan font-style="italic" font-size="17.5" dy="-9">VN</tspan></text><text x="1470.8" y="18.4" font-size="24.3" text-anchor="middle">MNIST Convolutional</text><text x="1329.0" y="85.0" font-size="20.83" text-anchor="middle">0.005</text><text x="1426.0" y="85.0" font-size="20.83" text-anchor="middle">0.010</text><text x="1523.0" y="85.0" font-size="20.83" text-anchor="middle">0.015</text><text x="1620.0" y="85.0" font-size="20.83" text-anchor="middle">0.020</text><text x="1268.89" y="54.4" font-size="22" font-weight="bold">ℒ</text><text x="1285.4" y="45" font-size="17.5" font-style="italic">min</text><text x="1285.6" y="60.6" font-size="17.5" font-style="italic">test</text><text x="1329.0" y="1306.9" font-size="20.83" text-anchor="middle">200</text><text x="1416.2" y="1306.9" font-size="20.83" text-anchor="middle">400</text><text x="1503.3" y="1306.9" font-size="20.83" text-anchor="middle">600</text><text x="1590.4" y="1306.9" font-size="20.83" text-anchor="middle">800</text><text x="1677.6" y="1306.9" font-size="20.83" text-anchor="middle">1000</text><text x="1320.78" y="1277.05" font-size="25.4" text-anchor="end" font-style="italic" style="font-family:'Liberation Serif','DejaVu Serif',serif">D</text><text transform="translate(30.9 201.5) rotate(-90)" font-size="25" text-anchor="middle"><tspan font-style="italic">Tr</tspan>(Θ)</text><text transform="translate(30.9 497.6) rotate(-90)" font-size="25" text-anchor="middle"><tspan font-style="italic">Tr</tspan>(Θ)</text><text transform="translate(35.6 827.70) rotate(-90)" font-size="27.5" font-weight="bold">ℒ</text><text transform="translate(40.8 805.30) rotate(-90)" font-size="21.6" font-style="italic">Test</text><text transform="translate(35.6 1124.00) rotate(-90)" font-size="27.5" font-weight="bold">ℒ</text><text transform="translate(40.8 1101.60) rotate(-90)" font-size="21.6" font-style="italic">Test</text>
</svg></body></html>
